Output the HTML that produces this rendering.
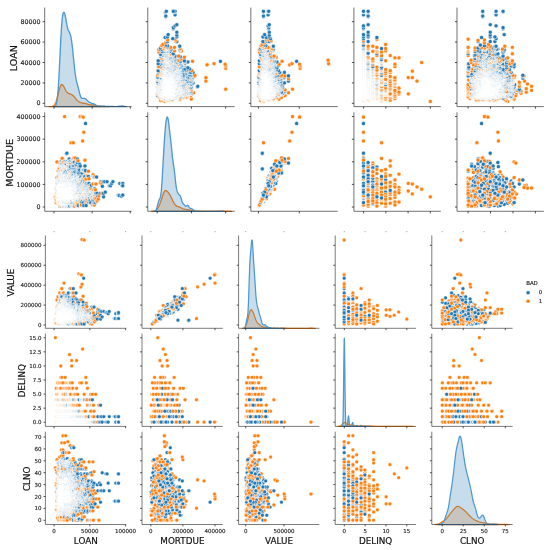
<!DOCTYPE html>
<html><head><meta charset="utf-8"><title>pairplot</title>
<style>
html,body{margin:0;padding:0;background:#fff;width:549px;height:550px;overflow:hidden}
#wrap{position:relative;width:549px;height:550px;filter:blur(0.3px)}
canvas,svg{position:absolute;left:0;top:0}
.sp{fill:none;stroke:#2a2a2a;stroke-width:0.62}
.tk{fill:none;stroke:#111;stroke-width:0.7}
text{font-family:"DejaVu Sans","Liberation Sans",sans-serif;fill:#111;stroke:#111;stroke-width:0.12px}
.yt{font-size:5.5px;text-anchor:end}
.xt{font-size:5.5px;text-anchor:middle}
.lb{font-size:8.8px;text-anchor:middle;stroke-width:0.18px}
.lg{font-size:5.45px}
.T .yt{font-size:5.95px}
.T .lb{font-size:8.95px}
.fw,.f0,.f1{fill:none;stroke-linecap:round}
.fw{stroke:#fff;stroke-width:3.9}
.f0{stroke:#1f77b4;stroke-width:2.6}
.f1{stroke:#ff7f0e;stroke-width:2.6}
</style></head><body><div id="wrap">
<svg width="549" height="550" viewBox="0 0 549 550">
<path d="M56 197h0M56 338h0M56 468h0M158 338h0M165 101h0M250 338h0M263 101h0M407 319h0M407 468h0M430 101h0M430 197h0M479 338h0M508 101h0M161 101h0M261 101h0M381 101h0M506 101h0M167 101h0M264 101h0M390 101h0M495 101h0M56 203h0M56 323h0M56 483h0M154 483h0M160 100h0M248 483h0M260 100h0M468 323h0M496 203h0M56 202h0M56 322h0M56 400h0M56 470h0M154 400h0M154 470h0M161 100h0M248 400h0M248 470h0M261 100h0M361 322h0M381 202h0M478 322h0M506 100h0M506 202h0M56 200h0M56 320h0M56 486h0M163 100h0M494 100h0M56 195h0M56 388h0M56 485h0M369 485h0M390 100h0M495 100h0M56 194h0M56 319h0M56 422h0M56 510h0M57 188h0M57 314h0M57 492h0M171 100h0M268 100h0M490 100h0M165 100h0M264 100h0M381 100h0M57 510h0M167 100h0M263 100h0M364 100h0M476 100h0M180 100h0M273 100h0M368 100h0M496 100h0M57 500h0M268 191h0M483 99h0M57 187h0M57 506h0M479 99h0M57 177h0M57 313h0M180 99h0M268 99h0M57 196h0M57 501h0M482 99h0M57 162h0M57 300h0M57 460h0M183 300h0M183 460h0M191 99h0M265 460h0M279 99h0M279 162h0M485 300h0M514 99h0M514 162h0M57 321h0M57 394h0M57 473h0M160 473h0M365 473h0M386 99h0M476 394h0M504 99h0M504 194h0M57 197h0M57 483h0M165 99h0M264 99h0M496 99h0M57 191h0M57 317h0M169 99h0" class="fw"/>
<path d="M57 191h0M57 317h0M169 99h0" class="f0"/>
<path d="M56 197h0M56 338h0M56 468h0M158 338h0M165 101h0M250 338h0M263 101h0M407 319h0M407 468h0M430 101h0M430 197h0M479 338h0M508 101h0M161 101h0M261 101h0M381 101h0M506 101h0M167 101h0M264 101h0M390 101h0M495 101h0M56 203h0M56 323h0M56 483h0M154 483h0M160 100h0M248 483h0M260 100h0M468 323h0M496 203h0M56 202h0M56 322h0M56 400h0M56 470h0M154 400h0M154 470h0M161 100h0M248 400h0M248 470h0M261 100h0M361 322h0M381 202h0M478 322h0M506 100h0M506 202h0M56 200h0M56 320h0M56 486h0M163 100h0M494 100h0M56 195h0M56 388h0M56 485h0M369 485h0M390 100h0M495 100h0M56 194h0M56 319h0M56 422h0M56 510h0M57 188h0M57 314h0M57 492h0M171 100h0M268 100h0M490 100h0M165 100h0M264 100h0M381 100h0M57 510h0M167 100h0M263 100h0M364 100h0M476 100h0M180 100h0M273 100h0M368 100h0M496 100h0M57 500h0M268 191h0M483 99h0M57 187h0M57 506h0M479 99h0M57 177h0M57 313h0M180 99h0M268 99h0M57 196h0M57 501h0M482 99h0M57 162h0M57 300h0M57 460h0M183 300h0M183 460h0M191 99h0M265 460h0M279 99h0M279 162h0M485 300h0M514 99h0M514 162h0M57 321h0M57 394h0M57 473h0M160 473h0M365 473h0M386 99h0M476 394h0M504 99h0M504 194h0M57 197h0M57 483h0M165 99h0M264 99h0M496 99h0" class="f1"/>
<path d="M57 202h0M57 322h0M57 496h0M161 99h0M261 99h0M486 99h0M57 307h0M57 400h0M57 488h0M273 99h0M381 99h0M492 99h0M57 194h0M57 199h0M57 320h0M57 518h0M156 518h0M163 99h0M249 518h0M262 99h0M444 320h0M470 99h0M470 199h0M57 319h0M57 422h0M57 463h0M250 463h0M263 99h0M364 99h0M483 319h0M511 99h0M57 312h0M57 489h0M172 99h0M269 99h0M491 99h0M57 318h0M57 417h0M57 481h0M167 99h0M265 99h0M368 99h0M498 99h0M58 481h0M498 98h0M58 307h0M58 383h0M58 488h0M260 383h0M260 488h0M274 98h0M373 488h0M395 98h0M465 383h0M492 98h0M490 98h0M162 506h0M267 98h0M479 98h0M479 191h0M58 196h0M166 98h0M58 186h0M173 98h0M373 98h0M58 183h0M175 98h0M58 201h0M58 479h0M162 98h0M500 98h0M172 98h0M491 98h0M177 98h0M271 98h0M58 388h0M58 493h0M369 320h0M369 493h0M390 98h0M462 388h0M489 98h0M58 189h0M58 474h0M171 98h0M503 98h0M58 199h0M58 498h0M157 322h0M261 98h0M485 98h0M58 177h0M172 313h0M172 496h0M180 98h0M268 98h0M268 177h0M486 98h0M486 177h0M58 394h0M386 98h0M475 98h0M158 463h0M264 98h0M511 98h0M511 197h0M58 462h0M162 462h0M169 98h0M357 462h0M377 98h0M483 405h0M512 98h0M512 191h0M487 98h0M58 197h0M58 469h0M165 98h0M361 469h0M381 98h0" class="fw"/>
<path d="M57 312h0M57 489h0M172 99h0M269 99h0M491 99h0M58 183h0M175 98h0M172 98h0M491 98h0M177 98h0M271 98h0M58 189h0M58 474h0M171 98h0M503 98h0M487 98h0" class="f0"/>
<path d="M57 202h0M57 322h0M57 496h0M161 99h0M261 99h0M486 99h0M57 307h0M57 400h0M57 488h0M273 99h0M381 99h0M492 99h0M57 194h0M57 199h0M57 320h0M57 518h0M156 518h0M163 99h0M249 518h0M262 99h0M444 320h0M470 99h0M470 199h0M57 319h0M57 422h0M57 463h0M250 463h0M263 99h0M364 99h0M483 319h0M511 99h0M57 318h0M57 417h0M57 481h0M167 99h0M265 99h0M368 99h0M498 99h0M58 481h0M498 98h0M58 307h0M58 383h0M58 488h0M260 383h0M260 488h0M274 98h0M373 488h0M395 98h0M465 383h0M492 98h0M490 98h0M162 506h0M267 98h0M479 98h0M479 191h0M58 196h0M166 98h0M58 186h0M173 98h0M373 98h0M58 201h0M58 479h0M162 98h0M500 98h0M58 388h0M58 493h0M369 320h0M369 493h0M390 98h0M462 388h0M489 98h0M58 199h0M58 498h0M157 322h0M261 98h0M485 98h0M58 177h0M172 313h0M172 496h0M180 98h0M268 98h0M268 177h0M486 98h0M486 177h0M58 394h0M386 98h0M475 98h0M158 463h0M264 98h0M511 98h0M511 197h0M58 462h0M162 462h0M169 98h0M357 462h0M377 98h0M483 405h0M512 98h0M512 191h0M58 197h0M58 469h0M165 98h0M361 469h0M381 98h0" class="f1"/>
<path d="M507 98h0M58 198h0M164 98h0M263 98h0M269 98h0M482 98h0M265 98h0M480 98h0M163 98h0M262 98h0M368 98h0M478 98h0M167 98h0M266 98h0M364 98h0M484 98h0M58 319h0M154 496h0M248 496h0M459 322h0M58 505h0M480 97h0M58 188h0M58 312h0M58 489h0M256 489h0M464 312h0M58 313h0M58 200h0M58 321h0M58 496h0M155 496h0M486 97h0M486 202h0M58 499h0M58 180h0M58 181h0M58 463h0M58 194h0M58 400h0M58 506h0M479 97h0M58 171h0M58 297h0M176 297h0M176 491h0M184 97h0M267 411h0M267 491h0M282 97h0M282 171h0M353 297h0M373 171h0M463 297h0M491 171h0M58 187h0M58 168h0M58 191h0M58 202h0M154 516h0M248 516h0M472 202h0M58 482h0M59 184h0M58 310h0M58 492h0M58 317h0M58 405h0M58 501h0M58 309h0M58 485h0M166 485h0M258 485h0M272 186h0M495 186h0M58 323h0M59 203h0M160 97h0M247 508h0M260 97h0M451 323h0M58 303h0M58 411h0M58 511h0M178 303h0M186 97h0M263 411h0M263 511h0M277 97h0M277 168h0M353 303h0M449 303h0M58 311h0M58 504h0M58 486h0M494 97h0M58 507h0M248 507h0M478 97h0M58 320h0M58 417h0M58 516h0M472 97h0M58 315h0M58 491h0M58 318h0M58 520h0M58 322h0M58 480h0M59 202h0M161 97h0M499 97h0M58 316h0M58 508h0M58 422h0M58 495h0M174 97h0M175 97h0M59 394h0M59 511h0" class="fw"/>
<path d="M58 198h0M164 98h0M263 98h0M269 98h0M482 98h0M167 98h0M266 98h0M364 98h0M484 98h0M58 319h0M58 188h0M58 312h0M58 489h0M256 489h0M464 312h0M58 313h0M58 499h0M58 180h0M58 181h0M58 463h0M58 187h0M58 191h0M58 311h0M58 320h0M58 315h0M58 491h0M58 322h0M58 480h0M59 202h0M161 97h0M499 97h0M58 316h0M58 508h0M58 422h0M58 495h0M174 97h0M175 97h0" class="f0"/>
<path d="M507 98h0M265 98h0M480 98h0M163 98h0M262 98h0M368 98h0M478 98h0M154 496h0M248 496h0M459 322h0M58 505h0M480 97h0M58 200h0M58 321h0M58 496h0M155 496h0M486 97h0M486 202h0M58 194h0M58 400h0M58 506h0M479 97h0M58 171h0M58 297h0M176 297h0M176 491h0M184 97h0M267 411h0M267 491h0M282 97h0M282 171h0M353 297h0M373 171h0M463 297h0M491 171h0M58 168h0M58 202h0M154 516h0M248 516h0M472 202h0M58 482h0M59 184h0M58 310h0M58 492h0M58 317h0M58 405h0M58 501h0M58 309h0M58 485h0M166 485h0M258 485h0M272 186h0M495 186h0M58 323h0M59 203h0M160 97h0M247 508h0M260 97h0M451 323h0M58 303h0M58 411h0M58 511h0M178 303h0M186 97h0M263 411h0M263 511h0M277 97h0M277 168h0M353 303h0M449 303h0M58 504h0M58 486h0M494 97h0M58 507h0M248 507h0M478 97h0M58 417h0M58 516h0M472 97h0M58 318h0M58 520h0M59 394h0M59 511h0" class="f1"/>
<path d="M157 511h0M365 511h0M386 97h0M449 394h0M475 97h0M475 198h0M507 97h0M484 97h0M59 173h0M59 305h0M175 305h0M183 97h0M275 97h0M275 173h0M169 485h0M259 485h0M495 181h0M59 182h0M169 512h0M176 97h0M257 512h0M368 182h0M448 310h0M474 97h0M474 182h0M159 464h0M510 97h0M510 196h0M268 97h0M269 97h0M172 482h0M497 177h0M169 97h0M377 97h0M495 97h0M490 97h0M165 97h0M163 97h0M481 97h0M481 199h0M172 97h0M166 97h0M265 97h0M483 97h0M259 501h0M273 97h0M456 307h0M249 383h0M262 97h0M373 320h0M373 520h0M395 97h0M442 383h0M497 97h0M59 308h0M59 400h0M59 470h0M381 97h0M506 97h0M59 479h0M171 97h0M267 97h0M368 97h0M500 97h0M59 198h0M164 97h0M263 97h0M173 97h0M270 97h0M487 97h0M167 97h0M266 97h0M477 97h0M59 201h0M59 520h0M155 520h0M162 97h0M248 520h0M261 97h0M442 322h0M468 97h0M468 201h0M177 97h0M271 97h0M511 97h0M168 97h0M264 97h0M373 97h0M482 97h0M178 97h0M274 97h0M59 177h0M180 97h0M272 97h0M364 97h0M491 97h0M59 180h0M59 179h0M178 96h0M260 491h0M274 96h0M59 464h0M166 464h0M482 312h0M510 96h0M59 183h0M59 195h0M493 195h0M164 483h0M496 189h0M59 187h0M59 193h0M59 383h0M251 463h0M373 318h0M373 463h0M395 96h0M395 193h0M483 383h0M511 193h0" class="fw"/>
<path d="M484 97h0M268 97h0M269 97h0M490 97h0M165 97h0M163 97h0M481 97h0M481 199h0M172 97h0M166 97h0M265 97h0M483 97h0M259 501h0M273 97h0M456 307h0M59 198h0M164 97h0M263 97h0M173 97h0M270 97h0M487 97h0M167 97h0M266 97h0M477 97h0M177 97h0M271 97h0M511 97h0M178 97h0M274 97h0M59 177h0M180 97h0M272 97h0M364 97h0M491 97h0M59 180h0M59 183h0M59 187h0" class="f0"/>
<path d="M157 511h0M365 511h0M386 97h0M449 394h0M475 97h0M475 198h0M507 97h0M59 173h0M59 305h0M175 305h0M183 97h0M275 97h0M275 173h0M169 485h0M259 485h0M495 181h0M59 182h0M169 512h0M176 97h0M257 512h0M368 182h0M448 310h0M474 97h0M474 182h0M159 464h0M510 97h0M510 196h0M172 482h0M497 177h0M169 97h0M377 97h0M495 97h0M249 383h0M262 97h0M373 320h0M373 520h0M395 97h0M442 383h0M497 97h0M59 308h0M59 400h0M59 470h0M381 97h0M506 97h0M59 479h0M171 97h0M267 97h0M368 97h0M500 97h0M59 201h0M59 520h0M155 520h0M162 97h0M248 520h0M261 97h0M442 322h0M468 97h0M468 201h0M168 97h0M264 97h0M373 97h0M482 97h0M59 179h0M178 96h0M260 491h0M274 96h0M59 464h0M166 464h0M482 312h0M510 96h0M59 195h0M493 195h0M164 483h0M496 189h0M59 193h0M59 383h0M251 463h0M373 318h0M373 463h0M395 96h0M395 193h0M483 383h0M511 193h0" class="f1"/>
<path d="M59 186h0M162 96h0M59 388h0M59 517h0M167 388h0M167 517h0M257 517h0M369 517h0M390 96h0M390 185h0M445 310h0M445 388h0M471 96h0M471 185h0M59 516h0M472 96h0M59 486h0M494 96h0M494 196h0M59 185h0M59 312h0M59 189h0M59 191h0M59 496h0M486 96h0M59 501h0M59 181h0M59 310h0M59 463h0M169 463h0M257 463h0M483 310h0M511 96h0M511 181h0M59 194h0M59 318h0M167 96h0M59 500h0M59 168h0M59 513h0M178 307h0M178 411h0M178 513h0M186 96h0M273 168h0M353 513h0M447 307h0M447 411h0M473 96h0M473 168h0M59 197h0M59 200h0M471 317h0M59 196h0M59 492h0M59 190h0M59 192h0M59 199h0M59 188h0M59 319h0M59 477h0M500 96h0M59 309h0M59 502h0M174 96h0M59 472h0M505 96h0M59 314h0M59 469h0M159 314h0M268 195h0M507 96h0M59 504h0M481 96h0M59 474h0M503 96h0M59 485h0M495 96h0M59 311h0M59 495h0M173 96h0M59 307h0M59 489h0M168 489h0M175 96h0M259 489h0M273 96h0M464 307h0M59 322h0M59 480h0M161 96h0M499 96h0M59 303h0M59 505h0M182 96h0M277 96h0M480 96h0M59 483h0M496 96h0M59 417h0M59 481h0M261 96h0M498 96h0M59 499h0M170 96h0M484 96h0M59 494h0M59 512h0M268 96h0M474 96h0M59 324h0M59 510h0M60 206h0M158 96h0M259 96h0M476 96h0M59 313h0M269 96h0M59 487h0M493 96h0" class="fw"/>
<path d="M59 186h0M162 96h0M59 189h0M59 501h0M59 181h0M59 310h0M59 463h0M169 463h0M257 463h0M483 310h0M511 96h0M511 181h0M59 194h0M59 318h0M167 96h0M59 500h0M59 200h0M59 196h0M59 492h0M59 190h0M59 192h0M59 199h0M59 188h0M59 319h0M59 477h0M500 96h0M59 309h0M59 314h0M59 469h0M159 314h0M268 195h0M507 96h0M59 504h0M481 96h0M59 474h0M503 96h0M59 485h0M495 96h0M59 311h0M59 495h0M173 96h0M59 322h0M59 480h0M161 96h0M499 96h0M59 303h0M59 505h0M182 96h0M277 96h0M480 96h0M59 483h0M496 96h0M59 499h0M170 96h0M484 96h0M59 494h0M59 324h0M59 510h0M60 206h0M158 96h0M259 96h0M476 96h0M59 487h0M493 96h0" class="f0"/>
<path d="M59 388h0M59 517h0M167 388h0M167 517h0M257 517h0M369 517h0M390 96h0M390 185h0M445 310h0M445 388h0M471 96h0M471 185h0M59 516h0M472 96h0M59 486h0M494 96h0M494 196h0M59 185h0M59 312h0M59 191h0M59 496h0M486 96h0M59 168h0M59 513h0M178 307h0M178 411h0M178 513h0M186 96h0M273 168h0M353 513h0M447 307h0M447 411h0M473 96h0M473 168h0M59 197h0M471 317h0M59 502h0M174 96h0M59 472h0M505 96h0M59 307h0M59 489h0M168 489h0M175 96h0M259 489h0M273 96h0M464 307h0M59 417h0M59 481h0M261 96h0M498 96h0M59 512h0M268 96h0M474 96h0M59 313h0M269 96h0" class="f1"/>
<path d="M59 323h0M59 488h0M160 96h0M260 96h0M492 96h0M59 317h0M59 491h0M168 96h0M265 96h0M59 300h0M59 507h0M60 166h0M180 507h0M188 96h0M265 507h0M279 96h0M451 300h0M478 96h0M478 166h0M59 320h0M59 498h0M165 96h0M485 96h0M59 315h0M59 405h0M59 482h0M169 96h0M267 96h0M377 96h0M377 191h0M497 191h0M59 321h0M59 411h0M59 506h0M479 96h0M59 316h0M59 422h0M59 508h0M477 96h0M487 96h0M156 482h0M163 96h0M263 96h0M497 96h0M497 200h0M275 96h0M483 96h0M166 96h0M264 96h0M482 96h0M164 96h0M262 96h0M368 96h0M491 96h0M177 96h0M271 96h0M373 96h0M172 96h0M270 96h0M490 96h0M171 96h0M266 96h0M364 96h0M488 96h0M492 95h0M171 516h0M259 516h0M348 307h0M446 307h0M472 179h0M480 185h0M60 181h0M60 481h0M498 95h0M60 163h0M60 293h0M60 457h0M182 293h0M182 411h0M182 457h0M191 95h0M270 411h0M270 457h0M285 95h0M285 163h0M353 293h0M353 457h0M373 163h0M487 293h0M487 411h0M516 95h0M516 163h0M255 512h0M448 313h0M485 201h0M60 173h0M60 304h0M175 501h0M262 411h0M262 501h0M276 95h0M353 304h0M373 173h0M456 304h0M164 513h0M361 513h0M447 400h0M473 188h0M60 174h0M277 95h0M60 182h0M168 505h0M453 307h0M480 182h0M60 516h0M472 95h0M472 192h0M60 520h0M468 95h0M471 313h0" class="fw"/>
<path d="M275 96h0M483 96h0M166 96h0M264 96h0M482 96h0M177 96h0M271 96h0M373 96h0M172 96h0M270 96h0M490 96h0M492 95h0M60 181h0M60 481h0M498 95h0M60 174h0M277 95h0M60 516h0M472 95h0M472 192h0" class="f0"/>
<path d="M59 323h0M59 488h0M160 96h0M260 96h0M492 96h0M59 317h0M59 491h0M168 96h0M265 96h0M59 300h0M59 507h0M60 166h0M180 507h0M188 96h0M265 507h0M279 96h0M451 300h0M478 96h0M478 166h0M59 320h0M59 498h0M165 96h0M485 96h0M59 315h0M59 405h0M59 482h0M169 96h0M267 96h0M377 96h0M377 191h0M497 191h0M59 321h0M59 411h0M59 506h0M479 96h0M59 316h0M59 422h0M59 508h0M477 96h0M487 96h0M156 482h0M163 96h0M263 96h0M497 96h0M497 200h0M164 96h0M262 96h0M368 96h0M491 96h0M171 96h0M266 96h0M364 96h0M488 96h0M171 516h0M259 516h0M348 307h0M446 307h0M472 179h0M480 185h0M60 163h0M60 293h0M60 457h0M182 293h0M182 411h0M182 457h0M191 95h0M270 411h0M270 457h0M285 95h0M285 163h0M353 293h0M353 457h0M373 163h0M487 293h0M487 411h0M516 95h0M516 163h0M255 512h0M448 313h0M485 201h0M60 173h0M60 304h0M175 501h0M262 411h0M262 501h0M276 95h0M353 304h0M373 173h0M456 304h0M164 513h0M361 513h0M447 400h0M473 188h0M60 182h0M168 505h0M453 307h0M480 182h0M60 520h0M468 95h0M471 313h0" class="f1"/>
<path d="M497 187h0M60 175h0M182 95h0M153 400h0M153 511h0M247 400h0M361 323h0M361 511h0M381 203h0M449 323h0M449 400h0M475 203h0M60 203h0M160 95h0M260 95h0M156 480h0M353 480h0M471 411h0M499 200h0M60 177h0M60 307h0M60 475h0M172 475h0M502 95h0M502 177h0M60 470h0M259 470h0M361 470h0M478 400h0M506 95h0M60 180h0M170 411h0M373 180h0M490 180h0M271 95h0M60 205h0M60 324h0M152 494h0M159 95h0M259 95h0M488 205h0M60 171h0M60 472h0M255 472h0M477 313h0M505 95h0M164 474h0M475 313h0M503 95h0M503 189h0M179 95h0M489 179h0M60 186h0M60 185h0M60 200h0M386 200h0M60 514h0M163 95h0M251 388h0M369 477h0M390 199h0M472 388h0M497 95h0M60 477h0M159 477h0M500 95h0M60 188h0M499 95h0M60 193h0M390 192h0M60 202h0M60 322h0M155 489h0M161 95h0M368 202h0M491 202h0M60 463h0M511 95h0M60 199h0M479 95h0M60 189h0M60 400h0M381 95h0M60 183h0M60 310h0M60 187h0M60 462h0M512 95h0M60 198h0M60 469h0M507 95h0M476 191h0M489 95h0M60 194h0M60 179h0M171 405h0M171 494h0M178 95h0M377 95h0M377 179h0M488 179h0M60 190h0M487 95h0M477 95h0M60 195h0M60 201h0M155 507h0M162 95h0M262 95h0M478 201h0M60 184h0M175 95h0M60 196h0M483 95h0M60 191h0M495 95h0M60 197h0M60 192h0M60 483h0M168 95h0" class="fw"/>
<path d="M497 187h0M60 175h0M182 95h0M60 180h0M170 411h0M373 180h0M490 180h0M271 95h0M60 171h0M164 474h0M475 313h0M503 95h0M503 189h0M60 186h0M60 185h0M60 514h0M497 95h0M60 477h0M159 477h0M500 95h0M60 188h0M499 95h0M60 193h0M60 463h0M511 95h0M60 199h0M479 95h0M60 189h0M60 400h0M381 95h0M60 183h0M60 310h0M60 187h0M60 462h0M512 95h0M60 198h0M60 469h0M507 95h0M489 95h0M60 194h0M60 190h0M487 95h0M477 95h0M60 184h0M175 95h0M60 196h0M483 95h0M60 191h0M495 95h0M60 197h0M60 192h0M60 483h0M168 95h0" class="f0"/>
<path d="M153 400h0M153 511h0M247 400h0M361 323h0M361 511h0M381 203h0M449 323h0M449 400h0M475 203h0M60 203h0M160 95h0M260 95h0M156 480h0M353 480h0M471 411h0M499 200h0M60 177h0M60 307h0M60 475h0M172 475h0M502 95h0M502 177h0M60 470h0M259 470h0M361 470h0M478 400h0M506 95h0M60 205h0M60 324h0M152 494h0M159 95h0M259 95h0M488 205h0M60 472h0M255 472h0M477 313h0M505 95h0M179 95h0M489 179h0M60 200h0M386 200h0M163 95h0M251 388h0M369 477h0M390 199h0M472 388h0M390 192h0M60 202h0M60 322h0M155 489h0M161 95h0M368 202h0M491 202h0M476 191h0M60 179h0M171 405h0M171 494h0M178 95h0M377 95h0M377 179h0M488 179h0M60 195h0M60 201h0M155 507h0M162 95h0M262 95h0M478 201h0" class="f1"/>
<path d="M496 95h0M473 95h0M60 394h0M264 95h0M365 505h0M386 95h0M453 394h0M480 95h0M173 95h0M170 95h0M491 95h0M481 95h0M172 95h0M476 95h0M268 95h0M60 308h0M60 511h0M177 95h0M273 95h0M475 95h0M60 486h0M494 95h0M169 95h0M265 95h0M504 95h0M167 95h0M183 95h0M486 95h0M166 95h0M266 95h0M488 95h0M172 498h0M180 95h0M261 411h0M274 95h0M373 95h0M458 306h0M485 95h0M485 177h0M176 95h0M165 95h0M493 95h0M184 95h0M279 95h0M490 95h0M269 95h0M171 95h0M267 95h0M164 95h0M263 95h0M364 95h0M478 95h0M60 311h0M270 95h0M368 95h0M484 95h0M60 383h0M60 512h0M167 383h0M167 512h0M174 95h0M258 512h0M272 95h0M395 95h0M395 185h0M448 309h0M474 95h0M474 185h0M60 388h0M249 388h0M261 95h0M369 321h0M369 501h0M390 95h0M456 388h0M482 95h0M60 473h0M60 510h0M60 488h0M60 312h0M60 474h0M60 314h0M165 508h0M60 494h0M161 494h0M60 500h0M60 495h0M60 306h0M60 513h0M172 513h0M260 513h0M447 306h0M473 177h0M60 301h0M180 502h0M264 502h0M278 165h0M364 165h0M455 301h0M482 165h0M60 405h0M60 496h0M60 296h0M60 498h0M60 317h0M60 508h0M60 504h0M60 507h0M60 319h0M60 502h0M60 323h0M60 493h0M60 485h0M60 479h0M250 479h0M60 501h0M60 320h0M60 506h0M479 199h0M60 480h0" class="fw"/>
<path d="M496 95h0M473 95h0M173 95h0M170 95h0M491 95h0M481 95h0M172 95h0M476 95h0M268 95h0M60 308h0M60 511h0M177 95h0M273 95h0M475 95h0M60 486h0M494 95h0M167 95h0M183 95h0M486 95h0M166 95h0M266 95h0M488 95h0M184 95h0M279 95h0M490 95h0M269 95h0M164 95h0M263 95h0M364 95h0M478 95h0M60 311h0M270 95h0M368 95h0M484 95h0M60 510h0M60 488h0M60 312h0M60 474h0M60 314h0M165 508h0M60 494h0M161 494h0M60 500h0M60 498h0M60 317h0M60 508h0M60 504h0M60 319h0M60 485h0M60 501h0M60 320h0M60 506h0M479 199h0M60 480h0" class="f0"/>
<path d="M60 394h0M264 95h0M365 505h0M386 95h0M453 394h0M480 95h0M169 95h0M265 95h0M504 95h0M172 498h0M180 95h0M261 411h0M274 95h0M373 95h0M458 306h0M485 95h0M485 177h0M176 95h0M165 95h0M493 95h0M171 95h0M267 95h0M60 383h0M60 512h0M167 383h0M167 512h0M174 95h0M258 512h0M272 95h0M395 95h0M395 185h0M448 309h0M474 95h0M474 185h0M60 388h0M249 388h0M261 95h0M369 321h0M369 501h0M390 95h0M456 388h0M482 95h0M60 473h0M60 495h0M60 306h0M60 513h0M172 513h0M260 513h0M447 306h0M473 177h0M60 301h0M180 502h0M264 502h0M278 165h0M364 165h0M455 301h0M482 165h0M60 405h0M60 496h0M60 296h0M60 507h0M60 502h0M60 323h0M60 493h0M60 479h0M250 479h0" class="f1"/>
<path d="M60 313h0M60 411h0M60 417h0M60 315h0M60 499h0M60 305h0M60 482h0M61 176h0M181 94h0M60 300h0M60 492h0M184 94h0M279 94h0M60 321h0M60 487h0M60 303h0M60 309h0M60 489h0M60 316h0M60 491h0M60 318h0M60 422h0M60 505h0M497 94h0M469 94h0M169 481h0M498 94h0M498 181h0M174 505h0M263 505h0M277 94h0M277 174h0M453 303h0M480 174h0M163 499h0M484 190h0M503 94h0M348 473h0M476 417h0M504 94h0M61 366h0M162 366h0M253 366h0M386 315h0M386 504h0M408 94h0M408 191h0M454 366h0M61 165h0M180 296h0M180 411h0M180 506h0M189 94h0M268 411h0M268 506h0M282 165h0M353 296h0M373 165h0M452 296h0M479 165h0M151 510h0M246 510h0M450 324h0M476 206h0M61 202h0M161 94h0M164 94h0M474 94h0M183 94h0M159 94h0M489 204h0M61 175h0M61 180h0M170 305h0M170 500h0M177 94h0M275 180h0M483 180h0M493 199h0M483 195h0M493 94h0M361 516h0M381 94h0M272 94h0M61 183h0M168 499h0M270 183h0M484 183h0M61 166h0M61 301h0M180 301h0M180 501h0M188 94h0M264 501h0M278 94h0M456 301h0M482 166h0M180 94h0M61 206h0M158 94h0M246 520h0M259 94h0M468 206h0M472 319h0M479 94h0M160 388h0M369 316h0M480 94h0M175 94h0M262 94h0M166 513h0M473 94h0M495 94h0M508 94h0M173 94h0M61 174h0M182 94h0M274 94h0M164 520h0M254 520h0" class="fw"/>
<path d="M60 305h0M60 482h0M61 176h0M181 94h0M60 300h0M60 492h0M184 94h0M279 94h0M60 321h0M60 487h0M60 303h0M60 309h0M60 489h0M60 316h0M60 491h0M60 318h0M60 422h0M60 505h0M497 94h0M169 481h0M498 94h0M498 181h0M174 505h0M263 505h0M277 94h0M277 174h0M453 303h0M480 174h0M503 94h0M151 510h0M246 510h0M450 324h0M476 206h0M164 94h0M183 94h0M61 175h0M61 180h0M170 305h0M170 500h0M177 94h0M275 180h0M483 180h0M493 199h0M272 94h0M180 94h0M472 319h0M175 94h0M262 94h0M166 513h0M473 94h0M495 94h0M508 94h0M173 94h0" class="f0"/>
<path d="M60 313h0M60 411h0M60 417h0M60 315h0M60 499h0M469 94h0M163 499h0M484 190h0M348 473h0M476 417h0M504 94h0M61 366h0M162 366h0M253 366h0M386 315h0M386 504h0M408 94h0M408 191h0M454 366h0M61 165h0M180 296h0M180 411h0M180 506h0M189 94h0M268 411h0M268 506h0M282 165h0M353 296h0M373 165h0M452 296h0M479 165h0M61 202h0M161 94h0M474 94h0M159 94h0M489 204h0M483 195h0M493 94h0M361 516h0M381 94h0M61 183h0M168 499h0M270 183h0M484 183h0M61 166h0M61 301h0M180 301h0M180 501h0M188 94h0M264 501h0M278 94h0M456 301h0M482 166h0M61 206h0M158 94h0M246 520h0M259 94h0M468 206h0M479 94h0M160 388h0M369 316h0M480 94h0M61 174h0M182 94h0M274 94h0M164 520h0M254 520h0" class="f1"/>
<path d="M442 314h0M468 94h0M468 188h0M61 377h0M165 377h0M257 377h0M378 311h0M378 496h0M399 94h0M399 188h0M459 377h0M471 314h0M270 94h0M492 94h0M512 94h0M489 94h0M490 94h0M163 480h0M499 190h0M61 388h0M61 516h0M253 516h0M267 94h0M369 516h0M390 94h0M446 388h0M472 94h0M162 94h0M373 94h0M476 94h0M170 94h0M481 94h0M61 185h0M174 94h0M271 94h0M499 94h0M386 94h0M61 164h0M190 94h0M281 94h0M478 94h0M263 94h0M483 94h0M273 94h0M61 161h0M192 94h0M282 94h0M187 94h0M275 94h0M377 94h0M171 94h0M269 94h0M511 94h0M61 195h0M167 94h0M477 94h0M169 94h0M368 94h0M496 94h0M172 94h0M268 94h0M484 94h0M500 94h0M163 94h0M261 94h0M488 94h0M61 182h0M176 94h0M485 94h0M165 94h0M264 94h0M491 94h0M494 94h0M168 94h0M266 94h0M487 94h0M61 204h0M153 496h0M160 94h0M247 496h0M260 94h0M459 323h0M486 94h0M486 204h0M166 94h0M265 94h0M364 94h0M482 94h0M466 311h0M61 177h0M251 511h0M357 511h0M449 319h0M449 405h0M61 184h0M167 488h0M492 184h0M61 188h0M61 479h0M166 479h0M61 519h0M164 519h0M255 519h0M443 313h0M469 93h0M469 189h0M61 181h0M61 511h0M475 93h0M61 201h0M61 322h0M155 510h0M450 322h0M476 201h0M61 199h0M61 171h0M61 194h0M61 167h0M61 173h0M61 189h0" class="fw"/>
<path d="M471 314h0M270 94h0M492 94h0M512 94h0M489 94h0M490 94h0M163 480h0M499 190h0M170 94h0M481 94h0M61 185h0M174 94h0M271 94h0M499 94h0M61 164h0M190 94h0M281 94h0M478 94h0M263 94h0M483 94h0M61 161h0M192 94h0M282 94h0M187 94h0M275 94h0M377 94h0M171 94h0M269 94h0M61 195h0M167 94h0M477 94h0M169 94h0M368 94h0M496 94h0M172 94h0M268 94h0M484 94h0M500 94h0M163 94h0M261 94h0M488 94h0M61 182h0M176 94h0M485 94h0M165 94h0M264 94h0M491 94h0M494 94h0M168 94h0M266 94h0M487 94h0M166 94h0M265 94h0M364 94h0M482 94h0M61 177h0M61 184h0M167 488h0M492 184h0M61 188h0M61 479h0M166 479h0M61 181h0M61 511h0M475 93h0M61 199h0M61 167h0M61 173h0M61 189h0" class="f0"/>
<path d="M442 314h0M468 94h0M468 188h0M61 377h0M165 377h0M257 377h0M378 311h0M378 496h0M399 94h0M399 188h0M459 377h0M61 388h0M61 516h0M253 516h0M267 94h0M369 516h0M390 94h0M446 388h0M472 94h0M162 94h0M373 94h0M476 94h0M386 94h0M273 94h0M511 94h0M61 204h0M153 496h0M160 94h0M247 496h0M260 94h0M459 323h0M486 94h0M486 204h0M466 311h0M251 511h0M357 511h0M449 319h0M449 405h0M61 519h0M164 519h0M255 519h0M443 313h0M469 93h0M469 189h0M61 201h0M61 322h0M155 510h0M450 322h0M476 201h0M61 171h0M61 194h0" class="f1"/>
<path d="M61 193h0M61 190h0M61 191h0M463 307h0M61 197h0M61 200h0M61 196h0M61 198h0M61 192h0M61 187h0M61 186h0M166 500h0M61 203h0M61 508h0M61 308h0M181 93h0M61 462h0M512 93h0M159 513h0M447 319h0M62 201h0M61 324h0M61 296h0M61 498h0M62 161h0M184 498h0M192 93h0M268 498h0M282 93h0M282 161h0M458 296h0M485 93h0M485 161h0M494 186h0M61 487h0M61 475h0M502 93h0M160 477h0M61 450h0M521 93h0M61 510h0M450 316h0M476 93h0M61 472h0M61 303h0M61 513h0M62 169h0M177 303h0M177 394h0M177 513h0M186 93h0M263 394h0M263 513h0M277 93h0M277 169h0M365 303h0M365 513h0M386 169h0M447 303h0M447 394h0M473 169h0M61 514h0M473 93h0M61 323h0M61 473h0M61 512h0M61 298h0M61 405h0M175 298h0M175 405h0M266 405h0M357 298h0M357 494h0M377 173h0M461 405h0M61 297h0M190 93h0M281 93h0M61 312h0M497 188h0M61 506h0M61 305h0M61 504h0M61 500h0M483 93h0M61 507h0M61 480h0M61 411h0M61 520h0M62 178h0M179 93h0M468 93h0M61 321h0M61 481h0M498 200h0M61 491h0M61 288h0M61 400h0M61 505h0M61 501h0M61 456h0M251 456h0M488 318h0M517 93h0M61 485h0M495 93h0M61 469h0M61 517h0M161 517h0M252 517h0M445 317h0M471 93h0M471 193h0M61 309h0M62 179h0M178 93h0M61 493h0M61 494h0M61 310h0M61 499h0" class="fw"/>
<path d="M61 193h0M61 190h0M61 191h0M61 197h0M61 200h0M61 196h0M61 192h0M61 187h0M61 203h0M61 508h0M61 462h0M512 93h0M159 513h0M447 319h0M62 201h0M61 296h0M61 498h0M62 161h0M184 498h0M192 93h0M268 498h0M282 93h0M282 161h0M458 296h0M485 93h0M485 161h0M61 510h0M450 316h0M476 93h0M61 514h0M473 93h0M61 323h0M61 473h0M61 297h0M190 93h0M281 93h0M61 312h0M497 188h0M61 507h0M61 480h0M61 491h0M61 485h0M495 93h0M61 469h0M61 493h0M61 310h0M61 499h0" class="f0"/>
<path d="M463 307h0M61 198h0M61 186h0M166 500h0M61 308h0M181 93h0M61 324h0M494 186h0M61 487h0M61 475h0M502 93h0M160 477h0M61 450h0M521 93h0M61 472h0M61 303h0M61 513h0M62 169h0M177 303h0M177 394h0M177 513h0M186 93h0M263 394h0M263 513h0M277 93h0M277 169h0M365 303h0M365 513h0M386 169h0M447 303h0M447 394h0M473 169h0M61 512h0M61 298h0M61 405h0M175 298h0M175 405h0M266 405h0M357 298h0M357 494h0M377 173h0M461 405h0M61 506h0M61 305h0M61 504h0M61 500h0M483 93h0M61 411h0M61 520h0M62 178h0M179 93h0M468 93h0M61 321h0M61 481h0M498 200h0M61 288h0M61 400h0M61 505h0M61 501h0M61 456h0M251 456h0M488 318h0M517 93h0M61 517h0M161 517h0M252 517h0M445 317h0M471 93h0M471 193h0M61 309h0M62 179h0M178 93h0M61 494h0" class="f1"/>
<path d="M271 93h0M61 311h0M61 502h0M175 93h0M61 315h0M61 489h0M61 307h0M61 314h0M61 483h0M61 463h0M511 93h0M61 394h0M61 492h0M386 93h0M61 488h0M61 474h0M503 93h0M61 482h0M61 496h0M61 316h0M61 467h0M508 93h0M61 317h0M61 319h0M61 417h0M61 306h0M187 93h0M61 313h0M61 495h0M269 93h0M487 184h0M61 320h0M61 486h0M494 93h0M61 318h0M61 422h0M61 477h0M500 93h0M488 93h0M168 93h0M504 93h0M176 93h0M158 383h0M250 383h0M373 506h0M395 93h0M395 197h0M452 383h0M479 93h0M182 93h0M153 405h0M153 489h0M247 405h0M357 489h0M377 93h0M464 405h0M261 93h0M255 487h0M466 313h0M493 93h0M486 93h0M156 502h0M163 93h0M174 93h0M478 93h0M252 512h0M353 512h0M448 316h0M448 411h0M474 93h0M489 93h0M161 93h0M263 202h0M480 202h0M272 93h0M496 93h0M496 198h0M499 93h0M507 93h0M167 93h0M497 93h0M164 501h0M166 93h0M264 93h0M172 93h0M62 171h0M177 504h0M185 93h0M275 93h0M275 171h0M481 171h0M490 93h0M160 93h0M260 93h0M165 93h0M492 93h0M62 159h0M62 288h0M185 288h0M185 400h0M185 505h0M194 93h0M274 400h0M274 505h0M288 93h0M288 159h0M361 288h0M381 93h0M381 159h0M453 288h0M480 93h0M480 159h0M159 93h0M259 93h0M484 93h0M155 504h0M162 93h0M454 321h0M164 93h0M262 93h0" class="fw"/>
<path d="M271 93h0M61 311h0M61 502h0M175 93h0M61 315h0M61 489h0M61 307h0M61 314h0M61 483h0M61 463h0M511 93h0M61 488h0M61 482h0M61 496h0M61 316h0M61 467h0M508 93h0M61 317h0M61 306h0M187 93h0M61 313h0M61 495h0M269 93h0M487 184h0M61 320h0M61 486h0M494 93h0M61 318h0M61 422h0M61 477h0M500 93h0M488 93h0M168 93h0M504 93h0M176 93h0M182 93h0M261 93h0M486 93h0M174 93h0M478 93h0M489 93h0M272 93h0M499 93h0M507 93h0M166 93h0M264 93h0M172 93h0M160 93h0M260 93h0M164 93h0M262 93h0" class="f0"/>
<path d="M61 394h0M61 492h0M386 93h0M61 474h0M503 93h0M61 319h0M61 417h0M158 383h0M250 383h0M373 506h0M395 93h0M395 197h0M452 383h0M479 93h0M153 405h0M153 489h0M247 405h0M357 489h0M377 93h0M464 405h0M255 487h0M466 313h0M493 93h0M156 502h0M163 93h0M252 512h0M353 512h0M448 316h0M448 411h0M474 93h0M161 93h0M263 202h0M480 202h0M496 93h0M496 198h0M167 93h0M497 93h0M164 501h0M62 171h0M177 504h0M185 93h0M275 93h0M275 171h0M481 171h0M490 93h0M165 93h0M492 93h0M62 159h0M62 288h0M185 288h0M185 400h0M185 505h0M194 93h0M274 400h0M274 505h0M288 93h0M288 159h0M361 288h0M381 93h0M381 159h0M453 288h0M480 93h0M480 159h0M159 93h0M259 93h0M484 93h0M155 504h0M162 93h0M454 321h0" class="f1"/>
<path d="M171 93h0M268 93h0M481 93h0M62 173h0M183 93h0M274 93h0M263 93h0M487 93h0M162 491h0M169 93h0M180 93h0M273 93h0M498 93h0M170 311h0M177 93h0M270 93h0M270 180h0M482 93h0M165 472h0M173 93h0M254 472h0M267 93h0M348 472h0M368 93h0M477 314h0M477 417h0M505 93h0M505 187h0M265 93h0M364 93h0M491 93h0M163 508h0M170 93h0M266 93h0M353 508h0M373 93h0M477 93h0M477 190h0M62 204h0M477 197h0M495 191h0M373 194h0M353 475h0M474 411h0M502 190h0M251 508h0M253 467h0M480 316h0M508 192h0M502 92h0M365 500h0M457 394h0M62 472h0M156 472h0M248 472h0M477 321h0M505 92h0M505 200h0M508 92h0M62 164h0M62 297h0M182 297h0M182 507h0M190 92h0M267 507h0M281 92h0M281 164h0M451 297h0M478 164h0M163 394h0M253 394h0M253 479h0M365 315h0M365 479h0M386 190h0M472 394h0M62 175h0M62 383h0M252 383h0M373 317h0M373 489h0M395 92h0M464 383h0M62 180h0M157 514h0M473 198h0M62 200h0M62 182h0M168 488h0M492 182h0M62 188h0M62 443h0M164 443h0M256 443h0M344 443h0M497 311h0M497 422h0M526 92h0M526 188h0M62 196h0M62 199h0M62 184h0M62 191h0M62 187h0M62 513h0M62 190h0M62 183h0M168 491h0M176 92h0M491 183h0M62 205h0M259 92h0M62 181h0M62 511h0M170 511h0M177 92h0M259 511h0M449 308h0M475 92h0M475 181h0" class="fw"/>
<path d="M171 93h0M268 93h0M481 93h0M62 173h0M183 93h0M274 93h0M180 93h0M273 93h0M498 93h0M265 93h0M364 93h0M491 93h0M62 204h0M495 191h0M373 194h0M251 508h0M253 467h0M480 316h0M508 192h0M62 472h0M156 472h0M248 472h0M477 321h0M505 92h0M505 200h0M508 92h0M62 164h0M62 297h0M182 297h0M182 507h0M190 92h0M267 507h0M281 92h0M281 164h0M451 297h0M478 164h0M62 175h0M62 180h0M157 514h0M473 198h0M62 200h0M62 182h0M168 488h0M492 182h0M62 196h0M62 199h0M62 184h0M62 191h0M62 187h0M62 513h0M62 181h0M62 511h0M170 511h0M177 92h0M259 511h0M449 308h0M475 92h0M475 181h0" class="f0"/>
<path d="M263 93h0M487 93h0M162 491h0M169 93h0M170 311h0M177 93h0M270 93h0M270 180h0M482 93h0M165 472h0M173 93h0M254 472h0M267 93h0M348 472h0M368 93h0M477 314h0M477 417h0M505 93h0M505 187h0M163 508h0M170 93h0M266 93h0M353 508h0M373 93h0M477 93h0M477 190h0M477 197h0M353 475h0M474 411h0M502 190h0M502 92h0M365 500h0M457 394h0M163 394h0M253 394h0M253 479h0M365 315h0M365 479h0M386 190h0M472 394h0M62 383h0M252 383h0M373 317h0M373 489h0M395 92h0M464 383h0M62 188h0M62 443h0M164 443h0M256 443h0M344 443h0M497 311h0M497 422h0M526 92h0M526 188h0M62 190h0M62 183h0M168 491h0M176 92h0M491 183h0M62 205h0M259 92h0" class="f1"/>
<path d="M154 487h0M248 487h0M357 322h0M357 487h0M377 202h0M466 322h0M466 405h0M493 202h0M62 185h0M62 174h0M174 377h0M174 488h0M182 92h0M261 377h0M261 488h0M378 306h0M378 488h0M399 174h0M465 306h0M465 377h0M492 174h0M62 203h0M247 489h0M464 323h0M62 202h0M154 480h0M161 92h0M248 480h0M471 322h0M499 202h0M62 197h0M62 192h0M62 189h0M62 167h0M179 405h0M179 498h0M261 498h0M377 167h0M458 305h0M485 167h0M62 198h0M62 186h0M62 193h0M62 194h0M62 195h0M481 195h0M62 177h0M62 307h0M172 481h0M259 481h0M273 92h0M470 307h0M498 92h0M498 177h0M62 176h0M275 92h0M62 377h0M399 92h0M476 92h0M62 463h0M511 92h0M179 92h0M248 494h0M277 92h0M62 512h0M474 92h0M62 310h0M490 187h0M172 501h0M180 92h0M258 501h0M456 309h0M482 177h0M153 493h0M489 203h0M155 319h0M263 201h0M271 92h0M178 92h0M458 312h0M485 180h0M62 324h0M62 485h0M159 92h0M495 92h0M62 514h0M159 514h0M473 92h0M187 92h0M62 405h0M377 92h0M62 301h0M185 92h0M278 92h0M492 92h0M250 476h0M365 476h0M473 394h0M501 92h0M501 197h0M165 92h0M477 186h0M175 496h0M183 92h0M274 92h0M486 173h0M272 92h0M479 92h0M162 400h0M381 92h0M381 191h0M468 92h0M62 477h0M154 477h0M162 92h0M503 92h0M62 479h0M500 92h0M261 92h0M165 498h0" class="fw"/>
<path d="M62 185h0M62 203h0M247 489h0M464 323h0M62 197h0M62 192h0M62 189h0M62 167h0M179 405h0M179 498h0M261 498h0M377 167h0M458 305h0M485 167h0M62 198h0M62 186h0M62 193h0M62 195h0M481 195h0M62 177h0M62 307h0M172 481h0M259 481h0M273 92h0M470 307h0M498 92h0M498 177h0M62 176h0M275 92h0M62 463h0M511 92h0M179 92h0M248 494h0M277 92h0M62 512h0M474 92h0M62 310h0M490 187h0M155 319h0M263 201h0M271 92h0M62 324h0M62 485h0M159 92h0M495 92h0M62 514h0M159 514h0M473 92h0M187 92h0M62 301h0M185 92h0M278 92h0M492 92h0M175 496h0M183 92h0M274 92h0M486 173h0M272 92h0M479 92h0M62 479h0M500 92h0M261 92h0M165 498h0" class="f0"/>
<path d="M154 487h0M248 487h0M357 322h0M357 487h0M377 202h0M466 322h0M466 405h0M493 202h0M62 174h0M174 377h0M174 488h0M182 92h0M261 377h0M261 488h0M378 306h0M378 488h0M399 174h0M465 306h0M465 377h0M492 174h0M62 202h0M154 480h0M161 92h0M248 480h0M471 322h0M499 202h0M62 194h0M62 377h0M399 92h0M476 92h0M172 501h0M180 92h0M258 501h0M456 309h0M482 177h0M153 493h0M489 203h0M178 92h0M458 312h0M485 180h0M62 405h0M377 92h0M250 476h0M365 476h0M473 394h0M501 92h0M501 197h0M165 92h0M477 186h0M162 400h0M381 92h0M381 191h0M468 92h0M62 477h0M154 477h0M162 92h0M503 92h0" class="f1"/>
<path d="M485 187h0M160 92h0M260 92h0M169 92h0M62 466h0M167 466h0M509 92h0M509 184h0M485 92h0M489 92h0M507 92h0M368 92h0M497 92h0M167 486h0M494 92h0M494 184h0M480 92h0M163 92h0M264 92h0M63 166h0M188 92h0M484 92h0M256 487h0M466 312h0M262 92h0M164 92h0M487 92h0M62 312h0M164 500h0M256 500h0M269 92h0M483 92h0M62 480h0M499 92h0M62 462h0M165 462h0M172 92h0M512 92h0M512 187h0M62 473h0M170 92h0M504 92h0M171 92h0M481 92h0M181 92h0M276 92h0M493 92h0M493 176h0M62 489h0M166 92h0M373 92h0M491 92h0M176 300h0M184 92h0M279 92h0M279 171h0M490 92h0M490 171h0M174 92h0M496 92h0M267 92h0M263 92h0M478 92h0M266 92h0M482 92h0M168 92h0M173 92h0M488 92h0M62 452h0M268 92h0M519 92h0M175 92h0M270 92h0M364 92h0M486 92h0M62 508h0M167 92h0M265 92h0M365 508h0M386 92h0M451 394h0M477 92h0M62 495h0M154 495h0M460 322h0M487 202h0M62 481h0M498 91h0M62 311h0M62 475h0M168 475h0M257 475h0M474 311h0M502 182h0M62 394h0M159 394h0M365 319h0M365 496h0M459 394h0M62 309h0M62 510h0M168 400h0M168 510h0M258 510h0M361 510h0M450 309h0M450 400h0M476 182h0M63 182h0M62 467h0M348 467h0M480 320h0M480 417h0M62 520h0M171 520h0M468 178h0M62 507h0M62 400h0M62 476h0M160 476h0" class="fw"/>
<path d="M485 187h0M160 92h0M260 92h0M169 92h0M62 466h0M167 466h0M509 92h0M509 184h0M489 92h0M507 92h0M368 92h0M167 486h0M494 92h0M494 184h0M480 92h0M163 92h0M264 92h0M63 166h0M188 92h0M484 92h0M256 487h0M466 312h0M262 92h0M164 92h0M487 92h0M62 312h0M164 500h0M256 500h0M269 92h0M483 92h0M62 462h0M165 462h0M172 92h0M512 92h0M512 187h0M171 92h0M481 92h0M62 489h0M166 92h0M373 92h0M491 92h0M176 300h0M184 92h0M279 92h0M279 171h0M490 92h0M490 171h0M174 92h0M496 92h0M267 92h0M263 92h0M478 92h0M266 92h0M482 92h0M168 92h0M173 92h0M488 92h0M62 452h0M268 92h0M519 92h0M175 92h0M270 92h0M364 92h0M486 92h0M63 182h0M62 400h0M62 476h0M160 476h0" class="f0"/>
<path d="M485 92h0M497 92h0M62 480h0M499 92h0M62 473h0M170 92h0M504 92h0M181 92h0M276 92h0M493 92h0M493 176h0M62 508h0M167 92h0M265 92h0M365 508h0M386 92h0M451 394h0M477 92h0M62 495h0M154 495h0M460 322h0M487 202h0M62 481h0M498 91h0M62 311h0M62 475h0M168 475h0M257 475h0M474 311h0M502 182h0M62 394h0M159 394h0M365 319h0M365 496h0M459 394h0M62 309h0M62 510h0M168 400h0M168 510h0M258 510h0M361 510h0M450 309h0M450 400h0M476 182h0M62 467h0M348 467h0M480 320h0M480 417h0M62 520h0M171 520h0M468 178h0M62 507h0" class="f1"/>
<path d="M501 194h0M62 323h0M62 468h0M153 468h0M247 468h0M479 323h0M508 91h0M508 203h0M62 501h0M62 305h0M62 482h0M62 293h0M63 162h0M62 308h0M62 317h0M62 505h0M62 318h0M62 498h0M62 306h0M62 411h0M62 474h0M63 183h0M168 411h0M168 474h0M260 474h0M274 183h0M353 306h0M373 183h0M475 306h0M503 183h0M62 486h0M62 300h0M62 492h0M62 469h0M157 469h0M478 320h0M507 198h0M62 504h0M62 322h0M62 488h0M62 320h0M62 304h0M62 496h0M62 491h0M62 321h0M156 483h0M249 483h0M468 321h0M496 200h0M62 303h0M62 483h0M277 91h0M62 417h0M62 494h0M62 319h0M62 499h0M62 313h0M62 502h0M455 314h0M62 314h0M62 506h0M62 315h0M62 493h0M62 422h0M62 500h0M62 316h0M62 487h0M63 469h0M158 469h0M250 469h0M348 469h0M478 319h0M478 417h0M507 91h0M507 197h0M158 488h0M361 506h0M452 317h0M452 400h0M63 203h0M160 480h0M386 194h0M499 194h0M163 475h0M256 498h0M458 311h0M165 513h0M473 187h0M63 171h0M184 91h0M276 91h0M478 91h0M157 463h0M249 463h0M348 463h0M511 198h0M63 176h0M181 91h0M63 186h0M63 177h0M180 91h0M259 491h0M463 308h0M63 463h0M252 463h0M511 91h0M63 201h0M155 474h0M248 474h0M475 321h0M503 91h0M503 201h0M63 450h0M254 450h0M353 450h0M492 314h0M492 411h0M521 91h0M361 492h0M381 194h0" class="fw"/>
<path d="M501 194h0M62 323h0M62 468h0M153 468h0M247 468h0M479 323h0M508 91h0M508 203h0M62 501h0M62 305h0M62 482h0M62 293h0M63 162h0M62 308h0M62 505h0M62 486h0M62 300h0M62 492h0M62 469h0M157 469h0M478 320h0M507 198h0M62 504h0M62 322h0M62 488h0M62 320h0M62 304h0M62 496h0M62 491h0M62 303h0M62 483h0M277 91h0M62 417h0M62 494h0M62 319h0M62 499h0M62 502h0M455 314h0M62 314h0M62 506h0M62 315h0M62 493h0M62 422h0M62 500h0M62 316h0M62 487h0M63 203h0M163 475h0M256 498h0M458 311h0M165 513h0M473 187h0M478 91h0M157 463h0M249 463h0M348 463h0M511 198h0M63 176h0M181 91h0M63 186h0M63 177h0M180 91h0M259 491h0M463 308h0M63 463h0M252 463h0M511 91h0" class="f0"/>
<path d="M62 317h0M62 318h0M62 498h0M62 306h0M62 411h0M62 474h0M63 183h0M168 411h0M168 474h0M260 474h0M274 183h0M353 306h0M373 183h0M475 306h0M503 183h0M62 321h0M156 483h0M249 483h0M468 321h0M496 200h0M62 313h0M63 469h0M158 469h0M250 469h0M348 469h0M478 319h0M478 417h0M507 91h0M507 197h0M158 488h0M361 506h0M452 317h0M452 400h0M160 480h0M386 194h0M499 194h0M63 171h0M184 91h0M276 91h0M63 201h0M155 474h0M248 474h0M475 321h0M503 91h0M503 201h0M63 450h0M254 450h0M353 450h0M492 314h0M492 411h0M521 91h0M361 492h0M381 194h0" class="f1"/>
<path d="M175 307h0M260 494h0M273 91h0M273 173h0M63 476h0M501 91h0M63 473h0M153 473h0M247 473h0M476 323h0M504 91h0M504 204h0M270 91h0M489 196h0M63 172h0M160 91h0M386 205h0M164 491h0M63 200h0M482 200h0M499 91h0M63 206h0M152 394h0M152 492h0M158 91h0M246 394h0M259 91h0M386 91h0M386 206h0M63 199h0M495 199h0M63 188h0M63 455h0M253 455h0M357 455h0M488 316h0M488 405h0M517 91h0M474 91h0M63 185h0M174 91h0M502 91h0M161 482h0M497 193h0M63 205h0M63 458h0M515 91h0M63 204h0M159 91h0M260 91h0M476 196h0M63 520h0M468 91h0M63 197h0M272 91h0M63 191h0M63 383h0M373 486h0M395 91h0M395 191h0M467 383h0M63 174h0M182 91h0M476 91h0M63 173h0M183 91h0M63 167h0M188 91h0M279 91h0M63 184h0M63 195h0M63 178h0M179 91h0M483 91h0M63 196h0M473 91h0M165 485h0M495 91h0M495 187h0M63 193h0M512 91h0M477 91h0M477 192h0M63 180h0M63 202h0M161 91h0M492 91h0M497 91h0M63 187h0M63 194h0M488 91h0M63 190h0M63 192h0M169 91h0M63 198h0M63 189h0M171 91h0M63 181h0M177 91h0M275 91h0M178 91h0M274 91h0M493 91h0M486 91h0M484 91h0M63 477h0M158 477h0M250 477h0M500 91h0M169 498h0M176 91h0M485 91h0M485 182h0M166 91h0M63 436h0M165 436h0M172 91h0M255 436h0M353 436h0M373 91h0" class="fw"/>
<path d="M63 476h0M501 91h0M63 473h0M153 473h0M247 473h0M476 323h0M504 91h0M504 204h0M270 91h0M160 91h0M164 491h0M63 200h0M482 200h0M474 91h0M63 185h0M174 91h0M502 91h0M161 482h0M497 193h0M63 205h0M63 458h0M515 91h0M63 204h0M159 91h0M260 91h0M476 196h0M63 197h0M272 91h0M63 174h0M182 91h0M476 91h0M63 173h0M183 91h0M63 167h0M188 91h0M279 91h0M63 195h0M63 178h0M179 91h0M483 91h0M63 196h0M473 91h0M63 193h0M512 91h0M477 91h0M477 192h0M63 180h0M63 202h0M161 91h0M492 91h0M497 91h0M63 187h0M63 194h0M488 91h0M63 190h0M63 192h0M169 91h0M63 198h0M63 189h0M171 91h0M63 181h0M177 91h0M275 91h0M178 91h0M274 91h0M493 91h0M486 91h0M169 498h0M176 91h0M485 91h0M485 182h0M166 91h0" class="f0"/>
<path d="M175 307h0M260 494h0M273 91h0M273 173h0M489 196h0M63 172h0M386 205h0M499 91h0M63 206h0M152 394h0M152 492h0M158 91h0M246 394h0M259 91h0M386 91h0M386 206h0M63 199h0M495 199h0M63 188h0M63 455h0M253 455h0M357 455h0M488 316h0M488 405h0M517 91h0M63 520h0M468 91h0M63 191h0M63 383h0M373 486h0M395 91h0M395 191h0M467 383h0M63 184h0M165 485h0M495 91h0M495 187h0M484 91h0M63 477h0M158 477h0M250 477h0M500 91h0M63 436h0M165 436h0M172 91h0M255 436h0M353 436h0M373 91h0" class="f1"/>
<path d="M502 313h0M502 411h0M532 91h0M496 91h0M490 91h0M170 91h0M63 452h0M268 91h0M519 91h0M168 91h0M266 91h0M487 91h0M263 91h0M494 91h0M164 91h0M156 506h0M162 91h0M249 506h0M261 91h0M452 321h0M479 91h0M479 200h0M63 293h0M191 91h0M285 91h0M491 91h0M269 91h0M63 405h0M167 91h0M265 91h0M377 91h0M482 91h0M175 91h0M271 91h0M368 91h0M481 91h0M173 91h0M267 91h0M165 91h0M264 91h0M381 91h0M489 91h0M163 91h0M262 91h0M364 91h0M480 91h0M174 492h0M260 417h0M274 174h0M368 174h0M490 174h0M156 505h0M63 394h0M365 317h0M365 514h0M446 394h0M473 192h0M63 302h0M161 480h0M499 193h0M63 514h0M63 456h0M160 456h0M252 456h0M348 456h0M488 317h0M488 417h0M517 90h0M517 194h0M480 196h0M159 483h0M496 195h0M482 194h0M63 309h0M271 189h0M456 321h0M63 480h0M499 196h0M166 507h0M478 185h0M63 462h0M63 303h0M174 303h0M174 498h0M262 498h0M276 175h0M458 303h0M485 175h0M63 474h0M164 489h0M165 492h0M490 186h0M63 308h0M154 417h0M368 203h0M488 189h0M63 306h0M63 299h0M63 479h0M494 202h0M63 508h0M477 90h0M63 322h0M64 202h0M63 494h0M63 483h0M63 475h0M63 507h0M63 388h0M159 388h0M369 505h0M390 90h0M390 195h0M453 388h0M63 502h0M63 487h0M63 400h0M63 512h0M381 90h0M474 90h0" class="fw"/>
<path d="M496 91h0M490 91h0M170 91h0M63 452h0M268 91h0M519 91h0M168 91h0M266 91h0M487 91h0M263 91h0M494 91h0M164 91h0M269 91h0M175 91h0M271 91h0M368 91h0M481 91h0M173 91h0M267 91h0M163 91h0M262 91h0M364 91h0M480 91h0M174 492h0M260 417h0M274 174h0M368 174h0M490 174h0M63 394h0M365 317h0M365 514h0M446 394h0M473 192h0M63 302h0M161 480h0M499 193h0M63 514h0M480 196h0M63 309h0M271 189h0M456 321h0M166 507h0M478 185h0M63 462h0M164 489h0M165 492h0M490 186h0M63 308h0M63 299h0M63 479h0M63 508h0M477 90h0M63 322h0M64 202h0M63 494h0M63 483h0M63 475h0M63 507h0M63 502h0M63 487h0M63 400h0M63 512h0M381 90h0M474 90h0" class="f0"/>
<path d="M502 313h0M502 411h0M532 91h0M156 506h0M162 91h0M249 506h0M261 91h0M452 321h0M479 91h0M479 200h0M63 293h0M191 91h0M285 91h0M491 91h0M63 405h0M167 91h0M265 91h0M377 91h0M482 91h0M165 91h0M264 91h0M381 91h0M489 91h0M156 505h0M63 456h0M160 456h0M252 456h0M348 456h0M488 317h0M488 417h0M517 90h0M517 194h0M159 483h0M496 195h0M482 194h0M63 480h0M499 196h0M63 303h0M174 303h0M174 498h0M262 498h0M276 175h0M458 303h0M485 175h0M63 474h0M154 417h0M368 203h0M488 189h0M63 306h0M494 202h0M63 388h0M159 388h0M369 505h0M390 90h0M390 195h0M453 388h0" class="f1"/>
<path d="M63 311h0M63 510h0M353 510h0M450 320h0M450 411h0M63 486h0M63 323h0M64 204h0M260 90h0M463 323h0M63 488h0M63 321h0M63 485h0M63 313h0M63 305h0M172 505h0M180 90h0M261 505h0M453 305h0M480 177h0M63 304h0M63 496h0M64 176h0M181 90h0M170 495h0M487 180h0M63 491h0M63 324h0M63 504h0M63 300h0M63 499h0M158 495h0M487 197h0M63 310h0M63 513h0M175 310h0M175 513h0M271 172h0M447 310h0M473 172h0M63 411h0M63 498h0M63 482h0M63 307h0M63 493h0M64 183h0M273 90h0M63 316h0M63 472h0M505 90h0M63 317h0M63 489h0M63 320h0M63 492h0M63 500h0M63 314h0M63 495h0M63 315h0M63 505h0M63 312h0M63 417h0M63 319h0M63 506h0M63 318h0M63 422h0M63 501h0M169 505h0M480 181h0M167 489h0M272 184h0M491 184h0M498 90h0M252 506h0M479 90h0M496 90h0M152 516h0M472 90h0M472 205h0M161 90h0M159 90h0M64 477h0M484 206h0M64 201h0M512 90h0M169 305h0M261 502h0M275 90h0M275 181h0M455 305h0M482 181h0M169 90h0M64 181h0M169 520h0M177 90h0M468 90h0M468 181h0M270 90h0M64 203h0M160 90h0M179 90h0M64 162h0M64 293h0M183 491h0M191 90h0M270 491h0M285 90h0M285 162h0M463 293h0M491 162h0M502 90h0M373 90h0M64 394h0M365 486h0M386 90h0M64 167h0M187 90h0M487 90h0M161 514h0M168 90h0M251 514h0" class="fw"/>
<path d="M63 486h0M63 323h0M64 204h0M260 90h0M463 323h0M63 488h0M63 321h0M63 485h0M63 305h0M172 505h0M180 90h0M261 505h0M453 305h0M480 177h0M63 304h0M63 496h0M64 176h0M181 90h0M63 491h0M63 324h0M63 504h0M63 300h0M63 499h0M158 495h0M487 197h0M63 482h0M63 307h0M63 493h0M64 183h0M273 90h0M63 316h0M63 472h0M505 90h0M63 317h0M63 489h0M63 320h0M63 492h0M63 500h0M63 314h0M63 495h0M63 315h0M63 505h0M63 312h0M63 417h0M63 319h0M63 506h0M63 318h0M63 422h0M63 501h0M498 90h0M496 90h0M161 90h0M159 90h0M64 477h0M484 206h0M64 201h0M512 90h0M169 305h0M261 502h0M275 90h0M275 181h0M455 305h0M482 181h0M169 90h0M270 90h0M64 203h0M160 90h0M179 90h0M502 90h0M373 90h0M64 167h0M187 90h0M487 90h0M161 514h0M168 90h0M251 514h0" class="f0"/>
<path d="M63 311h0M63 510h0M353 510h0M450 320h0M450 411h0M63 313h0M170 495h0M487 180h0M63 310h0M63 513h0M175 310h0M175 513h0M271 172h0M447 310h0M473 172h0M63 411h0M63 498h0M169 505h0M480 181h0M167 489h0M272 184h0M491 184h0M252 506h0M479 90h0M152 516h0M472 90h0M472 205h0M64 181h0M169 520h0M177 90h0M468 90h0M468 181h0M64 162h0M64 293h0M183 491h0M191 90h0M270 491h0M285 90h0M285 162h0M463 293h0M491 162h0M64 394h0M365 486h0M386 90h0" class="f1"/>
<path d="M446 318h0M473 90h0M64 173h0M183 90h0M272 90h0M485 90h0M489 190h0M64 166h0M188 90h0M279 90h0M166 90h0M495 90h0M172 90h0M254 501h0M456 314h0M482 90h0M492 90h0M156 507h0M162 90h0M377 200h0M478 200h0M64 174h0M182 90h0M276 90h0M486 90h0M64 206h0M158 90h0M259 90h0M499 90h0M64 474h0M503 90h0M174 90h0M497 90h0M269 90h0M491 90h0M480 90h0M175 90h0M271 90h0M368 90h0M481 90h0M500 90h0M264 90h0M484 90h0M184 90h0M280 90h0M265 90h0M488 90h0M178 90h0M274 90h0M493 90h0M171 90h0M377 90h0M64 187h0M173 90h0M489 90h0M163 90h0M262 90h0M490 90h0M165 90h0M263 90h0M478 90h0M164 90h0M261 90h0M476 90h0M167 90h0M266 90h0M494 90h0M170 90h0M267 90h0M176 90h0M268 90h0M483 90h0M64 168h0M178 511h0M186 90h0M264 511h0M278 90h0M364 90h0M364 168h0M449 301h0M475 90h0M475 168h0M64 303h0M263 483h0M277 89h0M468 303h0M64 172h0M64 300h0M175 411h0M265 411h0M265 502h0M279 172h0M353 300h0M455 300h0M482 172h0M64 200h0M264 200h0M483 200h0M64 205h0M64 175h0M64 196h0M64 177h0M180 89h0M161 512h0M474 192h0M64 191h0M64 186h0M64 199h0M64 185h0M64 476h0M501 89h0M64 195h0M64 192h0M162 485h0M348 485h0M495 192h0M64 180h0M64 197h0M64 189h0M64 184h0" class="fw"/>
<path d="M446 318h0M473 90h0M64 173h0M183 90h0M272 90h0M485 90h0M489 190h0M64 166h0M188 90h0M279 90h0M166 90h0M495 90h0M172 90h0M254 501h0M456 314h0M482 90h0M64 174h0M182 90h0M276 90h0M486 90h0M64 206h0M158 90h0M259 90h0M499 90h0M64 474h0M503 90h0M174 90h0M497 90h0M269 90h0M491 90h0M175 90h0M271 90h0M368 90h0M481 90h0M500 90h0M264 90h0M484 90h0M184 90h0M280 90h0M265 90h0M488 90h0M178 90h0M274 90h0M493 90h0M64 187h0M173 90h0M489 90h0M163 90h0M262 90h0M490 90h0M165 90h0M263 90h0M478 90h0M164 90h0M261 90h0M476 90h0M167 90h0M266 90h0M494 90h0M176 90h0M268 90h0M483 90h0M64 303h0M263 483h0M277 89h0M468 303h0M64 200h0M264 200h0M483 200h0M64 205h0M64 175h0M64 177h0M180 89h0M161 512h0M474 192h0M64 191h0M64 186h0M64 199h0M64 195h0M64 180h0M64 197h0M64 189h0M64 184h0" class="f0"/>
<path d="M492 90h0M156 507h0M162 90h0M377 200h0M478 200h0M480 90h0M171 90h0M377 90h0M170 90h0M267 90h0M64 168h0M178 511h0M186 90h0M264 511h0M278 90h0M364 90h0M364 168h0M449 301h0M475 90h0M475 168h0M64 172h0M64 300h0M175 411h0M265 411h0M265 502h0M279 172h0M353 300h0M455 300h0M482 172h0M64 196h0M64 185h0M64 476h0M501 89h0M64 192h0M162 485h0M348 485h0M495 192h0" class="f1"/>
<path d="M167 482h0M258 482h0M469 310h0M497 184h0M64 182h0M64 198h0M494 193h0M64 193h0M64 178h0M64 188h0M249 482h0M64 194h0M64 190h0M163 473h0M254 473h0M476 314h0M504 190h0M453 312h0M153 491h0M491 204h0M64 511h0M475 89h0M64 458h0M515 89h0M163 504h0M481 190h0M64 461h0M250 461h0M484 319h0M513 89h0M513 197h0M500 196h0M64 302h0M188 89h0M455 313h0M64 388h0M64 520h0M168 388h0M168 520h0M176 89h0M257 388h0M257 520h0M369 310h0M390 89h0M390 182h0M442 310h0M468 89h0M468 182h0M65 170h0M279 89h0M255 491h0M463 313h0M252 507h0M159 505h0M353 505h0M453 411h0M64 400h0M64 518h0M361 307h0M361 518h0M381 89h0M444 307h0M444 400h0M470 89h0M65 174h0M168 307h0M259 493h0M273 183h0M489 183h0M64 483h0M496 89h0M64 512h0M156 512h0M249 512h0M448 321h0M474 89h0M474 200h0M271 180h0M64 513h0M64 472h0M505 89h0M64 283h0M65 117h0M215 283h0M215 495h0M225 89h0M278 422h0M278 495h0M293 89h0M293 117h0M344 283h0M460 283h0M487 117h0M64 452h0M519 89h0M64 479h0M500 89h0M65 202h0M257 488h0M465 311h0M64 301h0M185 89h0M278 89h0M161 89h0M64 514h0M353 514h0M446 411h0M473 89h0M64 464h0M510 89h0M64 510h0M476 89h0M65 199h0M157 482h0M469 320h0M497 199h0M65 171h0M176 304h0M486 171h0M357 504h0" class="fw"/>
<path d="M167 482h0M258 482h0M469 310h0M497 184h0M64 182h0M64 198h0M494 193h0M64 193h0M64 178h0M64 188h0M249 482h0M64 194h0M64 190h0M163 473h0M254 473h0M476 314h0M504 190h0M64 511h0M475 89h0M64 458h0M515 89h0M163 504h0M481 190h0M64 302h0M188 89h0M255 491h0M463 313h0M252 507h0M159 505h0M353 505h0M453 411h0M65 174h0M168 307h0M259 493h0M273 183h0M489 183h0M64 483h0M496 89h0M271 180h0M64 513h0M64 472h0M505 89h0M64 452h0M519 89h0M64 479h0M500 89h0M65 202h0M257 488h0M465 311h0M64 301h0M185 89h0M278 89h0M161 89h0M64 464h0M510 89h0M64 510h0M476 89h0M65 199h0M157 482h0M469 320h0M497 199h0" class="f0"/>
<path d="M453 312h0M153 491h0M491 204h0M64 461h0M250 461h0M484 319h0M513 89h0M513 197h0M500 196h0M455 313h0M64 388h0M64 520h0M168 388h0M168 520h0M176 89h0M257 388h0M257 520h0M369 310h0M390 89h0M390 182h0M442 310h0M468 89h0M468 182h0M65 170h0M279 89h0M64 400h0M64 518h0M361 307h0M361 518h0M381 89h0M444 307h0M444 400h0M470 89h0M64 512h0M156 512h0M249 512h0M448 321h0M474 89h0M474 200h0M64 283h0M65 117h0M215 283h0M215 495h0M225 89h0M278 422h0M278 495h0M293 89h0M293 117h0M344 283h0M460 283h0M487 117h0M64 514h0M353 514h0M446 411h0M473 89h0M65 171h0M176 304h0M486 171h0M357 504h0" class="f1"/>
<path d="M454 405h0M64 469h0M169 405h0M169 469h0M259 405h0M259 469h0M357 308h0M377 181h0M478 308h0M507 89h0M507 181h0M65 167h0M179 306h0M179 495h0M187 89h0M274 167h0M487 167h0M64 322h0M261 89h0M64 299h0M65 172h0M176 299h0M184 89h0M266 422h0M280 89h0M280 172h0M64 462h0M512 89h0M172 500h0M260 500h0M483 178h0M163 496h0M486 190h0M64 305h0M261 504h0M274 178h0M454 305h0M481 178h0M64 307h0M273 89h0M64 493h0M489 89h0M64 304h0M64 516h0M65 164h0M189 89h0M276 89h0M472 89h0M64 482h0M497 89h0M64 507h0M478 89h0M170 89h0M64 475h0M502 89h0M64 311h0M64 405h0M64 517h0M270 89h0M377 89h0M471 89h0M64 319h0M158 489h0M64 480h0M164 89h0M499 89h0M64 489h0M179 89h0M65 169h0M186 89h0M64 501h0M64 502h0M482 89h0M171 89h0M64 504h0M481 89h0M64 309h0M175 89h0M168 89h0M182 89h0M64 487h0M493 89h0M64 306h0M64 495h0M175 306h0M175 495h0M260 495h0M274 89h0M274 173h0M460 306h0M487 89h0M487 173h0M64 481h0M498 89h0M64 313h0M459 313h0M64 508h0M477 89h0M64 488h0M492 89h0M64 506h0M263 89h0M479 89h0M167 89h0M169 499h0M177 89h0M484 181h0M64 316h0M64 505h0M480 89h0M64 324h0M64 491h0M152 417h0M159 89h0M247 491h0M259 89h0M368 205h0M491 89h0M64 308h0M175 308h0" class="fw"/>
<path d="M65 167h0M179 306h0M179 495h0M187 89h0M274 167h0M487 167h0M64 322h0M261 89h0M64 299h0M65 172h0M176 299h0M184 89h0M266 422h0M280 89h0M280 172h0M64 462h0M512 89h0M172 500h0M260 500h0M483 178h0M163 496h0M486 190h0M64 305h0M261 504h0M274 178h0M454 305h0M481 178h0M64 307h0M273 89h0M64 493h0M489 89h0M64 304h0M64 516h0M65 164h0M189 89h0M276 89h0M472 89h0M64 482h0M497 89h0M170 89h0M64 475h0M502 89h0M64 311h0M64 405h0M64 517h0M270 89h0M377 89h0M471 89h0M64 480h0M164 89h0M499 89h0M65 169h0M186 89h0M64 501h0M64 502h0M482 89h0M171 89h0M64 504h0M481 89h0M64 309h0M175 89h0M168 89h0M182 89h0M64 487h0M493 89h0M64 306h0M64 495h0M175 306h0M175 495h0M260 495h0M274 89h0M274 173h0M460 306h0M487 89h0M487 173h0M64 481h0M498 89h0M64 488h0M492 89h0M64 506h0M263 89h0M479 89h0M64 316h0M64 505h0M480 89h0M64 308h0M175 308h0" class="f0"/>
<path d="M454 405h0M64 469h0M169 405h0M169 469h0M259 405h0M259 469h0M357 308h0M377 181h0M478 308h0M507 89h0M507 181h0M64 507h0M478 89h0M64 319h0M158 489h0M64 489h0M179 89h0M64 313h0M459 313h0M64 508h0M477 89h0M167 89h0M169 499h0M177 89h0M484 181h0M64 324h0M64 491h0M152 417h0M159 89h0M247 491h0M259 89h0M368 205h0M491 89h0" class="f1"/>
<path d="M175 498h0M183 89h0M272 89h0M272 173h0M458 308h0M485 173h0M64 323h0M64 498h0M160 89h0M260 89h0M485 89h0M64 310h0M64 499h0M178 89h0M271 89h0M484 89h0M64 317h0M64 411h0M166 89h0M265 89h0M373 89h0M64 500h0M266 89h0M483 89h0M64 443h0M166 443h0M254 443h0M348 443h0M497 314h0M497 417h0M526 89h0M526 185h0M64 473h0M174 89h0M504 89h0M64 318h0M165 89h0M264 89h0M64 321h0M64 485h0M162 89h0M495 89h0M64 486h0M169 89h0M494 89h0M64 312h0M64 417h0M269 89h0M368 89h0M64 314h0M64 494h0M173 89h0M268 89h0M488 89h0M64 315h0M64 496h0M172 89h0M267 89h0M486 89h0M64 320h0M64 422h0M64 492h0M163 89h0M262 89h0M364 89h0M490 89h0M65 203h0M154 394h0M160 88h0M365 323h0M365 498h0M386 203h0M458 394h0M474 88h0M65 178h0M365 501h0M386 186h0M456 394h0M482 186h0M478 196h0M503 88h0M65 186h0M65 179h0M65 206h0M158 88h0M65 187h0M65 183h0M65 204h0M65 166h0M278 88h0M65 162h0M65 295h0M192 88h0M283 88h0M497 185h0M65 513h0M160 513h0M473 195h0M65 323h0M65 180h0M65 188h0M65 184h0M65 181h0M65 462h0M512 88h0M65 197h0M65 194h0M65 205h0M252 464h0M482 317h0M510 88h0M65 189h0M65 196h0M65 175h0M174 308h0M174 500h0M182 88h0M259 500h0M483 175h0M65 200h0" class="fw"/>
<path d="M175 498h0M183 89h0M272 89h0M272 173h0M458 308h0M485 173h0M64 310h0M64 499h0M178 89h0M271 89h0M484 89h0M64 500h0M266 89h0M483 89h0M64 473h0M174 89h0M504 89h0M64 321h0M64 485h0M162 89h0M495 89h0M64 486h0M169 89h0M494 89h0M64 312h0M64 417h0M269 89h0M368 89h0M64 314h0M64 494h0M173 89h0M268 89h0M488 89h0M64 320h0M64 422h0M64 492h0M163 89h0M262 89h0M364 89h0M490 89h0M474 88h0M65 178h0M478 196h0M65 186h0M65 179h0M65 187h0M65 183h0M65 204h0M65 166h0M278 88h0M65 162h0M65 295h0M192 88h0M283 88h0M497 185h0M65 513h0M160 513h0M473 195h0M65 323h0M65 180h0M65 188h0M65 184h0M65 181h0M65 197h0M65 194h0M65 205h0M252 464h0M482 317h0M510 88h0M65 196h0M65 175h0M174 308h0M174 500h0M182 88h0M259 500h0M483 175h0M65 200h0" class="f0"/>
<path d="M64 323h0M64 498h0M160 89h0M260 89h0M485 89h0M64 317h0M64 411h0M166 89h0M265 89h0M373 89h0M64 443h0M166 443h0M254 443h0M348 443h0M497 314h0M497 417h0M526 89h0M526 185h0M64 318h0M165 89h0M264 89h0M64 315h0M64 496h0M172 89h0M267 89h0M486 89h0M65 203h0M154 394h0M160 88h0M365 323h0M365 498h0M386 203h0M458 394h0M365 501h0M386 186h0M456 394h0M482 186h0M503 88h0M65 206h0M158 88h0M65 462h0M512 88h0M65 189h0" class="f1"/>
<path d="M163 88h0M65 479h0M65 182h0M173 482h0M261 482h0M469 305h0M497 176h0M65 193h0M65 173h0M183 88h0M281 88h0M65 198h0M65 176h0M262 496h0M275 88h0M459 304h0M65 185h0M65 190h0M65 192h0M65 195h0M65 191h0M65 201h0M179 88h0M259 506h0M452 308h0M499 88h0M177 88h0M500 88h0M152 485h0M180 88h0M454 315h0M260 88h0M66 163h0M191 88h0M154 377h0M154 485h0M248 377h0M378 322h0M378 485h0M399 202h0M467 377h0M495 202h0M514 88h0M65 377h0M163 377h0M254 377h0M378 315h0M378 510h0M399 88h0M399 190h0M450 377h0M485 88h0M159 88h0M259 88h0M65 469h0M159 469h0M357 469h0M478 405h0M507 88h0M507 195h0M155 487h0M493 201h0M276 88h0M172 88h0M66 183h0M168 487h0M175 88h0M258 487h0M466 309h0M493 183h0M273 88h0M497 88h0M169 309h0M169 511h0M176 88h0M258 511h0M449 309h0M475 88h0M475 182h0M486 88h0M65 514h0M155 514h0M248 514h0M348 514h0M446 322h0M473 88h0M65 306h0M65 388h0M390 88h0M501 88h0M65 520h0M468 88h0M178 88h0M496 88h0M258 508h0M271 88h0M451 310h0M489 88h0M262 88h0M66 202h0M161 88h0M168 88h0M65 300h0M180 499h0M188 88h0M265 499h0M279 88h0M457 300h0M484 88h0M484 166h0M277 88h0M277 175h0M493 88h0M178 309h0M178 502h0M186 88h0M258 502h0M272 88h0M272 169h0M455 309h0" class="fw"/>
<path d="M163 88h0M65 479h0M65 182h0M173 482h0M261 482h0M469 305h0M497 176h0M65 193h0M65 173h0M183 88h0M281 88h0M65 198h0M65 176h0M262 496h0M275 88h0M459 304h0M65 185h0M65 190h0M65 192h0M65 201h0M179 88h0M259 506h0M452 308h0M499 88h0M177 88h0M500 88h0M152 485h0M180 88h0M454 315h0M260 88h0M514 88h0M485 88h0M159 88h0M259 88h0M276 88h0M172 88h0M66 183h0M168 487h0M175 88h0M258 487h0M466 309h0M493 183h0M273 88h0M497 88h0M169 309h0M169 511h0M176 88h0M258 511h0M449 309h0M475 88h0M475 182h0M486 88h0M178 88h0M496 88h0M489 88h0M262 88h0M65 300h0M180 499h0M188 88h0M265 499h0M279 88h0M457 300h0M484 88h0M484 166h0M277 88h0M277 175h0M493 88h0M178 309h0M178 502h0M186 88h0M258 502h0M272 88h0M272 169h0M455 309h0" class="f0"/>
<path d="M65 195h0M65 191h0M66 163h0M191 88h0M154 377h0M154 485h0M248 377h0M378 322h0M378 485h0M399 202h0M467 377h0M495 202h0M65 377h0M163 377h0M254 377h0M378 315h0M378 510h0M399 88h0M399 190h0M450 377h0M65 469h0M159 469h0M357 469h0M478 405h0M507 88h0M507 195h0M155 487h0M493 201h0M65 514h0M155 514h0M248 514h0M348 514h0M446 322h0M473 88h0M65 306h0M65 388h0M390 88h0M501 88h0M65 520h0M468 88h0M258 508h0M271 88h0M451 310h0M66 202h0M161 88h0M168 88h0" class="f1"/>
<path d="M482 169h0M65 405h0M171 88h0M377 88h0M450 313h0M476 88h0M487 88h0M482 88h0M498 88h0M267 88h0M65 394h0M155 394h0M155 485h0M162 88h0M248 485h0M261 88h0M365 485h0M386 88h0M386 201h0M467 394h0M495 88h0M495 201h0M173 88h0M488 88h0M481 88h0M490 88h0M181 88h0M274 88h0M158 506h0M164 88h0M353 506h0M373 88h0M452 411h0M479 88h0M479 197h0M268 88h0M492 88h0M170 88h0M266 88h0M491 88h0M165 88h0M169 88h0M265 88h0M502 88h0M270 88h0M477 88h0M269 88h0M368 88h0M478 88h0M174 88h0M504 88h0M166 88h0M263 88h0M483 88h0M494 88h0M167 88h0M264 88h0M364 88h0M480 88h0M480 194h0M462 312h0M167 504h0M257 504h0M454 310h0M481 184h0M152 504h0M246 504h0M454 324h0M481 205h0M65 308h0M154 489h0M161 87h0M248 489h0M464 322h0M491 203h0M65 502h0M65 475h0M65 474h0M163 318h0M264 190h0M503 87h0M65 476h0M161 476h0M253 476h0M473 316h0M501 87h0M501 192h0M65 511h0M475 87h0M65 473h0M65 305h0M65 483h0M162 483h0M496 191h0M249 510h0M261 198h0M450 321h0M476 198h0M66 178h0M484 188h0M65 486h0M166 496h0M486 186h0M153 492h0M247 492h0M490 205h0M361 512h0M448 320h0M448 400h0M65 301h0M66 171h0M177 417h0M177 495h0M264 495h0M278 171h0M460 301h0M487 171h0M66 203h0M65 297h0M65 488h0" class="fw"/>
<path d="M482 169h0M450 313h0M476 88h0M487 88h0M498 88h0M173 88h0M488 88h0M481 88h0M490 88h0M181 88h0M274 88h0M158 506h0M164 88h0M353 506h0M373 88h0M452 411h0M479 88h0M479 197h0M268 88h0M492 88h0M170 88h0M266 88h0M491 88h0M165 88h0M169 88h0M265 88h0M502 88h0M270 88h0M477 88h0M269 88h0M368 88h0M478 88h0M174 88h0M504 88h0M166 88h0M263 88h0M483 88h0M494 88h0M462 312h0M167 504h0M257 504h0M454 310h0M481 184h0M65 308h0M154 489h0M161 87h0M248 489h0M464 322h0M491 203h0M65 502h0M65 475h0M65 474h0M163 318h0M264 190h0M503 87h0M65 511h0M475 87h0M65 473h0M65 305h0M65 483h0M162 483h0M496 191h0M249 510h0M261 198h0M450 321h0M476 198h0M66 178h0M484 188h0M65 486h0M166 496h0M486 186h0M153 492h0M247 492h0M490 205h0M361 512h0M448 320h0M448 400h0M65 301h0M66 171h0M177 417h0M177 495h0M264 495h0M278 171h0M460 301h0M487 171h0M66 203h0M65 297h0M65 488h0" class="f0"/>
<path d="M65 405h0M171 88h0M377 88h0M482 88h0M267 88h0M65 394h0M155 394h0M155 485h0M162 88h0M248 485h0M261 88h0M365 485h0M386 88h0M386 201h0M467 394h0M495 88h0M495 201h0M167 88h0M264 88h0M364 88h0M480 88h0M480 194h0M152 504h0M246 504h0M454 324h0M481 205h0M65 476h0M161 476h0M253 476h0M473 316h0M501 87h0M501 192h0" class="f1"/>
<path d="M66 169h0M178 297h0M178 488h0M186 87h0M267 488h0M281 169h0M465 297h0M492 169h0M65 460h0M66 181h0M169 304h0M169 477h0M177 87h0M262 477h0M276 181h0M472 304h0M500 181h0M65 312h0M65 510h0M161 312h0M256 510h0M269 193h0M450 312h0M65 467h0M508 87h0M65 303h0M65 512h0M180 303h0M180 512h0M262 512h0M276 166h0M448 303h0M474 166h0M65 477h0M66 206h0M65 324h0M65 485h0M153 485h0M247 485h0M495 205h0M65 311h0M65 495h0M65 500h0M266 185h0M483 185h0M65 322h0M463 322h0M491 200h0M65 304h0M65 507h0M66 174h0M65 504h0M65 314h0M65 464h0M510 87h0M65 313h0M65 506h0M65 489h0M65 310h0M65 499h0M65 498h0M65 315h0M65 491h0M65 501h0M65 309h0M65 318h0M65 505h0M160 505h0M480 195h0M65 298h0M66 167h0M281 87h0M65 482h0M65 411h0M65 487h0M65 317h0M65 302h0M66 166h0M188 87h0M278 87h0M65 508h0M65 320h0M65 492h0M65 481h0M498 87h0M65 417h0M65 321h0M65 400h0M65 493h0M361 321h0M65 307h0M65 494h0M65 319h0M65 496h0M65 316h0M65 422h0M65 480h0M66 154h0M189 321h0M197 87h0M262 154h0M364 154h0M491 154h0M158 87h0M259 87h0M66 508h0M477 87h0M496 87h0M66 469h0M162 469h0M507 87h0M507 192h0M66 179h0M179 87h0M373 186h0M66 191h0M373 191h0M66 200h0M478 192h0M381 87h0" class="fw"/>
<path d="M66 169h0M178 297h0M178 488h0M186 87h0M267 488h0M281 169h0M465 297h0M492 169h0M65 460h0M66 181h0M169 304h0M169 477h0M177 87h0M262 477h0M276 181h0M472 304h0M500 181h0M65 312h0M65 510h0M161 312h0M256 510h0M269 193h0M450 312h0M65 467h0M508 87h0M65 303h0M65 512h0M180 303h0M180 512h0M262 512h0M276 166h0M448 303h0M474 166h0M65 477h0M66 206h0M65 324h0M65 485h0M153 485h0M247 485h0M495 205h0M65 311h0M65 495h0M65 500h0M266 185h0M483 185h0M65 304h0M65 507h0M66 174h0M65 504h0M65 314h0M65 464h0M510 87h0M65 313h0M65 506h0M65 489h0M65 310h0M65 499h0M65 498h0M65 315h0M65 491h0M65 501h0M65 309h0M65 318h0M65 505h0M160 505h0M480 195h0M65 298h0M66 167h0M281 87h0M65 482h0M65 411h0M65 487h0M65 317h0M65 302h0M66 166h0M188 87h0M278 87h0M65 508h0M65 320h0M65 492h0M65 481h0M498 87h0M65 307h0M65 494h0M65 319h0M65 496h0M65 316h0M65 422h0M65 480h0M66 154h0M189 321h0M197 87h0M262 154h0M364 154h0M491 154h0M66 508h0M477 87h0M496 87h0M66 179h0M179 87h0M66 200h0" class="f0"/>
<path d="M65 322h0M463 322h0M491 200h0M65 417h0M65 321h0M65 400h0M65 493h0M361 321h0M158 87h0M259 87h0M66 469h0M162 469h0M507 87h0M507 192h0M373 186h0M66 191h0M373 191h0M478 192h0M381 87h0" class="f1"/>
<path d="M182 87h0M66 175h0M174 499h0M484 175h0M152 323h0M247 493h0M462 323h0M512 87h0M66 460h0M165 460h0M485 315h0M514 87h0M514 187h0M484 87h0M66 197h0M169 502h0M272 182h0M495 87h0M483 87h0M66 182h0M168 513h0M176 87h0M258 513h0M271 182h0M447 309h0M473 87h0M473 182h0M66 190h0M170 87h0M464 314h0M476 87h0M271 87h0M480 87h0M173 311h0M173 502h0M257 502h0M270 176h0M455 311h0M482 176h0M66 164h0M66 516h0M181 304h0M181 422h0M181 516h0M189 87h0M262 516h0M276 87h0M276 164h0M364 164h0M446 304h0M472 87h0M472 164h0M66 185h0M269 87h0M66 177h0M172 493h0M180 87h0M260 493h0M462 306h0M489 177h0M478 87h0M66 162h0M66 295h0M192 87h0M283 87h0M66 205h0M159 87h0M172 87h0M504 87h0M170 306h0M170 487h0M260 487h0M274 87h0M274 180h0M466 306h0M493 180h0M268 87h0M481 87h0M66 187h0M165 307h0M273 187h0M254 480h0M471 315h0M499 87h0M499 186h0M66 176h0M181 87h0M275 87h0M66 170h0M177 299h0M177 494h0M185 87h0M279 87h0M488 170h0M273 87h0M66 472h0M505 87h0M66 189h0M163 493h0M165 87h0M485 87h0M66 512h0M474 87h0M66 193h0M168 87h0M66 198h0M489 87h0M156 318h0M163 87h0M251 477h0M500 87h0M500 199h0M175 87h0M66 192h0M169 87h0M66 204h0M160 87h0M260 87h0M373 87h0M493 87h0" class="fw"/>
<path d="M182 87h0M152 323h0M247 493h0M462 323h0M512 87h0M66 460h0M165 460h0M485 315h0M514 87h0M514 187h0M484 87h0M66 197h0M169 502h0M272 182h0M495 87h0M483 87h0M66 190h0M170 87h0M464 314h0M476 87h0M271 87h0M480 87h0M173 311h0M173 502h0M257 502h0M270 176h0M455 311h0M482 176h0M66 164h0M66 516h0M181 304h0M181 422h0M181 516h0M189 87h0M262 516h0M276 87h0M276 164h0M364 164h0M446 304h0M472 87h0M472 164h0M66 185h0M269 87h0M66 177h0M172 493h0M180 87h0M260 493h0M462 306h0M489 177h0M66 162h0M66 295h0M192 87h0M283 87h0M66 205h0M159 87h0M504 87h0M170 306h0M170 487h0M260 487h0M274 87h0M274 180h0M466 306h0M493 180h0M268 87h0M481 87h0M66 187h0M165 307h0M273 187h0M66 176h0M181 87h0M275 87h0M273 87h0M66 472h0M505 87h0M66 189h0M163 493h0M66 512h0M474 87h0M66 193h0M168 87h0M66 198h0M489 87h0M175 87h0M66 192h0M169 87h0M66 204h0M160 87h0M260 87h0M373 87h0M493 87h0" class="f0"/>
<path d="M66 175h0M174 499h0M484 175h0M66 182h0M168 513h0M176 87h0M258 513h0M271 182h0M447 309h0M473 87h0M473 182h0M478 87h0M172 87h0M254 480h0M471 315h0M499 87h0M499 186h0M66 170h0M177 299h0M177 494h0M185 87h0M279 87h0M488 170h0M165 87h0M485 87h0M156 318h0M163 87h0M251 477h0M500 87h0M500 199h0" class="f1"/>
<path d="M265 87h0M490 87h0M66 194h0M167 87h0M266 87h0M66 186h0M173 87h0M270 87h0M497 87h0M66 201h0M162 87h0M261 87h0M494 87h0M66 184h0M174 87h0M502 87h0M263 87h0M486 87h0M66 199h0M164 87h0M262 87h0M491 87h0M66 173h0M183 87h0M277 87h0M482 87h0M66 180h0M178 87h0M272 87h0M368 87h0M492 87h0M66 196h0M487 87h0M66 188h0M171 87h0M267 87h0M357 506h0M377 87h0M377 188h0M452 405h0M479 87h0M66 195h0M166 87h0M264 87h0M364 87h0M488 87h0M180 86h0M66 436h0M164 436h0M258 436h0M348 436h0M502 309h0M502 417h0M532 86h0M532 188h0M67 167h0M179 305h0M275 167h0M186 86h0M156 322h0M156 492h0M248 492h0M462 322h0M490 200h0M167 452h0M255 452h0M344 452h0M490 313h0M490 422h0M519 184h0M467 320h0M255 475h0M474 312h0M502 189h0M66 473h0M504 86h0M157 487h0M493 198h0M495 196h0M151 496h0M246 496h0M459 324h0M486 206h0M66 302h0M277 86h0M490 197h0M66 520h0M163 520h0M442 315h0M468 86h0M468 189h0M66 400h0M361 485h0M381 86h0M467 400h0M459 320h0M486 198h0M66 518h0M171 518h0M179 86h0M259 518h0M273 179h0M344 518h0M444 308h0M444 422h0M470 86h0M470 179h0M67 203h0M66 306h0M66 388h0M167 485h0M257 485h0M495 184h0M353 311h0M67 153h0M189 320h0M189 422h0M189 491h0M198 86h0M262 153h0" class="fw"/>
<path d="M265 87h0M490 87h0M66 194h0M167 87h0M266 87h0M66 186h0M173 87h0M270 87h0M497 87h0M66 184h0M174 87h0M502 87h0M263 87h0M486 87h0M66 199h0M164 87h0M262 87h0M491 87h0M66 173h0M183 87h0M277 87h0M482 87h0M66 196h0M487 87h0M66 195h0M166 87h0M264 87h0M364 87h0M488 87h0M180 86h0M156 322h0M156 492h0M248 492h0M462 322h0M490 200h0M167 452h0M255 452h0M344 452h0M490 313h0M490 422h0M519 184h0M467 320h0M255 475h0M474 312h0M502 189h0M66 473h0M504 86h0M157 487h0M493 198h0M495 196h0M66 302h0M277 86h0M459 320h0M486 198h0M67 203h0M167 485h0M257 485h0M495 184h0M353 311h0M67 153h0M189 320h0M189 422h0M189 491h0M198 86h0M262 153h0" class="f0"/>
<path d="M66 201h0M162 87h0M261 87h0M494 87h0M66 180h0M178 87h0M272 87h0M368 87h0M492 87h0M66 188h0M171 87h0M267 87h0M357 506h0M377 87h0M377 188h0M452 405h0M479 87h0M66 436h0M164 436h0M258 436h0M348 436h0M502 309h0M502 417h0M532 86h0M532 188h0M67 167h0M179 305h0M275 167h0M186 86h0M151 496h0M246 496h0M459 324h0M486 206h0M490 197h0M66 520h0M163 520h0M442 315h0M468 86h0M468 189h0M66 400h0M361 485h0M381 86h0M467 400h0M66 518h0M171 518h0M179 86h0M259 518h0M273 179h0M344 518h0M444 308h0M444 422h0M470 86h0M470 179h0M66 306h0M66 388h0" class="f1"/>
<path d="M364 153h0M491 153h0M66 514h0M158 514h0M473 197h0M66 511h0M171 511h0M262 511h0M276 86h0M276 179h0M449 304h0M475 86h0M475 179h0M66 297h0M175 297h0M175 487h0M183 86h0M267 487h0M281 86h0M281 173h0M466 297h0M493 173h0M66 307h0M66 383h0M66 452h0M395 86h0M519 86h0M273 86h0M66 502h0M66 486h0M494 86h0M66 309h0M66 506h0M479 86h0M66 504h0M481 86h0M66 301h0M67 170h0M185 86h0M278 86h0M157 405h0M357 505h0M453 320h0M453 405h0M480 199h0M66 500h0M66 304h0M275 86h0M66 479h0M66 487h0M493 191h0M66 466h0M509 86h0M171 86h0M373 189h0M458 316h0M66 483h0M160 314h0M254 483h0M468 314h0M66 485h0M495 86h0M66 481h0M66 310h0M258 499h0M66 322h0M67 202h0M161 86h0M66 491h0M66 405h0M377 86h0M485 194h0M66 308h0M170 507h0M177 86h0M478 180h0M487 204h0M66 501h0M165 86h0M66 319h0M66 312h0M66 499h0M484 86h0M66 482h0M173 86h0M497 86h0M66 324h0M66 480h0M152 480h0M158 86h0M246 480h0M471 324h0M499 86h0M499 206h0M66 321h0M66 513h0M261 86h0M473 86h0M66 311h0M66 495h0M480 191h0M66 505h0M480 86h0M66 323h0M66 498h0M67 204h0M153 498h0M160 86h0M247 498h0M260 86h0M485 86h0M485 204h0M66 477h0M500 86h0M66 475h0M66 305h0M66 417h0M66 489h0M491 86h0M66 316h0" class="fw"/>
<path d="M364 153h0M491 153h0M66 514h0M158 514h0M473 197h0M66 511h0M171 511h0M262 511h0M276 86h0M276 179h0M449 304h0M475 86h0M475 179h0M66 297h0M175 297h0M175 487h0M183 86h0M267 487h0M281 86h0M281 173h0M466 297h0M493 173h0M273 86h0M66 502h0M66 486h0M494 86h0M66 309h0M66 506h0M479 86h0M66 504h0M481 86h0M66 301h0M67 170h0M185 86h0M278 86h0M66 500h0M66 304h0M275 86h0M66 479h0M66 487h0M493 191h0M66 466h0M509 86h0M66 483h0M160 314h0M254 483h0M468 314h0M66 485h0M495 86h0M66 310h0M258 499h0M66 322h0M67 202h0M161 86h0M66 491h0M66 405h0M377 86h0M66 308h0M170 507h0M177 86h0M478 180h0M487 204h0M66 501h0M165 86h0M66 319h0M66 312h0M66 499h0M484 86h0M66 482h0M173 86h0M497 86h0M66 324h0M66 480h0M152 480h0M158 86h0M246 480h0M471 324h0M499 86h0M499 206h0M66 321h0M66 513h0M261 86h0M473 86h0M66 311h0M66 495h0M480 191h0M66 505h0M480 86h0M66 477h0M500 86h0M66 475h0M66 305h0M66 417h0M66 489h0M491 86h0M66 316h0" class="f0"/>
<path d="M66 307h0M66 383h0M66 452h0M395 86h0M519 86h0M157 405h0M357 505h0M453 320h0M453 405h0M480 199h0M171 86h0M373 189h0M458 316h0M66 481h0M485 194h0M66 323h0M66 498h0M67 204h0M153 498h0M160 86h0M247 498h0M260 86h0M485 86h0M485 204h0" class="f1"/>
<path d="M66 492h0M66 314h0M66 464h0M66 510h0M476 86h0M66 317h0M66 462h0M161 462h0M483 315h0M512 193h0M66 299h0M66 411h0M66 494h0M67 168h0M187 86h0M280 86h0M66 488h0M66 315h0M66 496h0M267 86h0M486 86h0M66 313h0M66 476h0M174 86h0M269 86h0M66 320h0M66 493h0M489 86h0M66 318h0M66 422h0M66 507h0M487 86h0M478 86h0M373 86h0M172 86h0M270 86h0M498 86h0M498 193h0M159 86h0M246 500h0M259 86h0M166 86h0M490 86h0M483 86h0M265 86h0M512 86h0M162 86h0M502 86h0M67 388h0M173 388h0M173 476h0M181 86h0M260 388h0M260 476h0M274 86h0M369 306h0M369 476h0M390 86h0M390 175h0M473 306h0M473 388h0M501 86h0M501 175h0M161 313h0M168 86h0M456 313h0M482 86h0M169 86h0M268 86h0M510 86h0M175 86h0M271 86h0M513 86h0M167 86h0M264 86h0M493 86h0M164 86h0M263 86h0M503 86h0M67 180h0M170 417h0M170 488h0M178 86h0M272 86h0M368 86h0M368 180h0M492 86h0M492 180h0M163 86h0M262 86h0M488 86h0M488 200h0M170 86h0M266 86h0M364 86h0M496 86h0M67 191h0M67 473h0M504 85h0M67 175h0M67 176h0M67 188h0M165 394h0M165 480h0M257 394h0M257 480h0M270 188h0M365 311h0M386 188h0M471 311h0M67 179h0M67 461h0M513 85h0M67 184h0M256 496h0M67 200h0M67 186h0M474 85h0M67 197h0M67 468h0" class="fw"/>
<path d="M66 492h0M66 314h0M66 464h0M66 510h0M476 86h0M66 317h0M66 462h0M161 462h0M483 315h0M512 193h0M66 488h0M66 315h0M66 496h0M267 86h0M486 86h0M66 313h0M66 476h0M174 86h0M269 86h0M66 320h0M66 493h0M489 86h0M66 318h0M66 422h0M66 507h0M487 86h0M478 86h0M373 86h0M166 86h0M490 86h0M483 86h0M512 86h0M162 86h0M502 86h0M161 313h0M168 86h0M456 313h0M482 86h0M169 86h0M268 86h0M510 86h0M175 86h0M271 86h0M513 86h0M167 86h0M264 86h0M493 86h0M164 86h0M263 86h0M503 86h0M163 86h0M262 86h0M488 86h0M488 200h0M170 86h0M266 86h0M364 86h0M496 86h0M67 191h0M67 473h0M504 85h0M67 179h0M67 461h0M513 85h0M67 184h0M256 496h0M67 186h0M474 85h0M67 197h0M67 468h0" class="f0"/>
<path d="M66 299h0M66 411h0M66 494h0M67 168h0M187 86h0M280 86h0M172 86h0M270 86h0M498 86h0M498 193h0M159 86h0M246 500h0M259 86h0M265 86h0M67 388h0M173 388h0M173 476h0M181 86h0M260 388h0M260 476h0M274 86h0M369 306h0M369 476h0M390 86h0M390 175h0M473 306h0M473 388h0M501 86h0M501 175h0M67 180h0M170 417h0M170 488h0M178 86h0M272 86h0M368 86h0M368 180h0M492 86h0M492 180h0M67 175h0M67 176h0M67 188h0M165 394h0M165 480h0M257 394h0M257 480h0M270 188h0M365 311h0M386 188h0M471 311h0M67 200h0" class="f1"/>
<path d="M508 85h0M67 183h0M175 85h0M67 193h0M67 194h0M67 199h0M67 173h0M183 85h0M277 85h0M67 206h0M67 182h0M67 185h0M67 201h0M67 189h0M67 190h0M67 198h0M67 205h0M67 192h0M67 181h0M67 162h0M67 195h0M67 163h0M67 187h0M461 311h0M67 196h0M68 178h0M179 85h0M160 492h0M490 194h0M512 85h0M171 483h0M496 179h0M67 513h0M161 513h0M251 513h0M447 318h0M473 85h0M473 193h0M68 177h0M180 85h0M162 481h0M498 191h0M67 295h0M192 85h0M283 85h0M481 85h0M166 499h0M160 507h0M478 194h0M67 304h0M68 174h0M174 507h0M182 85h0M276 85h0M276 174h0M364 174h0M451 304h0M478 174h0M67 298h0M281 85h0M477 85h0M68 166h0M188 85h0M278 85h0M499 85h0M67 307h0M273 85h0M488 182h0M503 85h0M67 464h0M510 85h0M191 85h0M279 85h0M163 306h0M261 477h0M274 189h0M361 477h0M381 85h0M163 85h0M67 520h0M468 85h0M468 194h0M253 481h0M470 316h0M271 85h0M176 85h0M274 85h0M67 458h0M515 85h0M496 85h0M178 85h0M67 476h0M173 85h0M501 85h0M68 181h0M177 85h0M258 500h0M272 85h0M457 308h0M483 181h0M254 506h0M452 314h0M479 85h0M67 505h0M480 85h0M164 405h0M377 189h0M158 85h0M259 85h0M67 323h0M497 85h0M67 394h0M386 85h0M485 85h0M67 507h0M171 85h0M478 85h0M67 510h0M160 510h0M476 85h0" class="fw"/>
<path d="M508 85h0M67 183h0M175 85h0M67 193h0M67 194h0M67 199h0M67 173h0M183 85h0M277 85h0M67 206h0M67 182h0M67 185h0M67 201h0M67 189h0M67 190h0M67 198h0M67 205h0M67 192h0M67 181h0M67 162h0M67 195h0M67 163h0M67 187h0M461 311h0M68 178h0M179 85h0M160 492h0M490 194h0M512 85h0M171 483h0M496 179h0M68 177h0M180 85h0M162 481h0M498 191h0M67 295h0M192 85h0M283 85h0M481 85h0M166 499h0M160 507h0M478 194h0M67 304h0M68 174h0M174 507h0M182 85h0M276 85h0M276 174h0M364 174h0M451 304h0M478 174h0M67 298h0M281 85h0M477 85h0M499 85h0M67 307h0M273 85h0M488 182h0M503 85h0M67 464h0M510 85h0M163 85h0M253 481h0M470 316h0M271 85h0M176 85h0M274 85h0M67 458h0M515 85h0M496 85h0M178 85h0M67 476h0M173 85h0M501 85h0M68 181h0M177 85h0M258 500h0M272 85h0M457 308h0M483 181h0M254 506h0M452 314h0M479 85h0M67 505h0M480 85h0M158 85h0M259 85h0M67 323h0M497 85h0M67 394h0M386 85h0M485 85h0M67 507h0M171 85h0M478 85h0M67 510h0M160 510h0M476 85h0" class="f0"/>
<path d="M67 196h0M67 513h0M161 513h0M251 513h0M447 318h0M473 85h0M473 193h0M68 166h0M188 85h0M278 85h0M191 85h0M279 85h0M163 306h0M261 477h0M274 189h0M361 477h0M381 85h0M67 520h0M468 85h0M468 194h0M164 405h0M377 189h0" class="f1"/>
<path d="M476 194h0M164 85h0M262 85h0M500 85h0M67 500h0M483 85h0M67 466h0M509 85h0M68 169h0M177 305h0M177 405h0M186 85h0M261 405h0M275 85h0M275 169h0M357 305h0M377 85h0M377 169h0M490 169h0M368 85h0M498 85h0M268 85h0M170 85h0M490 85h0M489 85h0M165 85h0M263 85h0M155 486h0M162 85h0M494 201h0M162 496h0M486 85h0M486 191h0M168 85h0M493 193h0M159 485h0M264 85h0M495 85h0M495 195h0M159 85h0M260 85h0M493 85h0M167 85h0M373 85h0M494 85h0M270 85h0M487 85h0M169 85h0M266 85h0M492 85h0M172 85h0M491 85h0M491 188h0M161 85h0M261 85h0M484 85h0M67 475h0M167 315h0M174 85h0M267 85h0M267 184h0M474 315h0M502 85h0M181 85h0M269 85h0M488 85h0M166 85h0M265 85h0M364 85h0M482 85h0M67 301h0M178 301h0M186 84h0M278 168h0M348 301h0M466 301h0M493 168h0M67 512h0M474 84h0M67 467h0M67 308h0M165 308h0M165 482h0M259 482h0M273 84h0M273 186h0M469 308h0M484 200h0M67 305h0M68 175h0M173 489h0M261 489h0M464 305h0M466 324h0M493 205h0M181 84h0M68 173h0M183 84h0M67 299h0M67 310h0M67 487h0M67 309h0M67 383h0M67 472h0M505 84h0M67 485h0M495 84h0M158 508h0M477 196h0M67 496h0M250 496h0M67 495h0M67 486h0M67 300h0M67 481h0M67 306h0M67 479h0M68 182h0M176 84h0M274 84h0" class="fw"/>
<path d="M476 194h0M164 85h0M262 85h0M500 85h0M67 500h0M483 85h0M67 466h0M509 85h0M368 85h0M498 85h0M268 85h0M170 85h0M490 85h0M489 85h0M162 496h0M486 85h0M486 191h0M168 85h0M493 193h0M159 485h0M264 85h0M495 85h0M495 195h0M159 85h0M260 85h0M493 85h0M167 85h0M373 85h0M494 85h0M270 85h0M487 85h0M169 85h0M266 85h0M492 85h0M172 85h0M491 85h0M491 188h0M161 85h0M261 85h0M484 85h0M67 475h0M167 315h0M174 85h0M267 85h0M267 184h0M474 315h0M502 85h0M181 85h0M269 85h0M488 85h0M166 85h0M265 85h0M364 85h0M482 85h0M67 467h0M484 200h0M67 305h0M68 175h0M173 489h0M261 489h0M464 305h0M466 324h0M493 205h0M181 84h0M68 173h0M183 84h0M67 299h0M67 310h0M67 487h0M67 496h0M250 496h0M67 495h0M67 486h0M67 300h0M67 481h0M67 306h0M67 479h0M68 182h0M176 84h0M274 84h0" class="f0"/>
<path d="M68 169h0M177 305h0M177 405h0M186 85h0M261 405h0M275 85h0M275 169h0M357 305h0M377 85h0M377 169h0M490 169h0M165 85h0M263 85h0M155 486h0M162 85h0M494 201h0M67 301h0M178 301h0M186 84h0M278 168h0M348 301h0M466 301h0M493 168h0M67 512h0M474 84h0M67 308h0M165 308h0M165 482h0M259 482h0M273 84h0M273 186h0M469 308h0M67 309h0M67 383h0M67 472h0M505 84h0M67 485h0M495 84h0M158 508h0M477 196h0" class="f1"/>
<path d="M67 474h0M503 84h0M67 405h0M67 480h0M357 480h0M471 320h0M471 405h0M67 462h0M67 314h0M67 322h0M67 488h0M68 202h0M67 516h0M68 197h0M67 492h0M67 494h0M67 417h0M67 316h0M67 506h0M452 316h0M479 84h0M485 185h0M67 482h0M67 313h0M67 315h0M67 498h0M67 312h0M67 499h0M68 180h0M170 312h0M170 499h0M269 180h0M484 180h0M67 318h0M67 489h0M67 411h0M67 483h0M353 483h0M468 411h0M67 311h0M67 400h0M67 493h0M361 311h0M361 493h0M462 400h0M67 514h0M252 514h0M67 321h0M67 508h0M156 508h0M477 200h0M67 324h0M67 477h0M67 319h0M67 502h0M67 317h0M67 491h0M67 320h0M67 504h0M67 302h0M67 422h0M67 501h0M68 203h0M458 323h0M68 517h0M158 517h0M251 517h0M445 318h0M471 84h0M485 188h0M156 504h0M361 504h0M381 200h0M454 400h0M481 200h0M157 510h0M476 199h0M68 195h0M498 196h0M68 186h0M68 200h0M68 183h0M68 388h0M369 488h0M390 84h0M465 319h0M465 388h0M492 198h0M68 176h0M68 305h0M180 84h0M68 206h0M151 417h0M151 511h0M246 417h0M246 511h0M348 324h0M368 206h0M475 84h0M475 206h0M68 185h0M68 167h0M179 487h0M264 417h0M264 487h0M278 167h0M348 302h0M348 487h0M368 167h0M466 417h0M493 167h0M68 192h0M68 463h0M511 84h0M68 187h0M395 84h0M68 205h0M152 486h0M158 84h0M247 486h0" class="fw"/>
<path d="M67 474h0M503 84h0M67 314h0M67 322h0M67 488h0M68 202h0M67 516h0M68 197h0M67 492h0M67 494h0M67 417h0M67 316h0M67 506h0M452 316h0M479 84h0M485 185h0M67 482h0M67 313h0M67 315h0M67 498h0M67 312h0M67 499h0M68 180h0M170 312h0M170 499h0M269 180h0M484 180h0M67 318h0M67 489h0M67 411h0M67 483h0M353 483h0M468 411h0M67 321h0M67 508h0M156 508h0M477 200h0M67 324h0M67 477h0M67 319h0M67 502h0M67 317h0M67 491h0M67 320h0M67 504h0M67 302h0M67 422h0M67 501h0M68 195h0M68 186h0M68 200h0M68 183h0M68 176h0M68 305h0M180 84h0M68 185h0M68 192h0M68 463h0M511 84h0M68 205h0M152 486h0M158 84h0M247 486h0" class="f0"/>
<path d="M67 405h0M67 480h0M357 480h0M471 320h0M471 405h0M67 462h0M67 311h0M67 400h0M67 493h0M361 311h0M361 493h0M462 400h0M67 514h0M252 514h0M68 203h0M458 323h0M68 517h0M158 517h0M251 517h0M445 318h0M471 84h0M485 188h0M156 504h0M361 504h0M381 200h0M454 400h0M481 200h0M157 510h0M476 199h0M498 196h0M68 388h0M369 488h0M390 84h0M465 319h0M465 388h0M492 198h0M68 206h0M151 417h0M151 511h0M246 417h0M246 511h0M348 324h0M368 206h0M475 84h0M475 206h0M68 167h0M179 487h0M264 417h0M264 487h0M278 167h0M348 302h0M348 487h0M368 167h0M466 417h0M493 167h0M68 187h0M395 84h0" class="f1"/>
<path d="M259 84h0M467 324h0M494 205h0M68 189h0M68 190h0M472 84h0M68 184h0M68 194h0M68 163h0M182 300h0M182 498h0M191 84h0M265 417h0M279 163h0M348 300h0M485 163h0M68 168h0M280 84h0M68 179h0M178 84h0M68 201h0M68 191h0M162 475h0M474 317h0M502 191h0M68 196h0M68 162h0M68 295h0M183 295h0M183 504h0M192 84h0M269 422h0M269 504h0M283 84h0M283 162h0M344 295h0M364 162h0M454 295h0M481 162h0M68 188h0M68 442h0M164 309h0M164 442h0M258 442h0M272 188h0M344 442h0M498 309h0M498 422h0M527 84h0M527 188h0M68 199h0M68 198h0M68 193h0M68 481h0M498 84h0M68 298h0M281 84h0M275 84h0M272 84h0M68 473h0M175 84h0M504 84h0M185 84h0M278 84h0M486 84h0M158 482h0M497 197h0M68 504h0M481 84h0M68 513h0M152 513h0M159 84h0M247 513h0M447 324h0M473 205h0M153 411h0M153 487h0M160 84h0M247 487h0M260 84h0M373 204h0M466 323h0M493 204h0M373 84h0M187 84h0M277 84h0M167 84h0M157 480h0M251 480h0M368 84h0M471 318h0M499 84h0M499 198h0M268 193h0M487 84h0M512 84h0M270 84h0M68 476h0M501 84h0M496 84h0M161 487h0M493 84h0M509 84h0M502 84h0M497 84h0M158 505h0M165 84h0M250 505h0M453 319h0M480 84h0M480 197h0M68 405h0M159 507h0M357 318h0M357 507h0M377 84h0M478 84h0M478 195h0M69 202h0M154 499h0" class="fw"/>
<path d="M259 84h0M467 324h0M494 205h0M68 189h0M68 184h0M68 194h0M68 168h0M280 84h0M68 179h0M178 84h0M68 201h0M68 191h0M162 475h0M474 317h0M502 191h0M68 196h0M68 162h0M68 295h0M183 295h0M183 504h0M192 84h0M269 422h0M269 504h0M283 84h0M283 162h0M344 295h0M364 162h0M454 295h0M481 162h0M68 199h0M68 193h0M68 481h0M498 84h0M68 298h0M281 84h0M275 84h0M272 84h0M68 473h0M175 84h0M504 84h0M185 84h0M278 84h0M486 84h0M158 482h0M497 197h0M68 504h0M481 84h0M153 411h0M153 487h0M160 84h0M247 487h0M260 84h0M373 204h0M466 323h0M493 204h0M373 84h0M187 84h0M277 84h0M167 84h0M157 480h0M251 480h0M368 84h0M471 318h0M499 84h0M499 198h0M268 193h0M487 84h0M512 84h0M270 84h0M68 476h0M501 84h0M496 84h0M161 487h0M493 84h0M509 84h0M502 84h0M497 84h0M158 505h0M165 84h0M250 505h0M453 319h0M480 84h0M480 197h0M68 405h0M159 507h0M357 318h0M357 507h0M377 84h0M478 84h0M478 195h0M69 202h0M154 499h0" class="f0"/>
<path d="M68 190h0M472 84h0M68 163h0M182 300h0M182 498h0M191 84h0M265 417h0M279 163h0M348 300h0M485 163h0M68 188h0M68 442h0M164 309h0M164 442h0M258 442h0M272 188h0M344 442h0M498 309h0M498 422h0M527 84h0M527 188h0M68 198h0M68 513h0M152 513h0M159 84h0M247 513h0M447 324h0M473 205h0" class="f1"/>
<path d="M161 84h0M248 499h0M261 84h0M457 322h0M484 84h0M484 202h0M492 84h0M68 514h0M473 84h0M163 84h0M166 84h0M173 84h0M461 314h0M155 320h0M162 84h0M262 84h0M489 84h0M485 84h0M381 84h0M477 84h0M169 84h0M267 84h0M68 300h0M69 167h0M179 300h0M179 492h0M188 84h0M279 84h0M279 167h0M490 84h0M490 167h0M174 84h0M269 84h0M170 84h0M271 84h0M500 84h0M164 84h0M263 84h0M482 84h0M172 84h0M483 84h0M265 84h0M491 84h0M264 84h0M508 84h0M488 84h0M168 84h0M266 84h0M476 84h0M171 84h0M268 84h0M364 84h0M494 84h0M494 189h0M168 493h0M256 493h0M489 182h0M157 479h0M69 166h0M180 480h0M188 83h0M264 480h0M278 166h0M471 302h0M499 166h0M68 508h0M166 508h0M451 311h0M477 185h0M68 323h0M69 205h0M260 83h0M68 383h0M68 452h0M395 83h0M519 83h0M68 400h0M489 185h0M68 466h0M68 311h0M68 464h0M68 322h0M69 203h0M160 83h0M261 83h0M68 324h0M69 206h0M152 477h0M158 83h0M246 477h0M259 83h0M472 324h0M500 206h0M68 312h0M173 302h0M173 507h0M263 507h0M277 176h0M451 302h0M478 176h0M254 510h0M476 189h0M69 201h0M162 83h0M68 309h0M68 505h0M68 486h0M68 467h0M161 467h0M508 83h0M508 193h0M68 510h0M476 83h0M68 321h0M174 304h0M174 494h0M68 493h0M68 307h0M69 176h0M69 204h0" class="fw"/>
<path d="M161 84h0M248 499h0M261 84h0M457 322h0M484 84h0M484 202h0M492 84h0M68 514h0M473 84h0M163 84h0M166 84h0M155 320h0M162 84h0M262 84h0M489 84h0M485 84h0M169 84h0M267 84h0M68 300h0M69 167h0M179 300h0M179 492h0M188 84h0M279 84h0M279 167h0M490 84h0M490 167h0M174 84h0M269 84h0M170 84h0M271 84h0M500 84h0M164 84h0M263 84h0M482 84h0M172 84h0M483 84h0M265 84h0M491 84h0M264 84h0M508 84h0M168 84h0M266 84h0M476 84h0M171 84h0M268 84h0M364 84h0M494 84h0M494 189h0M157 479h0M69 166h0M180 480h0M188 83h0M264 480h0M278 166h0M471 302h0M499 166h0M68 508h0M166 508h0M451 311h0M477 185h0M68 323h0M69 205h0M260 83h0M489 185h0M68 466h0M68 311h0M68 464h0M68 324h0M69 206h0M152 477h0M158 83h0M246 477h0M259 83h0M472 324h0M500 206h0M68 312h0M69 201h0M162 83h0M68 309h0M68 505h0M68 486h0M68 467h0M161 467h0M508 83h0M508 193h0M68 321h0M68 493h0M68 307h0M69 176h0M69 204h0" class="f0"/>
<path d="M173 84h0M461 314h0M381 84h0M477 84h0M488 84h0M168 493h0M256 493h0M489 182h0M68 383h0M68 452h0M395 83h0M519 83h0M68 400h0M68 322h0M69 203h0M160 83h0M261 83h0M173 302h0M173 507h0M263 507h0M277 176h0M451 302h0M478 176h0M254 510h0M476 189h0M68 510h0M476 83h0M174 304h0M174 494h0" class="f1"/>
<path d="M159 83h0M68 472h0M159 472h0M252 472h0M505 83h0M505 195h0M68 507h0M68 477h0M68 483h0M496 83h0M68 498h0M158 479h0M500 197h0M68 308h0M68 394h0M69 180h0M178 83h0M68 485h0M495 83h0M68 501h0M68 500h0M68 499h0M68 470h0M69 196h0M506 83h0M68 480h0M69 189h0M68 511h0M172 83h0M475 83h0M68 304h0M276 83h0M68 487h0M69 186h0M270 83h0M68 492h0M68 299h0M68 411h0M69 168h0M179 299h0M179 411h0M187 83h0M266 411h0M266 494h0M280 83h0M280 168h0M353 299h0M353 494h0M373 168h0M461 411h0M488 168h0M68 302h0M69 173h0M175 302h0M175 502h0M263 502h0M277 83h0M277 173h0M455 302h0M482 173h0M68 310h0M68 316h0M68 482h0M497 83h0M68 314h0M68 475h0M502 83h0M68 494h0M68 317h0M68 491h0M68 301h0M68 496h0M69 170h0M185 83h0M278 83h0M68 489h0M68 319h0M68 516h0M69 197h0M165 83h0M472 83h0M68 320h0M68 495h0M68 315h0M68 488h0M465 315h0M492 191h0M68 313h0M68 417h0M68 462h0M68 318h0M68 502h0M68 306h0M68 422h0M68 479h0M69 182h0M176 83h0M69 161h0M192 83h0M279 83h0M69 199h0M490 199h0M490 83h0M253 411h0M482 316h0M510 83h0M69 179h0M451 308h0M478 179h0M69 177h0M180 83h0M69 200h0M163 83h0M69 159h0M69 293h0M193 83h0M285 83h0M69 187h0M173 83h0M486 83h0" class="fw"/>
<path d="M159 83h0M68 472h0M159 472h0M252 472h0M505 83h0M505 195h0M68 507h0M68 477h0M68 483h0M496 83h0M68 498h0M158 479h0M500 197h0M68 308h0M68 394h0M69 180h0M178 83h0M68 485h0M495 83h0M68 501h0M68 500h0M68 499h0M68 470h0M69 196h0M506 83h0M68 480h0M69 189h0M68 304h0M276 83h0M68 487h0M69 186h0M270 83h0M68 492h0M68 299h0M68 411h0M69 168h0M179 299h0M179 411h0M187 83h0M266 411h0M266 494h0M280 83h0M280 168h0M353 299h0M353 494h0M373 168h0M461 411h0M488 168h0M68 302h0M69 173h0M175 302h0M175 502h0M263 502h0M277 83h0M277 173h0M455 302h0M482 173h0M68 310h0M68 316h0M68 482h0M497 83h0M68 314h0M68 475h0M502 83h0M68 494h0M68 317h0M68 491h0M68 301h0M68 496h0M69 170h0M185 83h0M278 83h0M68 489h0M68 320h0M68 495h0M68 315h0M68 488h0M465 315h0M492 191h0M68 313h0M68 417h0M68 462h0M68 318h0M68 502h0M68 306h0M68 422h0M68 479h0M69 182h0M176 83h0M69 161h0M192 83h0M279 83h0M490 83h0M253 411h0M482 316h0M510 83h0M69 179h0M451 308h0M478 179h0M69 177h0M180 83h0M69 200h0M163 83h0M69 159h0M69 293h0M193 83h0M285 83h0M69 187h0M173 83h0M486 83h0" class="f0"/>
<path d="M68 511h0M172 83h0M475 83h0M68 319h0M68 516h0M69 197h0M165 83h0M472 83h0M69 199h0M490 199h0" class="f1"/>
<path d="M373 83h0M262 83h0M478 83h0M512 83h0M493 83h0M485 83h0M69 185h0M174 83h0M488 185h0M181 83h0M273 175h0M499 83h0M499 175h0M489 83h0M69 175h0M174 417h0M174 486h0M182 83h0M261 486h0M274 83h0M348 306h0M69 181h0M177 83h0M273 83h0M479 83h0M161 481h0M252 481h0M470 317h0M498 192h0M69 192h0M69 174h0M175 394h0M183 83h0M262 394h0M275 174h0M365 304h0M386 83h0M386 174h0M69 190h0M170 83h0M268 83h0M500 83h0M483 83h0M69 188h0M164 502h0M171 83h0M381 83h0M482 83h0M482 188h0M69 194h0M167 83h0M492 83h0M69 195h0M166 83h0M494 83h0M269 83h0M69 183h0M272 83h0M488 83h0M266 83h0M473 83h0M69 178h0M179 83h0M275 83h0M487 83h0M69 184h0M175 83h0M271 83h0M484 83h0M69 191h0M162 508h0M169 83h0M267 83h0M477 83h0M477 191h0M69 193h0M168 83h0M252 505h0M265 83h0M453 317h0M480 83h0M491 83h0M264 83h0M368 83h0M498 83h0M69 198h0M164 83h0M263 83h0M364 83h0M509 83h0M263 200h0M368 200h0M157 493h0M489 198h0M69 452h0M170 383h0M170 452h0M259 383h0M259 452h0M273 180h0M373 307h0M373 452h0M395 82h0M395 180h0M490 307h0M490 383h0M519 82h0M519 180h0M155 499h0M484 201h0M155 475h0M249 475h0M474 321h0M502 201h0M69 516h0M250 516h0M446 319h0M472 82h0M159 480h0M252 480h0" class="fw"/>
<path d="M262 83h0M478 83h0M512 83h0M493 83h0M485 83h0M69 185h0M174 83h0M488 185h0M181 83h0M273 175h0M499 83h0M499 175h0M489 83h0M69 181h0M177 83h0M273 83h0M479 83h0M161 481h0M252 481h0M470 317h0M498 192h0M69 192h0M69 190h0M170 83h0M268 83h0M500 83h0M483 83h0M69 194h0M167 83h0M492 83h0M69 195h0M166 83h0M494 83h0M269 83h0M69 183h0M272 83h0M488 83h0M266 83h0M473 83h0M69 178h0M179 83h0M275 83h0M487 83h0M69 184h0M175 83h0M271 83h0M484 83h0M69 191h0M162 508h0M169 83h0M267 83h0M477 83h0M477 191h0M69 193h0M168 83h0M252 505h0M265 83h0M453 317h0M480 83h0M491 83h0M264 83h0M368 83h0M498 83h0M69 198h0M164 83h0M263 83h0M364 83h0M509 83h0M157 493h0M489 198h0M155 475h0M249 475h0M474 321h0M502 201h0M69 516h0M250 516h0M446 319h0M472 82h0M159 480h0M252 480h0" class="f0"/>
<path d="M373 83h0M69 175h0M174 417h0M174 486h0M182 83h0M261 486h0M274 83h0M348 306h0M69 174h0M175 394h0M183 83h0M262 394h0M275 174h0M365 304h0M386 83h0M386 174h0M69 188h0M164 502h0M171 83h0M381 83h0M482 83h0M482 188h0M263 200h0M368 200h0M69 452h0M170 383h0M170 452h0M259 383h0M259 452h0M273 180h0M373 307h0M373 452h0M395 82h0M395 180h0M490 307h0M490 383h0M519 82h0M519 180h0M155 499h0M484 201h0" class="f1"/>
<path d="M499 195h0M482 189h0M70 179h0M179 82h0M153 495h0M247 495h0M460 323h0M487 205h0M479 192h0M69 505h0M480 82h0M483 189h0M70 173h0M175 304h0M175 417h0M175 494h0M183 82h0M276 82h0M276 173h0M368 173h0M488 173h0M157 508h0M477 198h0M69 400h0M156 400h0M156 514h0M250 514h0M381 82h0M381 199h0M446 320h0M473 199h0M69 464h0M162 464h0M254 464h0M482 314h0M510 82h0M510 192h0M160 511h0M475 82h0M475 194h0M474 82h0M69 517h0M471 82h0M162 466h0M254 466h0M481 314h0M509 191h0M69 514h0M163 510h0M476 190h0M481 189h0M163 507h0M478 189h0M69 298h0M188 82h0M281 82h0M69 477h0M69 394h0M70 180h0M178 82h0M386 82h0M166 482h0M497 186h0M154 466h0M248 466h0M353 466h0M373 202h0M481 322h0M481 411h0M509 82h0M509 202h0M169 500h0M176 82h0M457 312h0M483 182h0M69 470h0M160 470h0M344 470h0M478 316h0M506 82h0M506 194h0M70 185h0M69 507h0M478 82h0M69 299h0M70 161h0M192 82h0M279 82h0M69 388h0M163 491h0M369 491h0M390 82h0M390 189h0M463 388h0M491 189h0M484 82h0M69 506h0M479 82h0M180 82h0M69 463h0M511 82h0M70 205h0M152 493h0M159 82h0M246 493h0M489 205h0M163 310h0M257 479h0M271 190h0M472 310h0M69 302h0M70 167h0M179 302h0M179 501h0M187 82h0M263 501h0M277 82h0M277 167h0M456 302h0M482 167h0" class="fw"/>
<path d="M499 195h0M482 189h0M153 495h0M247 495h0M460 323h0M487 205h0M479 192h0M69 505h0M480 82h0M483 189h0M69 464h0M162 464h0M254 464h0M482 314h0M510 82h0M510 192h0M474 82h0M69 517h0M471 82h0M162 466h0M254 466h0M481 314h0M509 191h0M69 514h0M163 510h0M476 190h0M481 189h0M163 507h0M478 189h0M69 298h0M188 82h0M281 82h0M69 477h0M69 394h0M70 180h0M178 82h0M386 82h0M166 482h0M497 186h0M169 500h0M176 82h0M457 312h0M483 182h0M70 185h0M69 299h0M70 161h0M192 82h0M279 82h0M484 82h0M180 82h0M69 463h0M511 82h0M70 205h0M152 493h0M159 82h0M246 493h0M489 205h0M163 310h0M257 479h0M271 190h0M472 310h0M69 302h0M70 167h0M179 302h0M179 501h0M187 82h0M263 501h0M277 82h0M277 167h0M456 302h0M482 167h0" class="f0"/>
<path d="M70 179h0M179 82h0M70 173h0M175 304h0M175 417h0M175 494h0M183 82h0M276 82h0M276 173h0M368 173h0M488 173h0M157 508h0M477 198h0M69 400h0M156 400h0M156 514h0M250 514h0M381 82h0M381 199h0M446 320h0M473 199h0M160 511h0M475 82h0M475 194h0M154 466h0M248 466h0M353 466h0M373 202h0M481 322h0M481 411h0M509 82h0M509 202h0M69 470h0M160 470h0M344 470h0M478 316h0M506 82h0M506 194h0M69 507h0M478 82h0M69 388h0M163 491h0M369 491h0M390 82h0M390 189h0M463 388h0M491 189h0M69 506h0M479 82h0" class="f1"/>
<path d="M163 82h0M512 82h0M166 476h0M173 82h0M254 476h0M473 315h0M501 82h0M501 186h0M69 481h0M498 82h0M268 82h0M487 82h0M69 324h0M70 206h0M158 82h0M259 82h0M181 82h0M476 82h0M69 323h0M70 203h0M160 82h0M260 82h0M69 479h0M500 82h0M69 461h0M168 461h0M258 461h0M484 309h0M513 82h0M513 183h0M481 82h0M69 480h0M161 82h0M499 82h0M70 192h0M377 82h0M491 82h0M167 473h0M257 473h0M271 82h0M476 310h0M504 184h0M263 82h0M368 82h0M503 82h0M493 82h0M69 513h0M155 513h0M162 82h0M248 513h0M261 82h0M447 321h0M473 82h0M473 201h0M167 493h0M373 82h0M373 184h0M489 184h0M492 82h0M69 311h0M69 473h0M270 82h0M504 82h0M175 82h0M70 181h0M177 82h0M272 82h0M488 82h0M489 82h0M171 82h0M267 82h0M494 82h0M164 82h0M262 82h0M185 82h0M275 82h0M69 502h0M482 82h0M69 500h0M168 82h0M483 82h0M167 82h0M497 82h0M69 306h0M174 306h0M174 422h0M174 485h0M182 82h0M260 485h0M274 82h0M274 175h0M467 306h0M495 175h0M265 82h0M165 82h0M496 82h0M69 508h0M172 82h0M269 82h0M477 82h0M69 307h0M69 475h0M174 82h0M273 82h0M502 82h0M166 82h0M264 82h0M490 82h0M163 485h0M170 82h0M495 82h0M495 190h0M169 82h0M485 82h0M266 82h0M364 82h0M486 82h0M70 184h0M69 411h0M69 487h0" class="fw"/>
<path d="M163 82h0M512 82h0M166 476h0M173 82h0M254 476h0M473 315h0M501 82h0M501 186h0M69 481h0M498 82h0M268 82h0M487 82h0M69 324h0M70 206h0M158 82h0M259 82h0M181 82h0M476 82h0M69 323h0M70 203h0M160 82h0M260 82h0M69 479h0M500 82h0M69 461h0M168 461h0M258 461h0M484 309h0M513 82h0M513 183h0M481 82h0M69 480h0M161 82h0M499 82h0M70 192h0M377 82h0M491 82h0M263 82h0M368 82h0M503 82h0M493 82h0M69 513h0M155 513h0M162 82h0M248 513h0M261 82h0M447 321h0M473 82h0M473 201h0M167 493h0M373 82h0M373 184h0M489 184h0M492 82h0M69 311h0M69 473h0M270 82h0M504 82h0M175 82h0M70 181h0M177 82h0M272 82h0M488 82h0M489 82h0M171 82h0M267 82h0M494 82h0M164 82h0M262 82h0M185 82h0M275 82h0M69 502h0M482 82h0M69 500h0M168 82h0M483 82h0M167 82h0M497 82h0M69 306h0M174 306h0M174 422h0M174 485h0M182 82h0M260 485h0M274 82h0M274 175h0M467 306h0M495 175h0M265 82h0M165 82h0M496 82h0M69 307h0M69 475h0M174 82h0M273 82h0M502 82h0M166 82h0M264 82h0M490 82h0M169 82h0M485 82h0M266 82h0M364 82h0M486 82h0M70 184h0M69 411h0" class="f0"/>
<path d="M167 473h0M257 473h0M271 82h0M476 310h0M504 184h0M69 508h0M172 82h0M269 82h0M477 82h0M163 485h0M170 82h0M495 82h0M495 190h0M69 487h0" class="f1"/>
<path d="M69 462h0M159 494h0M461 318h0M488 195h0M69 511h0M70 200h0M69 321h0M69 493h0M70 201h0M69 310h0M69 486h0M70 183h0M168 486h0M494 183h0M69 491h0M69 489h0M70 178h0M69 476h0M501 81h0M69 355h0M165 355h0M165 474h0M253 355h0M394 316h0M394 474h0M417 81h0M417 187h0M475 355h0M503 187h0M69 308h0M69 499h0M69 314h0M69 482h0M69 317h0M69 495h0M69 305h0M69 494h0M70 172h0M69 474h0M69 466h0M70 193h0M69 504h0M69 320h0M69 501h0M69 510h0M69 315h0M69 498h0M69 309h0M69 383h0M69 472h0M258 383h0M373 309h0M373 472h0M477 383h0M69 322h0M69 488h0M70 202h0M69 313h0M69 483h0M69 316h0M69 304h0M69 492h0M70 170h0M177 304h0M177 492h0M185 81h0M262 492h0M275 170h0M490 170h0M69 417h0M69 512h0M160 512h0M251 512h0M348 512h0M448 318h0M448 417h0M474 194h0M69 318h0M69 467h0M160 467h0M251 467h0M344 467h0M480 318h0M480 422h0M508 81h0M508 194h0M69 312h0M69 422h0M69 496h0M70 187h0M69 319h0M69 405h0M69 485h0M70 197h0M70 188h0M70 189h0M70 199h0M70 186h0M70 190h0M70 194h0M70 182h0M70 195h0M70 198h0M70 191h0M70 196h0M70 176h0M70 177h0M172 305h0M172 417h0M172 474h0M180 81h0M261 474h0M275 81h0M275 177h0M348 474h0M368 177h0M475 305h0M475 417h0M503 177h0M70 175h0" class="fw"/>
<path d="M69 462h0M159 494h0M461 318h0M488 195h0M69 511h0M70 200h0M69 321h0M69 493h0M70 201h0M69 310h0M69 486h0M70 183h0M168 486h0M494 183h0M69 491h0M69 489h0M70 178h0M69 476h0M501 81h0M69 308h0M69 499h0M69 314h0M69 482h0M69 317h0M69 495h0M69 305h0M69 494h0M70 172h0M69 474h0M69 466h0M70 193h0M69 510h0M69 315h0M69 498h0M69 322h0M69 488h0M70 202h0M69 313h0M69 483h0M69 316h0M69 304h0M69 492h0M70 170h0M177 304h0M177 492h0M185 81h0M262 492h0M275 170h0M490 170h0M69 318h0M69 467h0M160 467h0M251 467h0M344 467h0M480 318h0M480 422h0M508 81h0M508 194h0M69 312h0M69 422h0M69 496h0M70 187h0M70 197h0M70 188h0M70 189h0M70 186h0M70 190h0M70 194h0M70 182h0M70 195h0M70 198h0M70 191h0M70 196h0M70 175h0" class="f0"/>
<path d="M69 355h0M165 355h0M165 474h0M253 355h0M394 316h0M394 474h0M417 81h0M417 187h0M475 355h0M503 187h0M69 504h0M69 320h0M69 501h0M69 309h0M69 383h0M69 472h0M258 383h0M373 309h0M373 472h0M477 383h0M69 417h0M69 512h0M160 512h0M251 512h0M348 512h0M448 318h0M448 417h0M474 194h0M69 319h0M69 405h0M69 485h0M70 199h0M70 176h0M70 177h0M172 305h0M172 417h0M172 474h0M180 81h0M261 474h0M275 81h0M275 177h0M348 474h0M368 177h0M475 305h0M475 417h0M503 177h0" class="f1"/>
<path d="M165 489h0M173 312h0M269 176h0M506 81h0M505 81h0M361 494h0M461 400h0M251 405h0M357 486h0M377 195h0M192 81h0M279 81h0M171 493h0M258 493h0M489 178h0M158 474h0M157 394h0M250 394h0M365 492h0M386 198h0M70 309h0M71 176h0M173 394h0M173 488h0M181 81h0M258 488h0M272 81h0M386 176h0M465 309h0M492 176h0M496 81h0M154 479h0M160 81h0M248 479h0M472 322h0M500 203h0M70 307h0M273 81h0M70 298h0M71 167h0M179 298h0M179 422h0M179 494h0M188 81h0M267 494h0M281 81h0M281 167h0M344 298h0M364 167h0M461 298h0M488 167h0M158 492h0M386 81h0M70 474h0M503 81h0M177 81h0M163 505h0M480 190h0M70 288h0M71 163h0M191 81h0M288 81h0M70 461h0M513 81h0M353 496h0M459 411h0M502 81h0M70 400h0M71 143h0M206 81h0M381 81h0M477 81h0M70 445h0M166 445h0M256 445h0M344 445h0M495 312h0M495 422h0M525 81h0M525 186h0M257 505h0M453 310h0M480 81h0M484 81h0M71 178h0M179 81h0M276 81h0M475 81h0M472 81h0M173 81h0M504 81h0M70 464h0M256 464h0M348 464h0M482 311h0M482 417h0M510 81h0M510 185h0M486 81h0M175 81h0M271 81h0M493 81h0M174 81h0M269 81h0M168 405h0M256 479h0M357 479h0M377 182h0M472 405h0M495 81h0M158 462h0M250 462h0M483 320h0M512 81h0M512 197h0M162 81h0M172 81h0M479 81h0M70 466h0M509 81h0" class="fw"/>
<path d="M165 489h0M173 312h0M269 176h0M506 81h0M505 81h0M192 81h0M279 81h0M158 474h0M496 81h0M154 479h0M160 81h0M248 479h0M472 322h0M500 203h0M70 307h0M273 81h0M70 298h0M71 167h0M179 298h0M179 422h0M179 494h0M188 81h0M267 494h0M281 81h0M281 167h0M344 298h0M364 167h0M461 298h0M488 167h0M386 81h0M163 505h0M480 190h0M70 288h0M71 163h0M191 81h0M288 81h0M353 496h0M459 411h0M502 81h0M257 505h0M453 310h0M480 81h0M484 81h0M71 178h0M179 81h0M276 81h0M472 81h0M173 81h0M504 81h0M70 464h0M256 464h0M348 464h0M482 311h0M482 417h0M510 81h0M510 185h0M486 81h0M175 81h0M271 81h0M493 81h0M174 81h0M269 81h0M158 462h0M250 462h0M483 320h0M512 81h0M512 197h0M162 81h0M172 81h0M479 81h0M70 466h0M509 81h0" class="f0"/>
<path d="M361 494h0M461 400h0M251 405h0M357 486h0M377 195h0M171 493h0M258 493h0M489 178h0M157 394h0M250 394h0M365 492h0M386 198h0M70 309h0M71 176h0M173 394h0M173 488h0M181 81h0M258 488h0M272 81h0M386 176h0M465 309h0M492 176h0M158 492h0M70 474h0M503 81h0M177 81h0M70 461h0M513 81h0M70 400h0M71 143h0M206 81h0M381 81h0M477 81h0M70 445h0M166 445h0M256 445h0M344 445h0M495 312h0M495 422h0M525 81h0M525 186h0M475 81h0M168 405h0M256 479h0M357 479h0M377 182h0M472 405h0M495 81h0" class="f1"/>
<path d="M478 81h0M176 81h0M498 81h0M373 81h0M491 81h0M70 322h0M70 512h0M71 202h0M154 383h0M154 512h0M161 81h0M248 383h0M248 512h0M261 81h0M373 322h0M373 512h0M395 81h0M395 202h0M448 322h0M448 383h0M474 81h0M474 202h0M70 305h0M71 172h0M184 81h0M274 81h0M488 81h0M166 81h0M497 81h0M483 81h0M170 81h0M499 81h0M256 495h0M460 311h0M163 81h0M262 81h0M377 81h0M268 81h0M492 81h0M167 81h0M487 81h0M164 81h0M490 81h0M481 81h0M485 81h0M494 81h0M165 81h0M263 81h0M265 81h0M482 81h0M168 81h0M270 81h0M368 81h0M489 81h0M171 81h0M267 81h0M500 81h0M264 81h0M476 81h0M169 81h0M266 81h0M364 81h0M473 81h0M70 463h0M160 463h0M253 463h0M511 80h0M511 194h0M156 479h0M70 323h0M71 203h0M153 488h0M247 488h0M465 323h0M492 203h0M70 473h0M504 80h0M163 516h0M254 516h0M472 190h0M70 306h0M71 201h0M155 495h0M248 495h0M487 201h0M70 470h0M252 470h0M506 80h0M506 196h0M161 477h0M252 477h0M70 485h0M163 483h0M496 190h0M70 507h0M71 182h0M70 472h0M70 482h0M70 468h0M508 80h0M70 495h0M70 394h0M70 481h0M159 500h0M70 510h0M165 383h0M373 493h0M395 187h0M462 383h0M489 187h0M71 204h0M70 508h0M477 194h0M71 181h0M70 483h0M496 80h0M71 200h0M70 462h0M71 184h0M70 511h0" class="fw"/>
<path d="M478 81h0M176 81h0M498 81h0M373 81h0M491 81h0M70 305h0M71 172h0M184 81h0M274 81h0M488 81h0M166 81h0M497 81h0M483 81h0M170 81h0M499 81h0M256 495h0M460 311h0M163 81h0M262 81h0M377 81h0M268 81h0M492 81h0M167 81h0M487 81h0M164 81h0M490 81h0M481 81h0M494 81h0M165 81h0M263 81h0M168 81h0M270 81h0M368 81h0M489 81h0M171 81h0M267 81h0M500 81h0M264 81h0M476 81h0M169 81h0M266 81h0M364 81h0M473 81h0M70 463h0M160 463h0M253 463h0M511 80h0M511 194h0M156 479h0M70 323h0M71 203h0M153 488h0M247 488h0M465 323h0M492 203h0M70 473h0M504 80h0M70 306h0M70 470h0M252 470h0M506 80h0M506 196h0M161 477h0M252 477h0M70 485h0M163 483h0M496 190h0M70 507h0M71 182h0M70 472h0M70 482h0M70 468h0M508 80h0M70 495h0M159 500h0M70 510h0M71 204h0M70 508h0M477 194h0M71 181h0M70 483h0M496 80h0M71 200h0M70 462h0M71 184h0M70 511h0" class="f0"/>
<path d="M70 322h0M70 512h0M71 202h0M154 383h0M154 512h0M161 81h0M248 383h0M248 512h0M261 81h0M373 322h0M373 512h0M395 81h0M395 202h0M448 322h0M448 383h0M474 81h0M474 202h0M485 81h0M265 81h0M482 81h0M163 516h0M254 516h0M472 190h0M71 201h0M155 495h0M248 495h0M487 201h0M70 394h0M70 481h0M165 383h0M373 493h0M395 187h0M462 383h0M489 187h0" class="f1"/>
<path d="M475 80h0M161 498h0M458 314h0M485 193h0M173 487h0M262 487h0M275 175h0M466 304h0M493 175h0M71 175h0M70 308h0M168 308h0M272 183h0M70 304h0M162 498h0M485 191h0M70 383h0M253 504h0M373 504h0M395 80h0M454 383h0M70 479h0M70 477h0M70 505h0M161 505h0M453 315h0M480 193h0M71 183h0M70 312h0M164 494h0M488 188h0M70 491h0M70 480h0M158 480h0M250 480h0M471 319h0M499 197h0M70 411h0M70 301h0M70 496h0M71 170h0M177 301h0M177 496h0M185 80h0M264 496h0M278 80h0M278 170h0M459 301h0M486 170h0M70 321h0M70 475h0M71 192h0M70 501h0M71 199h0M163 80h0M70 506h0M479 80h0M70 493h0M71 194h0M70 315h0M70 502h0M254 502h0M455 315h0M71 189h0M70 405h0M70 517h0M166 517h0M256 405h0M256 517h0M357 311h0M357 517h0M445 311h0M445 405h0M471 80h0M471 186h0M70 519h0M159 519h0M469 80h0M469 196h0M70 313h0M70 476h0M71 185h0M167 476h0M255 476h0M473 313h0M501 185h0M70 311h0M70 499h0M71 193h0M70 516h0M70 417h0M160 498h0M167 80h0M348 498h0M458 417h0M70 317h0M70 320h0M70 504h0M71 198h0M71 177h0M172 494h0M180 80h0M257 494h0M488 177h0M71 197h0M70 299h0M70 494h0M71 161h0M192 80h0M279 80h0M70 486h0M71 188h0M70 318h0M70 492h0M71 196h0M70 316h0M70 489h0M70 514h0M71 191h0M70 488h0" class="fw"/>
<path d="M475 80h0M71 175h0M70 308h0M168 308h0M272 183h0M70 304h0M162 498h0M485 191h0M70 479h0M70 477h0M71 183h0M70 491h0M70 480h0M158 480h0M250 480h0M471 319h0M499 197h0M70 411h0M70 301h0M70 496h0M71 170h0M177 301h0M177 496h0M185 80h0M264 496h0M278 80h0M278 170h0M459 301h0M486 170h0M70 321h0M70 475h0M71 192h0M70 493h0M71 194h0M71 189h0M70 405h0M70 517h0M166 517h0M256 405h0M256 517h0M357 311h0M357 517h0M445 311h0M445 405h0M471 80h0M471 186h0M70 313h0M70 476h0M71 185h0M167 476h0M255 476h0M473 313h0M501 185h0M70 311h0M70 499h0M71 193h0M70 516h0M70 320h0M70 504h0M71 198h0M71 177h0M172 494h0M180 80h0M257 494h0M488 177h0M71 197h0M70 299h0M70 494h0M71 161h0M192 80h0M279 80h0M70 486h0M71 188h0M70 318h0M70 492h0M71 196h0M70 316h0M70 489h0M70 514h0M71 191h0M70 488h0" class="f0"/>
<path d="M161 498h0M458 314h0M485 193h0M173 487h0M262 487h0M275 175h0M466 304h0M493 175h0M70 383h0M253 504h0M373 504h0M395 80h0M454 383h0M70 505h0M161 505h0M453 315h0M480 193h0M70 312h0M164 494h0M488 188h0M70 501h0M71 199h0M163 80h0M70 506h0M479 80h0M70 315h0M70 502h0M254 502h0M455 315h0M70 519h0M159 519h0M469 80h0M469 196h0M70 417h0M160 498h0M167 80h0M348 498h0M458 417h0M70 317h0" class="f1"/>
<path d="M71 190h0M70 319h0M70 498h0M71 195h0M70 314h0M70 500h0M71 187h0M70 310h0M70 422h0M70 487h0M71 186h0M512 80h0M253 488h0M254 405h0M254 482h0M357 482h0M377 80h0M469 314h0M469 405h0M494 80h0M255 495h0M460 313h0M487 80h0M170 394h0M170 475h0M178 80h0M258 475h0M365 475h0M386 180h0M474 308h0M474 394h0M502 180h0M164 514h0M255 514h0M361 514h0M446 400h0M173 80h0M497 80h0M162 479h0M172 80h0M254 500h0M161 80h0M499 80h0M473 80h0M181 80h0M481 80h0M480 80h0M177 80h0M272 80h0M493 80h0M171 80h0M174 80h0M271 80h0M156 485h0M249 485h0M495 80h0M495 200h0M263 80h0M509 80h0M498 80h0M162 80h0M485 80h0M485 200h0M165 80h0M472 80h0M502 80h0M490 195h0M71 304h0M275 80h0M176 494h0M261 494h0M274 80h0M274 172h0M461 305h0M488 80h0M488 172h0M175 80h0M505 80h0M266 80h0M256 508h0M269 80h0M381 80h0M477 80h0M158 80h0M259 80h0M164 80h0M262 80h0M478 80h0M184 80h0M273 80h0M486 80h0M71 323h0M72 204h0M159 80h0M260 80h0M483 80h0M492 80h0M492 190h0M267 80h0M484 80h0M270 80h0M489 80h0M161 394h0M252 394h0M365 316h0M365 491h0M386 80h0M386 192h0M463 316h0M463 394h0M491 192h0M166 80h0M491 80h0M160 80h0M261 80h0M501 80h0M162 510h0M169 80h0M264 80h0M476 80h0" class="fw"/>
<path d="M71 190h0M70 319h0M70 498h0M71 195h0M70 314h0M70 500h0M71 187h0M70 310h0M70 422h0M70 487h0M71 186h0M512 80h0M253 488h0M254 405h0M254 482h0M357 482h0M377 80h0M469 314h0M469 405h0M494 80h0M255 495h0M460 313h0M487 80h0M170 394h0M170 475h0M178 80h0M258 475h0M365 475h0M386 180h0M474 308h0M474 394h0M502 180h0M173 80h0M497 80h0M162 479h0M172 80h0M254 500h0M161 80h0M499 80h0M473 80h0M181 80h0M481 80h0M480 80h0M493 80h0M171 80h0M174 80h0M271 80h0M156 485h0M249 485h0M495 80h0M495 200h0M263 80h0M509 80h0M498 80h0M162 80h0M485 80h0M485 200h0M165 80h0M472 80h0M502 80h0M490 195h0M71 304h0M275 80h0M176 494h0M261 494h0M274 80h0M274 172h0M461 305h0M488 80h0M488 172h0M175 80h0M505 80h0M266 80h0M158 80h0M259 80h0M164 80h0M262 80h0M478 80h0M184 80h0M273 80h0M486 80h0M71 323h0M72 204h0M159 80h0M260 80h0M483 80h0M492 80h0M492 190h0M270 80h0M489 80h0M161 394h0M252 394h0M365 316h0M365 491h0M386 80h0M386 192h0M463 316h0M463 394h0M491 192h0M166 80h0M491 80h0M160 80h0M261 80h0M501 80h0M162 510h0M169 80h0M264 80h0M476 80h0" class="f0"/>
<path d="M164 514h0M255 514h0M361 514h0M446 400h0M177 80h0M272 80h0M256 508h0M269 80h0M381 80h0M477 80h0M267 80h0M484 80h0" class="f1"/>
<path d="M476 192h0M72 182h0M169 313h0M169 411h0M176 80h0M268 182h0M373 80h0M373 182h0M490 80h0M490 182h0M168 80h0M265 80h0M364 80h0M482 80h0M163 479h0M170 80h0M255 479h0M268 80h0M348 479h0M368 80h0M472 313h0M500 80h0M500 190h0M156 511h0M249 511h0M449 321h0M475 200h0M71 472h0M505 79h0M71 388h0M153 388h0M153 486h0M248 388h0M248 486h0M369 322h0M369 486h0M390 79h0M390 203h0M467 322h0M467 388h0M494 203h0M71 394h0M160 394h0M251 394h0M365 318h0M365 481h0M386 79h0M386 195h0M470 394h0M250 493h0M72 205h0M152 500h0M159 79h0M483 205h0M161 501h0M162 405h0M377 192h0M71 301h0M72 172h0M176 301h0M176 499h0M264 422h0M264 499h0M278 79h0M278 172h0M344 301h0M457 301h0M484 172h0M487 199h0M467 313h0M155 493h0M489 201h0M162 499h0M252 499h0M484 191h0M71 479h0M72 180h0M178 79h0M164 492h0M490 188h0M72 202h0M154 488h0M161 79h0M492 202h0M71 507h0M478 79h0M72 176h0M173 307h0M273 176h0M461 307h0M488 176h0M71 309h0M72 175h0M181 79h0M72 184h0M71 299h0M72 161h0M183 299h0M183 494h0M192 79h0M265 494h0M279 161h0M344 299h0M461 299h0M488 161h0M71 300h0M71 487h0M72 169h0M178 300h0M178 422h0M178 487h0M186 79h0M265 487h0M279 79h0M279 169h0M364 169h0M466 300h0M493 79h0M493 169h0M72 203h0" class="fw"/>
<path d="M476 192h0M72 182h0M169 313h0M169 411h0M176 80h0M268 182h0M373 80h0M373 182h0M490 80h0M490 182h0M168 80h0M265 80h0M364 80h0M482 80h0M163 479h0M170 80h0M255 479h0M268 80h0M348 479h0M368 80h0M472 313h0M500 80h0M500 190h0M156 511h0M249 511h0M449 321h0M475 200h0M71 472h0M505 79h0M161 501h0M162 405h0M377 192h0M487 199h0M467 313h0M155 493h0M489 201h0M71 479h0M72 180h0M178 79h0M164 492h0M490 188h0M72 202h0M154 488h0M161 79h0M492 202h0M71 507h0M478 79h0M72 176h0M173 307h0M273 176h0M461 307h0M488 176h0M71 309h0M72 175h0M181 79h0M72 184h0M71 299h0M72 161h0M183 299h0M183 494h0M192 79h0M265 494h0M279 161h0M344 299h0M461 299h0M488 161h0M71 300h0M71 487h0M72 169h0M178 300h0M178 422h0M178 487h0M186 79h0M265 487h0M279 79h0M279 169h0M364 169h0M466 300h0M493 79h0M493 169h0M72 203h0" class="f0"/>
<path d="M71 388h0M153 388h0M153 486h0M248 388h0M248 486h0M369 322h0M369 486h0M390 79h0M390 203h0M467 322h0M467 388h0M494 203h0M71 394h0M160 394h0M251 394h0M365 318h0M365 481h0M386 79h0M386 195h0M470 394h0M250 493h0M72 205h0M152 500h0M159 79h0M483 205h0M71 301h0M72 172h0M176 301h0M176 499h0M264 422h0M264 499h0M278 79h0M278 172h0M344 301h0M457 301h0M484 172h0M162 499h0M252 499h0M484 191h0" class="f1"/>
<path d="M160 79h0M71 305h0M72 178h0M179 79h0M275 79h0M71 298h0M72 166h0M188 79h0M281 79h0M250 483h0M348 483h0M468 320h0M468 417h0M496 197h0M167 495h0M267 185h0M487 185h0M176 79h0M71 322h0M155 501h0M248 501h0M261 79h0M456 322h0M482 201h0M71 324h0M72 206h0M158 79h0M259 79h0M163 481h0M256 481h0M470 312h0M498 190h0M446 315h0M473 189h0M72 201h0M155 405h0M155 508h0M249 508h0M357 321h0M357 508h0M377 201h0M451 321h0M451 405h0M477 201h0M71 504h0M481 79h0M71 496h0M486 79h0M71 400h0M381 79h0M71 500h0M163 405h0M357 500h0M377 190h0M483 79h0M156 499h0M484 199h0M71 288h0M72 163h0M191 79h0M288 79h0M71 405h0M377 79h0M71 510h0M158 510h0M250 510h0M450 319h0M476 79h0M476 197h0M71 469h0M507 79h0M71 468h0M508 79h0M156 488h0M492 200h0M71 466h0M161 466h0M253 466h0M481 316h0M509 79h0M509 193h0M72 200h0M162 79h0M71 483h0M496 79h0M71 513h0M71 516h0M472 79h0M494 194h0M71 308h0M169 494h0M259 494h0M272 79h0M461 308h0M165 506h0M256 506h0M452 312h0M479 187h0M71 310h0M72 177h0M180 79h0M271 79h0M71 512h0M474 79h0M71 461h0M161 461h0M252 461h0M484 317h0M513 79h0M513 193h0M72 185h0M167 314h0M167 411h0M71 473h0M504 79h0M72 197h0M72 186h0M71 474h0M72 190h0M163 474h0" class="fw"/>
<path d="M160 79h0M71 305h0M72 178h0M179 79h0M275 79h0M71 298h0M72 166h0M188 79h0M281 79h0M250 483h0M348 483h0M468 320h0M468 417h0M496 197h0M167 495h0M267 185h0M487 185h0M176 79h0M71 324h0M72 206h0M158 79h0M259 79h0M163 481h0M256 481h0M470 312h0M498 190h0M71 504h0M481 79h0M71 496h0M486 79h0M156 499h0M484 199h0M71 468h0M508 79h0M71 466h0M161 466h0M253 466h0M481 316h0M509 79h0M509 193h0M72 200h0M162 79h0M71 483h0M496 79h0M71 516h0M472 79h0M494 194h0M71 308h0M169 494h0M259 494h0M272 79h0M461 308h0M71 310h0M72 177h0M180 79h0M271 79h0M71 461h0M161 461h0M252 461h0M484 317h0M513 79h0M513 193h0M71 473h0M504 79h0M72 197h0M72 186h0" class="f0"/>
<path d="M71 322h0M155 501h0M248 501h0M261 79h0M456 322h0M482 201h0M446 315h0M473 189h0M72 201h0M155 405h0M155 508h0M249 508h0M357 321h0M357 508h0M377 201h0M451 321h0M451 405h0M477 201h0M71 400h0M381 79h0M71 500h0M163 405h0M357 500h0M377 190h0M483 79h0M71 288h0M72 163h0M191 79h0M288 79h0M71 405h0M377 79h0M71 510h0M158 510h0M250 510h0M450 319h0M476 79h0M476 197h0M71 469h0M507 79h0M156 488h0M492 200h0M71 513h0M165 506h0M256 506h0M452 312h0M479 187h0M71 512h0M474 79h0M72 185h0M167 314h0M167 411h0M71 474h0M72 190h0M163 474h0" class="f1"/>
<path d="M170 79h0M254 474h0M475 315h0M503 79h0M503 190h0M72 183h0M175 79h0M71 506h0M72 181h0M177 79h0M479 79h0M71 313h0M71 493h0M72 188h0M165 493h0M489 79h0M489 188h0M72 192h0M71 475h0M502 79h0M159 486h0M251 486h0M71 482h0M497 79h0M71 476h0M501 79h0M71 499h0M484 79h0M72 196h0M71 315h0M71 498h0M72 198h0M485 79h0M72 187h0M72 189h0M72 193h0M161 485h0M252 485h0M71 501h0M72 195h0M72 191h0M169 79h0M72 194h0M71 502h0M482 79h0M71 321h0M71 481h0M72 199h0M156 481h0M249 481h0M262 79h0M470 321h0M498 79h0M498 199h0M71 311h0M71 505h0M174 79h0M270 79h0M480 79h0M163 79h0M71 508h0M477 79h0M71 318h0M71 462h0M512 79h0M71 312h0M71 477h0M166 477h0M255 477h0M269 79h0M348 477h0M472 417h0M500 79h0M500 186h0M71 494h0M488 79h0M71 320h0M71 488h0M164 79h0M492 79h0M71 486h0M494 79h0M71 511h0M172 79h0M267 79h0M475 79h0M71 417h0M71 489h0M166 79h0M264 79h0M368 79h0M71 307h0M71 411h0M71 492h0M184 79h0M273 79h0M373 79h0M490 79h0M167 79h0M71 317h0M71 495h0M265 79h0M487 79h0M71 480h0M171 79h0M499 79h0M499 189h0M71 314h0M71 514h0M173 79h0M268 79h0M473 79h0M71 319h0M71 491h0M165 79h0M263 79h0M491 79h0M71 316h0M71 422h0M71 485h0" class="fw"/>
<path d="M72 183h0M175 79h0M71 506h0M72 181h0M177 79h0M479 79h0M71 313h0M71 493h0M72 188h0M165 493h0M489 79h0M489 188h0M72 192h0M71 475h0M502 79h0M159 486h0M251 486h0M71 482h0M497 79h0M71 476h0M501 79h0M71 499h0M484 79h0M72 196h0M71 315h0M71 498h0M72 198h0M485 79h0M72 187h0M72 189h0M71 501h0M72 195h0M72 191h0M169 79h0M72 194h0M71 502h0M482 79h0M71 311h0M71 505h0M174 79h0M270 79h0M480 79h0M163 79h0M71 508h0M477 79h0M71 318h0M71 462h0M512 79h0M71 494h0M488 79h0M71 320h0M71 488h0M164 79h0M492 79h0M71 486h0M494 79h0M71 417h0M71 489h0M166 79h0M264 79h0M368 79h0M71 307h0M71 411h0M71 492h0M184 79h0M273 79h0M373 79h0M490 79h0M167 79h0M71 317h0M71 495h0M265 79h0M487 79h0M71 480h0M171 79h0M499 79h0M499 189h0M71 314h0M71 514h0M173 79h0M268 79h0M473 79h0M71 319h0M71 491h0M165 79h0M263 79h0M491 79h0M71 316h0M71 422h0M71 485h0" class="f0"/>
<path d="M170 79h0M254 474h0M475 315h0M503 79h0M503 190h0M72 193h0M161 485h0M252 485h0M71 321h0M71 481h0M72 199h0M156 481h0M249 481h0M262 79h0M470 321h0M498 79h0M498 199h0M71 312h0M71 477h0M166 477h0M255 477h0M269 79h0M348 477h0M472 417h0M500 79h0M500 186h0M71 511h0M172 79h0M267 79h0M475 79h0" class="f1"/>
<path d="M168 79h0M266 79h0M364 79h0M495 79h0M173 304h0M173 493h0M262 493h0M276 78h0M276 176h0M344 304h0M462 304h0M489 176h0M72 514h0M269 190h0M72 485h0M253 485h0M495 78h0M156 417h0M156 494h0M483 193h0M456 317h0M166 480h0M258 480h0M272 185h0M471 309h0M499 185h0M165 313h0M165 504h0M481 187h0M251 479h0M472 318h0M500 193h0M166 501h0M256 411h0M353 312h0M357 496h0M377 78h0M459 405h0M72 448h0M73 180h0M178 78h0M523 78h0M159 487h0M250 487h0M353 487h0M466 319h0M466 411h0M493 196h0M248 493h0M261 78h0M261 199h0M462 321h0M497 78h0M251 462h0M483 318h0M348 488h0M465 417h0M492 78h0M493 78h0M166 486h0M255 486h0M494 185h0M254 491h0M463 314h0M72 321h0M503 78h0M72 360h0M160 360h0M252 360h0M390 317h0M390 504h0M413 78h0M413 194h0M454 360h0M481 194h0M173 510h0M259 510h0M272 176h0M450 308h0M476 176h0M72 366h0M168 366h0M168 496h0M257 366h0M386 310h0M386 496h0M408 78h0M408 183h0M459 366h0M486 183h0M72 463h0M511 78h0M73 194h0M262 78h0M163 511h0M255 511h0M449 313h0M475 78h0M475 189h0M269 78h0M72 293h0M73 159h0M193 78h0M285 78h0M483 78h0M485 78h0M163 506h0M479 190h0M72 305h0M73 172h0M184 78h0M275 78h0M158 78h0M259 78h0M72 462h0M167 462h0M175 78h0M255 462h0M483 313h0M512 78h0" class="fw"/>
<path d="M168 79h0M266 79h0M364 79h0M495 79h0M72 514h0M269 190h0M72 485h0M253 485h0M495 78h0M166 480h0M258 480h0M272 185h0M471 309h0M499 185h0M251 479h0M472 318h0M500 193h0M166 501h0M256 411h0M353 312h0M72 448h0M73 180h0M178 78h0M523 78h0M159 487h0M250 487h0M353 487h0M466 319h0M466 411h0M493 196h0M248 493h0M261 78h0M261 199h0M462 321h0M497 78h0M251 462h0M483 318h0M493 78h0M72 321h0M503 78h0M173 510h0M259 510h0M272 176h0M450 308h0M476 176h0M72 463h0M511 78h0M73 194h0M262 78h0M269 78h0M72 293h0M73 159h0M193 78h0M285 78h0M483 78h0M485 78h0M163 506h0M479 190h0M72 305h0M73 172h0M184 78h0M275 78h0M158 78h0M259 78h0M72 462h0M167 462h0M175 78h0M255 462h0M483 313h0M512 78h0" class="f0"/>
<path d="M173 304h0M173 493h0M262 493h0M276 78h0M276 176h0M344 304h0M462 304h0M489 176h0M156 417h0M156 494h0M483 193h0M456 317h0M165 313h0M165 504h0M481 187h0M357 496h0M377 78h0M459 405h0M348 488h0M465 417h0M492 78h0M166 486h0M255 486h0M494 185h0M254 491h0M463 314h0M72 360h0M160 360h0M252 360h0M390 317h0M390 504h0M413 78h0M413 194h0M454 360h0M481 194h0M72 366h0M168 366h0M168 496h0M257 366h0M386 310h0M386 496h0M408 78h0M408 183h0M459 366h0M486 183h0M163 511h0M255 511h0M449 313h0M475 78h0M475 189h0" class="f1"/>
<path d="M512 184h0M170 78h0M254 513h0M447 314h0M72 512h0M474 78h0M72 468h0M508 78h0M505 78h0M72 383h0M72 460h0M162 460h0M254 383h0M254 460h0M268 192h0M373 314h0M373 460h0M395 78h0M485 314h0M485 383h0M514 78h0M514 192h0M169 310h0M169 496h0M486 181h0M479 78h0M165 481h0M172 78h0M498 78h0M498 187h0M72 486h0M160 411h0M160 486h0M494 78h0M494 195h0M490 78h0M171 78h0M496 78h0M167 78h0M487 78h0M72 306h0M73 170h0M185 78h0M274 78h0M476 78h0M72 479h0M500 78h0M481 78h0M164 78h0M73 186h0M166 466h0M173 78h0M255 466h0M268 78h0M481 313h0M509 78h0M509 186h0M72 505h0M179 78h0M272 78h0M480 78h0M504 78h0M72 507h0M267 78h0M478 78h0M161 502h0M168 78h0M482 192h0M166 78h0M264 78h0M373 78h0M463 318h0M169 78h0M489 78h0M181 78h0M499 78h0M252 502h0M455 317h0M482 78h0M472 78h0M473 78h0M165 78h0M265 78h0M368 78h0M486 78h0M266 78h0M502 78h0M72 310h0M177 78h0M271 78h0M488 78h0M174 78h0M270 78h0M364 78h0M484 78h0M163 78h0M263 78h0M491 78h0M73 182h0M169 400h0M176 78h0M273 78h0M273 182h0M381 78h0M381 182h0M73 196h0M479 196h0M169 513h0M259 513h0M447 308h0M473 181h0M73 188h0M168 304h0M262 494h0M275 77h0M275 183h0M461 304h0M73 191h0M72 405h0M357 495h0" class="fw"/>
<path d="M512 184h0M72 512h0M474 78h0M72 468h0M508 78h0M479 78h0M165 481h0M172 78h0M498 78h0M498 187h0M72 486h0M160 411h0M160 486h0M494 78h0M494 195h0M490 78h0M171 78h0M496 78h0M167 78h0M487 78h0M72 306h0M73 170h0M185 78h0M274 78h0M476 78h0M481 78h0M164 78h0M73 186h0M166 466h0M173 78h0M255 466h0M268 78h0M481 313h0M509 78h0M509 186h0M72 505h0M179 78h0M272 78h0M480 78h0M504 78h0M72 507h0M267 78h0M478 78h0M161 502h0M168 78h0M482 192h0M166 78h0M264 78h0M373 78h0M463 318h0M169 78h0M489 78h0M181 78h0M499 78h0M252 502h0M455 317h0M482 78h0M472 78h0M473 78h0M165 78h0M265 78h0M368 78h0M486 78h0M72 310h0M177 78h0M271 78h0M488 78h0M174 78h0M270 78h0M364 78h0M484 78h0M163 78h0M263 78h0M491 78h0M73 182h0M169 400h0M176 78h0M273 78h0M273 182h0M381 78h0M381 182h0M73 196h0M479 196h0M169 513h0M259 513h0M447 308h0M473 181h0M73 188h0M168 304h0M262 494h0M275 77h0M275 183h0M461 304h0" class="f0"/>
<path d="M170 78h0M254 513h0M447 314h0M505 78h0M72 383h0M72 460h0M162 460h0M254 383h0M254 460h0M268 192h0M373 314h0M373 460h0M395 78h0M485 314h0M485 383h0M514 78h0M514 192h0M169 310h0M169 496h0M486 181h0M72 479h0M500 78h0M266 78h0M502 78h0M73 191h0M72 405h0M357 495h0" class="f1"/>
<path d="M377 77h0M460 317h0M460 405h0M487 193h0M73 184h0M167 307h0M167 475h0M259 475h0M273 184h0M474 307h0M502 184h0M72 488h0M73 199h0M73 163h0M72 466h0M509 77h0M73 175h0M72 474h0M162 318h0M162 411h0M162 474h0M373 192h0M503 192h0M73 187h0M165 496h0M486 187h0M159 493h0M489 195h0M72 508h0M73 143h0M196 319h0M196 400h0M196 508h0M206 77h0M250 508h0M264 143h0M361 508h0M381 143h0M477 143h0M73 189h0M361 495h0M381 189h0M460 400h0M487 189h0M72 483h0M73 177h0M73 205h0M159 77h0M260 77h0M72 300h0M72 388h0M73 166h0M180 300h0M180 388h0M180 498h0M265 388h0M265 498h0M279 77h0M279 166h0M369 300h0M369 498h0M390 166h0M458 300h0M458 388h0M485 166h0M72 475h0M73 192h0M161 475h0M254 475h0M474 314h0M502 77h0M502 192h0M72 322h0M72 476h0M73 203h0M160 77h0M261 77h0M72 324h0M72 492h0M73 206h0M72 510h0M476 77h0M73 176h0M72 304h0M73 178h0M171 304h0M171 489h0M262 489h0M276 77h0M276 178h0M368 178h0M464 304h0M491 178h0M73 193h0M72 313h0M166 411h0M166 489h0M255 489h0M373 185h0M464 313h0M72 461h0M513 77h0M73 198h0M73 181h0M72 312h0M73 183h0M73 185h0M166 308h0M273 185h0M368 185h0M72 400h0M72 499h0M73 190h0M251 482h0M469 318h0M497 195h0M72 315h0M72 482h0M469 315h0M159 506h0" class="fw"/>
<path d="M73 184h0M167 307h0M167 475h0M259 475h0M273 184h0M474 307h0M502 184h0M72 488h0M73 199h0M73 163h0M72 466h0M509 77h0M73 175h0M73 187h0M165 496h0M486 187h0M72 483h0M73 177h0M72 475h0M73 192h0M161 475h0M254 475h0M474 314h0M502 77h0M502 192h0M72 322h0M72 476h0M73 203h0M160 77h0M261 77h0M72 324h0M72 492h0M73 206h0M72 510h0M476 77h0M73 176h0M72 304h0M73 178h0M171 304h0M171 489h0M262 489h0M276 77h0M276 178h0M368 178h0M464 304h0M491 178h0M73 193h0M72 313h0M166 411h0M166 489h0M255 489h0M373 185h0M464 313h0M73 198h0M73 181h0M72 312h0M73 183h0M73 185h0M166 308h0M273 185h0M368 185h0M72 400h0M72 499h0M73 190h0M251 482h0M469 318h0M497 195h0M72 315h0M72 482h0M469 315h0M159 506h0" class="f0"/>
<path d="M377 77h0M460 317h0M460 405h0M487 193h0M72 474h0M162 318h0M162 411h0M162 474h0M373 192h0M503 192h0M159 493h0M489 195h0M72 508h0M73 143h0M196 319h0M196 400h0M196 508h0M206 77h0M250 508h0M264 143h0M361 508h0M381 143h0M477 143h0M73 189h0M361 495h0M381 189h0M460 400h0M487 189h0M73 205h0M159 77h0M260 77h0M72 300h0M72 388h0M73 166h0M180 300h0M180 388h0M180 498h0M265 388h0M265 498h0M279 77h0M279 166h0M369 300h0M369 498h0M390 166h0M458 300h0M458 388h0M485 166h0M72 461h0M513 77h0" class="f1"/>
<path d="M479 195h0M73 195h0M73 197h0M72 473h0M159 473h0M251 473h0M476 318h0M504 195h0M72 506h0M72 500h0M72 513h0M163 513h0M252 513h0M344 513h0M447 317h0M447 422h0M473 77h0M72 469h0M161 469h0M251 469h0M478 318h0M507 77h0M507 193h0M72 317h0M72 494h0M72 491h0M491 197h0M72 298h0M72 516h0M162 501h0M72 311h0M72 493h0M161 311h0M348 493h0M489 77h0M72 308h0M74 175h0M173 308h0M173 504h0M181 77h0M454 308h0M481 175h0M72 504h0M481 77h0M72 495h0M72 502h0M72 318h0M72 487h0M72 309h0M166 309h0M166 472h0M258 472h0M271 185h0M477 309h0M505 185h0M72 320h0M72 498h0M72 299h0M72 417h0M72 481h0M191 77h0M280 77h0M72 307h0M72 496h0M74 172h0M184 77h0M273 77h0M72 480h0M499 77h0M72 501h0M72 316h0M72 472h0M72 319h0M72 422h0M72 489h0M160 489h0M263 194h0M72 314h0M72 411h0M72 511h0M164 511h0M353 511h0M449 411h0M475 188h0M168 511h0M475 183h0M186 77h0M151 494h0M246 494h0M488 77h0M488 206h0M180 77h0M272 77h0M73 324h0M74 206h0M151 422h0M151 492h0M158 77h0M246 492h0M259 77h0M364 206h0M462 324h0M490 206h0M73 298h0M74 166h0M180 298h0M180 417h0M180 516h0M188 77h0M267 417h0M267 516h0M281 166h0M348 298h0M348 516h0M368 166h0M446 298h0M446 417h0M472 77h0M472 166h0M73 481h0" class="fw"/>
<path d="M479 195h0M73 195h0M73 197h0M72 473h0M159 473h0M251 473h0M476 318h0M504 195h0M72 506h0M72 500h0M72 317h0M72 494h0M72 298h0M72 516h0M72 311h0M72 493h0M161 311h0M348 493h0M489 77h0M72 308h0M74 175h0M173 308h0M173 504h0M181 77h0M454 308h0M481 175h0M72 504h0M481 77h0M72 495h0M72 502h0M72 318h0M72 487h0M72 309h0M166 309h0M166 472h0M258 472h0M271 185h0M477 309h0M505 185h0M72 498h0M72 299h0M72 417h0M72 481h0M191 77h0M280 77h0M72 307h0M72 496h0M74 172h0M184 77h0M273 77h0M72 480h0M499 77h0M72 501h0M72 316h0M72 472h0M72 319h0M72 422h0M72 489h0M160 489h0M263 194h0M168 511h0M475 183h0M186 77h0M180 77h0M272 77h0M73 324h0M74 206h0M151 422h0M151 492h0M158 77h0M246 492h0M259 77h0M364 206h0M462 324h0M490 206h0M73 298h0M74 166h0M180 298h0M180 417h0M180 516h0M188 77h0M267 417h0M267 516h0M281 166h0M348 298h0M348 516h0M368 166h0M446 298h0M446 417h0M472 77h0M472 166h0M73 481h0" class="f0"/>
<path d="M72 513h0M163 513h0M252 513h0M344 513h0M447 317h0M447 422h0M473 77h0M72 469h0M161 469h0M251 469h0M478 318h0M507 77h0M507 193h0M72 491h0M491 197h0M162 501h0M72 320h0M72 314h0M72 411h0M72 511h0M164 511h0M353 511h0M449 411h0M475 188h0M151 494h0M246 494h0M488 77h0M488 206h0" class="f1"/>
<path d="M164 481h0M254 481h0M470 314h0M498 77h0M498 189h0M157 317h0M265 198h0M73 472h0M74 183h0M168 472h0M505 77h0M505 183h0M475 77h0M178 77h0M177 77h0M73 468h0M508 77h0M164 411h0M255 411h0M255 507h0M353 313h0M373 188h0M166 77h0M164 477h0M171 77h0M254 477h0M472 314h0M494 77h0M485 77h0M483 187h0M159 488h0M492 77h0M492 196h0M74 159h0M193 77h0M285 77h0M478 77h0M167 474h0M256 474h0M503 77h0M503 185h0M73 482h0M163 482h0M255 482h0M268 77h0M469 313h0M497 77h0M497 190h0M179 77h0M164 77h0M390 77h0M479 77h0M160 312h0M160 400h0M256 400h0M269 195h0M361 312h0M381 77h0M483 77h0M73 487h0M175 77h0M493 77h0M161 496h0M168 77h0M486 77h0M486 193h0M496 77h0M170 77h0M165 77h0M373 77h0M167 491h0M463 312h0M491 185h0M267 77h0M73 473h0M504 77h0M166 417h0M166 491h0M173 77h0M257 417h0M271 77h0M271 186h0M348 310h0M368 77h0M368 186h0M491 186h0M264 77h0M344 476h0M473 319h0M473 422h0M501 77h0M73 297h0M74 158h0M195 77h0M281 77h0M500 77h0M162 77h0M262 77h0M487 77h0M163 77h0M263 77h0M491 77h0M74 185h0M174 77h0M270 77h0M484 77h0M167 77h0M265 77h0M169 77h0M266 77h0M490 77h0M176 77h0M482 77h0M73 508h0M172 77h0M255 508h0M269 77h0M364 77h0M451 313h0M477 77h0" class="fw"/>
<path d="M164 481h0M254 481h0M470 314h0M498 77h0M498 189h0M73 472h0M74 183h0M168 472h0M505 77h0M505 183h0M475 77h0M177 77h0M73 468h0M508 77h0M164 477h0M171 77h0M254 477h0M472 314h0M494 77h0M485 77h0M483 187h0M159 488h0M492 77h0M492 196h0M74 159h0M193 77h0M285 77h0M478 77h0M167 474h0M256 474h0M503 77h0M503 185h0M483 77h0M73 487h0M175 77h0M493 77h0M161 496h0M168 77h0M486 77h0M486 193h0M496 77h0M170 77h0M165 77h0M373 77h0M267 77h0M73 473h0M504 77h0M166 417h0M166 491h0M173 77h0M257 417h0M271 77h0M271 186h0M348 310h0M368 77h0M368 186h0M491 186h0M264 77h0M344 476h0M473 319h0M473 422h0M501 77h0M500 77h0M162 77h0M262 77h0M487 77h0M163 77h0M263 77h0M491 77h0M74 185h0M174 77h0M270 77h0M484 77h0M167 77h0M265 77h0M169 77h0M266 77h0M490 77h0M176 77h0M482 77h0M73 508h0M172 77h0M255 508h0M269 77h0M364 77h0M451 313h0M477 77h0" class="f0"/>
<path d="M157 317h0M265 198h0M178 77h0M164 411h0M255 411h0M255 507h0M353 313h0M373 188h0M166 77h0M73 482h0M163 482h0M255 482h0M268 77h0M469 313h0M497 77h0M497 190h0M179 77h0M164 77h0M390 77h0M479 77h0M160 312h0M160 400h0M256 400h0M269 195h0M361 312h0M381 77h0M167 491h0M463 312h0M491 185h0M73 297h0M74 158h0M195 77h0M281 77h0" class="f1"/>
<path d="M477 188h0M74 178h0M171 305h0M261 495h0M275 178h0M460 305h0M73 466h0M509 76h0M74 177h0M264 199h0M73 475h0M502 76h0M73 388h0M157 388h0M250 388h0M369 319h0M369 506h0M390 76h0M390 198h0M452 388h0M73 519h0M469 76h0M458 321h0M74 169h0M186 76h0M74 199h0M74 182h0M176 76h0M73 448h0M523 76h0M157 504h0M249 504h0M454 320h0M481 198h0M74 192h0M74 194h0M74 189h0M74 184h0M174 76h0M74 180h0M74 171h0M73 477h0M162 477h0M253 477h0M472 316h0M500 191h0M73 469h0M74 179h0M178 76h0M507 76h0M164 506h0M255 506h0M452 313h0M479 188h0M73 479h0M500 76h0M74 195h0M249 499h0M73 486h0M494 76h0M74 198h0M73 293h0M74 161h0M183 293h0M183 422h0M183 492h0M192 76h0M271 422h0M271 492h0M285 76h0M285 161h0M364 161h0M462 293h0M490 161h0M73 307h0M74 181h0M169 307h0M169 506h0M177 76h0M260 506h0M273 76h0M452 307h0M479 181h0M74 193h0M160 502h0M250 502h0M348 502h0M455 319h0M455 417h0M482 193h0M249 520h0M353 520h0M442 321h0M442 411h0M73 323h0M73 405h0M73 510h0M74 203h0M154 405h0M154 510h0M248 405h0M248 510h0M260 76h0M357 323h0M377 203h0M450 323h0M476 76h0M476 203h0M74 163h0M73 507h0M478 76h0M74 187h0M165 491h0M491 187h0M74 190h0M163 400h0M163 498h0M255 400h0M268 190h0M361 313h0" class="fw"/>
<path d="M477 188h0M74 178h0M171 305h0M261 495h0M275 178h0M460 305h0M73 466h0M509 76h0M74 177h0M73 475h0M502 76h0M73 519h0M469 76h0M74 169h0M186 76h0M74 182h0M176 76h0M73 448h0M523 76h0M157 504h0M249 504h0M454 320h0M481 198h0M74 192h0M74 194h0M74 189h0M74 184h0M174 76h0M74 180h0M74 171h0M73 469h0M74 179h0M178 76h0M507 76h0M164 506h0M255 506h0M452 313h0M479 188h0M73 479h0M500 76h0M74 195h0M249 499h0M73 486h0M494 76h0M74 198h0M73 307h0M74 181h0M169 307h0M169 506h0M177 76h0M260 506h0M273 76h0M452 307h0M479 181h0M74 193h0M160 502h0M250 502h0M348 502h0M455 319h0M455 417h0M482 193h0M73 507h0M478 76h0M74 187h0M165 491h0M491 187h0" class="f0"/>
<path d="M264 199h0M73 388h0M157 388h0M250 388h0M369 319h0M369 506h0M390 76h0M390 198h0M452 388h0M458 321h0M74 199h0M73 477h0M162 477h0M253 477h0M472 316h0M500 191h0M73 293h0M74 161h0M183 293h0M183 422h0M183 492h0M192 76h0M271 422h0M271 492h0M285 76h0M285 161h0M364 161h0M462 293h0M490 161h0M249 520h0M353 520h0M442 321h0M442 411h0M73 323h0M73 405h0M73 510h0M74 203h0M154 405h0M154 510h0M248 405h0M248 510h0M260 76h0M357 323h0M377 203h0M450 323h0M476 76h0M476 203h0M74 163h0M74 190h0M163 400h0M163 498h0M255 400h0M268 190h0M361 313h0" class="f1"/>
<path d="M381 190h0M485 190h0M74 188h0M74 201h0M155 480h0M249 480h0M471 321h0M499 201h0M74 191h0M74 186h0M74 196h0M73 320h0M73 511h0M74 197h0M250 511h0M449 320h0M181 76h0M73 417h0M74 176h0M173 305h0M173 500h0M261 417h0M275 176h0M348 305h0M368 176h0M483 176h0M74 200h0M170 76h0M73 501h0M73 505h0M480 76h0M73 504h0M481 76h0M73 394h0M73 480h0M386 76h0M499 76h0M165 316h0M483 186h0M158 476h0M251 476h0M361 476h0M381 196h0M473 318h0M473 400h0M501 196h0M73 461h0M158 461h0M251 461h0M484 318h0M513 76h0M513 198h0M73 502h0M73 506h0M160 506h0M251 506h0M452 318h0M479 76h0M479 194h0M73 313h0M73 494h0M73 498h0M73 476h0M73 318h0M73 474h0M503 76h0M73 514h0M166 514h0M473 76h0M473 186h0M73 516h0M158 516h0M472 197h0M73 312h0M175 76h0M256 485h0M269 76h0M495 183h0M73 500h0M483 76h0M73 458h0M157 458h0M249 458h0M344 458h0M486 321h0M486 422h0M515 76h0M515 198h0M73 400h0M73 483h0M361 483h0M381 76h0M468 400h0M459 311h0M73 321h0M163 76h0M262 76h0M73 314h0M73 447h0M165 447h0M254 447h0M268 76h0M344 447h0M494 314h0M524 76h0M524 187h0M73 311h0M73 499h0M160 311h0M270 76h0M270 193h0M484 76h0M73 310h0M164 310h0M257 496h0M271 188h0M459 310h0M73 315h0M73 512h0M474 76h0" class="fw"/>
<path d="M74 188h0M74 201h0M155 480h0M249 480h0M471 321h0M499 201h0M74 191h0M74 186h0M74 196h0M73 320h0M73 511h0M74 197h0M250 511h0M449 320h0M181 76h0M73 417h0M74 176h0M173 305h0M173 500h0M261 417h0M275 176h0M348 305h0M368 176h0M483 176h0M74 200h0M170 76h0M73 501h0M73 505h0M480 76h0M73 506h0M160 506h0M251 506h0M452 318h0M479 76h0M479 194h0M73 313h0M73 494h0M73 498h0M73 476h0M73 318h0M73 474h0M503 76h0M73 514h0M166 514h0M473 76h0M473 186h0M73 516h0M158 516h0M472 197h0M73 312h0M175 76h0M256 485h0M269 76h0M495 183h0M459 311h0M73 321h0M163 76h0M262 76h0M73 310h0M164 310h0M257 496h0M271 188h0M459 310h0" class="f0"/>
<path d="M381 190h0M485 190h0M73 504h0M481 76h0M73 394h0M73 480h0M386 76h0M499 76h0M165 316h0M483 186h0M158 476h0M251 476h0M361 476h0M381 196h0M473 318h0M473 400h0M501 196h0M73 461h0M158 461h0M251 461h0M484 318h0M513 76h0M513 198h0M73 502h0M73 500h0M483 76h0M73 458h0M157 458h0M249 458h0M344 458h0M486 321h0M486 422h0M515 76h0M515 198h0M73 400h0M73 483h0M361 483h0M381 76h0M468 400h0M73 314h0M73 447h0M165 447h0M254 447h0M268 76h0M344 447h0M494 314h0M524 76h0M524 187h0M73 311h0M73 499h0M160 311h0M270 76h0M270 193h0M484 76h0M73 315h0M73 512h0M474 76h0" class="f1"/>
<path d="M73 485h0M164 76h0M495 76h0M73 302h0M73 520h0M75 171h0M176 302h0M176 520h0M263 520h0M277 76h0M277 171h0M344 520h0M442 302h0M442 422h0M468 76h0M468 171h0M73 317h0M73 493h0M167 76h0M73 316h0M73 496h0M486 76h0M73 319h0M73 322h0M73 488h0M161 76h0M492 76h0M73 309h0M73 411h0M73 495h0M179 76h0M271 76h0M73 305h0M73 492h0M176 305h0M184 76h0M261 422h0M261 492h0M275 76h0M275 172h0M344 305h0M364 172h0M462 305h0M490 76h0M73 288h0M73 422h0M73 491h0M182 288h0M182 422h0M182 491h0M274 422h0M274 491h0M288 76h0M288 163h0M344 288h0M364 163h0M463 288h0M491 76h0M491 163h0M180 76h0M272 76h0M496 76h0M266 76h0M489 76h0M74 324h0M75 206h0M158 76h0M259 76h0M377 76h0M74 299h0M74 481h0M75 163h0M191 76h0M280 76h0M498 76h0M74 464h0M155 464h0M162 76h0M248 464h0M353 322h0M353 464h0M373 76h0M482 322h0M482 411h0M510 76h0M510 201h0M171 76h0M487 76h0M165 511h0M173 76h0M254 511h0M368 76h0M449 314h0M475 76h0M475 187h0M166 76h0M264 76h0M458 318h0M485 76h0M485 195h0M172 76h0M267 76h0M488 76h0M74 516h0M169 76h0M265 76h0M472 76h0M160 76h0M261 76h0M501 76h0M165 76h0M263 76h0M364 76h0M482 76h0M74 297h0M75 158h0M186 297h0M186 422h0M186 501h0M195 75h0" class="fw"/>
<path d="M73 302h0M73 520h0M75 171h0M176 302h0M176 520h0M263 520h0M277 76h0M277 171h0M344 520h0M442 302h0M442 422h0M468 76h0M468 171h0M73 317h0M73 493h0M167 76h0M73 316h0M73 496h0M486 76h0M73 319h0M73 309h0M73 411h0M73 495h0M179 76h0M271 76h0M73 305h0M73 492h0M176 305h0M184 76h0M261 422h0M261 492h0M275 76h0M275 172h0M344 305h0M364 172h0M462 305h0M490 76h0M73 288h0M73 422h0M73 491h0M182 288h0M182 422h0M182 491h0M274 422h0M274 491h0M288 76h0M288 163h0M344 288h0M364 163h0M463 288h0M491 76h0M491 163h0M180 76h0M272 76h0M496 76h0M266 76h0M489 76h0M74 299h0M74 481h0M75 163h0M191 76h0M280 76h0M498 76h0M171 76h0M487 76h0M166 76h0M264 76h0M458 318h0M485 76h0M485 195h0M172 76h0M267 76h0M488 76h0M74 516h0M169 76h0M265 76h0M472 76h0M160 76h0M261 76h0M501 76h0M165 76h0M263 76h0M364 76h0M482 76h0" class="f0"/>
<path d="M73 485h0M164 76h0M495 76h0M73 322h0M73 488h0M161 76h0M492 76h0M74 324h0M75 206h0M158 76h0M259 76h0M377 76h0M74 464h0M155 464h0M162 76h0M248 464h0M353 322h0M353 464h0M373 76h0M482 322h0M482 411h0M510 76h0M510 201h0M165 511h0M173 76h0M254 511h0M368 76h0M449 314h0M475 76h0M475 187h0M74 297h0M75 158h0M186 297h0M186 422h0M186 501h0M195 75h0" class="f1"/>
<path d="M267 422h0M267 501h0M281 75h0M281 158h0M344 297h0M364 158h0M456 297h0M482 158h0M74 472h0M505 75h0M252 475h0M248 488h0M465 322h0M173 494h0M364 175h0M461 309h0M488 175h0M161 400h0M161 479h0M381 192h0M500 192h0M75 176h0M75 201h0M155 479h0M249 479h0M500 201h0M75 175h0M181 75h0M254 498h0M353 315h0M74 476h0M154 476h0M248 476h0M473 322h0M501 75h0M501 203h0M75 179h0M171 486h0M256 486h0M467 311h0M494 179h0M75 193h0M496 193h0M74 400h0M361 499h0M381 75h0M457 400h0M75 187h0M475 75h0M488 197h0M159 479h0M252 479h0M472 317h0M500 195h0M75 186h0M173 75h0M74 493h0M489 75h0M74 466h0M157 466h0M250 466h0M481 319h0M509 75h0M509 198h0M74 504h0M158 504h0M250 504h0M454 319h0M481 75h0M481 197h0M74 485h0M157 485h0M495 75h0M495 198h0M74 489h0M163 489h0M491 190h0M74 448h0M170 448h0M344 448h0M494 422h0M523 75h0M523 180h0M74 308h0M74 487h0M493 75h0M74 475h0M502 75h0M75 178h0M179 75h0M74 461h0M153 422h0M153 461h0M160 75h0M247 461h0M344 461h0M364 204h0M484 323h0M484 422h0M513 75h0M513 204h0M74 474h0M503 75h0M386 75h0M506 75h0M485 75h0M75 202h0M154 321h0M248 500h0M457 321h0M483 202h0M74 492h0M251 492h0M490 75h0M459 315h0M268 75h0M75 169h0M186 75h0M497 75h0M74 307h0" class="fw"/>
<path d="M74 472h0M505 75h0M252 475h0M173 494h0M364 175h0M461 309h0M488 175h0M75 176h0M75 175h0M181 75h0M74 476h0M154 476h0M248 476h0M473 322h0M501 75h0M501 203h0M75 193h0M496 193h0M74 400h0M361 499h0M381 75h0M457 400h0M75 187h0M488 197h0M159 479h0M252 479h0M472 317h0M500 195h0M75 186h0M173 75h0M74 493h0M489 75h0M74 466h0M157 466h0M250 466h0M481 319h0M509 75h0M509 198h0M74 504h0M158 504h0M250 504h0M454 319h0M481 75h0M481 197h0M74 448h0M170 448h0M344 448h0M494 422h0M523 75h0M523 180h0M74 308h0M74 487h0M493 75h0M74 475h0M502 75h0M75 178h0M179 75h0M74 474h0M503 75h0M485 75h0M74 492h0M251 492h0M490 75h0M459 315h0M268 75h0M75 169h0M186 75h0M497 75h0M74 307h0" class="f0"/>
<path d="M267 422h0M267 501h0M281 75h0M281 158h0M344 297h0M364 158h0M456 297h0M482 158h0M248 488h0M465 322h0M161 400h0M161 479h0M381 192h0M500 192h0M75 201h0M155 479h0M249 479h0M500 201h0M254 498h0M353 315h0M75 179h0M171 486h0M256 486h0M467 311h0M494 179h0M475 75h0M74 485h0M157 485h0M495 75h0M495 198h0M74 489h0M163 489h0M491 190h0M74 461h0M153 422h0M153 461h0M160 75h0M247 461h0M344 461h0M364 204h0M484 323h0M484 422h0M513 75h0M513 204h0M386 75h0M506 75h0M75 202h0M154 321h0M248 500h0M457 321h0M483 202h0" class="f1"/>
<path d="M75 172h0M176 496h0M184 75h0M260 496h0M273 75h0M459 307h0M486 75h0M486 172h0M74 322h0M75 203h0M161 75h0M261 75h0M75 196h0M158 491h0M491 196h0M75 194h0M167 75h0M265 75h0M507 75h0M460 320h0M75 197h0M158 473h0M165 75h0M353 473h0M476 411h0M504 197h0M74 491h0M491 75h0M74 510h0M75 195h0M166 75h0M264 75h0M476 75h0M74 323h0M75 204h0M153 323h0M153 417h0M153 500h0M159 75h0M247 417h0M260 75h0M348 323h0M368 204h0M483 75h0M483 204h0M74 502h0M74 479h0M75 180h0M178 75h0M272 75h0M500 75h0M75 184h0M368 75h0M480 75h0M75 200h0M156 486h0M162 75h0M494 75h0M494 200h0M74 311h0M75 185h0M167 499h0M174 75h0M270 75h0M484 185h0M74 499h0M75 177h0M180 75h0M373 75h0M484 75h0M262 75h0M499 75h0M75 188h0M164 312h0M164 488h0M172 75h0M269 188h0M492 75h0M492 188h0M482 75h0M74 508h0M75 189h0M171 75h0M477 75h0M75 199h0M163 75h0M488 75h0M75 192h0M168 75h0M496 75h0M74 312h0M75 181h0M177 75h0M269 75h0M74 507h0M75 191h0M169 75h0M267 75h0M478 75h0M75 183h0M175 75h0M271 75h0M74 316h0M74 495h0M75 190h0M170 75h0M266 75h0M487 75h0M74 473h0M75 198h0M157 473h0M164 75h0M250 473h0M263 75h0M364 75h0M476 319h0M504 75h0M504 198h0M158 483h0M468 319h0" class="fw"/>
<path d="M75 172h0M176 496h0M184 75h0M260 496h0M273 75h0M459 307h0M486 75h0M486 172h0M75 196h0M158 491h0M491 196h0M460 320h0M74 491h0M491 75h0M74 510h0M75 195h0M166 75h0M264 75h0M476 75h0M74 502h0M74 479h0M75 180h0M178 75h0M272 75h0M500 75h0M75 184h0M368 75h0M480 75h0M74 311h0M75 185h0M167 499h0M174 75h0M270 75h0M484 185h0M74 499h0M75 177h0M180 75h0M373 75h0M484 75h0M262 75h0M499 75h0M75 188h0M164 312h0M164 488h0M172 75h0M269 188h0M492 75h0M492 188h0M482 75h0M75 199h0M163 75h0M488 75h0M75 192h0M168 75h0M496 75h0M74 312h0M75 181h0M177 75h0M269 75h0M75 183h0M175 75h0M271 75h0M158 483h0M468 319h0" class="f0"/>
<path d="M74 322h0M75 203h0M161 75h0M261 75h0M75 194h0M167 75h0M265 75h0M507 75h0M75 197h0M158 473h0M165 75h0M353 473h0M476 411h0M504 197h0M74 323h0M75 204h0M153 323h0M153 417h0M153 500h0M159 75h0M247 417h0M260 75h0M348 323h0M368 204h0M483 75h0M483 204h0M75 200h0M156 486h0M162 75h0M494 75h0M494 200h0M74 508h0M75 189h0M171 75h0M477 75h0M74 507h0M75 191h0M169 75h0M267 75h0M478 75h0M74 316h0M74 495h0M75 190h0M170 75h0M266 75h0M487 75h0M74 473h0M75 198h0M157 473h0M164 75h0M250 473h0M263 75h0M364 75h0M476 319h0M504 75h0M504 198h0" class="f1"/>
<path d="M496 196h0M74 405h0M74 501h0M156 405h0M156 501h0M249 405h0M357 320h0M357 501h0M377 74h0M377 199h0M456 405h0M76 201h0M74 305h0M190 74h0M74 500h0M161 319h0M161 500h0M264 192h0M483 74h0M483 192h0M74 319h0M74 498h0M251 498h0M157 488h0M250 488h0M465 320h0M492 199h0M74 321h0M74 394h0M74 470h0M506 74h0M74 318h0M348 496h0M459 318h0M459 417h0M74 315h0M161 506h0M253 506h0M348 506h0M452 315h0M452 417h0M479 193h0M74 310h0M74 469h0M74 494h0M252 494h0M74 496h0M74 417h0M76 175h0M173 417h0M173 486h0M258 417h0M258 486h0M271 175h0M348 309h0M368 175h0M467 309h0M494 175h0M74 488h0M74 320h0M74 506h0M452 320h0M479 74h0M74 314h0M74 411h0M74 486h0M163 314h0M254 411h0M353 314h0M74 511h0M475 74h0M74 317h0M74 482h0M497 74h0M74 309h0M74 505h0M74 480h0M76 176h0M173 422h0M173 480h0M181 74h0M364 176h0M499 176h0M74 313h0M74 422h0M74 483h0M164 510h0M476 74h0M476 188h0M75 514h0M162 514h0M254 514h0M446 314h0M473 74h0M489 74h0M368 188h0M503 74h0M502 74h0M76 181h0M177 74h0M172 309h0M258 483h0M468 309h0M165 312h0M165 488h0M256 488h0M269 187h0M465 312h0M492 187h0M172 504h0M259 504h0M273 74h0M454 307h0M481 177h0M156 477h0M248 411h0M248 477h0M261 200h0M373 74h0M373 200h0" class="fw"/>
<path d="M496 196h0M74 305h0M190 74h0M74 500h0M161 319h0M161 500h0M264 192h0M483 74h0M483 192h0M74 319h0M74 498h0M251 498h0M157 488h0M250 488h0M465 320h0M492 199h0M74 310h0M74 469h0M74 494h0M252 494h0M74 496h0M74 417h0M76 175h0M173 417h0M173 486h0M258 417h0M258 486h0M271 175h0M348 309h0M368 175h0M467 309h0M494 175h0M74 488h0M74 511h0M475 74h0M74 317h0M74 482h0M497 74h0M74 309h0M74 505h0M74 480h0M76 176h0M173 422h0M173 480h0M181 74h0M364 176h0M499 176h0M74 313h0M74 422h0M74 483h0M164 510h0M476 74h0M476 188h0M75 514h0M162 514h0M254 514h0M446 314h0M473 74h0M489 74h0M503 74h0M502 74h0M76 181h0M177 74h0M172 309h0M258 483h0M468 309h0M165 312h0M165 488h0M256 488h0M269 187h0M465 312h0M492 187h0" class="f0"/>
<path d="M74 405h0M74 501h0M156 405h0M156 501h0M249 405h0M357 320h0M357 501h0M377 74h0M377 199h0M456 405h0M76 201h0M74 321h0M74 394h0M74 470h0M506 74h0M74 318h0M348 496h0M459 318h0M459 417h0M74 315h0M161 506h0M253 506h0M348 506h0M452 315h0M452 417h0M479 193h0M74 320h0M74 506h0M452 320h0M479 74h0M74 314h0M74 411h0M74 486h0M163 314h0M254 411h0M353 314h0M368 188h0M172 504h0M259 504h0M273 74h0M454 307h0M481 177h0M156 477h0M248 411h0M248 477h0M261 200h0M373 74h0M373 200h0" class="f1"/>
<path d="M472 321h0M500 200h0M484 74h0M76 203h0M154 508h0M248 508h0M451 322h0M477 203h0M169 74h0M254 494h0M488 191h0M159 489h0M166 74h0M464 319h0M76 182h0M168 306h0M168 479h0M176 74h0M274 182h0M500 182h0M75 394h0M168 394h0M168 480h0M175 74h0M255 394h0M255 480h0M269 74h0M365 312h0M365 480h0M386 74h0M386 183h0M471 312h0M471 394h0M499 183h0M165 501h0M266 187h0M482 187h0M75 464h0M165 464h0M253 464h0M266 186h0M344 464h0M482 315h0M482 422h0M510 74h0M510 186h0M166 504h0M481 74h0M481 186h0M76 180h0M75 309h0M76 178h0M179 74h0M272 74h0M272 178h0M494 74h0M468 74h0M174 74h0M268 74h0M496 74h0M75 508h0M160 508h0M477 74h0M477 193h0M163 74h0M488 74h0M75 304h0M76 168h0M187 74h0M276 74h0M368 74h0M491 74h0M75 473h0M76 187h0M172 74h0M270 74h0M504 74h0M75 321h0M76 200h0M162 74h0M76 198h0M157 507h0M164 74h0M262 74h0M478 198h0M171 74h0M499 74h0M76 202h0M155 498h0M161 74h0M261 74h0M485 74h0M485 202h0M160 469h0M252 469h0M265 74h0M478 317h0M507 194h0M75 472h0M170 74h0M505 74h0M178 74h0M271 74h0M507 74h0M180 74h0M274 74h0M500 74h0M487 194h0M75 468h0M76 197h0M158 468h0M250 468h0M263 74h0M479 319h0M508 74h0M76 193h0M161 507h0M168 74h0M251 507h0M451 318h0" class="fw"/>
<path d="M484 74h0M169 74h0M254 494h0M488 191h0M159 489h0M166 74h0M464 319h0M76 182h0M168 306h0M168 479h0M176 74h0M274 182h0M500 182h0M165 501h0M266 187h0M482 187h0M166 504h0M481 74h0M481 186h0M76 180h0M75 309h0M76 178h0M179 74h0M272 74h0M272 178h0M494 74h0M174 74h0M268 74h0M496 74h0M75 508h0M160 508h0M477 74h0M477 193h0M163 74h0M488 74h0M75 473h0M76 187h0M172 74h0M270 74h0M504 74h0M75 321h0M76 200h0M162 74h0M76 198h0M157 507h0M164 74h0M262 74h0M478 198h0M171 74h0M499 74h0M75 472h0M170 74h0M505 74h0M178 74h0M271 74h0M507 74h0M180 74h0M274 74h0M500 74h0M75 468h0M76 197h0M158 468h0M250 468h0M263 74h0M479 319h0M508 74h0" class="f0"/>
<path d="M472 321h0M500 200h0M76 203h0M154 508h0M248 508h0M451 322h0M477 203h0M75 394h0M168 394h0M168 480h0M175 74h0M255 394h0M255 480h0M269 74h0M365 312h0M365 480h0M386 74h0M386 183h0M471 312h0M471 394h0M499 183h0M75 464h0M165 464h0M253 464h0M266 186h0M344 464h0M482 315h0M482 422h0M510 74h0M510 186h0M468 74h0M75 304h0M76 168h0M187 74h0M276 74h0M368 74h0M491 74h0M76 202h0M155 498h0M161 74h0M261 74h0M485 74h0M485 202h0M160 469h0M252 469h0M265 74h0M478 317h0M507 194h0M487 194h0M76 193h0M161 507h0M168 74h0M251 507h0M451 318h0" class="f1"/>
<path d="M478 74h0M478 193h0M480 74h0M487 74h0M75 400h0M76 186h0M166 400h0M166 488h0M173 74h0M254 400h0M254 488h0M267 74h0M361 314h0M381 74h0M381 186h0M465 314h0M492 186h0M75 496h0M266 74h0M486 74h0M76 196h0M165 74h0M264 74h0M482 74h0M167 74h0M364 74h0M492 74h0M492 195h0M75 489h0M253 489h0M344 489h0M464 316h0M464 422h0M75 520h0M76 205h0M152 520h0M159 73h0M247 520h0M442 324h0M468 73h0M468 205h0M76 177h0M76 190h0M76 188h0M164 479h0M254 479h0M472 315h0M500 188h0M76 183h0M75 469h0M76 179h0M507 73h0M75 486h0M494 73h0M159 510h0M251 510h0M450 318h0M476 195h0M75 516h0M162 516h0M252 516h0M344 516h0M446 317h0M472 73h0M472 191h0M75 482h0M76 169h0M186 73h0M75 312h0M76 184h0M167 502h0M255 502h0M269 73h0M482 184h0M75 488h0M162 488h0M492 73h0M492 192h0M75 483h0M76 185h0M496 73h0M75 315h0M76 191h0M75 305h0M75 500h0M76 164h0M190 73h0M483 73h0M76 195h0M75 319h0M75 491h0M76 194h0M251 491h0M491 73h0M75 463h0M76 199h0M163 73h0M76 192h0M76 189h0M164 487h0M493 189h0M75 411h0M75 492h0M77 172h0M184 73h0M373 73h0M165 73h0M263 73h0M75 299h0M75 481h0M191 73h0M280 73h0M498 73h0M75 405h0M75 510h0M165 405h0M165 510h0M255 510h0M357 314h0M357 510h0" class="fw"/>
<path d="M480 74h0M487 74h0M75 496h0M266 74h0M486 74h0M76 196h0M165 74h0M264 74h0M482 74h0M167 74h0M364 74h0M492 74h0M492 195h0M75 489h0M253 489h0M344 489h0M464 316h0M464 422h0M76 177h0M76 190h0M76 188h0M164 479h0M254 479h0M472 315h0M500 188h0M76 183h0M75 469h0M76 179h0M507 73h0M75 486h0M494 73h0M159 510h0M251 510h0M450 318h0M476 195h0M75 516h0M162 516h0M252 516h0M344 516h0M446 317h0M472 73h0M472 191h0M75 482h0M76 169h0M186 73h0M75 488h0M162 488h0M492 73h0M492 192h0M75 483h0M76 185h0M496 73h0M75 315h0M76 191h0M75 305h0M75 500h0M76 164h0M190 73h0M483 73h0M76 195h0M75 319h0M75 491h0M76 194h0M251 491h0M491 73h0M75 463h0M76 199h0M163 73h0M76 192h0M76 189h0M164 487h0M493 189h0M75 411h0M75 492h0M77 172h0M184 73h0M373 73h0M165 73h0M263 73h0M75 299h0M75 481h0M191 73h0M280 73h0M498 73h0" class="f0"/>
<path d="M478 74h0M478 193h0M75 400h0M76 186h0M166 400h0M166 488h0M173 74h0M254 400h0M254 488h0M267 74h0M361 314h0M381 74h0M381 186h0M465 314h0M492 186h0M75 520h0M76 205h0M152 520h0M159 73h0M247 520h0M442 324h0M468 73h0M468 205h0M75 312h0M76 184h0M167 502h0M255 502h0M269 73h0M482 184h0M75 405h0M75 510h0M165 405h0M165 510h0M255 510h0M357 314h0M357 510h0" class="f1"/>
<path d="M377 187h0M450 314h0M450 405h0M476 73h0M476 187h0M75 494h0M166 494h0M255 494h0M461 313h0M488 73h0M488 186h0M75 311h0M75 505h0M174 73h0M480 73h0M75 474h0M503 73h0M75 495h0M77 183h0M168 310h0M168 495h0M257 495h0M460 310h0M487 73h0M487 183h0M170 73h0M75 314h0M75 308h0M75 480h0M499 73h0M75 475h0M266 73h0M502 73h0M75 417h0M160 499h0M368 73h0M368 194h0M484 194h0M75 324h0M75 499h0M158 73h0M259 73h0M484 73h0M75 318h0M75 501h0M166 73h0M264 73h0M75 502h0M157 502h0M249 502h0M455 320h0M482 198h0M75 477h0M157 477h0M249 477h0M472 320h0M500 198h0M75 310h0M75 487h0M271 73h0M75 322h0M75 504h0M77 202h0M154 504h0M161 73h0M248 504h0M261 73h0M261 202h0M364 202h0M454 322h0M481 73h0M481 202h0M75 316h0M75 511h0M168 73h0M475 73h0M75 313h0M175 73h0M75 320h0M75 498h0M75 317h0M75 493h0M75 306h0M75 479h0M77 177h0M180 73h0M274 73h0M75 307h0M75 422h0M75 507h0M77 178h0M179 73h0M273 73h0M478 73h0M76 309h0M76 479h0M77 180h0M178 73h0M272 73h0M500 73h0M77 200h0M162 73h0M172 73h0M504 73h0M77 182h0M176 73h0M270 73h0M482 73h0M497 73h0M162 487h0M169 73h0M466 316h0M493 73h0M493 192h0M173 73h0M267 73h0M377 73h0M171 73h0M485 73h0M76 463h0" class="fw"/>
<path d="M75 494h0M166 494h0M255 494h0M461 313h0M488 73h0M488 186h0M75 311h0M75 505h0M174 73h0M480 73h0M75 474h0M503 73h0M75 495h0M77 183h0M168 310h0M168 495h0M257 495h0M460 310h0M487 73h0M487 183h0M75 314h0M75 475h0M266 73h0M502 73h0M75 324h0M75 499h0M158 73h0M259 73h0M484 73h0M75 318h0M75 501h0M166 73h0M264 73h0M75 502h0M157 502h0M249 502h0M455 320h0M482 198h0M75 310h0M75 487h0M271 73h0M75 316h0M75 511h0M168 73h0M475 73h0M75 313h0M175 73h0M75 320h0M75 498h0M75 317h0M75 493h0M75 306h0M75 479h0M77 177h0M180 73h0M274 73h0M75 307h0M75 422h0M75 507h0M77 178h0M179 73h0M273 73h0M478 73h0M76 309h0M76 479h0M77 180h0M178 73h0M272 73h0M500 73h0M77 200h0M162 73h0M172 73h0M504 73h0M77 182h0M176 73h0M270 73h0M482 73h0M497 73h0M162 487h0M169 73h0M466 316h0M493 73h0M493 192h0M171 73h0M485 73h0M76 463h0" class="f0"/>
<path d="M377 187h0M450 314h0M450 405h0M476 73h0M476 187h0M170 73h0M75 308h0M75 480h0M499 73h0M75 417h0M160 499h0M368 73h0M368 194h0M484 194h0M75 477h0M157 477h0M249 477h0M472 320h0M500 198h0M75 322h0M75 504h0M77 202h0M154 504h0M161 73h0M248 504h0M261 73h0M261 202h0M364 202h0M454 322h0M481 73h0M481 202h0M173 73h0M267 73h0M377 73h0" class="f1"/>
<path d="M268 73h0M511 73h0M167 73h0M265 73h0M489 73h0M164 73h0M262 73h0M364 73h0M490 73h0M76 491h0M249 491h0M76 308h0M77 181h0M76 469h0M77 179h0M178 72h0M507 72h0M166 511h0M257 511h0M449 311h0M475 186h0M76 323h0M77 203h0M154 411h0M154 500h0M160 72h0M247 411h0M247 500h0M353 323h0M353 500h0M373 203h0M457 323h0M483 203h0M161 520h0M486 72h0M486 189h0M77 186h0M166 495h0M460 315h0M487 186h0M76 475h0M502 72h0M76 293h0M77 159h0M185 293h0M185 422h0M185 507h0M193 72h0M270 422h0M270 507h0M285 72h0M285 159h0M344 293h0M364 159h0M451 293h0M478 159h0M77 184h0M175 72h0M271 72h0M77 187h0M165 494h0M172 72h0M267 187h0M488 187h0M76 388h0M76 510h0M77 193h0M161 388h0M252 388h0M252 510h0M369 317h0M369 510h0M390 72h0M390 193h0M450 317h0M450 388h0M476 72h0M76 477h0M500 72h0M484 195h0M77 169h0M186 72h0M76 489h0M156 489h0M250 489h0M464 320h0M491 72h0M76 400h0M381 72h0M76 299h0M76 481h0M77 163h0M182 299h0M182 417h0M182 481h0M191 72h0M266 417h0M266 481h0M280 72h0M280 163h0M348 299h0M348 481h0M368 163h0M470 299h0M470 417h0M498 72h0M498 163h0M474 72h0M161 483h0M468 316h0M496 192h0M76 500h0M483 72h0M76 311h0M77 185h0M167 492h0M256 492h0M462 311h0M490 185h0M77 198h0" class="fw"/>
<path d="M268 73h0M511 73h0M167 73h0M265 73h0M489 73h0M164 73h0M262 73h0M364 73h0M490 73h0M76 308h0M77 181h0M76 469h0M77 179h0M178 72h0M507 72h0M166 511h0M257 511h0M449 311h0M475 186h0M161 520h0M486 72h0M486 189h0M77 186h0M166 495h0M460 315h0M487 186h0M76 475h0M502 72h0M76 293h0M77 159h0M185 293h0M185 422h0M185 507h0M193 72h0M270 422h0M270 507h0M285 72h0M285 159h0M344 293h0M364 159h0M451 293h0M478 159h0M77 184h0M175 72h0M271 72h0M77 187h0M165 494h0M172 72h0M267 187h0M488 187h0M76 477h0M500 72h0M77 169h0M186 72h0M76 489h0M156 489h0M250 489h0M464 320h0M491 72h0M76 400h0M381 72h0M76 299h0M76 481h0M77 163h0M182 299h0M182 417h0M182 481h0M191 72h0M266 417h0M266 481h0M280 72h0M280 163h0M348 299h0M348 481h0M368 163h0M470 299h0M470 417h0M498 72h0M498 163h0M474 72h0M76 500h0M483 72h0M76 311h0M77 185h0M167 492h0M256 492h0M462 311h0M490 185h0M77 198h0" class="f0"/>
<path d="M76 491h0M249 491h0M76 323h0M77 203h0M154 411h0M154 500h0M160 72h0M247 411h0M247 500h0M353 323h0M353 500h0M373 203h0M457 323h0M483 203h0M76 388h0M76 510h0M77 193h0M161 388h0M252 388h0M252 510h0M369 317h0M369 510h0M390 72h0M390 193h0M450 317h0M450 388h0M476 72h0M484 195h0M161 483h0M468 316h0M496 192h0" class="f1"/>
<path d="M77 192h0M162 494h0M461 316h0M488 192h0M77 189h0M77 205h0M158 72h0M259 72h0M484 72h0M77 199h0M163 72h0M76 519h0M469 72h0M77 188h0M164 486h0M171 72h0M254 486h0M494 188h0M76 488h0M77 194h0M160 488h0M251 488h0M344 488h0M465 318h0M465 422h0M492 72h0M492 194h0M76 473h0M77 191h0M162 473h0M253 473h0M476 315h0M504 72h0M504 191h0M76 520h0M77 197h0M158 520h0M368 72h0M468 72h0M468 197h0M77 190h0M77 195h0M250 495h0M460 319h0M176 72h0M76 501h0M482 72h0M76 411h0M373 72h0M76 511h0M78 193h0M475 72h0M163 495h0M253 495h0M487 72h0M487 190h0M158 498h0M485 72h0M485 197h0M76 316h0M76 472h0M163 472h0M170 72h0M253 472h0M266 72h0M344 472h0M477 316h0M477 422h0M505 72h0M505 190h0M76 482h0M167 72h0M497 72h0M177 72h0M269 72h0M76 492h0M166 72h0M490 72h0M174 72h0M268 72h0M496 72h0M76 505h0M480 72h0M76 314h0M162 507h0M169 72h0M267 72h0M478 191h0M76 324h0M76 394h0M78 204h0M153 324h0M153 494h0M159 72h0M247 394h0M247 494h0M260 72h0M365 324h0M365 494h0M386 72h0M461 324h0M461 394h0M488 204h0M165 72h0M264 72h0M76 494h0M164 72h0M263 72h0M488 72h0M76 307h0M179 72h0M273 72h0M478 72h0M76 487h0M162 72h0M262 72h0M493 72h0M76 493h0M173 72h0M270 72h0" class="fw"/>
<path d="M77 192h0M162 494h0M461 316h0M488 192h0M77 189h0M77 205h0M158 72h0M259 72h0M484 72h0M77 199h0M163 72h0M76 519h0M469 72h0M77 188h0M164 486h0M171 72h0M254 486h0M494 188h0M76 488h0M77 194h0M160 488h0M251 488h0M344 488h0M465 318h0M465 422h0M492 72h0M492 194h0M76 473h0M77 191h0M162 473h0M253 473h0M476 315h0M504 72h0M504 191h0M77 190h0M176 72h0M76 501h0M482 72h0M76 411h0M373 72h0M76 511h0M78 193h0M475 72h0M163 495h0M253 495h0M487 72h0M487 190h0M158 498h0M485 72h0M485 197h0M76 316h0M76 472h0M163 472h0M170 72h0M253 472h0M266 72h0M344 472h0M477 316h0M477 422h0M505 72h0M505 190h0M76 482h0M167 72h0M497 72h0M177 72h0M269 72h0M76 492h0M166 72h0M490 72h0M174 72h0M268 72h0M496 72h0M76 505h0M480 72h0M76 314h0M162 507h0M169 72h0M267 72h0M478 191h0M165 72h0M264 72h0M76 307h0M179 72h0M273 72h0M478 72h0M76 487h0M162 72h0M262 72h0M493 72h0M76 493h0M173 72h0M270 72h0" class="f0"/>
<path d="M76 520h0M77 197h0M158 520h0M368 72h0M468 72h0M468 197h0M77 195h0M250 495h0M460 319h0M76 324h0M76 394h0M78 204h0M153 324h0M153 494h0M159 72h0M247 394h0M247 494h0M260 72h0M365 324h0M365 494h0M386 72h0M461 324h0M461 394h0M488 204h0M76 494h0M164 72h0M263 72h0M488 72h0" class="f1"/>
<path d="M489 72h0M76 317h0M76 486h0M168 72h0M265 72h0M364 72h0M467 317h0M494 72h0M253 512h0M267 189h0M474 189h0M159 495h0M487 196h0M76 483h0M78 185h0M166 313h0M268 185h0M496 71h0M496 185h0M76 310h0M76 360h0M76 464h0M167 360h0M167 464h0M257 360h0M257 464h0M390 310h0M390 464h0M413 71h0M413 184h0M482 310h0M482 360h0M510 71h0M510 184h0M76 318h0M76 499h0M76 320h0M76 417h0M76 507h0M78 169h0M178 320h0M178 417h0M178 507h0M186 71h0M249 507h0M262 169h0M348 507h0M368 169h0M451 320h0M478 169h0M76 313h0M76 495h0M76 321h0M76 496h0M157 496h0M76 315h0M76 512h0M163 512h0M254 512h0M448 315h0M474 71h0M474 190h0M76 319h0M76 405h0M76 498h0M159 405h0M377 196h0M76 312h0M76 422h0M76 502h0M168 502h0M157 491h0M485 71h0M77 307h0M78 172h0M184 71h0M78 182h0M176 71h0M78 191h0M253 493h0M489 191h0M77 480h0M164 480h0M499 71h0M499 188h0M163 500h0M483 190h0M78 177h0M172 310h0M172 411h0M172 499h0M180 71h0M257 499h0M271 177h0M373 177h0M457 310h0M484 177h0M77 508h0M78 195h0M159 317h0M159 508h0M166 71h0M252 508h0M265 195h0M344 508h0M451 317h0M477 71h0M477 195h0M77 479h0M500 71h0M167 417h0M167 505h0M174 71h0M256 505h0M270 184h0M368 184h0M453 311h0M480 184h0M265 196h0M353 499h0" class="fw"/>
<path d="M489 72h0M76 317h0M76 486h0M168 72h0M265 72h0M364 72h0M467 317h0M494 72h0M253 512h0M267 189h0M474 189h0M159 495h0M487 196h0M76 483h0M78 185h0M166 313h0M268 185h0M496 71h0M496 185h0M76 320h0M76 417h0M76 507h0M78 169h0M178 320h0M178 417h0M178 507h0M186 71h0M249 507h0M262 169h0M348 507h0M368 169h0M451 320h0M478 169h0M76 313h0M76 495h0M76 321h0M76 496h0M157 496h0M485 71h0M77 307h0M78 172h0M184 71h0M78 182h0M176 71h0M78 191h0M253 493h0M489 191h0M77 480h0M164 480h0M499 71h0M499 188h0M163 500h0M483 190h0M78 177h0M172 310h0M172 411h0M172 499h0M180 71h0M257 499h0M271 177h0M373 177h0M457 310h0M484 177h0M77 508h0M78 195h0M159 317h0M159 508h0M166 71h0M252 508h0M265 195h0M344 508h0M451 317h0M477 71h0M477 195h0M77 479h0M500 71h0M167 417h0M167 505h0M174 71h0M256 505h0M270 184h0M368 184h0M453 311h0M480 184h0M265 196h0M353 499h0" class="f0"/>
<path d="M76 310h0M76 360h0M76 464h0M167 360h0M167 464h0M257 360h0M257 464h0M390 310h0M390 464h0M413 71h0M413 184h0M482 310h0M482 360h0M510 71h0M510 184h0M76 318h0M76 499h0M76 315h0M76 512h0M163 512h0M254 512h0M448 315h0M474 71h0M474 190h0M76 319h0M76 405h0M76 498h0M159 405h0M377 196h0M76 312h0M76 422h0M76 502h0M168 502h0M157 491h0" class="f1"/>
<path d="M457 317h0M457 411h0M78 192h0M169 71h0M78 187h0M172 71h0M78 178h0M171 411h0M171 495h0M179 71h0M258 495h0M353 495h0M373 71h0M373 178h0M460 309h0M460 411h0M487 178h0M78 189h0M78 184h0M175 71h0M268 71h0M483 71h0M77 474h0M503 71h0M158 487h0M251 487h0M466 318h0M493 197h0M78 200h0M162 71h0M262 71h0M466 320h0M78 179h0M271 71h0M507 71h0M78 190h0M163 388h0M163 494h0M170 71h0M253 388h0M253 494h0M369 315h0M369 494h0M390 190h0M461 315h0M461 388h0M488 190h0M77 388h0M78 161h0M184 304h0M184 388h0M184 499h0M192 71h0M262 388h0M262 499h0M276 161h0M369 304h0M369 499h0M390 71h0M390 161h0M457 304h0M457 388h0M484 161h0M77 507h0M169 312h0M169 507h0M256 507h0M269 181h0M451 312h0M478 71h0M478 181h0M77 304h0M78 168h0M179 304h0M179 417h0M179 491h0M187 71h0M262 417h0M262 491h0M276 71h0M276 168h0M348 304h0M368 168h0M463 304h0M491 168h0M178 71h0M77 495h0M487 71h0M269 71h0M78 198h0M164 71h0M264 71h0M381 71h0M77 494h0M160 494h0M461 317h0M488 71h0M488 194h0M77 516h0M78 206h0M151 324h0M151 405h0M151 516h0M158 71h0M246 405h0M246 516h0M259 71h0M259 206h0M357 324h0M357 516h0M377 71h0M377 206h0M446 324h0M446 405h0M472 71h0M472 206h0M77 491h0M78 199h0M163 71h0M491 71h0" class="fw"/>
<path d="M457 317h0M457 411h0M78 192h0M169 71h0M78 187h0M172 71h0M78 178h0M171 411h0M171 495h0M179 71h0M258 495h0M353 495h0M373 71h0M373 178h0M460 309h0M460 411h0M487 178h0M78 189h0M78 184h0M175 71h0M268 71h0M483 71h0M77 474h0M503 71h0M78 200h0M162 71h0M262 71h0M466 320h0M78 179h0M271 71h0M507 71h0M78 190h0M163 388h0M163 494h0M170 71h0M253 388h0M253 494h0M369 315h0M369 494h0M390 190h0M461 315h0M461 388h0M488 190h0M77 507h0M169 312h0M169 507h0M256 507h0M269 181h0M451 312h0M478 71h0M478 181h0M178 71h0M77 495h0M487 71h0M269 71h0M78 198h0M164 71h0M264 71h0M381 71h0M77 491h0M78 199h0M163 71h0M491 71h0" class="f0"/>
<path d="M158 487h0M251 487h0M466 318h0M493 197h0M77 388h0M78 161h0M184 304h0M184 388h0M184 499h0M192 71h0M262 388h0M262 499h0M276 161h0M369 304h0M369 499h0M390 71h0M390 161h0M457 304h0M457 388h0M484 161h0M77 304h0M78 168h0M179 304h0M179 417h0M179 491h0M187 71h0M262 417h0M262 491h0M276 71h0M276 168h0M348 304h0M368 168h0M463 304h0M491 168h0M77 494h0M160 494h0M461 317h0M488 71h0M488 194h0M77 516h0M78 206h0M151 324h0M151 405h0M151 516h0M158 71h0M246 405h0M246 516h0M259 71h0M259 206h0M357 324h0M357 516h0M377 71h0M377 206h0M446 324h0M446 405h0M472 71h0M472 206h0" class="f1"/>
<path d="M77 482h0M497 71h0M78 196h0M486 71h0M78 197h0M158 499h0M165 71h0M263 71h0M368 71h0M484 71h0M484 197h0M78 186h0M173 71h0M270 71h0M489 71h0M77 510h0M78 170h0M185 71h0M274 71h0M476 71h0M77 314h0M254 505h0M267 71h0M453 314h0M480 71h0M77 502h0M78 180h0M272 71h0M482 71h0M77 300h0M78 173h0M183 71h0M279 71h0M490 71h0M77 475h0M78 188h0M171 71h0M266 71h0M502 71h0M78 194h0M167 71h0M265 71h0M493 71h0M77 308h0M78 181h0M177 71h0M273 71h0M364 71h0M494 71h0M77 500h0M162 500h0M252 500h0M483 70h0M483 191h0M77 315h0M163 317h0M163 411h0M163 492h0M265 190h0M353 317h0M373 190h0M490 190h0M77 324h0M79 205h0M158 70h0M259 70h0M77 488h0M492 70h0M167 498h0M255 498h0M458 313h0M485 184h0M77 511h0M475 70h0M77 473h0M165 311h0M165 473h0M256 473h0M476 311h0M504 70h0M504 187h0M159 498h0M485 196h0M77 318h0M77 505h0M79 182h0M168 311h0M168 501h0M176 70h0M256 501h0M270 182h0M456 311h0M482 182h0M77 487h0M175 70h0M493 70h0M77 477h0M79 185h0M174 70h0M77 501h0M77 499h0M157 499h0M250 499h0M484 198h0M77 519h0M469 70h0M77 317h0M77 498h0M77 311h0M77 504h0M79 191h0M162 311h0M256 504h0M270 191h0M454 311h0M77 321h0M77 489h0M157 489h0M249 489h0M464 321h0" class="fw"/>
<path d="M77 482h0M497 71h0M78 196h0M486 71h0M78 186h0M173 71h0M270 71h0M489 71h0M77 510h0M78 170h0M185 71h0M274 71h0M476 71h0M77 314h0M254 505h0M267 71h0M453 314h0M480 71h0M77 502h0M78 180h0M272 71h0M482 71h0M77 300h0M78 173h0M183 71h0M279 71h0M490 71h0M77 475h0M78 188h0M171 71h0M266 71h0M502 71h0M78 194h0M167 71h0M265 71h0M493 71h0M77 308h0M78 181h0M177 71h0M273 71h0M364 71h0M494 71h0M77 500h0M162 500h0M252 500h0M483 70h0M483 191h0M77 315h0M77 324h0M79 205h0M158 70h0M259 70h0M77 488h0M492 70h0M167 498h0M255 498h0M458 313h0M485 184h0M77 511h0M475 70h0M77 473h0M165 311h0M165 473h0M256 473h0M476 311h0M504 70h0M504 187h0M77 318h0M77 505h0M79 182h0M168 311h0M168 501h0M176 70h0M256 501h0M270 182h0M456 311h0M482 182h0M77 487h0M175 70h0M493 70h0M77 477h0M79 185h0M174 70h0M77 501h0M77 499h0M157 499h0M250 499h0M484 198h0M77 519h0M469 70h0M77 317h0M77 498h0" class="f0"/>
<path d="M78 197h0M158 499h0M165 71h0M263 71h0M368 71h0M484 71h0M484 197h0M163 317h0M163 411h0M163 492h0M265 190h0M353 317h0M373 190h0M490 190h0M159 498h0M485 196h0M77 311h0M77 504h0M79 191h0M162 311h0M256 504h0M270 191h0M454 311h0M77 321h0M77 489h0M157 489h0M249 489h0M464 321h0" class="f1"/>
<path d="M491 70h0M491 198h0M77 310h0M77 469h0M507 70h0M77 320h0M77 309h0M77 405h0M258 405h0M258 492h0M272 70h0M357 309h0M357 492h0M377 70h0M462 309h0M462 405h0M77 306h0M77 496h0M79 176h0M486 70h0M77 400h0M77 467h0M158 400h0M158 467h0M250 400h0M250 467h0M361 319h0M361 467h0M381 70h0M381 197h0M480 319h0M480 400h0M508 70h0M508 197h0M77 313h0M77 492h0M170 313h0M170 492h0M255 492h0M268 181h0M77 316h0M77 417h0M77 486h0M79 190h0M170 70h0M494 70h0M77 319h0M77 411h0M77 493h0M77 312h0M77 422h0M173 70h0M78 312h0M255 501h0M269 70h0M456 312h0M164 70h0M78 508h0M171 70h0M451 316h0M477 70h0M78 504h0M79 193h0M167 70h0M265 70h0M481 70h0M79 181h0M170 310h0M170 494h0M177 70h0M258 494h0M271 70h0M271 181h0M461 310h0M488 70h0M488 181h0M79 177h0M180 70h0M274 70h0M500 70h0M79 199h0M163 70h0M263 70h0M485 70h0M78 314h0M79 187h0M165 417h0M165 499h0M172 70h0M268 70h0M348 314h0M348 499h0M368 70h0M368 187h0M484 187h0M78 499h0M79 179h0M171 311h0M178 70h0M256 499h0M270 70h0M270 179h0M484 70h0M79 172h0M176 492h0M184 70h0M260 492h0M353 492h0M462 307h0M490 70h0M490 172h0M78 394h0M78 470h0M158 321h0M158 394h0M158 470h0M249 470h0M365 321h0M365 470h0M386 70h0" class="fw"/>
<path d="M77 310h0M77 469h0M507 70h0M77 320h0M77 306h0M77 496h0M79 176h0M486 70h0M77 313h0M77 492h0M170 313h0M170 492h0M255 492h0M268 181h0M77 316h0M77 417h0M77 486h0M79 190h0M170 70h0M494 70h0M77 319h0M77 411h0M77 493h0M77 312h0M77 422h0M173 70h0M78 504h0M79 193h0M167 70h0M265 70h0M481 70h0M79 181h0M170 310h0M170 494h0M177 70h0M258 494h0M271 70h0M271 181h0M461 310h0M488 70h0M488 181h0M79 177h0M180 70h0M274 70h0M500 70h0M79 199h0M163 70h0M263 70h0M485 70h0M78 314h0M79 187h0M165 417h0M165 499h0M172 70h0M268 70h0M348 314h0M348 499h0M368 70h0M368 187h0M484 187h0M78 499h0M79 179h0M171 311h0M178 70h0M256 499h0M270 70h0M270 179h0M484 70h0M79 172h0M176 492h0M184 70h0M260 492h0M353 492h0M462 307h0M490 70h0M490 172h0" class="f0"/>
<path d="M491 70h0M491 198h0M77 309h0M77 405h0M258 405h0M258 492h0M272 70h0M357 309h0M357 492h0M377 70h0M462 309h0M462 405h0M77 400h0M77 467h0M158 400h0M158 467h0M250 400h0M250 467h0M361 319h0M361 467h0M381 70h0M381 197h0M480 319h0M480 400h0M508 70h0M508 197h0M78 312h0M255 501h0M269 70h0M456 312h0M164 70h0M78 508h0M171 70h0M451 316h0M477 70h0M78 394h0M78 470h0M158 321h0M158 394h0M158 470h0M249 470h0M365 321h0M365 470h0M386 70h0" class="f1"/>
<path d="M386 197h0M478 321h0M478 394h0M506 70h0M506 197h0M159 502h0M165 70h0M251 502h0M264 70h0M353 502h0M373 70h0M373 196h0M455 318h0M455 411h0M482 70h0M79 192h0M169 70h0M266 70h0M489 70h0M79 201h0M162 70h0M249 505h0M262 70h0M453 321h0M480 70h0M79 178h0M179 70h0M273 70h0M364 70h0M478 70h0M78 302h0M79 166h0M188 69h0M277 69h0M79 189h0M78 474h0M157 474h0M250 474h0M503 69h0M503 198h0M79 198h0M79 197h0M78 487h0M79 184h0M167 310h0M167 487h0M175 69h0M257 487h0M271 69h0M466 310h0M493 69h0M493 184h0M78 466h0M79 196h0M509 69h0M78 310h0M79 186h0M166 493h0M173 69h0M257 493h0M489 186h0M79 195h0M252 411h0M252 501h0M266 195h0M353 316h0M353 501h0M456 316h0M456 411h0M78 479h0M180 69h0M78 317h0M164 317h0M164 498h0M252 498h0M265 189h0M458 317h0M485 189h0M78 322h0M261 69h0M78 305h0M80 164h0M181 305h0M181 500h0M190 69h0M261 500h0M274 164h0M457 305h0M483 164h0M78 514h0M163 514h0M253 514h0M344 514h0M446 316h0M446 422h0M473 69h0M473 190h0M157 505h0M251 505h0M361 505h0M453 318h0M453 400h0M480 198h0M166 69h0M161 486h0M168 69h0M267 69h0M78 505h0M480 69h0M78 306h0M78 510h0M80 170h0M185 69h0M274 69h0M476 69h0M78 315h0M78 483h0M157 315h0M157 483h0M253 483h0" class="fw"/>
<path d="M79 192h0M169 70h0M266 70h0M489 70h0M79 178h0M179 70h0M273 70h0M364 70h0M478 70h0M78 302h0M79 166h0M188 69h0M277 69h0M79 189h0M78 474h0M157 474h0M250 474h0M503 69h0M503 198h0M79 198h0M79 197h0M78 466h0M79 196h0M509 69h0M78 310h0M79 186h0M166 493h0M173 69h0M257 493h0M489 186h0M78 479h0M180 69h0M78 317h0M164 317h0M164 498h0M252 498h0M265 189h0M458 317h0M485 189h0M78 305h0M80 164h0M181 305h0M181 500h0M190 69h0M261 500h0M274 164h0M457 305h0M483 164h0M157 505h0M251 505h0M361 505h0M453 318h0M453 400h0M480 198h0M166 69h0M78 505h0M480 69h0M78 306h0M78 510h0M80 170h0M185 69h0M274 69h0M476 69h0" class="f0"/>
<path d="M386 197h0M478 321h0M478 394h0M506 70h0M506 197h0M159 502h0M165 70h0M251 502h0M264 70h0M353 502h0M373 70h0M373 196h0M455 318h0M455 411h0M482 70h0M79 201h0M162 70h0M249 505h0M262 70h0M453 321h0M480 70h0M78 487h0M79 184h0M167 310h0M167 487h0M175 69h0M257 487h0M271 69h0M466 310h0M493 69h0M493 184h0M79 195h0M252 411h0M252 501h0M266 195h0M353 316h0M353 501h0M456 316h0M456 411h0M78 322h0M261 69h0M78 514h0M163 514h0M253 514h0M344 514h0M446 316h0M446 422h0M473 69h0M473 190h0M161 486h0M168 69h0M267 69h0M78 315h0M78 483h0M157 315h0M157 483h0M253 483h0" class="f1"/>
<path d="M266 199h0M468 315h0M496 69h0M496 199h0M78 500h0M483 69h0M78 495h0M160 495h0M487 69h0M487 195h0M78 492h0M80 181h0M169 308h0M169 422h0M169 492h0M177 69h0M259 492h0M272 181h0M462 308h0M490 69h0M490 181h0M78 313h0M78 488h0M80 189h0M163 313h0M163 488h0M171 69h0M255 488h0M268 69h0M465 313h0M492 69h0M492 189h0M78 501h0M78 520h0M157 520h0M250 520h0M442 320h0M468 69h0M468 198h0M78 493h0M80 192h0M169 69h0M489 69h0M78 494h0M488 69h0M78 311h0M78 477h0M80 185h0M174 69h0M270 69h0M500 69h0M158 486h0M165 69h0M494 197h0M78 320h0M80 198h0M164 69h0M78 307h0M78 507h0M179 69h0M273 69h0M478 69h0M78 318h0M78 481h0M160 481h0M167 69h0M251 481h0M264 69h0M470 318h0M498 69h0M498 194h0M78 308h0M78 400h0M78 502h0M178 69h0M272 69h0M381 69h0M482 69h0M78 482h0M265 69h0M497 69h0M78 319h0M78 411h0M78 498h0M156 319h0M156 411h0M156 498h0M163 69h0M250 498h0M263 69h0M353 498h0M373 69h0M373 199h0M458 319h0M458 411h0M485 69h0M485 199h0M78 321h0M78 422h0M78 519h0M80 201h0M155 422h0M155 519h0M162 69h0M249 519h0M262 69h0M344 519h0M364 69h0M364 201h0M443 321h0M443 422h0M469 69h0M469 201h0M78 316h0M78 417h0M78 486h0M170 69h0M266 69h0M368 69h0M494 69h0" class="fw"/>
<path d="M78 500h0M483 69h0M78 495h0M160 495h0M487 69h0M487 195h0M78 313h0M78 488h0M80 189h0M163 313h0M163 488h0M171 69h0M255 488h0M268 69h0M465 313h0M492 69h0M492 189h0M78 520h0M157 520h0M250 520h0M442 320h0M468 69h0M468 198h0M78 493h0M80 192h0M169 69h0M489 69h0M78 494h0M488 69h0M78 311h0M78 477h0M80 185h0M174 69h0M270 69h0M500 69h0M78 307h0M78 507h0M179 69h0M273 69h0M478 69h0M78 482h0M265 69h0M497 69h0M78 319h0M78 411h0M78 498h0M156 319h0M156 411h0M156 498h0M163 69h0M250 498h0M263 69h0M353 498h0M373 69h0M373 199h0M458 319h0M458 411h0M485 69h0M485 199h0M78 316h0M78 417h0M78 486h0M170 69h0M266 69h0M368 69h0M494 69h0" class="f0"/>
<path d="M266 199h0M468 315h0M496 69h0M496 199h0M78 492h0M80 181h0M169 308h0M169 422h0M169 492h0M177 69h0M259 492h0M272 181h0M462 308h0M490 69h0M490 181h0M78 501h0M158 486h0M165 69h0M494 197h0M78 320h0M80 198h0M164 69h0M78 318h0M78 481h0M160 481h0M167 69h0M251 481h0M264 69h0M470 318h0M498 69h0M498 194h0M78 308h0M78 400h0M78 502h0M178 69h0M272 69h0M381 69h0M482 69h0M78 321h0M78 422h0M78 519h0M80 201h0M155 422h0M155 519h0M162 69h0M249 519h0M262 69h0M344 519h0M364 69h0M364 201h0M443 321h0M443 422h0M469 69h0M469 201h0" class="f1"/>
<path d="M80 190h0M170 68h0M494 68h0M79 492h0M268 68h0M490 68h0M79 307h0M79 507h0M478 68h0M263 68h0M368 68h0M469 68h0M80 196h0M266 68h0M79 502h0M80 180h0M272 68h0M79 505h0M80 178h0M179 68h0M480 68h0M80 193h0M168 68h0M475 68h0M80 177h0M172 306h0M172 479h0M260 479h0M274 68h0M274 177h0M472 306h0M500 177h0M80 188h0M171 68h0M80 195h0M79 274h0M80 117h0M215 496h0M226 68h0M285 496h0M300 68h0M459 274h0M486 68h0M486 117h0M79 309h0M79 479h0M80 184h0M175 68h0M381 68h0M79 468h0M80 199h0M163 68h0M262 68h0M508 68h0M79 302h0M79 487h0M80 166h0M188 68h0M277 68h0M493 68h0M79 317h0M79 482h0M80 194h0M160 482h0M167 68h0M265 68h0M469 317h0M497 68h0M497 194h0M79 485h0M251 485h0M467 318h0M495 68h0M79 411h0M80 197h0M158 493h0M165 68h0M353 493h0M373 68h0M462 411h0M489 68h0M489 197h0M79 311h0M79 477h0M81 185h0M174 68h0M270 68h0M500 68h0M79 310h0M79 469h0M81 179h0M178 68h0M271 68h0M507 68h0M79 501h0M81 195h0M166 68h0M264 68h0M482 68h0M79 460h0M81 177h0M172 460h0M180 68h0M259 460h0M273 68h0M485 308h0M514 68h0M514 177h0M79 314h0M169 68h0M267 68h0M364 68h0M484 68h0M79 313h0M79 499h0M79 493h0M489 67h0M79 405h0M79 498h0M81 186h0" class="fw"/>
<path d="M80 190h0M170 68h0M494 68h0M79 492h0M268 68h0M490 68h0M79 307h0M79 507h0M478 68h0M263 68h0M368 68h0M469 68h0M80 196h0M266 68h0M80 193h0M168 68h0M475 68h0M80 177h0M172 306h0M172 479h0M260 479h0M274 68h0M274 177h0M472 306h0M500 177h0M80 188h0M171 68h0M79 309h0M79 479h0M80 184h0M175 68h0M381 68h0M79 302h0M79 487h0M80 166h0M188 68h0M277 68h0M493 68h0M79 411h0M80 197h0M158 493h0M165 68h0M353 493h0M373 68h0M462 411h0M489 68h0M489 197h0M79 311h0M79 477h0M81 185h0M174 68h0M270 68h0M500 68h0M79 310h0M79 469h0M81 179h0M178 68h0M271 68h0M507 68h0M79 501h0M81 195h0M166 68h0M264 68h0M482 68h0M79 314h0M169 68h0M267 68h0M364 68h0M484 68h0M79 313h0M79 493h0M489 67h0" class="f0"/>
<path d="M79 502h0M80 180h0M272 68h0M79 505h0M80 178h0M179 68h0M480 68h0M80 195h0M79 274h0M80 117h0M215 496h0M226 68h0M285 496h0M300 68h0M459 274h0M486 68h0M486 117h0M79 468h0M80 199h0M163 68h0M262 68h0M508 68h0M79 317h0M79 482h0M80 194h0M160 482h0M167 68h0M265 68h0M469 317h0M497 68h0M497 194h0M79 485h0M251 485h0M467 318h0M495 68h0M79 460h0M81 177h0M172 460h0M180 68h0M259 460h0M273 68h0M485 308h0M514 68h0M514 177h0M79 499h0M79 405h0M79 498h0M81 186h0" class="f1"/>
<path d="M166 315h0M166 405h0M166 498h0M173 67h0M253 498h0M267 67h0M267 186h0M357 315h0M357 498h0M377 67h0M377 186h0M458 315h0M458 405h0M485 67h0M485 186h0M79 306h0M79 400h0M81 176h0M180 67h0M274 67h0M381 67h0M79 318h0M79 495h0M81 198h0M164 67h0M487 67h0M79 315h0M79 321h0M156 496h0M249 496h0M262 67h0M459 321h0M486 199h0M79 324h0M79 511h0M152 511h0M159 67h0M247 511h0M260 205h0M449 324h0M475 205h0M79 319h0M79 417h0M79 519h0M81 197h0M165 67h0M469 67h0M79 316h0M79 496h0M81 194h0M167 67h0M266 67h0M79 308h0M79 422h0M79 486h0M81 181h0M177 67h0M81 199h0M156 491h0M163 67h0M263 67h0M463 320h0M491 199h0M80 307h0M80 507h0M81 178h0M171 307h0M171 507h0M179 67h0M259 507h0M273 67h0M273 178h0M364 178h0M451 307h0M478 67h0M478 178h0M81 188h0M486 67h0M80 318h0M80 489h0M81 193h0M168 67h0M264 67h0M491 67h0M81 180h0M170 505h0M178 67h0M272 67h0M480 180h0M80 322h0M81 201h0M162 67h0M261 67h0M348 322h0M368 67h0M480 67h0M81 192h0M169 67h0M490 67h0M81 184h0M175 67h0M268 67h0M483 67h0M80 511h0M265 67h0M475 67h0M80 411h0M81 187h0M172 67h0M270 67h0M373 67h0M494 67h0M81 189h0M171 67h0M269 67h0M484 67h0M80 502h0M81 205h0M158 67h0M259 67h0" class="fw"/>
<path d="M79 306h0M79 400h0M81 176h0M180 67h0M274 67h0M381 67h0M79 318h0M79 495h0M81 198h0M164 67h0M487 67h0M79 319h0M79 417h0M79 519h0M81 197h0M165 67h0M469 67h0M79 316h0M79 496h0M81 194h0M167 67h0M266 67h0M79 308h0M79 422h0M79 486h0M81 181h0M177 67h0M81 199h0M156 491h0M163 67h0M263 67h0M463 320h0M491 199h0M80 307h0M80 507h0M81 178h0M171 307h0M171 507h0M179 67h0M259 507h0M273 67h0M273 178h0M364 178h0M451 307h0M478 67h0M478 178h0M81 180h0M170 505h0M178 67h0M272 67h0M480 180h0M81 192h0M169 67h0M490 67h0M81 184h0M175 67h0M268 67h0M483 67h0M80 511h0M265 67h0M475 67h0M80 411h0M81 187h0M172 67h0M270 67h0M373 67h0M494 67h0M81 189h0M171 67h0M269 67h0M484 67h0M80 502h0M81 205h0M158 67h0M259 67h0" class="f0"/>
<path d="M166 315h0M166 405h0M166 498h0M173 67h0M253 498h0M267 67h0M267 186h0M357 315h0M357 498h0M377 67h0M377 186h0M458 315h0M458 405h0M485 67h0M485 186h0M79 315h0M79 321h0M156 496h0M249 496h0M262 67h0M459 321h0M486 199h0M79 324h0M79 511h0M152 511h0M159 67h0M247 511h0M260 205h0M449 324h0M475 205h0M81 188h0M486 67h0M80 318h0M80 489h0M81 193h0M168 67h0M264 67h0M491 67h0M80 322h0M81 201h0M162 67h0M261 67h0M348 322h0M368 67h0M480 67h0" class="f1"/>
<path d="M482 67h0M80 323h0M80 460h0M81 203h0M160 67h0M260 67h0M364 67h0M514 67h0M166 66h0M486 195h0M80 483h0M82 194h0M496 66h0M80 309h0M80 479h0M82 180h0M170 309h0M170 479h0M272 66h0M344 479h0M500 66h0M500 180h0M262 66h0M262 197h0M80 504h0M82 193h0M160 417h0M160 504h0M167 66h0M348 504h0M454 316h0M454 417h0M481 66h0M481 193h0M80 324h0M80 383h0M80 491h0M82 205h0M152 383h0M152 491h0M159 66h0M246 383h0M246 491h0M259 66h0M373 324h0M373 491h0M395 66h0M395 205h0M463 324h0M463 383h0M491 66h0M491 205h0M80 501h0M82 190h0M163 501h0M170 66h0M253 501h0M456 315h0M482 66h0M482 190h0M264 66h0M80 485h0M495 66h0M80 310h0M80 469h0M171 469h0M178 66h0M257 469h0M271 66h0M478 310h0M507 66h0M507 179h0M254 492h0M462 314h0M80 320h0M80 494h0M82 199h0M164 66h0M250 494h0M263 199h0M461 320h0M488 66h0M488 199h0M80 486h0M82 181h0M170 486h0M177 66h0M259 486h0M467 308h0M494 66h0M494 181h0M80 312h0M167 312h0M167 496h0M174 66h0M255 496h0M269 184h0M459 312h0M486 184h0M80 463h0M254 463h0M344 463h0M483 314h0M511 66h0M80 314h0M80 495h0M164 495h0M254 495h0M267 66h0M460 314h0M487 66h0M487 188h0M171 66h0M269 66h0M80 274h0M80 499h0M82 117h0M215 274h0M215 499h0M226 66h0" class="fw"/>
<path d="M482 67h0M80 323h0M80 460h0M81 203h0M160 67h0M260 67h0M364 67h0M514 67h0M80 483h0M82 194h0M496 66h0M80 309h0M80 479h0M82 180h0M170 309h0M170 479h0M272 66h0M344 479h0M500 66h0M500 180h0M80 504h0M82 193h0M160 417h0M160 504h0M167 66h0M348 504h0M454 316h0M454 417h0M481 66h0M481 193h0M80 501h0M82 190h0M163 501h0M170 66h0M253 501h0M456 315h0M482 66h0M482 190h0M264 66h0M80 485h0M495 66h0M80 310h0M80 469h0M171 469h0M178 66h0M257 469h0M271 66h0M478 310h0M507 66h0M507 179h0M254 492h0M462 314h0M80 486h0M82 181h0M170 486h0M177 66h0M259 486h0M467 308h0M494 66h0M494 181h0M80 312h0M167 312h0M167 496h0M174 66h0M255 496h0M269 184h0M459 312h0M486 184h0M80 463h0M254 463h0M344 463h0M483 314h0M511 66h0M80 314h0M80 495h0M164 495h0M254 495h0M267 66h0M460 314h0M487 66h0M487 188h0M171 66h0M269 66h0" class="f0"/>
<path d="M166 66h0M486 195h0M262 66h0M262 197h0M80 324h0M80 383h0M80 491h0M82 205h0M152 383h0M152 491h0M159 66h0M246 383h0M246 491h0M259 66h0M373 324h0M373 491h0M395 66h0M395 205h0M463 324h0M463 383h0M491 66h0M491 205h0M80 320h0M80 494h0M82 199h0M164 66h0M250 494h0M263 199h0M461 320h0M488 66h0M488 199h0M80 274h0M80 499h0M82 117h0M215 274h0M215 499h0M226 66h0" class="f1"/>
<path d="M285 422h0M285 499h0M300 66h0M344 274h0M457 274h0M484 66h0M484 117h0M80 315h0M82 188h0M165 315h0M165 500h0M172 66h0M253 500h0M457 315h0M483 188h0M80 316h0M80 496h0M82 196h0M159 316h0M159 496h0M266 66h0M266 196h0M486 66h0M486 196h0M80 319h0M80 422h0M80 512h0M82 197h0M165 66h0M263 66h0M474 66h0M80 308h0M80 417h0M80 505h0M82 171h0M185 66h0M273 66h0M368 66h0M480 66h0M80 313h0M80 500h0M82 184h0M175 66h0M268 66h0M483 66h0M80 317h0M80 492h0M82 192h0M169 66h0M265 66h0M82 173h0M175 300h0M175 422h0M175 492h0M183 66h0M265 422h0M265 492h0M279 66h0M279 173h0M344 300h0M364 66h0M364 173h0M462 300h0M490 66h0M490 173h0M82 191h0M490 191h0M82 189h0M164 311h0M257 482h0M270 189h0M469 311h0M81 306h0M81 510h0M82 170h0M185 65h0M274 65h0M476 65h0M81 481h0M82 195h0M498 65h0M82 179h0M171 308h0M171 417h0M171 480h0M179 65h0M259 480h0M272 179h0M348 480h0M368 179h0M471 308h0M471 417h0M499 179h0M81 511h0M161 511h0M265 65h0M449 316h0M475 65h0M475 193h0M81 315h0M168 65h0M489 65h0M81 482h0M162 482h0M252 482h0M348 482h0M469 417h0M497 65h0M497 192h0M158 494h0M251 494h0M461 319h0M488 65h0M488 196h0M81 487h0M83 186h0M173 65h0M268 65h0M493 65h0M81 321h0" class="fw"/>
<path d="M80 316h0M80 496h0M82 196h0M159 316h0M159 496h0M266 66h0M266 196h0M486 66h0M486 196h0M80 319h0M80 422h0M80 512h0M82 197h0M165 66h0M263 66h0M474 66h0M80 308h0M80 417h0M80 505h0M82 171h0M185 66h0M273 66h0M368 66h0M480 66h0M80 313h0M80 500h0M82 184h0M175 66h0M268 66h0M483 66h0M80 317h0M80 492h0M82 192h0M169 66h0M265 66h0M82 173h0M175 300h0M175 422h0M175 492h0M183 66h0M265 422h0M265 492h0M279 66h0M279 173h0M344 300h0M364 66h0M364 173h0M462 300h0M490 66h0M490 173h0M82 191h0M490 191h0M81 306h0M81 510h0M82 170h0M185 65h0M274 65h0M476 65h0M81 481h0M82 195h0M498 65h0M82 179h0M171 308h0M171 417h0M171 480h0M179 65h0M259 480h0M272 179h0M348 480h0M368 179h0M471 308h0M471 417h0M499 179h0M81 511h0M161 511h0M265 65h0M449 316h0M475 65h0M475 193h0M81 315h0M168 65h0M489 65h0M158 494h0M251 494h0M461 319h0M488 65h0M488 196h0M81 487h0M83 186h0M173 65h0M268 65h0M493 65h0M81 321h0" class="f0"/>
<path d="M285 422h0M285 499h0M300 66h0M344 274h0M457 274h0M484 66h0M484 117h0M80 315h0M82 188h0M165 315h0M165 500h0M172 66h0M253 500h0M457 315h0M483 188h0M82 189h0M164 311h0M257 482h0M270 189h0M469 311h0M81 482h0M162 482h0M252 482h0M348 482h0M469 417h0M497 65h0M497 192h0" class="f1"/>
<path d="M81 495h0M83 200h0M156 495h0M162 65h0M249 495h0M364 200h0M460 321h0M487 65h0M487 200h0M81 411h0M83 195h0M166 65h0M264 65h0M373 65h0M81 308h0M81 400h0M83 180h0M272 65h0M381 65h0M81 474h0M253 474h0M475 316h0M503 65h0M81 307h0M81 498h0M83 181h0M170 307h0M170 498h0M177 65h0M259 498h0M273 65h0M273 181h0M364 181h0M458 307h0M485 65h0M485 181h0M81 499h0M484 65h0M81 501h0M158 320h0M158 501h0M165 65h0M81 287h0M81 480h0M83 141h0M198 287h0M198 422h0M198 480h0M207 65h0M275 422h0M275 480h0M289 65h0M289 141h0M344 287h0M344 480h0M364 141h0M471 287h0M471 422h0M499 65h0M499 141h0M81 311h0M81 477h0M83 185h0M167 311h0M167 477h0M174 65h0M270 65h0M270 185h0M344 477h0M472 311h0M472 422h0M500 65h0M500 185h0M81 314h0M81 485h0M83 188h0M171 65h0M267 65h0M495 65h0M81 486h0M250 486h0M263 65h0M494 65h0M494 198h0M81 316h0M81 502h0M162 502h0M266 65h0M266 191h0M482 65h0M482 191h0M81 313h0M81 513h0M162 313h0M162 513h0M169 65h0M255 417h0M255 513h0M269 65h0M269 191h0M348 313h0M348 513h0M368 65h0M447 313h0M447 417h0M473 65h0M473 191h0M81 310h0M83 179h0M171 492h0M178 65h0M257 492h0M271 65h0M462 310h0M490 179h0M81 320h0M81 492h0M83 198h0M164 65h0M262 65h0" class="fw"/>
<path d="M81 495h0M83 200h0M156 495h0M162 65h0M249 495h0M364 200h0M460 321h0M487 65h0M487 200h0M81 474h0M253 474h0M475 316h0M503 65h0M81 307h0M81 498h0M83 181h0M170 307h0M170 498h0M177 65h0M259 498h0M273 65h0M273 181h0M364 181h0M458 307h0M485 65h0M485 181h0M81 499h0M484 65h0M81 501h0M158 320h0M158 501h0M165 65h0M81 311h0M81 477h0M83 185h0M167 311h0M167 477h0M174 65h0M270 65h0M270 185h0M344 477h0M472 311h0M472 422h0M500 65h0M500 185h0M81 314h0M81 485h0M83 188h0M171 65h0M267 65h0M495 65h0M81 486h0M250 486h0M263 65h0M494 65h0M494 198h0M81 320h0M81 492h0M83 198h0M164 65h0M262 65h0" class="f0"/>
<path d="M81 411h0M83 195h0M166 65h0M264 65h0M373 65h0M81 308h0M81 400h0M83 180h0M272 65h0M381 65h0M81 287h0M81 480h0M83 141h0M198 287h0M198 422h0M198 480h0M207 65h0M275 422h0M275 480h0M289 65h0M289 141h0M344 287h0M344 480h0M364 141h0M471 287h0M471 422h0M499 65h0M499 141h0M81 316h0M81 502h0M162 502h0M266 65h0M266 191h0M482 65h0M482 191h0M81 313h0M81 513h0M162 313h0M162 513h0M169 65h0M255 417h0M255 513h0M269 65h0M269 191h0M348 313h0M348 513h0M368 65h0M447 313h0M447 417h0M473 65h0M473 191h0M81 310h0M83 179h0M171 492h0M178 65h0M257 492h0M271 65h0M462 310h0M490 179h0" class="f1"/>
<path d="M364 65h0M490 65h0M81 462h0M512 64h0M81 318h0M81 493h0M160 493h0M251 493h0M462 318h0M489 194h0M81 317h0M81 417h0M81 476h0M83 191h0M501 64h0M81 275h0M81 494h0M83 117h0M215 275h0M215 422h0M215 494h0M225 64h0M284 422h0M284 494h0M300 64h0M300 117h0M344 275h0M364 117h0M461 275h0M488 117h0M81 319h0M81 422h0M81 500h0M83 197h0M81 300h0M81 520h0M83 170h0M177 300h0M177 520h0M265 520h0M279 64h0M279 170h0M442 300h0M468 64h0M468 170h0M82 383h0M83 194h0M160 383h0M160 500h0M167 64h0M251 383h0M264 194h0M373 319h0M373 500h0M395 64h0M395 194h0M457 383h0M483 194h0M83 184h0M175 64h0M500 64h0M82 323h0M82 460h0M83 203h0M154 323h0M154 460h0M160 64h0M248 460h0M260 64h0M260 203h0M344 323h0M344 460h0M485 323h0M485 422h0M514 64h0M514 203h0M83 178h0M171 309h0M171 505h0M179 64h0M258 505h0M271 64h0M271 178h0M453 309h0M480 178h0M82 469h0M83 187h0M172 64h0M507 64h0M83 193h0M267 64h0M82 466h0M83 196h0M158 466h0M251 466h0M344 466h0M481 318h0M481 422h0M509 64h0M509 196h0M83 192h0M487 64h0M82 505h0M83 171h0M273 64h0M480 64h0M83 189h0M269 64h0M484 64h0M82 417h0M82 519h0M158 519h0M250 519h0M348 519h0M368 64h0M443 319h0M443 417h0M469 64h0M469 197h0M82 501h0" class="fw"/>
<path d="M364 65h0M490 65h0M81 319h0M81 422h0M81 500h0M83 197h0M83 184h0M175 64h0M500 64h0M82 323h0M82 460h0M83 203h0M154 323h0M154 460h0M160 64h0M248 460h0M260 64h0M260 203h0M344 323h0M344 460h0M485 323h0M485 422h0M514 64h0M514 203h0M82 469h0M83 187h0M172 64h0M507 64h0M83 193h0M267 64h0M83 192h0M487 64h0M82 505h0M83 171h0M273 64h0M480 64h0M83 189h0M269 64h0M484 64h0M82 417h0M82 519h0M158 519h0M250 519h0M348 519h0M368 64h0M443 319h0M443 417h0M469 64h0M469 197h0M82 501h0" class="f0"/>
<path d="M81 462h0M512 64h0M81 318h0M81 493h0M160 493h0M251 493h0M462 318h0M489 194h0M81 317h0M81 417h0M81 476h0M83 191h0M501 64h0M81 275h0M81 494h0M83 117h0M215 275h0M215 422h0M215 494h0M225 64h0M284 422h0M284 494h0M300 64h0M300 117h0M344 275h0M364 117h0M461 275h0M488 117h0M81 300h0M81 520h0M83 170h0M177 300h0M177 520h0M265 520h0M279 64h0M279 170h0M442 300h0M468 64h0M468 170h0M82 383h0M83 194h0M160 383h0M160 500h0M167 64h0M251 383h0M264 194h0M373 319h0M373 500h0M395 64h0M395 194h0M457 383h0M483 194h0M83 178h0M171 309h0M171 505h0M179 64h0M258 505h0M271 64h0M271 178h0M453 309h0M480 178h0M82 466h0M83 196h0M158 466h0M251 466h0M344 466h0M481 318h0M481 422h0M509 64h0M509 196h0" class="f1"/>
<path d="M160 318h0M160 501h0M166 64h0M456 318h0M163 64h0M263 64h0M483 64h0M169 64h0M82 240h0M82 494h0M328 64h0M488 64h0M82 475h0M84 188h0M164 475h0M253 475h0M474 316h0M502 64h0M502 188h0M268 64h0M489 64h0M168 64h0M265 64h0M491 64h0M82 507h0M177 400h0M177 507h0M185 64h0M381 170h0M478 64h0M478 170h0M164 64h0M262 64h0M490 64h0M158 64h0M259 64h0M482 64h0M84 197h0M158 496h0M165 64h0M251 496h0M264 64h0M264 197h0M459 319h0M486 197h0M82 316h0M82 482h0M171 64h0M266 64h0M497 64h0M82 284h0M84 132h0M204 284h0M204 422h0M204 481h0M214 64h0M277 422h0M277 481h0M292 64h0M292 132h0M344 284h0M364 64h0M364 132h0M470 284h0M498 64h0M498 132h0M82 496h0M84 176h0M180 64h0M274 64h0M381 64h0M486 64h0M82 324h0M84 205h0M158 63h0M246 499h0M259 63h0M82 312h0M82 485h0M84 182h0M176 63h0M269 63h0M495 63h0M82 318h0M82 495h0M84 198h0M264 63h0M487 63h0M82 491h0M82 483h0M496 63h0M82 309h0M82 400h0M82 479h0M271 63h0M500 63h0M82 306h0M84 170h0M185 63h0M82 307h0M82 488h0M259 411h0M273 63h0M465 307h0M492 63h0M82 314h0M84 186h0M173 63h0M82 311h0M82 317h0M82 492h0M162 492h0M169 63h0M252 492h0M265 63h0M462 317h0M490 192h0M82 319h0M82 481h0M84 195h0" class="fw"/>
<path d="M160 318h0M160 501h0M166 64h0M456 318h0M263 64h0M483 64h0M169 64h0M82 475h0M84 188h0M164 475h0M253 475h0M474 316h0M502 64h0M502 188h0M268 64h0M489 64h0M168 64h0M265 64h0M491 64h0M164 64h0M262 64h0M490 64h0M158 64h0M259 64h0M482 64h0M82 316h0M82 482h0M171 64h0M266 64h0M497 64h0M82 496h0M84 176h0M180 64h0M274 64h0M381 64h0M486 64h0M82 324h0M84 205h0M158 63h0M246 499h0M259 63h0M82 312h0M82 485h0M84 182h0M176 63h0M269 63h0M495 63h0M82 318h0M82 495h0M84 198h0M264 63h0M487 63h0M82 491h0M82 483h0M496 63h0M82 309h0M82 400h0M82 479h0M271 63h0M500 63h0M82 306h0M84 170h0M185 63h0M82 317h0M82 492h0M162 492h0M169 63h0M252 492h0M265 63h0M462 317h0M490 192h0M82 319h0M82 481h0M84 195h0" class="f0"/>
<path d="M163 64h0M82 240h0M82 494h0M328 64h0M488 64h0M82 507h0M177 400h0M177 507h0M185 64h0M381 170h0M478 64h0M478 170h0M84 197h0M158 496h0M165 64h0M251 496h0M264 64h0M264 197h0M459 319h0M486 197h0M82 284h0M84 132h0M204 284h0M204 422h0M204 481h0M214 64h0M277 422h0M277 481h0M292 64h0M292 132h0M344 284h0M364 64h0M364 132h0M470 284h0M498 64h0M498 132h0M82 307h0M82 488h0M259 411h0M273 63h0M465 307h0M492 63h0M82 314h0M84 186h0M173 63h0M82 311h0" class="f1"/>
<path d="M498 63h0M84 192h0M82 313h0M82 499h0M84 189h0M171 63h0M484 63h0M82 308h0M82 502h0M82 493h0M82 320h0M82 500h0M84 199h0M163 63h0M82 315h0M82 422h0M82 510h0M84 193h0M161 510h0M253 510h0M266 63h0M450 315h0M476 63h0M476 193h0M82 321h0M82 487h0M84 200h0M162 63h0M493 63h0M82 310h0M82 411h0M82 486h0M84 187h0M172 63h0M270 63h0M373 63h0M494 63h0M83 313h0M84 184h0M175 63h0M268 63h0M483 63h0M84 180h0M170 422h0M177 63h0M272 63h0M344 308h0M364 180h0M482 63h0M83 491h0M84 194h0M167 63h0M491 63h0M83 517h0M85 196h0M166 63h0M263 63h0M471 63h0M83 492h0M85 198h0M164 63h0M249 492h0M262 63h0M490 63h0M83 315h0M83 493h0M161 493h0M168 63h0M254 493h0M267 63h0M267 193h0M364 63h0M462 315h0M489 63h0M489 193h0M180 63h0M274 63h0M381 63h0M486 63h0M83 469h0M85 187h0M172 62h0M507 62h0M83 349h0M85 189h0M163 312h0M163 349h0M163 477h0M256 349h0M256 477h0M269 189h0M398 312h0M398 477h0M421 62h0M421 189h0M472 312h0M472 349h0M500 189h0M83 494h0M85 183h0M168 417h0M168 494h0M175 62h0M256 494h0M269 183h0M348 312h0M348 494h0M368 183h0M461 312h0M461 417h0M488 62h0M488 183h0M83 462h0M512 62h0M85 182h0M168 312h0M168 485h0M176 62h0M255 485h0M269 182h0" class="fw"/>
<path d="M498 63h0M84 192h0M82 313h0M82 499h0M84 189h0M171 63h0M484 63h0M82 308h0M82 502h0M82 493h0M82 320h0M82 500h0M84 199h0M163 63h0M82 321h0M82 487h0M84 200h0M162 63h0M493 63h0M82 310h0M82 411h0M82 486h0M84 187h0M172 63h0M270 63h0M373 63h0M494 63h0M83 313h0M84 184h0M175 63h0M268 63h0M483 63h0M84 180h0M170 422h0M177 63h0M272 63h0M344 308h0M364 180h0M482 63h0M83 491h0M84 194h0M167 63h0M491 63h0M83 492h0M85 198h0M164 63h0M249 492h0M262 63h0M490 63h0M83 315h0M83 493h0M161 493h0M168 63h0M254 493h0M267 63h0M267 193h0M364 63h0M462 315h0M489 63h0M489 193h0M180 63h0M274 63h0M381 63h0M486 63h0M83 469h0M85 187h0M172 62h0M507 62h0M85 182h0M168 312h0M168 485h0M176 62h0M255 485h0M269 182h0" class="f0"/>
<path d="M82 315h0M82 422h0M82 510h0M84 193h0M161 510h0M253 510h0M266 63h0M450 315h0M476 63h0M476 193h0M83 517h0M85 196h0M166 63h0M263 63h0M471 63h0M83 349h0M85 189h0M163 312h0M163 349h0M163 477h0M256 349h0M256 477h0M269 189h0M398 312h0M398 477h0M421 62h0M421 189h0M472 312h0M472 349h0M500 189h0M83 494h0M85 183h0M168 417h0M168 494h0M175 62h0M256 494h0M269 183h0M348 312h0M348 494h0M368 183h0M461 312h0M461 417h0M488 62h0M488 183h0M83 462h0M512 62h0" class="f1"/>
<path d="M364 182h0M467 312h0M495 182h0M83 307h0M83 477h0M85 172h0M176 307h0M176 411h0M176 477h0M184 62h0M260 411h0M260 477h0M273 172h0M353 307h0M353 477h0M373 172h0M472 307h0M472 411h0M500 62h0M500 172h0M83 308h0M85 171h0M273 62h0M480 62h0M83 310h0M270 62h0M83 417h0M83 495h0M368 62h0M487 62h0M483 62h0M83 485h0M85 188h0M164 485h0M171 62h0M254 485h0M267 62h0M267 188h0M467 314h0M495 62h0M495 188h0M266 62h0M83 302h0M85 166h0M180 302h0M180 422h0M180 487h0M188 62h0M263 422h0M263 487h0M277 62h0M277 166h0M344 302h0M364 166h0M466 302h0M493 166h0M83 318h0M83 489h0M161 318h0M161 411h0M168 62h0M251 489h0M264 62h0M264 193h0M353 489h0M373 62h0M373 193h0M464 318h0M464 411h0M491 62h0M83 296h0M85 160h0M184 296h0M184 422h0M184 507h0M193 62h0M268 422h0M268 507h0M282 62h0M282 160h0M344 296h0M364 160h0M451 296h0M478 62h0M478 160h0M83 320h0M83 501h0M85 199h0M163 62h0M262 62h0M83 496h0M85 176h0M180 62h0M381 62h0M486 62h0M83 312h0M85 185h0M269 62h0M482 62h0M83 483h0M167 62h0M265 62h0M496 62h0M83 314h0M85 186h0M173 62h0M268 62h0M493 62h0M83 306h0M83 510h0M85 170h0M177 306h0M177 422h0M177 510h0M185 62h0M260 510h0M274 62h0M274 170h0M344 510h0M364 62h0" class="fw"/>
<path d="M364 182h0M467 312h0M495 182h0M83 308h0M85 171h0M273 62h0M480 62h0M83 310h0M270 62h0M83 417h0M83 495h0M368 62h0M487 62h0M483 62h0M83 485h0M85 188h0M164 485h0M171 62h0M254 485h0M267 62h0M267 188h0M467 314h0M495 62h0M495 188h0M266 62h0M83 302h0M85 166h0M180 302h0M180 422h0M180 487h0M188 62h0M263 422h0M263 487h0M277 62h0M277 166h0M344 302h0M364 166h0M466 302h0M493 166h0M83 496h0M85 176h0M180 62h0M381 62h0M486 62h0M83 312h0M85 185h0M269 62h0M482 62h0M83 483h0M167 62h0M265 62h0M496 62h0M83 314h0M85 186h0M173 62h0M268 62h0M493 62h0M83 306h0M83 510h0M85 170h0M177 306h0M177 422h0M177 510h0M185 62h0M260 510h0M274 62h0M274 170h0M344 510h0M364 62h0" class="f0"/>
<path d="M83 307h0M83 477h0M85 172h0M176 307h0M176 411h0M176 477h0M184 62h0M260 411h0M260 477h0M273 172h0M353 307h0M353 477h0M373 172h0M472 307h0M472 411h0M500 62h0M500 172h0M83 318h0M83 489h0M161 318h0M161 411h0M168 62h0M251 489h0M264 62h0M264 193h0M353 489h0M373 62h0M373 193h0M464 318h0M464 411h0M491 62h0M83 296h0M85 160h0M184 296h0M184 422h0M184 507h0M193 62h0M268 422h0M268 507h0M282 62h0M282 160h0M344 296h0M364 160h0M451 296h0M478 62h0M478 160h0M83 320h0M83 501h0M85 199h0M163 62h0M262 62h0" class="f1"/>
<path d="M364 170h0M450 306h0M450 422h0M476 62h0M476 170h0M83 486h0M85 191h0M83 411h0M83 507h0M158 411h0M158 507h0M250 507h0M353 319h0M353 507h0M373 197h0M451 319h0M451 411h0M478 61h0M478 197h0M83 278h0M83 502h0M85 123h0M221 61h0M297 123h0M364 123h0M482 123h0M83 317h0M83 487h0M85 194h0M83 319h0M85 197h0M165 61h0M263 61h0M83 316h0M83 505h0M85 192h0M83 311h0M83 422h0M83 500h0M270 61h0M483 61h0M83 309h0M83 400h0M83 479h0M85 184h0M175 61h0M271 61h0M500 61h0M85 193h0M492 61h0M84 278h0M85 124h0M210 278h0M210 422h0M210 502h0M220 61h0M282 422h0M282 502h0M297 61h0M297 124h0M344 278h0M364 124h0M455 278h0M482 124h0M86 186h0M166 314h0M166 487h0M254 487h0M268 186h0M466 314h0M493 186h0M84 462h0M160 462h0M252 462h0M344 462h0M483 317h0M483 422h0M512 61h0M512 194h0M86 171h0M176 308h0M176 417h0M176 505h0M185 61h0M259 417h0M259 505h0M273 61h0M273 171h0M348 308h0M348 505h0M368 171h0M453 308h0M453 417h0M480 171h0M84 499h0M484 61h0M84 505h0M480 61h0M84 508h0M164 417h0M164 508h0M253 508h0M348 508h0M368 61h0M368 189h0M451 417h0M477 61h0M477 189h0M167 61h0M493 61h0M84 308h0M86 180h0M170 308h0M170 400h0M170 502h0M178 61h0M259 400h0M259 502h0M272 61h0M272 180h0" class="fw"/>
<path d="M364 170h0M450 306h0M450 422h0M476 62h0M476 170h0M83 486h0M85 191h0M83 278h0M83 502h0M85 123h0M221 61h0M297 123h0M364 123h0M482 123h0M83 317h0M83 487h0M85 194h0M83 319h0M85 197h0M165 61h0M263 61h0M83 316h0M83 505h0M85 192h0M83 311h0M83 422h0M83 500h0M270 61h0M483 61h0M83 309h0M83 400h0M83 479h0M85 184h0M175 61h0M271 61h0M500 61h0M85 193h0M492 61h0M84 278h0M85 124h0M210 278h0M210 422h0M210 502h0M220 61h0M282 422h0M282 502h0M297 61h0M297 124h0M344 278h0M364 124h0M455 278h0M482 124h0M86 186h0M166 314h0M166 487h0M254 487h0M268 186h0M466 314h0M493 186h0M86 171h0M176 308h0M176 417h0M176 505h0M185 61h0M259 417h0M259 505h0M273 61h0M273 171h0M348 308h0M348 505h0M368 171h0M453 308h0M453 417h0M480 171h0M84 499h0M484 61h0M84 505h0M480 61h0M167 61h0M493 61h0" class="f0"/>
<path d="M83 411h0M83 507h0M158 411h0M158 507h0M250 507h0M353 319h0M353 507h0M373 197h0M451 319h0M451 411h0M478 61h0M478 197h0M84 462h0M160 462h0M252 462h0M344 462h0M483 317h0M483 422h0M512 61h0M512 194h0M84 508h0M164 417h0M164 508h0M253 508h0M348 508h0M368 61h0M368 189h0M451 417h0M477 61h0M477 189h0M84 308h0M86 180h0M170 308h0M170 400h0M170 502h0M178 61h0M259 400h0M259 502h0M272 61h0M272 180h0" class="f1"/>
<path d="M361 308h0M361 502h0M381 61h0M381 180h0M455 308h0M455 400h0M482 180h0M84 468h0M86 199h0M163 61h0M262 61h0M508 61h0M168 61h0M267 61h0M86 195h0M159 411h0M166 61h0M251 411h0M353 318h0M353 474h0M373 61h0M373 195h0M475 318h0M475 411h0M503 61h0M503 195h0M84 493h0M86 189h0M171 61h0M268 61h0M489 61h0M84 322h0M84 394h0M84 482h0M86 204h0M153 322h0M153 394h0M153 482h0M160 61h0M248 394h0M248 482h0M260 61h0M260 204h0M365 322h0M365 482h0M386 61h0M386 204h0M469 322h0M469 394h0M497 61h0M497 204h0M265 61h0M164 61h0M264 61h0M487 61h0M84 312h0M86 185h0M173 61h0M269 61h0M482 61h0M169 61h0M266 61h0M364 61h0M494 61h0M86 191h0M169 60h0M84 321h0M84 487h0M86 200h0M162 60h0M165 310h0M165 411h0M165 486h0M257 411h0M257 486h0M270 187h0M353 310h0M353 486h0M373 187h0M467 310h0M467 411h0M494 187h0M84 488h0M84 324h0M84 502h0M86 205h0M152 502h0M158 60h0M246 422h0M246 502h0M259 60h0M455 324h0M482 205h0M84 411h0M84 476h0M157 411h0M157 476h0M249 476h0M353 476h0M373 60h0M373 198h0M473 320h0M473 411h0M501 60h0M501 198h0M84 314h0M84 469h0M86 187h0M172 60h0M507 60h0M84 486h0M86 190h0M494 60h0M84 240h0M84 494h0M311 422h0M311 494h0M328 60h0M344 240h0M344 494h0" class="fw"/>
<path d="M168 61h0M267 61h0M84 493h0M86 189h0M171 61h0M268 61h0M489 61h0M265 61h0M164 61h0M264 61h0M487 61h0M84 312h0M86 185h0M173 61h0M269 61h0M482 61h0M169 61h0M266 61h0M364 61h0M494 61h0M86 191h0M169 60h0M84 321h0M84 487h0M86 200h0M162 60h0M165 310h0M165 411h0M165 486h0M257 411h0M257 486h0M270 187h0M353 310h0M353 486h0M373 187h0M467 310h0M467 411h0M494 187h0M84 324h0M84 502h0M86 205h0M152 502h0M158 60h0M246 422h0M246 502h0M259 60h0M455 324h0M482 205h0M84 314h0M84 469h0M86 187h0M172 60h0M507 60h0M84 486h0M86 190h0M494 60h0" class="f0"/>
<path d="M361 308h0M361 502h0M381 61h0M381 180h0M455 308h0M455 400h0M482 180h0M84 468h0M86 199h0M163 61h0M262 61h0M508 61h0M86 195h0M159 411h0M166 61h0M251 411h0M353 318h0M353 474h0M373 61h0M373 195h0M475 318h0M475 411h0M503 61h0M503 195h0M84 322h0M84 394h0M84 482h0M86 204h0M153 322h0M153 394h0M153 482h0M160 61h0M248 394h0M248 482h0M260 61h0M260 204h0M365 322h0M365 482h0M386 61h0M386 204h0M469 322h0M469 394h0M497 61h0M497 204h0M84 488h0M84 411h0M84 476h0M157 411h0M157 476h0M249 476h0M353 476h0M373 60h0M373 198h0M473 320h0M473 411h0M501 60h0M501 198h0M84 240h0M84 494h0M311 422h0M311 494h0M328 60h0M344 240h0M344 494h0" class="f1"/>
<path d="M461 240h0M461 422h0M488 60h0M84 310h0M84 400h0M84 491h0M86 179h0M171 310h0M171 400h0M171 491h0M179 60h0M257 400h0M257 491h0M271 60h0M271 179h0M361 310h0M361 491h0M381 179h0M463 310h0M463 400h0M491 60h0M491 179h0M84 318h0M84 512h0M474 60h0M84 316h0M84 417h0M84 495h0M84 320h0M84 517h0M159 320h0M159 517h0M166 60h0M250 517h0M344 517h0M445 320h0M445 422h0M471 60h0M471 196h0M84 313h0M84 474h0M84 317h0M84 483h0M86 194h0M167 60h0M496 60h0M84 319h0M84 500h0M86 197h0M84 311h0M84 481h0M257 481h0M270 60h0M470 311h0M498 60h0M84 315h0M84 422h0M86 192h0M85 474h0M86 196h0M503 60h0M86 198h0M263 60h0M490 60h0M86 184h0M175 60h0M268 60h0M252 400h0M265 60h0M361 317h0M361 488h0M465 317h0M465 400h0M492 60h0M85 501h0M165 60h0M251 501h0M264 60h0M482 60h0M85 400h0M85 498h0M164 60h0M381 60h0M485 60h0M85 320h0M85 500h0M87 199h0M156 500h0M163 60h0M249 500h0M262 60h0M457 320h0M483 60h0M483 199h0M161 495h0M168 60h0M266 60h0M348 495h0M368 60h0M368 192h0M460 417h0M487 60h0M87 190h0M170 60h0M267 60h0M364 60h0M493 60h0M85 482h0M497 59h0M162 314h0M162 504h0M254 504h0M454 314h0M481 191h0M85 505h0M480 59h0M85 492h0M87 196h0M490 59h0M85 469h0" class="fw"/>
<path d="M84 512h0M474 60h0M84 316h0M84 417h0M84 495h0M84 313h0M84 474h0M84 317h0M84 483h0M86 194h0M167 60h0M496 60h0M84 319h0M84 500h0M86 197h0M84 315h0M84 422h0M86 192h0M85 474h0M86 196h0M503 60h0M86 198h0M263 60h0M490 60h0M86 184h0M175 60h0M268 60h0M85 501h0M165 60h0M251 501h0M264 60h0M482 60h0M85 400h0M85 498h0M164 60h0M381 60h0M485 60h0M85 320h0M85 500h0M87 199h0M156 500h0M163 60h0M249 500h0M262 60h0M457 320h0M483 60h0M483 199h0M161 495h0M168 60h0M266 60h0M348 495h0M368 60h0M368 192h0M460 417h0M487 60h0M85 505h0M480 59h0M85 469h0" class="f0"/>
<path d="M461 240h0M461 422h0M488 60h0M84 310h0M84 400h0M84 491h0M86 179h0M171 310h0M171 400h0M171 491h0M179 60h0M257 400h0M257 491h0M271 60h0M271 179h0M361 310h0M361 491h0M381 179h0M463 310h0M463 400h0M491 60h0M491 179h0M84 318h0M84 320h0M84 517h0M159 320h0M159 517h0M166 60h0M250 517h0M344 517h0M445 320h0M445 422h0M471 60h0M471 196h0M84 311h0M84 481h0M257 481h0M270 60h0M470 311h0M498 60h0M252 400h0M265 60h0M361 317h0M361 488h0M465 317h0M465 400h0M492 60h0M87 190h0M170 60h0M267 60h0M364 60h0M493 60h0M85 482h0M497 59h0M162 314h0M162 504h0M254 504h0M454 314h0M481 191h0M85 492h0M87 196h0M490 59h0" class="f1"/>
<path d="M87 187h0M507 59h0M85 486h0M252 486h0M364 191h0M494 59h0M494 191h0M85 493h0M87 192h0M162 493h0M252 493h0M489 59h0M489 192h0M85 319h0M85 481h0M263 59h0M498 59h0M85 417h0M85 476h0M87 191h0M162 476h0M169 59h0M252 476h0M348 476h0M368 59h0M473 317h0M473 417h0M501 59h0M501 191h0M160 315h0M160 491h0M253 491h0M267 194h0M463 315h0M491 194h0M85 317h0M85 487h0M87 194h0M160 487h0M167 59h0M252 487h0M265 59h0M466 317h0M493 59h0M493 194h0M85 309h0M85 411h0M85 491h0M87 176h0M173 309h0M173 411h0M173 491h0M181 59h0M258 411h0M258 491h0M271 59h0M271 176h0M353 309h0M353 491h0M373 59h0M373 176h0M463 309h0M463 411h0M491 59h0M491 176h0M85 314h0M85 496h0M164 314h0M164 496h0M172 59h0M254 496h0M459 314h0M486 59h0M486 188h0M85 504h0M87 188h0M164 504h0M255 504h0M268 188h0M364 188h0M454 313h0M481 59h0M481 188h0M85 313h0M85 499h0M87 189h0M164 499h0M171 59h0M255 499h0M268 59h0M484 59h0M484 189h0M85 315h0M85 511h0M87 195h0M166 59h0M267 59h0M475 59h0M85 316h0M85 488h0M87 193h0M161 488h0M168 59h0M252 488h0M266 59h0M465 316h0M492 59h0M492 193h0M85 318h0M85 422h0M85 495h0M87 198h0M164 59h0M264 59h0M364 59h0M487 59h0M159 482h0M166 58h0M250 482h0M469 319h0" class="fw"/>
<path d="M87 187h0M507 59h0M85 486h0M252 486h0M364 191h0M494 59h0M494 191h0M85 493h0M87 192h0M162 493h0M252 493h0M489 59h0M489 192h0M85 319h0M85 481h0M263 59h0M498 59h0M160 315h0M160 491h0M253 491h0M267 194h0M463 315h0M491 194h0M85 317h0M85 487h0M87 194h0M160 487h0M167 59h0M252 487h0M265 59h0M466 317h0M493 59h0M493 194h0M85 504h0M87 188h0M164 504h0M255 504h0M268 188h0M364 188h0M454 313h0M481 59h0M481 188h0M85 313h0M85 499h0M87 189h0M164 499h0M171 59h0M255 499h0M268 59h0M484 59h0M484 189h0M85 315h0M85 511h0M87 195h0M166 59h0M267 59h0M475 59h0M85 316h0M85 488h0M87 193h0M161 488h0M168 59h0M252 488h0M266 59h0M465 316h0M492 59h0M492 193h0M85 318h0M85 422h0M85 495h0M87 198h0M164 59h0M264 59h0M364 59h0M487 59h0" class="f0"/>
<path d="M85 417h0M85 476h0M87 191h0M162 476h0M169 59h0M252 476h0M348 476h0M368 59h0M473 317h0M473 417h0M501 59h0M501 191h0M85 309h0M85 411h0M85 491h0M87 176h0M173 309h0M173 411h0M173 491h0M181 59h0M258 411h0M258 491h0M271 59h0M271 176h0M353 309h0M353 491h0M373 59h0M373 176h0M463 309h0M463 411h0M491 59h0M491 176h0M85 314h0M85 496h0M164 314h0M164 496h0M172 59h0M254 496h0M459 314h0M486 59h0M486 188h0M159 482h0M166 58h0M250 482h0M469 319h0" class="f1"/>
<path d="M497 196h0M86 313h0M86 469h0M88 187h0M165 314h0M165 422h0M165 469h0M172 58h0M254 469h0M268 187h0M344 469h0M364 187h0M478 314h0M478 422h0M507 58h0M507 187h0M163 486h0M467 316h0M494 190h0M88 201h0M161 58h0M261 58h0M86 487h0M88 190h0M170 58h0M493 58h0M86 499h0M161 314h0M254 499h0M267 58h0M344 314h0M457 314h0M484 58h0M484 192h0M86 309h0M86 400h0M86 479h0M88 184h0M167 309h0M167 400h0M167 479h0M175 58h0M258 400h0M258 479h0M271 58h0M271 184h0M361 309h0M361 479h0M381 58h0M381 184h0M472 309h0M472 400h0M500 58h0M500 184h0M161 504h0M252 504h0M454 317h0M481 58h0M481 192h0M86 321h0M86 468h0M88 199h0M156 422h0M156 468h0M163 58h0M249 468h0M262 58h0M344 321h0M344 468h0M479 321h0M479 422h0M508 58h0M508 199h0M86 377h0M86 489h0M88 193h0M161 377h0M161 489h0M168 58h0M252 377h0M252 489h0M265 58h0M378 317h0M378 489h0M399 58h0M399 193h0M464 317h0M464 377h0M491 58h0M86 312h0M86 502h0M88 185h0M173 58h0M269 58h0M482 58h0M86 482h0M88 189h0M171 58h0M497 58h0M88 197h0M250 500h0M263 58h0M457 319h0M483 197h0M158 318h0M158 500h0M165 58h0M251 417h0M251 500h0M264 58h0M348 318h0M348 500h0M368 58h0M457 417h0M483 58h0M483 196h0M86 383h0M86 480h0M162 383h0M162 480h0" class="fw"/>
<path d="M86 313h0M86 469h0M88 187h0M165 314h0M165 422h0M165 469h0M172 58h0M254 469h0M268 187h0M344 469h0M364 187h0M478 314h0M478 422h0M507 58h0M507 187h0M163 486h0M467 316h0M494 190h0M86 487h0M88 190h0M170 58h0M493 58h0M86 499h0M161 314h0M254 499h0M267 58h0M344 314h0M457 314h0M484 58h0M484 192h0M86 309h0M86 400h0M86 479h0M88 184h0M167 309h0M167 400h0M167 479h0M175 58h0M258 400h0M258 479h0M271 58h0M271 184h0M361 309h0M361 479h0M381 58h0M381 184h0M472 309h0M472 400h0M500 58h0M500 184h0M86 312h0M86 502h0M88 185h0M173 58h0M269 58h0M482 58h0M86 482h0M88 189h0M171 58h0M497 58h0M88 197h0M250 500h0M263 58h0M457 319h0M483 197h0" class="f0"/>
<path d="M497 196h0M88 201h0M161 58h0M261 58h0M161 504h0M252 504h0M454 317h0M481 58h0M481 192h0M86 321h0M86 468h0M88 199h0M156 422h0M156 468h0M163 58h0M249 468h0M262 58h0M344 321h0M344 468h0M479 321h0M479 422h0M508 58h0M508 199h0M86 377h0M86 489h0M88 193h0M161 377h0M161 489h0M168 58h0M252 377h0M252 489h0M265 58h0M378 317h0M378 489h0M399 58h0M399 193h0M464 317h0M464 377h0M491 58h0M158 318h0M158 500h0M165 58h0M251 417h0M251 500h0M264 58h0M348 318h0M348 500h0M368 58h0M457 417h0M483 58h0M483 196h0M86 383h0M86 480h0M162 383h0M162 480h0" class="f1"/>
<path d="M253 383h0M253 480h0M373 316h0M373 480h0M395 58h0M395 192h0M471 316h0M471 383h0M499 58h0M499 192h0M86 314h0M268 58h0M478 58h0M86 315h0M86 486h0M88 192h0M169 58h0M494 58h0M86 316h0M86 496h0M167 58h0M266 58h0M486 58h0M86 307h0M88 177h0M180 58h0M273 58h0M364 58h0M496 58h0M86 311h0M86 500h0M483 57h0M88 194h0M86 318h0M86 504h0M88 196h0M165 57h0M264 57h0M481 57h0M86 317h0M86 483h0M89 194h0M167 57h0M86 303h0M86 422h0M86 507h0M89 171h0M176 303h0M176 422h0M176 507h0M184 57h0M262 422h0M262 507h0M276 57h0M276 171h0M344 303h0M364 171h0M451 303h0M478 57h0M478 171h0M86 319h0M86 417h0M86 491h0M166 57h0M263 57h0M368 57h0M87 317h0M87 491h0M265 57h0M491 57h0M173 57h0M270 57h0M496 57h0M87 400h0M87 496h0M89 176h0M173 306h0M173 400h0M173 496h0M180 57h0M261 400h0M261 496h0M274 57h0M274 176h0M361 306h0M361 496h0M381 57h0M381 176h0M459 306h0M459 400h0M486 57h0M486 176h0M87 493h0M164 313h0M164 493h0M171 57h0M255 493h0M268 57h0M268 189h0M344 493h0M462 313h0M489 57h0M489 189h0M87 486h0M89 192h0M162 486h0M169 57h0M253 486h0M344 486h0M467 315h0M494 57h0M494 192h0M168 57h0M266 57h0M364 57h0M484 57h0M87 310h0M87 483h0M89 186h0M173 56h0" class="fw"/>
<path d="M86 314h0M268 58h0M478 58h0M86 315h0M86 486h0M88 192h0M169 58h0M494 58h0M86 316h0M86 496h0M167 58h0M266 58h0M486 58h0M86 307h0M88 177h0M180 58h0M273 58h0M364 58h0M496 58h0M88 194h0M86 318h0M86 504h0M88 196h0M165 57h0M264 57h0M481 57h0M86 317h0M86 483h0M89 194h0M167 57h0M87 317h0M87 491h0M265 57h0M491 57h0M173 57h0M270 57h0M496 57h0M87 400h0M87 496h0M89 176h0M173 306h0M173 400h0M173 496h0M180 57h0M261 400h0M261 496h0M274 57h0M274 176h0M361 306h0M361 496h0M381 57h0M381 176h0M459 306h0M459 400h0M486 57h0M486 176h0M87 493h0M164 313h0M164 493h0M171 57h0M255 493h0M268 57h0M268 189h0M344 493h0M462 313h0M489 57h0M489 189h0M87 486h0M89 192h0M162 486h0M169 57h0M253 486h0M344 486h0M467 315h0M494 57h0M494 192h0M168 57h0M266 57h0M364 57h0M484 57h0M87 310h0M87 483h0M89 186h0M173 56h0" class="f0"/>
<path d="M253 383h0M253 480h0M373 316h0M373 480h0M395 58h0M395 192h0M471 316h0M471 383h0M499 58h0M499 192h0M86 311h0M86 500h0M483 57h0M86 303h0M86 422h0M86 507h0M89 171h0M176 303h0M176 422h0M176 507h0M184 57h0M262 422h0M262 507h0M276 57h0M276 171h0M344 303h0M364 171h0M451 303h0M478 57h0M478 171h0M86 319h0M86 417h0M86 491h0M166 57h0M263 57h0M368 57h0" class="f1"/>
<path d="M270 56h0M496 56h0M87 482h0M89 189h0M171 56h0M497 56h0M87 506h0M89 198h0M479 56h0M87 313h0M87 500h0M89 184h0M167 500h0M175 56h0M255 500h0M457 313h0M483 56h0M483 184h0M87 322h0M87 498h0M89 203h0M161 56h0M261 56h0M87 306h0M87 499h0M89 179h0M171 306h0M171 422h0M171 499h0M179 56h0M260 422h0M260 499h0M274 56h0M274 179h0M344 306h0M364 179h0M457 306h0M484 56h0M484 179h0M87 314h0M87 507h0M268 56h0M478 56h0M87 319h0M87 474h0M503 56h0M87 318h0M87 504h0M89 196h0M165 56h0M264 56h0M481 56h0M87 316h0M87 417h0M87 492h0M89 193h0M161 417h0M161 492h0M168 56h0M253 492h0M266 56h0M368 56h0M368 193h0M462 316h0M490 56h0M490 193h0M89 195h0M87 315h0M87 422h0M87 511h0M166 56h0M267 56h0M364 56h0M475 56h0M262 56h0M381 56h0M485 56h0M88 405h0M158 485h0M164 56h0M250 405h0M263 56h0M357 319h0M357 485h0M377 56h0M467 405h0M495 56h0M495 197h0M88 311h0M88 388h0M88 520h0M90 186h0M166 311h0M166 388h0M166 520h0M173 55h0M256 388h0M256 520h0M270 55h0M369 311h0M369 520h0M390 55h0M390 186h0M442 311h0M442 388h0M468 55h0M468 186h0M88 320h0M90 198h0M164 55h0M88 400h0M88 507h0M90 188h0M164 315h0M164 400h0M164 507h0M172 55h0M253 400h0M253 507h0M266 188h0" class="fw"/>
<path d="M270 56h0M496 56h0M87 482h0M89 189h0M171 56h0M497 56h0M87 313h0M87 500h0M89 184h0M167 500h0M175 56h0M255 500h0M457 313h0M483 56h0M483 184h0M87 322h0M87 498h0M89 203h0M161 56h0M261 56h0M87 314h0M87 507h0M268 56h0M478 56h0M87 319h0M87 474h0M503 56h0M87 318h0M87 504h0M89 196h0M165 56h0M264 56h0M481 56h0M89 195h0M87 315h0M87 422h0M87 511h0M166 56h0M267 56h0M364 56h0M475 56h0M262 56h0M381 56h0M485 56h0M88 320h0M90 198h0M164 55h0" class="f0"/>
<path d="M87 506h0M89 198h0M479 56h0M87 306h0M87 499h0M89 179h0M171 306h0M171 422h0M171 499h0M179 56h0M260 422h0M260 499h0M274 56h0M274 179h0M344 306h0M364 179h0M457 306h0M484 56h0M484 179h0M87 316h0M87 417h0M87 492h0M89 193h0M161 417h0M161 492h0M168 56h0M253 492h0M266 56h0M368 56h0M368 193h0M462 316h0M490 56h0M490 193h0M88 405h0M158 485h0M164 56h0M250 405h0M263 56h0M357 319h0M357 485h0M377 56h0M467 405h0M495 56h0M495 197h0M88 311h0M88 388h0M88 520h0M90 186h0M166 311h0M166 388h0M166 520h0M173 55h0M256 388h0M256 520h0M270 55h0M369 311h0M369 520h0M390 55h0M390 186h0M442 311h0M442 388h0M468 55h0M468 186h0M88 400h0M88 507h0M90 188h0M164 315h0M164 400h0M164 507h0M172 55h0M253 400h0M253 507h0M266 188h0" class="f1"/>
<path d="M361 315h0M361 507h0M381 55h0M381 188h0M451 315h0M451 400h0M478 55h0M478 188h0M88 499h0M168 55h0M484 55h0M88 512h0M90 197h0M158 512h0M165 55h0M250 512h0M344 512h0M448 319h0M448 422h0M474 55h0M474 197h0M88 318h0M88 483h0M251 483h0M264 55h0M468 318h0M496 55h0M88 492h0M90 196h0M159 492h0M344 492h0M462 319h0M462 422h0M490 55h0M490 196h0M90 203h0M161 55h0M261 55h0M485 55h0M88 482h0M90 189h0M171 55h0M266 55h0M497 55h0M88 485h0M90 193h0M167 55h0M495 55h0M88 321h0M90 200h0M162 55h0M262 55h0M88 319h0M88 481h0M263 55h0M498 55h0M88 487h0M90 190h0M170 55h0M493 55h0M88 315h0M88 511h0M90 195h0M166 55h0M267 55h0M364 55h0M475 55h0M88 316h0M88 505h0M169 54h0M480 54h0M88 322h0M88 422h0M88 498h0M89 322h0M89 498h0M91 203h0M161 54h0M261 54h0M485 54h0M89 482h0M91 189h0M171 54h0M497 54h0M89 489h0M91 191h0M162 315h0M162 489h0M254 417h0M254 489h0M267 191h0M348 315h0M348 489h0M464 315h0M464 417h0M491 54h0M491 191h0M89 481h0M91 195h0M166 54h0M498 54h0M89 311h0M89 500h0M257 500h0M270 54h0M344 311h0M344 500h0M457 311h0M483 54h0M89 462h0M91 190h0M170 54h0M512 54h0M89 312h0M89 502h0M91 185h0M166 502h0M173 54h0M256 502h0M269 54h0" class="fw"/>
<path d="M88 499h0M168 55h0M484 55h0M88 512h0M90 197h0M158 512h0M165 55h0M250 512h0M344 512h0M448 319h0M448 422h0M474 55h0M474 197h0M88 492h0M90 196h0M159 492h0M344 492h0M462 319h0M462 422h0M490 55h0M490 196h0M90 203h0M161 55h0M261 55h0M485 55h0M88 482h0M90 189h0M171 55h0M266 55h0M497 55h0M88 485h0M90 193h0M167 55h0M495 55h0M88 321h0M90 200h0M162 55h0M262 55h0M88 319h0M88 481h0M263 55h0M498 55h0M88 487h0M90 190h0M170 55h0M493 55h0M88 315h0M88 511h0M90 195h0M166 55h0M267 55h0M364 55h0M475 55h0M88 316h0M88 505h0M169 54h0M480 54h0M88 322h0M88 422h0M88 498h0M89 322h0M89 498h0M91 203h0M161 54h0M261 54h0M485 54h0M89 482h0M91 189h0M171 54h0M497 54h0M89 481h0M91 195h0M166 54h0M498 54h0M89 311h0M89 500h0M257 500h0M270 54h0M344 311h0M344 500h0M457 311h0M483 54h0M89 312h0M89 502h0M91 185h0M166 502h0M173 54h0M256 502h0M269 54h0" class="f0"/>
<path d="M361 315h0M361 507h0M381 55h0M381 188h0M451 315h0M451 400h0M478 55h0M478 188h0M88 318h0M88 483h0M251 483h0M264 55h0M468 318h0M496 55h0M89 489h0M91 191h0M162 315h0M162 489h0M254 417h0M254 489h0M267 191h0M348 315h0M348 489h0M464 315h0M464 417h0M491 54h0M491 191h0M89 462h0M91 190h0M170 54h0M512 54h0" class="f1"/>
<path d="M269 185h0M344 502h0M364 185h0M455 312h0M455 422h0M482 54h0M482 185h0M89 315h0M91 192h0M161 315h0M168 54h0M254 422h0M267 54h0M267 192h0M364 54h0M89 405h0M89 520h0M167 54h0M266 54h0M377 54h0M468 54h0M164 54h0M263 54h0M368 54h0M490 54h0M89 506h0M91 198h0M157 319h0M157 506h0M250 506h0M344 506h0M452 319h0M452 422h0M479 53h0M479 198h0M89 499h0M91 193h0M168 53h0M484 53h0M92 194h0M160 496h0M167 53h0M253 496h0M266 194h0M459 316h0M486 194h0M89 317h0M89 496h0M252 496h0M265 53h0M344 496h0M459 317h0M459 422h0M486 53h0M89 320h0M89 417h0M89 492h0M164 53h0M263 53h0M368 53h0M490 53h0M89 319h0M89 474h0M92 196h0M165 53h0M264 53h0M503 53h0M89 316h0M89 422h0M89 505h0M480 53h0M92 192h0M162 495h0M169 53h0M252 495h0M266 53h0M364 53h0M460 316h0M487 53h0M487 192h0M90 498h0M92 198h0M164 52h0M485 52h0M90 400h0M90 520h0M92 195h0M159 400h0M159 520h0M166 52h0M251 400h0M251 520h0M264 52h0M264 195h0M361 318h0M361 520h0M381 52h0M381 195h0M442 318h0M442 400h0M468 52h0M468 195h0M90 324h0M92 205h0M159 52h0M259 52h0M90 320h0M90 501h0M92 199h0M157 501h0M163 52h0M249 422h0M249 501h0M262 52h0M344 320h0M344 501h0M364 199h0M456 320h0M456 422h0M482 52h0" class="fw"/>
<path d="M269 185h0M344 502h0M364 185h0M455 312h0M455 422h0M482 54h0M482 185h0M89 315h0M91 192h0M161 315h0M168 54h0M254 422h0M267 54h0M267 192h0M364 54h0M89 405h0M89 520h0M167 54h0M266 54h0M377 54h0M468 54h0M164 54h0M263 54h0M368 54h0M490 54h0M89 499h0M91 193h0M168 53h0M484 53h0M92 194h0M160 496h0M167 53h0M253 496h0M266 194h0M459 316h0M486 194h0M89 320h0M89 417h0M89 492h0M164 53h0M263 53h0M368 53h0M490 53h0M89 319h0M89 474h0M92 196h0M165 53h0M264 53h0M503 53h0M89 316h0M89 422h0M89 505h0M480 53h0M90 498h0M92 198h0M164 52h0M485 52h0" class="f0"/>
<path d="M89 506h0M91 198h0M157 319h0M157 506h0M250 506h0M344 506h0M452 319h0M452 422h0M479 53h0M479 198h0M89 317h0M89 496h0M252 496h0M265 53h0M344 496h0M459 317h0M459 422h0M486 53h0M92 192h0M162 495h0M169 53h0M252 495h0M266 53h0M364 53h0M460 316h0M487 53h0M487 192h0M90 400h0M90 520h0M92 195h0M159 400h0M159 520h0M166 52h0M251 400h0M251 520h0M264 52h0M264 195h0M361 318h0M361 520h0M381 52h0M381 195h0M442 318h0M442 400h0M468 52h0M468 195h0M90 324h0M92 205h0M159 52h0M259 52h0M90 320h0M90 501h0M92 199h0M157 501h0M163 52h0M249 422h0M249 501h0M262 52h0M344 320h0M344 501h0M364 199h0M456 320h0M456 422h0M482 52h0" class="f1"/>
<path d="M482 199h0M90 405h0M90 499h0M92 193h0M168 52h0M377 52h0M484 52h0M90 312h0M90 511h0M269 52h0M475 52h0M90 316h0M90 505h0M169 52h0M266 52h0M364 52h0M480 52h0M90 495h0M93 198h0M157 318h0M157 422h0M157 495h0M164 51h0M251 495h0M264 198h0M344 495h0M364 198h0M460 318h0M460 422h0M487 51h0M487 198h0M90 318h0M90 422h0M90 504h0M481 51h0M90 314h0M90 507h0M478 51h0M91 511h0M93 195h0M159 315h0M159 511h0M166 51h0M253 511h0M267 195h0M449 315h0M475 51h0M475 195h0M91 474h0M93 196h0M159 474h0M165 51h0M251 474h0M264 51h0M475 319h0M503 51h0M503 196h0M91 411h0M93 201h0M155 411h0M155 488h0M249 411h0M249 488h0M262 201h0M353 321h0M353 488h0M373 51h0M373 201h0M465 321h0M465 411h0M492 201h0M91 505h0M162 316h0M162 422h0M162 505h0M169 51h0M253 505h0M266 192h0M344 505h0M453 316h0M453 422h0M480 51h0M480 192h0M172 491h0M491 177h0M91 321h0M93 200h0M162 51h0M262 51h0M91 316h0M91 499h0M266 51h0M484 51h0M91 308h0M91 488h0M93 177h0M180 51h0M492 51h0M91 315h0M91 487h0M93 190h0M170 51h0M267 51h0M493 51h0M91 473h0M93 192h0M504 51h0M91 313h0M91 405h0M93 184h0M175 51h0M268 51h0M377 51h0M468 51h0M91 309h0M91 394h0M91 489h0M93 175h0M174 309h0M174 394h0" class="fw"/>
<path d="M90 316h0M90 505h0M169 52h0M266 52h0M364 52h0M480 52h0M90 495h0M93 198h0M157 318h0M157 422h0M157 495h0M164 51h0M251 495h0M264 198h0M344 495h0M364 198h0M460 318h0M460 422h0M487 51h0M487 198h0M90 318h0M90 422h0M90 504h0M481 51h0M90 314h0M90 507h0M478 51h0M91 511h0M93 195h0M159 315h0M159 511h0M166 51h0M253 511h0M267 195h0M449 315h0M475 51h0M475 195h0M91 474h0M93 196h0M159 474h0M165 51h0M251 474h0M264 51h0M475 319h0M503 51h0M503 196h0M91 505h0M162 316h0M162 422h0M162 505h0M169 51h0M253 505h0M266 192h0M344 505h0M453 316h0M453 422h0M480 51h0M480 192h0M91 321h0M93 200h0M162 51h0M262 51h0M91 316h0M91 499h0M266 51h0M484 51h0M91 315h0M91 487h0M93 190h0M170 51h0M267 51h0M493 51h0M91 473h0M93 192h0M504 51h0" class="f0"/>
<path d="M482 199h0M90 405h0M90 499h0M92 193h0M168 52h0M377 52h0M484 52h0M90 312h0M90 511h0M269 52h0M475 52h0M91 411h0M93 201h0M155 411h0M155 488h0M249 411h0M249 488h0M262 201h0M353 321h0M353 488h0M373 51h0M373 201h0M465 321h0M465 411h0M492 201h0M172 491h0M491 177h0M91 308h0M91 488h0M93 177h0M180 51h0M492 51h0M91 313h0M91 405h0M93 184h0M175 51h0M268 51h0M377 51h0M468 51h0M91 309h0M91 394h0M91 489h0M93 175h0M174 309h0M174 394h0" class="f1"/>
<path d="M174 489h0M182 51h0M258 394h0M258 489h0M272 51h0M272 175h0M365 309h0M365 489h0M386 51h0M386 175h0M464 309h0M464 394h0M491 175h0M91 319h0M91 485h0M263 51h0M495 51h0M93 194h0M160 483h0M167 51h0M252 483h0M364 194h0M468 317h0M496 51h0M496 194h0M91 491h0M93 193h0M161 491h0M168 51h0M252 491h0M265 51h0M265 193h0M344 491h0M364 51h0M463 317h0M463 422h0M491 51h0M491 193h0M91 307h0M91 422h0M91 483h0M91 314h0M91 507h0M268 50h0M478 50h0M91 317h0M91 417h0M91 520h0M94 191h0M162 317h0M162 417h0M162 520h0M169 50h0M252 520h0M265 191h0M348 520h0M368 191h0M442 317h0M442 417h0M468 50h0M468 191h0M94 194h0M167 50h0M377 50h0M92 324h0M94 205h0M152 324h0M152 422h0M152 499h0M159 50h0M247 422h0M247 499h0M259 50h0M259 205h0M344 324h0M364 205h0M457 324h0M484 50h0M484 205h0M92 473h0M94 192h0M168 50h0M504 50h0M92 322h0M94 203h0M161 50h0M261 50h0M485 50h0M180 50h0M273 50h0M364 50h0M496 50h0M92 317h0M92 511h0M158 317h0M158 417h0M158 511h0M165 50h0M252 417h0M252 511h0M265 50h0M265 197h0M348 317h0M348 511h0M368 50h0M368 197h0M449 317h0M449 417h0M475 50h0M475 197h0M94 196h0M92 492h0M94 198h0M157 492h0M250 492h0M263 198h0M348 320h0M348 492h0M368 198h0M462 417h0" class="fw"/>
<path d="M91 319h0M91 485h0M263 51h0M495 51h0M93 194h0M160 483h0M167 51h0M252 483h0M364 194h0M468 317h0M496 51h0M496 194h0M91 491h0M93 193h0M161 491h0M168 51h0M252 491h0M265 51h0M265 193h0M344 491h0M364 51h0M463 317h0M463 422h0M491 51h0M491 193h0M91 307h0M91 422h0M91 483h0M91 314h0M91 507h0M268 50h0M478 50h0M92 473h0M94 192h0M168 50h0M504 50h0M92 322h0M94 203h0M161 50h0M261 50h0M485 50h0M180 50h0M273 50h0M364 50h0M496 50h0M92 492h0M94 198h0M157 492h0M250 492h0M263 198h0M348 320h0M348 492h0M368 198h0M462 417h0" class="f0"/>
<path d="M174 489h0M182 51h0M258 394h0M258 489h0M272 51h0M272 175h0M365 309h0M365 489h0M386 51h0M386 175h0M464 309h0M464 394h0M491 175h0M91 317h0M91 417h0M91 520h0M94 191h0M162 317h0M162 417h0M162 520h0M169 50h0M252 520h0M265 191h0M348 520h0M368 191h0M442 317h0M442 417h0M468 50h0M468 191h0M94 194h0M167 50h0M377 50h0M92 324h0M94 205h0M152 324h0M152 422h0M152 499h0M159 50h0M247 422h0M247 499h0M259 50h0M259 205h0M344 324h0M364 205h0M457 324h0M484 50h0M484 205h0M92 317h0M92 511h0M158 317h0M158 417h0M158 511h0M165 50h0M252 417h0M252 511h0M265 50h0M265 197h0M348 317h0M348 511h0M368 50h0M368 197h0M449 317h0M449 417h0M475 50h0M475 197h0M94 196h0" class="f1"/>
<path d="M490 49h0M490 198h0M92 321h0M92 487h0M94 200h0M156 321h0M156 487h0M162 49h0M249 487h0M262 200h0M466 321h0M493 49h0M493 200h0M92 307h0M92 483h0M94 177h0M273 49h0M496 49h0M92 499h0M94 193h0M168 49h0M484 49h0M92 481h0M159 481h0M250 481h0M344 481h0M364 195h0M470 319h0M470 422h0M498 49h0M498 195h0M92 417h0M92 491h0M94 195h0M159 491h0M166 49h0M250 491h0M368 49h0M463 319h0M491 49h0M491 195h0M92 319h0M92 475h0M94 197h0M158 319h0M158 422h0M158 475h0M250 475h0M263 49h0M263 197h0M344 475h0M364 197h0M474 319h0M474 422h0M502 49h0M502 197h0M92 482h0M95 189h0M164 316h0M164 422h0M164 482h0M171 49h0M253 482h0M266 189h0M344 482h0M364 189h0M469 316h0M469 422h0M497 49h0M497 189h0M92 318h0M92 422h0M92 504h0M95 196h0M165 49h0M264 49h0M364 49h0M481 49h0M92 308h0M92 394h0M92 488h0M95 177h0M172 308h0M172 394h0M172 488h0M180 49h0M259 394h0M259 488h0M272 49h0M272 177h0M365 308h0M365 488h0M386 49h0M386 177h0M465 308h0M465 394h0M492 49h0M492 177h0M92 316h0M92 405h0M92 520h0M160 316h0M160 520h0M167 49h0M253 520h0M266 49h0M377 49h0M442 316h0M468 49h0M468 193h0M92 320h0M92 400h0M92 498h0M95 198h0M157 320h0M157 400h0M157 498h0M164 49h0M249 400h0M249 498h0" class="fw"/>
<path d="M490 49h0M490 198h0M92 321h0M92 487h0M94 200h0M156 321h0M156 487h0M162 49h0M249 487h0M262 200h0M466 321h0M493 49h0M493 200h0M92 307h0M92 483h0M94 177h0M273 49h0M496 49h0M92 499h0M94 193h0M168 49h0M484 49h0M92 481h0M159 481h0M250 481h0M344 481h0M364 195h0M470 319h0M470 422h0M498 49h0M498 195h0M92 482h0M95 189h0M164 316h0M164 422h0M164 482h0M171 49h0M253 482h0M266 189h0M344 482h0M364 189h0M469 316h0M469 422h0M497 49h0M497 189h0M92 318h0M92 422h0M92 504h0M95 196h0M165 49h0M264 49h0M364 49h0M481 49h0M92 320h0M92 400h0M92 498h0M95 198h0M157 320h0M157 400h0M157 498h0M164 49h0M249 400h0M249 498h0" class="f0"/>
<path d="M92 417h0M92 491h0M94 195h0M159 491h0M166 49h0M250 491h0M368 49h0M463 319h0M491 49h0M491 195h0M92 319h0M92 475h0M94 197h0M158 319h0M158 422h0M158 475h0M250 475h0M263 49h0M263 197h0M344 475h0M364 197h0M474 319h0M474 422h0M502 49h0M502 197h0M92 308h0M92 394h0M92 488h0M95 177h0M172 308h0M172 394h0M172 488h0M180 49h0M259 394h0M259 488h0M272 49h0M272 177h0M365 308h0M365 488h0M386 49h0M386 177h0M465 308h0M465 394h0M492 49h0M492 177h0M92 316h0M92 405h0M92 520h0M160 316h0M160 520h0M167 49h0M253 520h0M266 49h0M377 49h0M442 316h0M468 49h0M468 193h0" class="f1"/>
<path d="M262 49h0M361 320h0M361 498h0M381 49h0M381 198h0M458 320h0M458 400h0M485 49h0M485 198h0M93 321h0M93 486h0M95 199h0M157 417h0M157 486h0M163 48h0M249 417h0M249 486h0M262 48h0M348 486h0M368 199h0M467 321h0M467 417h0M494 48h0M494 199h0M93 312h0M93 511h0M256 422h0M256 511h0M269 48h0M344 511h0M449 312h0M449 422h0M475 48h0M93 315h0M93 487h0M95 190h0M163 315h0M163 422h0M163 487h0M253 487h0M267 48h0M267 190h0M344 315h0M344 487h0M364 190h0M466 315h0M466 422h0M493 48h0M493 190h0M93 314h0M93 507h0M478 48h0M93 319h0M93 485h0M95 193h0M167 48h0M263 48h0M495 48h0M95 184h0M175 48h0M268 48h0M468 48h0M93 322h0M93 422h0M93 498h0M96 203h0M154 322h0M154 422h0M154 498h0M161 48h0M248 422h0M248 498h0M261 48h0M261 203h0M344 322h0M344 498h0M364 48h0M364 203h0M458 322h0M458 422h0M485 48h0M485 203h0M93 499h0M168 48h0M377 48h0M484 48h0M93 417h0M93 462h0M96 190h0M163 316h0M163 417h0M163 462h0M170 48h0M253 417h0M253 462h0M266 48h0M266 190h0M348 316h0M348 462h0M368 48h0M368 190h0M483 316h0M483 417h0M512 48h0M512 190h0M93 316h0M93 502h0M96 197h0M165 47h0M266 47h0M482 47h0M93 313h0M93 520h0M96 184h0M175 47h0M268 47h0M468 47h0M93 317h0M93 405h0M96 194h0" class="fw"/>
<path d="M262 49h0M361 320h0M361 498h0M381 49h0M381 198h0M458 320h0M458 400h0M485 49h0M485 198h0M93 315h0M93 487h0M95 190h0M163 315h0M163 422h0M163 487h0M253 487h0M267 48h0M267 190h0M344 315h0M344 487h0M364 190h0M466 315h0M466 422h0M493 48h0M493 190h0M93 314h0M93 507h0M478 48h0M93 319h0M93 485h0M95 193h0M167 48h0M263 48h0M495 48h0M93 322h0M93 422h0M93 498h0M96 203h0M154 322h0M154 422h0M154 498h0M161 48h0M248 422h0M248 498h0M261 48h0M261 203h0M344 322h0M344 498h0M364 48h0M364 203h0M458 322h0M458 422h0M485 48h0M485 203h0" class="f0"/>
<path d="M93 321h0M93 486h0M95 199h0M157 417h0M157 486h0M163 48h0M249 417h0M249 486h0M262 48h0M348 486h0M368 199h0M467 321h0M467 417h0M494 48h0M494 199h0M93 312h0M93 511h0M256 422h0M256 511h0M269 48h0M344 511h0M449 312h0M449 422h0M475 48h0M95 184h0M175 48h0M268 48h0M468 48h0M93 499h0M168 48h0M377 48h0M484 48h0M93 417h0M93 462h0M96 190h0M163 316h0M163 417h0M163 462h0M170 48h0M253 417h0M253 462h0M266 48h0M266 190h0M348 316h0M348 462h0M368 48h0M368 190h0M483 316h0M483 417h0M512 48h0M512 190h0M93 316h0M93 502h0M96 197h0M165 47h0M266 47h0M482 47h0M93 313h0M93 520h0M96 184h0M175 47h0M268 47h0M468 47h0M93 317h0M93 405h0M96 194h0" class="f1"/>
<path d="M160 317h0M160 405h0M252 405h0M265 47h0M265 194h0M357 317h0M377 47h0M377 194h0M94 319h0M94 485h0M96 193h0M167 47h0M263 47h0M495 47h0M94 494h0M96 198h0M157 321h0M157 494h0M164 47h0M249 494h0M262 47h0M262 198h0M461 321h0M488 47h0M488 198h0M96 177h0M180 47h0M273 47h0M364 47h0M496 47h0M94 321h0M94 417h0M94 491h0M155 321h0M155 417h0M155 491h0M161 46h0M248 417h0M248 491h0M348 321h0M368 46h0M368 201h0M463 321h0M491 46h0M491 201h0M94 307h0M94 422h0M94 483h0M97 177h0M172 307h0M172 422h0M172 483h0M180 46h0M259 422h0M259 483h0M273 46h0M273 177h0M344 307h0M364 177h0M468 307h0M496 46h0M496 177h0M94 320h0M94 411h0M94 472h0M250 411h0M250 472h0M263 46h0M353 320h0M353 472h0M373 46h0M477 320h0M477 411h0M505 46h0M94 322h0M94 505h0M97 201h0M155 322h0M155 505h0M162 46h0M248 505h0M261 46h0M261 201h0M453 322h0M480 46h0M480 201h0M95 316h0M95 499h0M97 193h0M168 46h0M253 422h0M266 46h0M344 316h0M364 46h0M484 46h0M95 318h0M95 422h0M95 504h0M98 196h0M159 504h0M165 45h0M251 504h0M264 45h0M344 504h0M364 45h0M454 318h0M454 422h0M481 45h0M481 196h0M95 320h0M95 394h0M95 493h0M98 199h0M156 320h0M156 394h0M156 493h0M163 44h0M249 394h0M249 493h0M262 44h0" class="fw"/>
<path d="M94 319h0M94 485h0M96 193h0M167 47h0M263 47h0M495 47h0M96 177h0M180 47h0M273 47h0M364 47h0M496 47h0M94 307h0M94 422h0M94 483h0M97 177h0M172 307h0M172 422h0M172 483h0M180 46h0M259 422h0M259 483h0M273 46h0M273 177h0M344 307h0M364 177h0M468 307h0M496 46h0M496 177h0M95 316h0M95 499h0M97 193h0M168 46h0M253 422h0M266 46h0M344 316h0M364 46h0M484 46h0M95 318h0M95 422h0M95 504h0M98 196h0M159 504h0M165 45h0M251 504h0M264 45h0M344 504h0M364 45h0M454 318h0M454 422h0M481 45h0M481 196h0" class="f0"/>
<path d="M160 317h0M160 405h0M252 405h0M265 47h0M265 194h0M357 317h0M377 47h0M377 194h0M94 494h0M96 198h0M157 321h0M157 494h0M164 47h0M249 494h0M262 47h0M262 198h0M461 321h0M488 47h0M488 198h0M94 321h0M94 417h0M94 491h0M155 321h0M155 417h0M155 491h0M161 46h0M248 417h0M248 491h0M348 321h0M368 46h0M368 201h0M463 321h0M491 46h0M491 201h0M94 320h0M94 411h0M94 472h0M250 411h0M250 472h0M263 46h0M353 320h0M353 472h0M373 46h0M477 320h0M477 411h0M505 46h0M94 322h0M94 505h0M97 201h0M155 322h0M155 505h0M162 46h0M248 505h0M261 46h0M261 201h0M453 322h0M480 46h0M480 201h0M95 320h0M95 394h0M95 493h0M98 199h0M156 320h0M156 394h0M156 493h0M163 44h0M249 394h0M249 493h0M262 44h0" class="f1"/>
<path d="M262 199h0M365 320h0M365 493h0M386 44h0M386 199h0M462 320h0M462 394h0M489 44h0M489 199h0M96 318h0M96 422h0M96 499h0M99 196h0M159 318h0M159 422h0M159 499h0M166 43h0M251 422h0M251 499h0M264 43h0M264 196h0M344 318h0M344 499h0M364 43h0M364 196h0M457 318h0M457 422h0M484 43h0M484 196h0M97 309h0M100 183h0M176 42h0M271 42h0M364 42h0M97 314h0M97 507h0M254 507h0M268 42h0M451 314h0M478 42h0M97 319h0M97 422h0M97 485h0M100 193h0M167 41h0M263 41h0M495 41h0M98 311h0M98 417h0M98 491h0M100 181h0M177 41h0M270 41h0M368 41h0M491 41h0M98 309h0M98 422h0M98 507h0M101 183h0M168 309h0M168 422h0M168 507h0M176 41h0M258 422h0M258 507h0M271 41h0M271 183h0M344 309h0M344 507h0M364 41h0M364 183h0M451 309h0M451 422h0M478 41h0M478 183h0M99 316h0M99 499h0M102 193h0M161 316h0M161 405h0M161 499h0M168 40h0M253 499h0M266 40h0M266 193h0M357 499h0M377 40h0M377 193h0M457 316h0M457 405h0M484 40h0M484 193h0M99 313h0M99 405h0M99 520h0M102 184h0M167 405h0M167 520h0M175 39h0M255 405h0M255 520h0M268 39h0M357 313h0M357 520h0M377 39h0M377 184h0M442 313h0M442 405h0M468 39h0M468 184h0M99 310h0M99 422h0M99 483h0M102 186h0M166 310h0M166 483h0M173 39h0M257 422h0M257 483h0M270 39h0" class="fw"/>
<path d="M97 314h0M97 507h0M254 507h0M268 42h0M451 314h0M478 42h0M97 319h0M97 422h0M97 485h0M100 193h0M167 41h0M263 41h0M495 41h0M98 311h0M98 417h0M98 491h0M100 181h0M177 41h0M270 41h0M368 41h0M491 41h0M99 310h0M99 422h0M99 483h0M102 186h0M166 310h0M166 483h0M173 39h0M257 422h0M257 483h0M270 39h0" class="f0"/>
<path d="M262 199h0M365 320h0M365 493h0M386 44h0M386 199h0M462 320h0M462 394h0M489 44h0M489 199h0M96 318h0M96 422h0M96 499h0M99 196h0M159 318h0M159 422h0M159 499h0M166 43h0M251 422h0M251 499h0M264 43h0M264 196h0M344 318h0M344 499h0M364 43h0M364 196h0M457 318h0M457 422h0M484 43h0M484 196h0M97 309h0M100 183h0M176 42h0M271 42h0M364 42h0M98 309h0M98 422h0M98 507h0M101 183h0M168 309h0M168 422h0M168 507h0M176 41h0M258 422h0M258 507h0M271 41h0M271 183h0M344 309h0M344 507h0M364 41h0M364 183h0M451 309h0M451 422h0M478 41h0M478 183h0M99 316h0M99 499h0M102 193h0M161 316h0M161 405h0M161 499h0M168 40h0M253 499h0M266 40h0M266 193h0M357 499h0M377 40h0M377 193h0M457 316h0M457 405h0M484 40h0M484 193h0M99 313h0M99 405h0M99 520h0M102 184h0M167 405h0M167 520h0M175 39h0M255 405h0M255 520h0M268 39h0M357 313h0M357 520h0M377 39h0M377 184h0M442 313h0M442 405h0M468 39h0M468 184h0" class="f1"/>
<path d="M270 186h0M344 310h0M364 39h0M468 310h0M496 39h0M496 186h0M100 316h0M100 405h0M100 502h0M103 197h0M158 316h0M158 405h0M158 502h0M165 37h0M253 405h0M253 502h0M266 37h0M266 197h0M357 316h0M357 502h0M377 37h0M377 197h0M455 316h0M455 405h0M482 37h0M482 197h0M100 311h0M100 417h0M100 491h0M103 181h0M177 37h0M270 37h0M368 37h0M491 37h0M101 319h0M101 422h0M101 485h0M104 193h0M160 319h0M160 422h0M160 485h0M167 37h0M250 422h0M250 485h0M263 37h0M263 193h0M344 319h0M344 485h0M364 37h0M364 193h0M467 319h0M467 422h0M495 37h0M495 193h0M102 311h0M102 417h0M102 491h0M105 181h0M177 35h0M270 35h0M368 35h0M491 35h0M102 317h0M102 422h0M102 473h0M105 192h0M161 317h0M161 422h0M161 473h0M168 35h0M252 422h0M252 473h0M265 35h0M265 192h0M344 317h0M344 473h0M364 35h0M364 192h0M476 317h0M476 422h0M504 35h0M504 192h0M104 311h0M104 417h0M104 491h0M107 181h0M177 32h0M270 32h0M368 32h0M491 32h0M106 312h0M106 422h0M106 474h0M110 186h0M173 29h0M269 29h0M364 29h0M503 29h0M107 312h0M107 422h0M107 474h0M111 186h0M173 27h0M269 27h0M364 27h0M503 27h0M108 313h0M108 422h0M108 483h0M112 184h0M175 26h0M268 26h0M364 26h0M496 26h0M109 311h0M109 417h0M109 491h0M113 181h0M169 311h0M169 417h0" class="fw"/>
<path d="M270 186h0M344 310h0M364 39h0M468 310h0M496 39h0M496 186h0M100 316h0M100 405h0M100 502h0M103 197h0M158 316h0M158 405h0M158 502h0M165 37h0M253 405h0M253 502h0M266 37h0M266 197h0M357 316h0M357 502h0M377 37h0M377 197h0M455 316h0M455 405h0M482 37h0M482 197h0M100 311h0M100 417h0M100 491h0M103 181h0M177 37h0M270 37h0M368 37h0M491 37h0M101 319h0M101 422h0M101 485h0M104 193h0M160 319h0M160 422h0M160 485h0M167 37h0M250 422h0M250 485h0M263 37h0M263 193h0M344 319h0M344 485h0M364 37h0M364 193h0M467 319h0M467 422h0M495 37h0M495 193h0M102 311h0M102 417h0M102 491h0M105 181h0M177 35h0M270 35h0M368 35h0M491 35h0M102 317h0M102 422h0M102 473h0M105 192h0M161 317h0M161 422h0M161 473h0M168 35h0M252 422h0M252 473h0M265 35h0M265 192h0M344 317h0M344 473h0M364 35h0M364 192h0M476 317h0M476 422h0M504 35h0M504 192h0M104 311h0M104 417h0M104 491h0M107 181h0M177 32h0M270 32h0M368 32h0M491 32h0M106 312h0M106 422h0M106 474h0M110 186h0M173 29h0M269 29h0M364 29h0M503 29h0M107 312h0M107 422h0M107 474h0M111 186h0M173 27h0M269 27h0M364 27h0M503 27h0M108 313h0M108 422h0M108 483h0M112 184h0M175 26h0M268 26h0M364 26h0M496 26h0M109 311h0M109 417h0M109 491h0M113 181h0M169 311h0M169 417h0" class="f0"/>
<path d="M169 491h0M177 25h0M256 417h0M256 491h0M270 25h0M270 181h0M348 311h0M348 491h0M368 25h0M368 181h0M463 311h0M463 417h0M491 25h0M491 181h0M114 319h0M114 417h0M114 501h0M118 195h0M119 195h0M166 17h0M263 17h0M368 17h0M482 17h0M115 319h0M115 417h0M115 501h0M119 196h0M166 16h0M263 16h0M368 16h0M482 16h0M116 313h0M116 422h0M116 483h0M120 184h0M175 15h0M268 15h0M364 15h0M496 15h0M122 196h0M165 13h0M263 13h0M263 196h0M368 13h0M368 196h0M482 13h0M482 196h0M122 186h0M122 184h0M122 195h0M118 313h0M118 483h0M123 184h0M167 313h0M167 422h0M167 483h0M175 12h0M255 483h0M268 12h0M268 184h0M344 313h0M344 483h0M364 184h0M468 313h0M468 422h0M496 12h0M496 184h0M118 319h0M118 417h0M118 501h0M123 195h0M159 319h0M159 417h0M159 501h0M166 12h0M250 417h0M250 501h0M263 12h0M263 195h0M348 319h0M348 501h0M368 12h0M368 195h0M456 319h0M456 417h0M482 12h0M482 195h0M118 312h0M118 422h0M118 474h0M123 186h0M166 312h0M166 422h0M166 474h0M173 12h0M255 422h0M255 474h0M269 12h0M269 186h0M344 312h0M344 474h0M364 12h0M364 186h0M475 312h0M475 422h0M503 12h0M503 186h0" class="fw"/>
<path d="M169 491h0M177 25h0M256 417h0M256 491h0M270 25h0M270 181h0M348 311h0M348 491h0M368 25h0M368 181h0M463 311h0M463 417h0M491 25h0M491 181h0M114 319h0M114 417h0M114 501h0M118 195h0M119 195h0M166 17h0M263 17h0M368 17h0M482 17h0M115 319h0M115 417h0M115 501h0M119 196h0M166 16h0M263 16h0M368 16h0M482 16h0M116 313h0M116 422h0M116 483h0M120 184h0M175 15h0M268 15h0M364 15h0M496 15h0M122 196h0M165 13h0M263 13h0M263 196h0M368 13h0M368 196h0M482 13h0M482 196h0M122 186h0M122 184h0M122 195h0M118 313h0M118 483h0M123 184h0M167 313h0M167 422h0M167 483h0M175 12h0M255 483h0M268 12h0M268 184h0M344 313h0M344 483h0M364 184h0M468 313h0M468 422h0M496 12h0M496 184h0M118 319h0M118 417h0M118 501h0M123 195h0M159 319h0M159 417h0M159 501h0M166 12h0M250 417h0M250 501h0M263 12h0M263 195h0M348 319h0M348 501h0M368 12h0M368 195h0M456 319h0M456 417h0M482 12h0M482 195h0M118 312h0M118 422h0M118 474h0M123 186h0M166 312h0M166 422h0M166 474h0M173 12h0M255 422h0M255 474h0M269 12h0M269 186h0M344 312h0M344 474h0M364 12h0M364 186h0M475 312h0M475 422h0M503 12h0M503 186h0" class="f0"/>
</svg>
<canvas id="cv" width="549" height="550"></canvas>
<svg width="549" height="550" viewBox="0 0 549 550">
<defs><clipPath id="ct"><rect x="0" y="0" width="549" height="216"/></clipPath>
<clipPath id="cb"><rect x="0" y="231.6" width="549" height="320"/></clipPath></defs>
<g clip-path="url(#ct)"><g class="T" transform="matrix(1.067 0 0 1.067 -3.74 -34.33)">
<polygon points="49.36,132.1 49.64,132.09 49.92,132.09 50.2,132.09 50.48,132.08 50.76,132.07 51.04,132.05 51.33,132.03 51.61,132 51.89,131.96 52.17,131.9 52.45,131.83 52.73,131.74 53.01,131.62 53.29,131.47 53.57,131.29 53.85,131.06 54.13,130.78 54.41,130.45 54.7,130.06 54.98,129.61 55.26,129.08 55.54,128.48 55.82,127.81 56.1,127.05 56.38,126.22 56.66,125.32 56.94,124.36 57.22,123.33 57.5,122.26 57.78,121.15 58.07,120.03 58.35,118.9 58.63,117.8 58.91,116.73 59.19,115.71 59.47,114.77 59.75,113.92 60.03,113.18 60.31,112.56 60.59,112.07 60.87,111.7 61.15,111.48 61.44,111.38 61.72,111.41 62,111.56 62.28,111.81 62.56,112.15 62.84,112.56 63.12,113.04 63.4,113.55 63.68,114.1 63.96,114.65 64.24,115.2 64.52,115.75 64.8,116.27 65.09,116.76 65.37,117.23 65.65,117.65 65.93,118.04 66.21,118.39 66.49,118.71 66.77,118.98 67.05,119.23 67.33,119.44 67.61,119.62 67.89,119.78 68.17,119.92 68.46,120.03 68.74,120.14 69.02,120.24 69.3,120.33 69.58,120.42 69.86,120.52 70.14,120.63 70.42,120.74 70.7,120.88 70.98,121.03 71.26,121.2 71.54,121.4 71.83,121.62 72.11,121.86 72.39,122.13 72.67,122.42 72.95,122.73 73.23,123.05 73.51,123.39 73.79,123.74 74.07,124.1 74.35,124.45 74.63,124.81 74.91,125.15 75.2,125.49 75.48,125.81 75.76,126.11 76.04,126.4 76.32,126.66 76.6,126.9 76.88,127.12 77.16,127.33 77.44,127.51 77.72,127.68 78,127.83 78.28,127.97 78.57,128.1 78.85,128.22 79.13,128.33 79.41,128.43 79.69,128.51 79.97,128.59 80.25,128.67 80.53,128.73 80.81,128.78 81.09,128.83 81.37,128.88 81.65,128.92 81.94,128.95 82.22,128.99 82.5,129.03 82.78,129.07 83.06,129.11 83.34,129.16 83.62,129.22 83.9,129.28 84.18,129.35 84.46,129.43 84.74,129.52 85.02,129.61 85.31,129.71 85.59,129.81 85.87,129.91 86.15,130.01 86.43,130.11 86.71,130.21 86.99,130.29 87.27,130.37 87.55,130.44 87.83,130.5 88.11,130.54 88.39,130.57 88.68,130.59 88.96,130.61 89.24,130.61 89.52,130.6 89.8,130.59 90.08,130.58 90.36,130.57 90.64,130.56 90.92,130.55 91.2,130.55 91.48,130.56 91.76,130.57 92.05,130.59 92.33,130.63 92.61,130.67 92.89,130.73 93.17,130.79 93.45,130.86 93.73,130.93 94.01,131.01 94.29,131.09 94.57,131.17 94.85,131.25 95.13,131.32 95.42,131.39 95.7,131.46 95.98,131.52 96.26,131.57 96.54,131.61 96.82,131.65 97.1,131.69 97.38,131.72 97.66,131.75 97.94,131.78 98.22,131.8 98.5,131.82 98.79,131.84 99.07,131.87 99.35,131.89 99.63,131.91 99.91,131.93 100.19,131.95 100.47,131.97 100.75,131.99 101.03,132.01 101.31,132.02 101.59,132.04 101.87,132.05 102.15,132.06 102.44,132.07 102.72,132.08 103,132.08 103.28,132.09 103.56,132.09 103.84,132.09 104.12,132.1 104.4,132.1 104.68,132.1 104.96,132.1 105.24,132.1 105.24,132.1 49.36,132.1" fill="#ff7f0e" fill-opacity="0.25" stroke="#ff7f0e" stroke-width="1.25" stroke-linejoin="round"/>
<polygon points="53.39,132.09 53.74,132.08 54.08,132.05 54.43,132 54.78,131.9 55.12,131.71 55.47,131.37 55.81,130.82 56.16,129.97 56.51,128.69 56.85,126.9 57.2,124.47 57.55,121.33 57.89,117.4 58.24,112.68 58.59,107.16 58.93,100.94 59.28,94.13 59.62,86.95 59.97,79.64 60.32,72.5 60.66,65.84 61.01,59.91 61.36,54.9 61.7,50.89 62.05,47.88 62.39,45.79 62.74,44.47 63.09,43.82 63.43,43.72 63.78,44.09 64.13,44.9 64.47,46.1 64.82,47.65 65.17,49.47 65.51,51.47 65.86,53.52 66.2,55.48 66.55,57.24 66.9,58.71 67.24,59.87 67.59,60.74 67.94,61.4 68.28,61.96 68.63,62.54 68.97,63.26 69.32,64.21 69.67,65.46 70.01,67.05 70.36,69 70.71,71.32 71.05,73.98 71.4,76.96 71.74,80.18 72.09,83.59 72.44,87.07 72.78,90.55 73.13,93.91 73.48,97.08 73.82,99.97 74.17,102.53 74.52,104.73 74.86,106.6 75.21,108.19 75.55,109.57 75.9,110.84 76.25,112.08 76.59,113.36 76.94,114.71 77.29,116.14 77.63,117.6 77.98,119.02 78.32,120.35 78.67,121.52 79.02,122.5 79.36,123.26 79.71,123.81 80.06,124.16 80.4,124.36 80.75,124.44 81.1,124.44 81.44,124.4 81.79,124.35 82.13,124.32 82.48,124.32 82.83,124.38 83.17,124.5 83.52,124.67 83.87,124.91 84.21,125.2 84.56,125.54 84.9,125.9 85.25,126.26 85.6,126.61 85.94,126.92 86.29,127.19 86.64,127.42 86.98,127.63 87.33,127.83 87.67,128.03 88.02,128.22 88.37,128.42 88.71,128.62 89.06,128.79 89.41,128.94 89.75,129.06 90.1,129.16 90.45,129.25 90.79,129.34 91.14,129.46 91.48,129.61 91.83,129.79 92.18,130 92.52,130.23 92.87,130.46 93.22,130.69 93.56,130.9 93.91,131.1 94.25,131.27 94.6,131.42 94.95,131.55 95.29,131.64 95.64,131.71 95.99,131.76 96.33,131.78 96.68,131.79 97.03,131.79 97.37,131.79 97.72,131.78 98.06,131.78 98.41,131.78 98.76,131.77 99.1,131.76 99.45,131.74 99.8,131.73 100.14,131.71 100.49,131.7 100.83,131.7 101.18,131.71 101.53,131.74 101.87,131.77 102.22,131.8 102.57,131.84 102.91,131.87 103.26,131.9 103.6,131.92 103.95,131.94 104.3,131.95 104.64,131.95 104.99,131.95 105.34,131.94 105.68,131.93 106.03,131.92 106.38,131.9 106.72,131.89 107.07,131.87 107.41,131.86 107.76,131.86 108.11,131.86 108.45,131.88 108.8,131.89 109.15,131.92 109.49,131.95 109.84,131.98 110.18,132.01 110.53,132.03 110.88,132.05 111.22,132.07 111.57,132.07 111.92,132.07 112.26,132.05 112.61,132.03 112.96,132 113.3,131.96 113.65,131.92 113.99,131.88 114.34,131.84 114.69,131.8 115.03,131.78 115.38,131.76 115.73,131.74 116.07,131.72 116.42,131.68 116.76,131.64 117.11,131.59 117.46,131.55 117.8,131.52 118.15,131.51 118.5,131.54 118.84,131.6 119.19,131.67 119.53,131.76 119.88,131.85 120.23,131.93 120.57,131.99 120.92,132.03 121.27,132.06 121.61,132.08 121.96,132.09 122.31,132.1 122.31,132.1 53.39,132.1" fill="#1f77b4" fill-opacity="0.25" stroke="#4f98d0" stroke-width="1.25" stroke-linejoin="round"/>
<path d="M45.4 39.3V132.1H126.8" class="sp"/>
<path d="M54.1 132.1v1.9M89.85 132.1v1.9M125.6 132.1v1.9M45.4 129h-1.9M45.4 109.88h-1.9M45.4 90.75h-1.9M45.4 71.62h-1.9M45.4 52.5h-1.9" class="tk"/>
<text x="41.6" y="131" class="yt">0</text>
<text x="41.6" y="111.88" class="yt">20000</text>
<text x="41.6" y="92.75" class="yt">40000</text>
<text x="41.6" y="73.62" class="yt">60000</text>
<text x="41.6" y="54.5" class="yt">80000</text>
<path d="M142 39.3V132.1H223.4" class="sp"/>
<path d="M150.8 132.1v1.9M182.9 132.1v1.9M215 132.1v1.9M142 129h-1.9M142 109.88h-1.9M142 90.75h-1.9M142 71.62h-1.9M142 52.5h-1.9" class="tk"/>
<path d="M238.6 39.3V132.1H320" class="sp"/>
<path d="M245.7 132.1v1.9M284 132.1v1.9M238.6 129h-1.9M238.6 109.88h-1.9M238.6 90.75h-1.9M238.6 71.62h-1.9M238.6 52.5h-1.9" class="tk"/>
<path d="M335.2 39.3V132.1H416.6" class="sp"/>
<path d="M344.3 132.1v1.9M365.13 132.1v1.9M385.97 132.1v1.9M406.8 132.1v1.9M335.2 129h-1.9M335.2 109.88h-1.9M335.2 90.75h-1.9M335.2 71.62h-1.9M335.2 52.5h-1.9" class="tk"/>
<path d="M431.8 39.3V132.1H513.2" class="sp"/>
<path d="M442.2 132.1v1.9M463.23 132.1v1.9M484.27 132.1v1.9M505.3 132.1v1.9M431.8 129h-1.9M431.8 109.88h-1.9M431.8 90.75h-1.9M431.8 71.62h-1.9M431.8 52.5h-1.9" class="tk"/>
<text transform="translate(19 86.7) rotate(-90)" class="lb">LOAN</text>
<path d="M45.4 137.4V230.2H126.8" class="sp"/>
<path d="M54.1 230.2v1.9M89.85 230.2v1.9M125.6 230.2v1.9M45.4 226.2h-1.9M45.4 205h-1.9M45.4 183.8h-1.9M45.4 162.6h-1.9M45.4 141.4h-1.9" class="tk"/>
<text x="41.6" y="228.2" class="yt">0</text>
<text x="41.6" y="207" class="yt">100000</text>
<text x="41.6" y="185.8" class="yt">200000</text>
<text x="41.6" y="164.6" class="yt">300000</text>
<text x="41.6" y="143.4" class="yt">400000</text>
<polygon points="145.66,230.19 146.04,230.19 146.41,230.18 146.79,230.16 147.16,230.13 147.54,230.08 147.92,230 148.29,229.9 148.67,229.76 149.04,229.56 149.42,229.32 149.8,229.01 150.17,228.64 150.55,228.2 150.93,227.71 151.3,227.16 151.68,226.56 152.05,225.9 152.43,225.18 152.81,224.41 153.18,223.58 153.56,222.67 153.93,221.69 154.31,220.64 154.69,219.53 155.06,218.38 155.44,217.2 155.81,216.03 156.19,214.91 156.57,213.87 156.94,212.94 157.32,212.16 157.7,211.55 158.07,211.11 158.45,210.85 158.82,210.76 159.2,210.82 159.58,211.01 159.95,211.29 160.33,211.64 160.7,212.04 161.08,212.48 161.46,212.95 161.83,213.46 162.21,214 162.58,214.58 162.96,215.22 163.34,215.9 163.71,216.64 164.09,217.41 164.47,218.22 164.84,219.04 165.22,219.86 165.59,220.66 165.97,221.42 166.35,222.13 166.72,222.78 167.1,223.36 167.47,223.87 167.85,224.3 168.23,224.65 168.6,224.95 168.98,225.18 169.36,225.38 169.73,225.53 170.11,225.67 170.48,225.8 170.86,225.93 171.24,226.06 171.61,226.2 171.99,226.36 172.36,226.53 172.74,226.71 173.12,226.9 173.49,227.1 173.87,227.3 174.24,227.49 174.62,227.68 175,227.84 175.37,227.98 175.75,228.11 176.13,228.21 176.5,228.29 176.88,228.35 177.25,228.41 177.63,228.46 178.01,228.51 178.38,228.56 178.76,228.62 179.13,228.69 179.51,228.77 179.89,228.84 180.26,228.92 180.64,229 181.01,229.07 181.39,229.13 181.77,229.19 182.14,229.25 182.52,229.3 182.9,229.36 183.27,229.42 183.65,229.47 184.02,229.53 184.4,229.6 184.78,229.66 185.15,229.72 185.53,229.78 185.9,229.84 186.28,229.9 186.66,229.95 187.03,230 187.41,230.04 187.79,230.08 188.16,230.11 188.54,230.14 188.91,230.15 189.29,230.17 189.67,230.18 190.04,230.19 190.42,230.19 190.79,230.19 191.17,230.19 191.55,230.19 191.92,230.19 192.3,230.19 192.67,230.18 193.05,230.17 193.43,230.16 193.8,230.15 194.18,230.13 194.56,230.12 194.93,230.1 195.31,230.09 195.68,230.07 196.06,230.06 196.44,230.06 196.81,230.06 197.19,230.06 197.56,230.07 197.94,230.08 198.32,230.1 198.69,230.11 199.07,230.13 199.44,230.14 199.82,230.15 200.2,230.16 200.57,230.17 200.95,230.17 201.33,230.17 201.7,230.17 202.08,230.16 202.45,230.16 202.83,230.16 203.21,230.15 203.58,230.15 203.96,230.15 204.33,230.15 204.71,230.15 205.09,230.16 205.46,230.16 205.84,230.17 206.22,230.18 206.59,230.18 206.97,230.19 207.34,230.19 207.72,230.19 208.1,230.2 208.47,230.2 208.85,230.2 209.22,230.2 209.6,230.2 209.98,230.19 210.35,230.19 210.73,230.18 211.1,230.17 211.48,230.16 211.86,230.14 212.23,230.12 212.61,230.1 212.99,230.07 213.36,230.05 213.74,230.03 214.11,230.01 214.49,230 214.87,229.99 215.24,230 215.62,230.01 215.99,230.03 216.37,230.05 216.75,230.08 217.12,230.1 217.5,230.13 217.87,230.15 218.25,230.16 218.63,230.17 219,230.18 219.38,230.19 219.76,230.19 220.13,230.2 220.51,230.2 220.51,230.2 145.66,230.2" fill="#ff7f0e" fill-opacity="0.25" stroke="#ff7f0e" stroke-width="1.25" stroke-linejoin="round"/>
<polygon points="147.97,230.18 148.3,230.15 148.63,230.09 148.96,229.96 149.29,229.73 149.62,229.34 149.95,228.75 150.28,227.92 150.61,226.85 150.94,225.59 151.27,224.23 151.6,222.87 151.93,221.63 152.26,220.57 152.59,219.71 152.92,219 153.25,218.32 153.58,217.49 153.91,216.32 154.24,214.56 154.57,212.02 154.9,208.57 155.23,204.21 155.56,199.05 155.89,193.31 156.22,187.25 156.55,181.15 156.88,175.25 157.21,169.66 157.54,164.47 157.87,159.68 158.2,155.33 158.53,151.47 158.86,148.19 159.19,145.55 159.52,143.61 159.85,142.37 160.18,141.82 160.51,141.98 160.84,142.87 161.17,144.47 161.5,146.69 161.83,149.35 162.16,152.2 162.49,155.04 162.83,157.79 163.16,160.49 163.49,163.3 163.82,166.36 164.15,169.71 164.48,173.22 164.81,176.66 165.14,179.78 165.47,182.44 165.8,184.67 166.13,186.67 166.46,188.72 166.79,191.06 167.12,193.81 167.45,196.91 167.78,200.14 168.11,203.21 168.44,205.88 168.77,208.02 169.1,209.66 169.43,210.89 169.76,211.86 170.09,212.67 170.42,213.37 170.75,213.94 171.08,214.38 171.41,214.7 171.74,214.97 172.07,215.29 172.4,215.77 172.73,216.47 173.06,217.4 173.39,218.49 173.72,219.64 174.05,220.72 174.38,221.64 174.71,222.36 175.04,222.9 175.37,223.3 175.7,223.63 176.03,223.96 176.36,224.31 176.69,224.66 177.02,224.99 177.35,225.24 177.68,225.36 178.01,225.33 178.34,225.17 178.67,224.93 179,224.74 179.33,224.67 179.66,224.82 179.99,225.17 180.32,225.67 180.65,226.22 180.98,226.72 181.31,227.11 181.64,227.35 181.97,227.49 182.3,227.56 182.63,227.62 182.96,227.71 183.29,227.85 183.62,228.05 183.95,228.29 184.28,228.56 184.61,228.84 184.94,229.12 185.27,229.37 185.6,229.6 185.93,229.78 186.26,229.92 186.59,230.02 186.92,230.07 187.25,230.09 187.58,230.08 187.91,230.06 188.24,230.04 188.57,230.03 188.9,230.03 189.23,230.04 189.56,230.07 189.89,230.1 190.22,230.13 190.55,230.15 190.88,230.17 191.21,230.18 191.54,230.19 191.87,230.2 192.2,230.2 192.53,230.2 192.86,230.2 193.19,230.2 193.52,230.2 193.85,230.2 194.18,230.2 194.51,230.2 194.84,230.2 195.17,230.2 195.5,230.2 195.83,230.2 196.16,230.2 196.49,230.2 196.82,230.2 197.15,230.2 197.48,230.2 197.81,230.2 198.14,230.2 198.47,230.2 198.8,230.2 199.13,230.2 199.46,230.2 199.79,230.2 200.12,230.2 200.45,230.2 200.78,230.2 201.11,230.2 201.44,230.2 201.77,230.2 202.1,230.2 202.43,230.2 202.76,230.2 203.09,230.2 203.42,230.2 203.75,230.2 204.08,230.2 204.41,230.2 204.74,230.2 205.07,230.2 205.4,230.2 205.73,230.2 206.06,230.2 206.39,230.2 206.72,230.2 207.05,230.2 207.38,230.19 207.71,230.19 208.04,230.17 208.37,230.15 208.7,230.13 209.03,230.1 209.36,230.07 209.69,230.04 210.02,230.03 210.35,230.03 210.68,230.04 211.01,230.07 211.34,230.1 211.67,230.13 212,230.15 212.33,230.17 212.66,230.19 212.99,230.19 213.32,230.2 213.65,230.2 213.65,230.2 147.97,230.2" fill="#1f77b4" fill-opacity="0.25" stroke="#4f98d0" stroke-width="1.25" stroke-linejoin="round"/>
<path d="M142 137.4V230.2H223.4" class="sp"/>
<path d="M150.8 230.2v1.9M182.9 230.2v1.9M215 230.2v1.9M142 226.2h-1.9M142 205h-1.9M142 183.8h-1.9M142 162.6h-1.9M142 141.4h-1.9" class="tk"/>
<path d="M238.6 137.4V230.2H320" class="sp"/>
<path d="M245.7 230.2v1.9M284 230.2v1.9M238.6 226.2h-1.9M238.6 205h-1.9M238.6 183.8h-1.9M238.6 162.6h-1.9M238.6 141.4h-1.9" class="tk"/>
<path d="M335.2 137.4V230.2H416.6" class="sp"/>
<path d="M344.3 230.2v1.9M365.13 230.2v1.9M385.97 230.2v1.9M406.8 230.2v1.9M335.2 226.2h-1.9M335.2 205h-1.9M335.2 183.8h-1.9M335.2 162.6h-1.9M335.2 141.4h-1.9" class="tk"/>
<path d="M431.8 137.4V230.2H513.2" class="sp"/>
<path d="M442.2 230.2v1.9M463.23 230.2v1.9M484.27 230.2v1.9M505.3 230.2v1.9M431.8 226.2h-1.9M431.8 205h-1.9M431.8 183.8h-1.9M431.8 162.6h-1.9M431.8 141.4h-1.9" class="tk"/>
<text transform="translate(15.5 184.8) rotate(-90)" class="lb">MORTDUE</text>
</g></g>
<g clip-path="url(#cb)">
<path d="M45.4 137.4V230.2H126.2" class="sp"/>
<path d="M54.1 230.2v1.9M89.85 230.2v1.9M125.6 230.2v1.9M45.4 226.2h-1.9M45.4 205h-1.9M45.4 183.8h-1.9M45.4 162.6h-1.9M45.4 141.4h-1.9" class="tk"/>
<text x="41.6" y="228.2" class="yt">0</text>
<text x="41.6" y="207" class="yt">100000</text>
<text x="41.6" y="185.8" class="yt">200000</text>
<text x="41.6" y="164.6" class="yt">300000</text>
<text x="41.6" y="143.4" class="yt">400000</text>
<polygon points="145.66,230.19 146.04,230.19 146.41,230.18 146.79,230.16 147.16,230.13 147.54,230.08 147.92,230 148.29,229.9 148.67,229.76 149.04,229.56 149.42,229.32 149.8,229.01 150.17,228.64 150.55,228.2 150.93,227.71 151.3,227.16 151.68,226.56 152.05,225.9 152.43,225.18 152.81,224.41 153.18,223.58 153.56,222.67 153.93,221.69 154.31,220.64 154.69,219.53 155.06,218.38 155.44,217.2 155.81,216.03 156.19,214.91 156.57,213.87 156.94,212.94 157.32,212.16 157.7,211.55 158.07,211.11 158.45,210.85 158.82,210.76 159.2,210.82 159.58,211.01 159.95,211.29 160.33,211.64 160.7,212.04 161.08,212.48 161.46,212.95 161.83,213.46 162.21,214 162.58,214.58 162.96,215.22 163.34,215.9 163.71,216.64 164.09,217.41 164.47,218.22 164.84,219.04 165.22,219.86 165.59,220.66 165.97,221.42 166.35,222.13 166.72,222.78 167.1,223.36 167.47,223.87 167.85,224.3 168.23,224.65 168.6,224.95 168.98,225.18 169.36,225.38 169.73,225.53 170.11,225.67 170.48,225.8 170.86,225.93 171.24,226.06 171.61,226.2 171.99,226.36 172.36,226.53 172.74,226.71 173.12,226.9 173.49,227.1 173.87,227.3 174.24,227.49 174.62,227.68 175,227.84 175.37,227.98 175.75,228.11 176.13,228.21 176.5,228.29 176.88,228.35 177.25,228.41 177.63,228.46 178.01,228.51 178.38,228.56 178.76,228.62 179.13,228.69 179.51,228.77 179.89,228.84 180.26,228.92 180.64,229 181.01,229.07 181.39,229.13 181.77,229.19 182.14,229.25 182.52,229.3 182.9,229.36 183.27,229.42 183.65,229.47 184.02,229.53 184.4,229.6 184.78,229.66 185.15,229.72 185.53,229.78 185.9,229.84 186.28,229.9 186.66,229.95 187.03,230 187.41,230.04 187.79,230.08 188.16,230.11 188.54,230.14 188.91,230.15 189.29,230.17 189.67,230.18 190.04,230.19 190.42,230.19 190.79,230.19 191.17,230.19 191.55,230.19 191.92,230.19 192.3,230.19 192.67,230.18 193.05,230.17 193.43,230.16 193.8,230.15 194.18,230.13 194.56,230.12 194.93,230.1 195.31,230.09 195.68,230.07 196.06,230.06 196.44,230.06 196.81,230.06 197.19,230.06 197.56,230.07 197.94,230.08 198.32,230.1 198.69,230.11 199.07,230.13 199.44,230.14 199.82,230.15 200.2,230.16 200.57,230.17 200.95,230.17 201.33,230.17 201.7,230.17 202.08,230.16 202.45,230.16 202.83,230.16 203.21,230.15 203.58,230.15 203.96,230.15 204.33,230.15 204.71,230.15 205.09,230.16 205.46,230.16 205.84,230.17 206.22,230.18 206.59,230.18 206.97,230.19 207.34,230.19 207.72,230.19 208.1,230.2 208.47,230.2 208.85,230.2 209.22,230.2 209.6,230.2 209.98,230.19 210.35,230.19 210.73,230.18 211.1,230.17 211.48,230.16 211.86,230.14 212.23,230.12 212.61,230.1 212.99,230.07 213.36,230.05 213.74,230.03 214.11,230.01 214.49,230 214.87,229.99 215.24,230 215.62,230.01 215.99,230.03 216.37,230.05 216.75,230.08 217.12,230.1 217.5,230.13 217.87,230.15 218.25,230.16 218.63,230.17 219,230.18 219.38,230.19 219.76,230.19 220.13,230.2 220.51,230.2 220.51,230.2 145.66,230.2" fill="#ff7f0e" fill-opacity="0.25" stroke="#ff7f0e" stroke-width="1.25" stroke-linejoin="round"/>
<polygon points="147.97,230.18 148.3,230.15 148.63,230.09 148.96,229.96 149.29,229.73 149.62,229.34 149.95,228.75 150.28,227.92 150.61,226.85 150.94,225.59 151.27,224.23 151.6,222.87 151.93,221.63 152.26,220.57 152.59,219.71 152.92,219 153.25,218.32 153.58,217.49 153.91,216.32 154.24,214.56 154.57,212.02 154.9,208.57 155.23,204.21 155.56,199.05 155.89,193.31 156.22,187.25 156.55,181.15 156.88,175.25 157.21,169.66 157.54,164.47 157.87,159.68 158.2,155.33 158.53,151.47 158.86,148.19 159.19,145.55 159.52,143.61 159.85,142.37 160.18,141.82 160.51,141.98 160.84,142.87 161.17,144.47 161.5,146.69 161.83,149.35 162.16,152.2 162.49,155.04 162.83,157.79 163.16,160.49 163.49,163.3 163.82,166.36 164.15,169.71 164.48,173.22 164.81,176.66 165.14,179.78 165.47,182.44 165.8,184.67 166.13,186.67 166.46,188.72 166.79,191.06 167.12,193.81 167.45,196.91 167.78,200.14 168.11,203.21 168.44,205.88 168.77,208.02 169.1,209.66 169.43,210.89 169.76,211.86 170.09,212.67 170.42,213.37 170.75,213.94 171.08,214.38 171.41,214.7 171.74,214.97 172.07,215.29 172.4,215.77 172.73,216.47 173.06,217.4 173.39,218.49 173.72,219.64 174.05,220.72 174.38,221.64 174.71,222.36 175.04,222.9 175.37,223.3 175.7,223.63 176.03,223.96 176.36,224.31 176.69,224.66 177.02,224.99 177.35,225.24 177.68,225.36 178.01,225.33 178.34,225.17 178.67,224.93 179,224.74 179.33,224.67 179.66,224.82 179.99,225.17 180.32,225.67 180.65,226.22 180.98,226.72 181.31,227.11 181.64,227.35 181.97,227.49 182.3,227.56 182.63,227.62 182.96,227.71 183.29,227.85 183.62,228.05 183.95,228.29 184.28,228.56 184.61,228.84 184.94,229.12 185.27,229.37 185.6,229.6 185.93,229.78 186.26,229.92 186.59,230.02 186.92,230.07 187.25,230.09 187.58,230.08 187.91,230.06 188.24,230.04 188.57,230.03 188.9,230.03 189.23,230.04 189.56,230.07 189.89,230.1 190.22,230.13 190.55,230.15 190.88,230.17 191.21,230.18 191.54,230.19 191.87,230.2 192.2,230.2 192.53,230.2 192.86,230.2 193.19,230.2 193.52,230.2 193.85,230.2 194.18,230.2 194.51,230.2 194.84,230.2 195.17,230.2 195.5,230.2 195.83,230.2 196.16,230.2 196.49,230.2 196.82,230.2 197.15,230.2 197.48,230.2 197.81,230.2 198.14,230.2 198.47,230.2 198.8,230.2 199.13,230.2 199.46,230.2 199.79,230.2 200.12,230.2 200.45,230.2 200.78,230.2 201.11,230.2 201.44,230.2 201.77,230.2 202.1,230.2 202.43,230.2 202.76,230.2 203.09,230.2 203.42,230.2 203.75,230.2 204.08,230.2 204.41,230.2 204.74,230.2 205.07,230.2 205.4,230.2 205.73,230.2 206.06,230.2 206.39,230.2 206.72,230.2 207.05,230.2 207.38,230.19 207.71,230.19 208.04,230.17 208.37,230.15 208.7,230.13 209.03,230.1 209.36,230.07 209.69,230.04 210.02,230.03 210.35,230.03 210.68,230.04 211.01,230.07 211.34,230.1 211.67,230.13 212,230.15 212.33,230.17 212.66,230.19 212.99,230.19 213.32,230.2 213.65,230.2 213.65,230.2 147.97,230.2" fill="#1f77b4" fill-opacity="0.25" stroke="#4f98d0" stroke-width="1.25" stroke-linejoin="round"/>
<path d="M142 137.4V230.2H222.8" class="sp"/>
<path d="M150.8 230.2v1.9M182.9 230.2v1.9M215 230.2v1.9M142 226.2h-1.9M142 205h-1.9M142 183.8h-1.9M142 162.6h-1.9M142 141.4h-1.9" class="tk"/>
<path d="M238.6 137.4V230.2H319.4" class="sp"/>
<path d="M245.7 230.2v1.9M284 230.2v1.9M238.6 226.2h-1.9M238.6 205h-1.9M238.6 183.8h-1.9M238.6 162.6h-1.9M238.6 141.4h-1.9" class="tk"/>
<path d="M335.2 137.4V230.2H416" class="sp"/>
<path d="M344.3 230.2v1.9M365.13 230.2v1.9M385.97 230.2v1.9M406.8 230.2v1.9M335.2 226.2h-1.9M335.2 205h-1.9M335.2 183.8h-1.9M335.2 162.6h-1.9M335.2 141.4h-1.9" class="tk"/>
<path d="M431.8 137.4V230.2H512.6" class="sp"/>
<path d="M442.2 230.2v1.9M463.23 230.2v1.9M484.27 230.2v1.9M505.3 230.2v1.9M431.8 226.2h-1.9M431.8 205h-1.9M431.8 183.8h-1.9M431.8 162.6h-1.9M431.8 141.4h-1.9" class="tk"/>
<text transform="translate(15.5 184.8) rotate(-90)" class="lb">MORTDUE</text>
<path d="M45.4 235.5V328.3H126.2" class="sp"/>
<path d="M54.1 328.3v1.9M89.85 328.3v1.9M125.6 328.3v1.9M45.4 325h-1.9M45.4 305.07h-1.9M45.4 285.15h-1.9M45.4 265.23h-1.9M45.4 245.3h-1.9" class="tk"/>
<text x="41.6" y="327" class="yt">0</text>
<text x="41.6" y="307.07" class="yt">200000</text>
<text x="41.6" y="287.15" class="yt">400000</text>
<text x="41.6" y="267.23" class="yt">600000</text>
<text x="41.6" y="247.3" class="yt">800000</text>
<path d="M142 235.5V328.3H222.8" class="sp"/>
<path d="M150.8 328.3v1.9M182.9 328.3v1.9M215 328.3v1.9M142 325h-1.9M142 305.07h-1.9M142 285.15h-1.9M142 265.23h-1.9M142 245.3h-1.9" class="tk"/>
<polygon points="242.31,328.29 242.67,328.27 243.04,328.24 243.41,328.18 243.77,328.08 244.14,327.91 244.51,327.66 244.87,327.29 245.24,326.8 245.61,326.18 245.97,325.42 246.34,324.52 246.71,323.48 247.07,322.31 247.44,321 247.81,319.56 248.17,318.01 248.54,316.41 248.91,314.81 249.27,313.3 249.64,311.99 250.01,310.95 250.37,310.23 250.74,309.84 251.11,309.75 251.47,309.91 251.84,310.26 252.21,310.74 252.57,311.33 252.94,312.03 253.31,312.83 253.67,313.74 254.04,314.75 254.41,315.83 254.77,316.93 255.14,318.02 255.51,319.04 255.87,319.97 256.24,320.8 256.61,321.5 256.97,322.1 257.34,322.59 257.71,323 258.07,323.36 258.44,323.69 258.81,324.02 259.17,324.35 259.54,324.7 259.91,325.05 260.27,325.38 260.64,325.7 261.01,325.99 261.37,326.23 261.74,326.45 262.11,326.63 262.47,326.78 262.84,326.9 263.21,326.99 263.57,327.07 263.94,327.13 264.31,327.19 264.67,327.26 265.04,327.34 265.41,327.43 265.77,327.53 266.14,327.63 266.51,327.72 266.87,327.79 267.24,327.86 267.61,327.91 267.97,327.95 268.34,327.99 268.71,328.02 269.07,328.05 269.44,328.06 269.81,328.08 270.17,328.09 270.54,328.1 270.9,328.11 271.27,328.12 271.64,328.14 272,328.14 272.37,328.14 272.74,328.13 273.1,328.11 273.47,328.1 273.84,328.09 274.2,328.1 274.57,328.11 274.94,328.13 275.3,328.15 275.67,328.17 276.04,328.19 276.4,328.2 276.77,328.2 277.14,328.21 277.5,328.21 277.87,328.22 278.24,328.23 278.6,328.24 278.97,328.25 279.34,328.27 279.7,328.28 280.07,328.29 280.44,328.29 280.8,328.29 281.17,328.29 281.54,328.29 281.9,328.28 282.27,328.27 282.64,328.26 283,328.24 283.37,328.22 283.74,328.2 284.1,328.19 284.47,328.18 284.84,328.18 285.2,328.19 285.57,328.2 285.94,328.22 286.3,328.24 286.67,328.26 287.04,328.27 287.4,328.28 287.77,328.29 288.14,328.3 288.5,328.3 288.87,328.3 289.24,328.3 289.6,328.3 289.97,328.3 290.34,328.3 290.7,328.3 291.07,328.3 291.44,328.3 291.8,328.3 292.17,328.3 292.54,328.3 292.9,328.3 293.27,328.3 293.64,328.3 294,328.3 294.37,328.3 294.74,328.3 295.1,328.3 295.47,328.3 295.84,328.3 296.2,328.3 296.57,328.3 296.94,328.3 297.3,328.3 297.67,328.3 298.04,328.3 298.4,328.3 298.77,328.3 299.14,328.3 299.5,328.3 299.87,328.3 300.24,328.3 300.6,328.3 300.97,328.3 301.34,328.3 301.7,328.3 302.07,328.3 302.44,328.3 302.8,328.3 303.17,328.3 303.54,328.3 303.9,328.3 304.27,328.3 304.64,328.3 305,328.3 305.37,328.3 305.74,328.3 306.1,328.3 306.47,328.3 306.84,328.3 307.2,328.3 307.57,328.3 307.94,328.29 308.3,328.29 308.67,328.28 309.04,328.26 309.4,328.24 309.77,328.23 310.14,328.21 310.5,328.19 310.87,328.18 311.24,328.18 311.6,328.18 311.97,328.2 312.34,328.22 312.7,328.24 313.07,328.26 313.44,328.27 313.8,328.28 314.17,328.29 314.54,328.3 314.9,328.3 315.27,328.3 315.27,328.3 242.31,328.3" fill="#ff7f0e" fill-opacity="0.25" stroke="#ff7f0e" stroke-width="1.25" stroke-linejoin="round"/>
<polygon points="244.2,328.27 244.4,328.22 244.6,328.13 244.8,327.96 245,327.67 245.2,327.22 245.4,326.57 245.59,325.71 245.79,324.68 245.99,323.54 246.19,322.38 246.39,321.31 246.59,320.39 246.79,319.63 246.99,318.97 247.19,318.3 247.39,317.45 247.59,316.23 247.78,314.46 247.98,311.98 248.18,308.66 248.38,304.45 248.58,299.41 248.78,293.7 248.98,287.58 249.18,281.35 249.38,275.37 249.58,269.92 249.77,265.22 249.97,261.33 250.17,258.15 250.37,255.5 250.57,253.1 250.77,250.75 250.97,248.31 251.17,245.83 251.37,243.49 251.57,241.56 251.77,240.31 251.96,239.92 252.16,240.48 252.36,241.94 252.56,244.17 252.76,246.99 252.96,250.2 253.16,253.59 253.36,256.99 253.56,260.28 253.76,263.38 253.96,266.32 254.15,269.14 254.35,271.96 254.55,274.86 254.75,277.89 254.95,281.03 255.15,284.24 255.35,287.43 255.55,290.5 255.75,293.36 255.95,295.94 256.14,298.21 256.34,300.14 256.54,301.76 256.74,303.1 256.94,304.21 257.14,305.17 257.34,306.04 257.54,306.85 257.74,307.64 257.94,308.41 258.14,309.15 258.33,309.86 258.53,310.56 258.73,311.27 258.93,312.01 259.13,312.79 259.33,313.57 259.53,314.34 259.73,315.05 259.93,315.7 260.13,316.3 260.32,316.88 260.52,317.49 260.72,318.15 260.92,318.88 261.12,319.65 261.32,320.45 261.52,321.25 261.72,322.02 261.92,322.73 262.12,323.36 262.32,323.88 262.51,324.27 262.71,324.54 262.91,324.7 263.11,324.79 263.31,324.85 263.51,324.88 263.71,324.9 263.91,324.9 264.11,324.87 264.31,324.82 264.51,324.75 264.7,324.71 264.9,324.73 265.1,324.83 265.3,325.01 265.5,325.25 265.7,325.52 265.9,325.78 266.1,326 266.3,326.17 266.5,326.3 266.69,326.41 266.89,326.51 267.09,326.62 267.29,326.74 267.49,326.86 267.69,326.97 267.89,327.07 268.09,327.16 268.29,327.24 268.49,327.32 268.69,327.41 268.88,327.5 269.08,327.59 269.28,327.66 269.48,327.7 269.68,327.71 269.88,327.71 270.08,327.7 270.28,327.71 270.48,327.75 270.68,327.82 270.87,327.91 271.07,328 271.27,328.09 271.47,328.16 271.67,328.22 271.87,328.25 272.07,328.27 272.27,328.27 272.47,328.27 272.67,328.25 272.87,328.23 273.06,328.2 273.26,328.18 273.46,328.16 273.66,328.14 273.86,328.14 274.06,328.16 274.26,328.18 274.46,328.2 274.66,328.23 274.86,328.25 275.06,328.27 275.25,328.28 275.45,328.29 275.65,328.3 275.85,328.3 276.05,328.3 276.25,328.3 276.45,328.3 276.65,328.3 276.85,328.3 277.05,328.3 277.24,328.3 277.44,328.3 277.64,328.3 277.84,328.3 278.04,328.3 278.24,328.3 278.44,328.3 278.64,328.3 278.84,328.3 279.04,328.3 279.24,328.3 279.43,328.3 279.63,328.3 279.83,328.29 280.03,328.29 280.23,328.28 280.43,328.26 280.63,328.24 280.83,328.22 281.03,328.19 281.23,328.17 281.42,328.15 281.62,328.14 281.82,328.15 282.02,328.17 282.22,328.19 282.42,328.22 282.62,328.24 282.82,328.26 283.02,328.28 283.22,328.29 283.42,328.29 283.61,328.3 283.81,328.3 283.81,328.3 244.2,328.3" fill="#1f77b4" fill-opacity="0.25" stroke="#4f98d0" stroke-width="1.25" stroke-linejoin="round"/>
<path d="M238.6 235.5V328.3H319.4" class="sp"/>
<path d="M245.7 328.3v1.9M284 328.3v1.9M238.6 325h-1.9M238.6 305.07h-1.9M238.6 285.15h-1.9M238.6 265.23h-1.9M238.6 245.3h-1.9" class="tk"/>
<path d="M335.2 235.5V328.3H416" class="sp"/>
<path d="M344.3 328.3v1.9M365.13 328.3v1.9M385.97 328.3v1.9M406.8 328.3v1.9M335.2 325h-1.9M335.2 305.07h-1.9M335.2 285.15h-1.9M335.2 265.23h-1.9M335.2 245.3h-1.9" class="tk"/>
<path d="M431.8 235.5V328.3H512.6" class="sp"/>
<path d="M442.2 328.3v1.9M463.23 328.3v1.9M484.27 328.3v1.9M505.3 328.3v1.9M431.8 325h-1.9M431.8 305.07h-1.9M431.8 285.15h-1.9M431.8 265.23h-1.9M431.8 245.3h-1.9" class="tk"/>
<text transform="translate(14.3 282.6) rotate(-90)" class="lb">VALUE</text>
<path d="M45.4 333.6V426.4H126.2" class="sp"/>
<path d="M54.1 426.4v1.9M89.85 426.4v1.9M125.6 426.4v1.9M45.4 422.2h-1.9M45.4 408.13h-1.9M45.4 394.07h-1.9M45.4 380h-1.9M45.4 365.93h-1.9M45.4 351.87h-1.9M45.4 337.8h-1.9" class="tk"/>
<text x="41.6" y="424.2" class="yt">0.0</text>
<text x="41.6" y="410.13" class="yt">2.5</text>
<text x="41.6" y="396.07" class="yt">5.0</text>
<text x="41.6" y="382" class="yt">7.5</text>
<text x="41.6" y="367.93" class="yt">10.0</text>
<text x="41.6" y="353.87" class="yt">12.5</text>
<text x="41.6" y="339.8" class="yt">15.0</text>
<path d="M142 333.6V426.4H222.8" class="sp"/>
<path d="M150.8 426.4v1.9M182.9 426.4v1.9M215 426.4v1.9M142 422.2h-1.9M142 408.13h-1.9M142 394.07h-1.9M142 380h-1.9M142 365.93h-1.9M142 351.87h-1.9M142 337.8h-1.9" class="tk"/>
<path d="M238.6 333.6V426.4H319.4" class="sp"/>
<path d="M245.7 426.4v1.9M284 426.4v1.9M238.6 422.2h-1.9M238.6 408.13h-1.9M238.6 394.07h-1.9M238.6 380h-1.9M238.6 365.93h-1.9M238.6 351.87h-1.9M238.6 337.8h-1.9" class="tk"/>
<polygon points="338.03,426.36 338.41,426.33 338.79,426.29 339.16,426.22 339.54,426.12 339.92,425.99 340.29,425.81 340.67,425.58 341.05,425.3 341.42,424.96 341.8,424.59 342.18,424.18 342.56,423.77 342.93,423.38 343.31,423.03 343.69,422.75 344.06,422.57 344.44,422.48 344.82,422.49 345.2,422.58 345.57,422.74 345.95,422.95 346.33,423.18 346.7,423.4 347.08,423.62 347.46,423.82 347.83,424 348.21,424.16 348.59,424.3 348.97,424.45 349.34,424.58 349.72,424.72 350.1,424.84 350.47,424.96 350.85,425.07 351.23,425.16 351.61,425.24 351.98,425.31 352.36,425.37 352.74,425.42 353.11,425.47 353.49,425.51 353.87,425.55 354.25,425.59 354.62,425.62 355,425.64 355.38,425.66 355.75,425.68 356.13,425.69 356.51,425.7 356.88,425.71 357.26,425.72 357.64,425.74 358.02,425.75 358.39,425.77 358.77,425.78 359.15,425.79 359.52,425.8 359.9,425.8 360.28,425.81 360.66,425.81 361.03,425.82 361.41,425.84 361.79,425.86 362.16,425.88 362.54,425.9 362.92,425.92 363.3,425.94 363.67,425.95 364.05,425.97 364.43,425.98 364.8,426 365.18,426.01 365.56,426.03 365.93,426.04 366.31,426.06 366.69,426.08 367.07,426.1 367.44,426.12 367.82,426.13 368.2,426.15 368.57,426.16 368.95,426.17 369.33,426.17 369.71,426.18 370.08,426.19 370.46,426.2 370.84,426.2 371.21,426.21 371.59,426.21 371.97,426.22 372.34,426.22 372.72,426.22 373.1,426.23 373.48,426.23 373.85,426.24 374.23,426.25 374.61,426.25 374.98,426.27 375.36,426.28 375.74,426.29 376.12,426.29 376.49,426.3 376.87,426.31 377.25,426.32 377.62,426.33 378,426.33 378.38,426.34 378.76,426.35 379.13,426.35 379.51,426.36 379.89,426.37 380.26,426.37 380.64,426.38 381.02,426.38 381.39,426.39 381.77,426.39 382.15,426.39 382.53,426.39 382.9,426.39 383.28,426.39 383.66,426.39 384.03,426.39 384.41,426.39 384.79,426.39 385.17,426.39 385.54,426.39 385.92,426.38 386.3,426.38 386.67,426.38 387.05,426.38 387.43,426.38 387.8,426.38 388.18,426.38 388.56,426.38 388.94,426.38 389.31,426.38 389.69,426.38 390.07,426.38 390.44,426.38 390.82,426.38 391.2,426.38 391.58,426.39 391.95,426.39 392.33,426.39 392.71,426.39 393.08,426.39 393.46,426.39 393.84,426.39 394.22,426.39 394.59,426.39 394.97,426.39 395.35,426.39 395.72,426.39 396.1,426.39 396.48,426.39 396.85,426.39 397.23,426.39 397.61,426.39 397.99,426.39 398.36,426.39 398.74,426.39 399.12,426.39 399.49,426.39 399.87,426.39 400.25,426.4 400.63,426.4 401,426.4 401.38,426.4 401.76,426.4 402.13,426.4 402.51,426.4 402.89,426.4 403.27,426.4 403.64,426.4 404.02,426.4 404.4,426.4 404.77,426.4 405.15,426.39 405.53,426.39 405.9,426.39 406.28,426.39 406.66,426.39 407.04,426.39 407.41,426.39 407.79,426.39 408.17,426.39 408.54,426.4 408.92,426.4 409.3,426.4 409.68,426.4 410.05,426.4 410.43,426.4 410.81,426.4 411.18,426.4 411.56,426.4 411.94,426.4 412.31,426.4 412.69,426.4 413.07,426.4 413.07,426.4 338.03,426.4" fill="#ff7f0e" fill-opacity="0.25" stroke="#ff7f0e" stroke-width="1.25" stroke-linejoin="round"/>
<polygon points="342.6,425.42 342.75,424.37 342.89,422.47 343.03,419.25 343.18,414.2 343.32,406.86 343.46,397.05 343.6,385.04 343.75,371.72 343.89,358.56 344.03,347.43 344.17,340.15 344.32,338.02 344.46,341.43 344.6,349.75 344.74,361.52 344.89,374.88 345.03,388.01 345.17,399.57 345.32,408.8 345.46,415.57 345.6,420.15 345.74,423.01 345.89,424.68 346.03,425.58 346.17,426.03 346.31,426.24 346.46,426.32 346.6,426.33 346.74,426.29 346.88,426.19 347.03,425.99 347.17,425.64 347.31,425.09 347.46,424.27 347.6,423.16 347.74,421.78 347.88,420.21 348.03,418.61 348.17,417.22 348.31,416.24 348.45,415.85 348.6,416.12 348.74,417.01 348.88,418.35 349.02,419.92 349.17,421.51 349.31,422.94 349.45,424.1 349.6,424.96 349.74,425.56 349.88,425.94 350.02,426.16 350.17,426.28 350.31,426.35 350.45,426.38 350.59,426.39 350.74,426.38 350.88,426.37 351.02,426.33 351.16,426.27 351.31,426.15 351.45,425.96 351.59,425.68 351.74,425.29 351.88,424.79 352.02,424.21 352.16,423.62 352.31,423.07 352.45,422.67 352.59,422.48 352.73,422.53 352.88,422.81 353.02,423.28 353.16,423.86 353.3,424.46 353.45,425.01 353.59,425.46 353.73,425.81 353.88,426.05 354.02,426.2 354.16,426.3 354.3,426.35 354.45,426.38 354.59,426.39 354.73,426.4 354.87,426.4 355.02,426.39 355.16,426.39 355.3,426.38 355.44,426.36 355.59,426.33 355.73,426.28 355.87,426.21 356.02,426.12 356.16,426.01 356.3,425.9 356.44,425.79 356.59,425.71 356.73,425.67 356.87,425.67 357.01,425.71 357.16,425.79 357.3,425.9 357.44,426.01 357.58,426.12 357.73,426.21 357.87,426.28 358.01,426.33 358.16,426.36 358.3,426.38 358.44,426.39 358.58,426.39 358.73,426.4 358.87,426.4 359.01,426.4 359.15,426.39 359.3,426.39 359.44,426.37 359.58,426.35 359.72,426.3 359.87,426.24 360.01,426.14 360.15,426.02 360.3,425.87 360.44,425.71 360.58,425.55 360.72,425.42 360.87,425.34 361.01,425.33 361.15,425.38 361.29,425.49 361.44,425.64 361.58,425.8 361.72,425.96 361.86,426.1 362.01,426.2 362.15,426.28 362.29,426.33 362.44,426.36 362.58,426.38 362.72,426.39 362.86,426.4 363.01,426.4 363.15,426.4 363.29,426.4 363.43,426.4 363.58,426.39 363.72,426.38 363.86,426.37 364,426.35 364.15,426.32 364.29,426.28 364.43,426.23 364.58,426.18 364.72,426.13 364.86,426.08 365,426.05 365.15,426.04 365.29,426.06 365.43,426.09 365.57,426.14 365.72,426.19 365.86,426.24 366,426.29 366.14,426.33 366.29,426.36 366.43,426.37 366.57,426.39 366.72,426.39 366.86,426.4 367,426.4 367.14,426.4 367.29,426.4 367.43,426.4 367.57,426.4 367.71,426.4 367.86,426.4 368,426.4 368.14,426.39 368.28,426.39 368.43,426.38 368.57,426.38 368.71,426.37 368.86,426.36 369,426.36 369.14,426.35 369.28,426.35 369.43,426.35 369.57,426.35 369.71,426.36 369.85,426.37 370,426.38 370.14,426.38 370.28,426.39 370.42,426.39 370.57,426.4 370.71,426.4 370.85,426.4 371,426.4 371,426.4 342.6,426.4" fill="#1f77b4" fill-opacity="0.25" stroke="#4f98d0" stroke-width="1.25" stroke-linejoin="round"/>
<path d="M335.2 333.6V426.4H416" class="sp"/>
<path d="M344.3 426.4v1.9M365.13 426.4v1.9M385.97 426.4v1.9M406.8 426.4v1.9M335.2 422.2h-1.9M335.2 408.13h-1.9M335.2 394.07h-1.9M335.2 380h-1.9M335.2 365.93h-1.9M335.2 351.87h-1.9M335.2 337.8h-1.9" class="tk"/>
<path d="M431.8 333.6V426.4H512.6" class="sp"/>
<path d="M442.2 426.4v1.9M463.23 426.4v1.9M484.27 426.4v1.9M505.3 426.4v1.9M431.8 422.2h-1.9M431.8 408.13h-1.9M431.8 394.07h-1.9M431.8 380h-1.9M431.8 365.93h-1.9M431.8 351.87h-1.9M431.8 337.8h-1.9" class="tk"/>
<text transform="translate(24.5 380.7) rotate(-90)" class="lb">DELINQ</text>
<path d="M45.4 431.7V524.5H126.2" class="sp"/>
<path d="M54.1 524.5v1.9M89.85 524.5v1.9M125.6 524.5v1.9M45.4 520.3h-1.9M45.4 508.4h-1.9M45.4 496.5h-1.9M45.4 484.6h-1.9M45.4 472.7h-1.9M45.4 460.8h-1.9M45.4 448.9h-1.9M45.4 437h-1.9" class="tk"/>
<text x="41.6" y="522.3" class="yt">0</text>
<text x="41.6" y="510.4" class="yt">10</text>
<text x="41.6" y="498.5" class="yt">20</text>
<text x="41.6" y="486.6" class="yt">30</text>
<text x="41.6" y="474.7" class="yt">40</text>
<text x="41.6" y="462.8" class="yt">50</text>
<text x="41.6" y="450.9" class="yt">60</text>
<text x="41.6" y="439" class="yt">70</text>
<text x="54.1" y="533.2" class="xt">0</text>
<text x="89.85" y="533.2" class="xt">50000</text>
<text x="125.6" y="533.2" class="xt">100000</text>
<text x="85.8" y="543.7" class="lb">LOAN</text>
<path d="M142 431.7V524.5H222.8" class="sp"/>
<path d="M150.8 524.5v1.9M182.9 524.5v1.9M215 524.5v1.9M142 520.3h-1.9M142 508.4h-1.9M142 496.5h-1.9M142 484.6h-1.9M142 472.7h-1.9M142 460.8h-1.9M142 448.9h-1.9M142 437h-1.9" class="tk"/>
<text x="150.8" y="533.2" class="xt">0</text>
<text x="182.9" y="533.2" class="xt">200000</text>
<text x="215" y="533.2" class="xt">400000</text>
<text x="182.4" y="543.7" class="lb">MORTDUE</text>
<path d="M238.6 431.7V524.5H319.4" class="sp"/>
<path d="M245.7 524.5v1.9M284 524.5v1.9M238.6 520.3h-1.9M238.6 508.4h-1.9M238.6 496.5h-1.9M238.6 484.6h-1.9M238.6 472.7h-1.9M238.6 460.8h-1.9M238.6 448.9h-1.9M238.6 437h-1.9" class="tk"/>
<text x="245.7" y="533.2" class="xt">0</text>
<text x="284" y="533.2" class="xt">500000</text>
<text x="279" y="543.7" class="lb">VALUE</text>
<path d="M335.2 431.7V524.5H416" class="sp"/>
<path d="M344.3 524.5v1.9M365.13 524.5v1.9M385.97 524.5v1.9M406.8 524.5v1.9M335.2 520.3h-1.9M335.2 508.4h-1.9M335.2 496.5h-1.9M335.2 484.6h-1.9M335.2 472.7h-1.9M335.2 460.8h-1.9M335.2 448.9h-1.9M335.2 437h-1.9" class="tk"/>
<text x="344.3" y="533.2" class="xt">0</text>
<text x="365.13" y="533.2" class="xt">5</text>
<text x="385.97" y="533.2" class="xt">10</text>
<text x="406.8" y="533.2" class="xt">15</text>
<text x="375.6" y="543.7" class="lb">DELINQ</text>
<polygon points="435.05,524.48 435.42,524.47 435.79,524.45 436.17,524.43 436.54,524.39 436.91,524.34 437.28,524.28 437.65,524.19 438.03,524.09 438.4,523.96 438.77,523.8 439.14,523.62 439.51,523.42 439.89,523.2 440.26,522.96 440.63,522.71 441,522.46 441.37,522.21 441.75,521.96 442.12,521.73 442.49,521.51 442.86,521.3 443.23,521.09 443.61,520.88 443.98,520.67 444.35,520.44 444.72,520.19 445.09,519.91 445.47,519.61 445.84,519.26 446.21,518.88 446.58,518.47 446.95,518.03 447.33,517.56 447.7,517.07 448.07,516.56 448.44,516.05 448.82,515.53 449.19,515.02 449.56,514.51 449.93,514.02 450.3,513.54 450.68,513.07 451.05,512.62 451.42,512.17 451.79,511.74 452.16,511.31 452.54,510.88 452.91,510.44 453.28,510.01 453.65,509.57 454.02,509.12 454.4,508.69 454.77,508.26 455.14,507.86 455.51,507.49 455.88,507.15 456.26,506.88 456.63,506.65 457,506.5 457.37,506.4 457.74,506.37 458.12,506.4 458.49,506.49 458.86,506.62 459.23,506.79 459.6,506.99 459.98,507.21 460.35,507.45 460.72,507.7 461.09,507.95 461.46,508.21 461.84,508.48 462.21,508.75 462.58,509.02 462.95,509.3 463.32,509.59 463.7,509.89 464.07,510.2 464.44,510.51 464.81,510.84 465.18,511.18 465.56,511.53 465.93,511.89 466.3,512.27 466.67,512.65 467.04,513.04 467.42,513.43 467.79,513.83 468.16,514.23 468.53,514.63 468.91,515.02 469.28,515.41 469.65,515.79 470.02,516.16 470.39,516.53 470.77,516.89 471.14,517.24 471.51,517.58 471.88,517.9 472.25,518.22 472.63,518.52 473,518.8 473.37,519.06 473.74,519.31 474.11,519.55 474.49,519.76 474.86,519.96 475.23,520.16 475.6,520.34 475.97,520.51 476.35,520.68 476.72,520.84 477.09,521.01 477.46,521.17 477.83,521.33 478.21,521.48 478.58,521.63 478.95,521.78 479.32,521.91 479.69,522.03 480.07,522.13 480.44,522.22 480.81,522.29 481.18,522.36 481.55,522.41 481.93,522.46 482.3,522.5 482.67,522.55 483.04,522.6 483.41,522.66 483.79,522.74 484.16,522.82 484.53,522.91 484.9,523.02 485.27,523.12 485.65,523.23 486.02,523.34 486.39,523.45 486.76,523.54 487.13,523.63 487.51,523.71 487.88,523.78 488.25,523.84 488.62,523.89 489,523.93 489.37,523.96 489.74,523.99 490.11,524.02 490.48,524.04 490.86,524.07 491.23,524.09 491.6,524.11 491.97,524.12 492.34,524.14 492.72,524.15 493.09,524.16 493.46,524.17 493.83,524.18 494.2,524.19 494.58,524.19 494.95,524.2 495.32,524.2 495.69,524.2 496.06,524.21 496.44,524.21 496.81,524.22 497.18,524.23 497.55,524.24 497.92,524.25 498.3,524.27 498.67,524.28 499.04,524.29 499.41,524.3 499.78,524.31 500.16,524.32 500.53,524.33 500.9,524.34 501.27,524.34 501.64,524.35 502.02,524.36 502.39,524.37 502.76,524.38 503.13,524.39 503.5,524.4 503.88,524.41 504.25,524.42 504.62,524.44 504.99,524.45 505.36,524.46 505.74,524.47 506.11,524.47 506.48,524.48 506.85,524.49 507.22,524.49 507.6,524.49 507.97,524.5 508.34,524.5 508.71,524.5 509.08,524.5 509.08,524.5 435.05,524.5" fill="#ff7f0e" fill-opacity="0.25" stroke="#ff7f0e" stroke-width="1.25" stroke-linejoin="round"/>
<polygon points="437.78,524.49 438.08,524.49 438.39,524.48 438.69,524.46 438.99,524.44 439.29,524.4 439.6,524.35 439.9,524.28 440.2,524.19 440.5,524.07 440.8,523.94 441.11,523.78 441.41,523.6 441.71,523.41 442.01,523.21 442.32,523 442.62,522.76 442.92,522.48 443.22,522.16 443.53,521.76 443.83,521.26 444.13,520.66 444.43,519.96 444.73,519.16 445.04,518.29 445.34,517.37 445.64,516.45 445.94,515.54 446.25,514.67 446.55,513.84 446.85,513.01 447.15,512.17 447.46,511.25 447.76,510.22 448.06,509.02 448.36,507.63 448.66,506.05 448.97,504.29 449.27,502.38 449.57,500.37 449.87,498.31 450.18,496.24 450.48,494.2 450.78,492.21 451.08,490.27 451.39,488.35 451.69,486.43 451.99,484.47 452.29,482.43 452.59,480.28 452.9,478 453.2,475.57 453.5,473.02 453.8,470.35 454.11,467.6 454.41,464.8 454.71,462.02 455.01,459.31 455.32,456.73 455.62,454.34 455.92,452.18 456.22,450.27 456.52,448.61 456.83,447.17 457.13,445.88 457.43,444.69 457.73,443.51 458.04,442.31 458.34,441.07 458.64,439.81 458.94,438.6 459.25,437.53 459.55,436.7 459.85,436.21 460.15,436.12 460.45,436.45 460.76,437.2 461.06,438.33 461.36,439.76 461.66,441.44 461.97,443.32 462.27,445.33 462.57,447.45 462.87,449.64 463.18,451.87 463.48,454.1 463.78,456.29 464.08,458.4 464.38,460.4 464.69,462.28 464.99,464.03 465.29,465.67 465.59,467.2 465.9,468.65 466.2,470.05 466.5,471.39 466.8,472.68 467.1,473.93 467.41,475.14 467.71,476.32 468.01,477.49 468.31,478.66 468.62,479.86 468.92,481.08 469.22,482.33 469.52,483.6 469.83,484.88 470.13,486.17 470.43,487.48 470.73,488.83 471.03,490.24 471.34,491.74 471.64,493.33 471.94,494.98 472.24,496.64 472.55,498.25 472.85,499.76 473.15,501.11 473.45,502.27 473.76,503.27 474.06,504.14 474.36,504.94 474.66,505.74 474.96,506.61 475.27,507.58 475.57,508.66 475.87,509.84 476.17,511.08 476.48,512.33 476.78,513.52 477.08,514.62 477.38,515.58 477.69,516.38 477.99,517.01 478.29,517.48 478.59,517.8 478.89,517.99 479.2,518.06 479.5,518.03 479.8,517.89 480.1,517.67 480.41,517.37 480.71,517.01 481.01,516.62 481.31,516.21 481.62,515.83 481.92,515.51 482.22,515.3 482.52,515.21 482.82,515.29 483.13,515.54 483.43,515.96 483.73,516.54 484.03,517.23 484.34,518.01 484.64,518.82 484.94,519.63 485.24,520.4 485.55,521.1 485.85,521.73 486.15,522.28 486.45,522.74 486.75,523.13 487.06,523.44 487.36,523.68 487.66,523.86 487.96,523.99 488.27,524.07 488.57,524.11 488.87,524.13 489.17,524.12 489.48,524.11 489.78,524.1 490.08,524.09 490.38,524.09 490.68,524.1 490.99,524.11 491.29,524.13 491.59,524.15 491.89,524.16 492.2,524.17 492.5,524.17 492.8,524.17 493.1,524.18 493.4,524.19 493.71,524.2 494.01,524.22 494.31,524.25 494.61,524.28 494.92,524.32 495.22,524.35 495.52,524.39 495.82,524.42 496.13,524.44 496.43,524.46 496.73,524.47 497.03,524.48 497.33,524.49 497.64,524.49 497.94,524.5 497.94,524.5 437.78,524.5" fill="#1f77b4" fill-opacity="0.25" stroke="#4f98d0" stroke-width="1.25" stroke-linejoin="round"/>
<path d="M431.8 431.7V524.5H512.6" class="sp"/>
<path d="M442.2 524.5v1.9M463.23 524.5v1.9M484.27 524.5v1.9M505.3 524.5v1.9M431.8 520.3h-1.9M431.8 508.4h-1.9M431.8 496.5h-1.9M431.8 484.6h-1.9M431.8 472.7h-1.9M431.8 460.8h-1.9M431.8 448.9h-1.9M431.8 437h-1.9" class="tk"/>
<text x="442.2" y="533.2" class="xt">0</text>
<text x="463.23" y="533.2" class="xt">25</text>
<text x="484.27" y="533.2" class="xt">50</text>
<text x="505.3" y="533.2" class="xt">75</text>
<text x="472.2" y="543.7" class="lb">CLNO</text>
<text transform="translate(30 478.8) rotate(-90)" class="lb">CLNO</text>
<text x="532" y="285" class="lg" text-anchor="middle">BAD</text>
<circle cx="528.1" cy="292.7" r="1.9" fill="#1f77b4" stroke="#fff" stroke-width="0.26"/>
<circle cx="528.1" cy="301.2" r="1.9" fill="#ff7f0e" stroke="#fff" stroke-width="0.26"/>
<text x="538.8" y="294" class="lg">0</text>
<text x="538.8" y="302.5" class="lg">1</text>
</g>
</svg></div>
<script>
(function(){
var ENC=["AAAXAhAlAlAqAqAvA4BBBGBLBLBUBUBYBYBYBdBiBiBmBrB0B0B5B5B5B+B+B+CCCCCCCHCHCHCMCQCQCQCQCQCVCVCVCVCVCaCaCaCaCeCeCeCeCeCeCjCjCjCoCoCoCsCsCsCsCsCsCsCsCsCsCsCsCxCxCxCxC2C2C2C6C6C6C6C6C6C6C6C/C/C/C/C/C/C/C/C/C/DEDEDEDEDEDEDEDIDIDIDIDIDIDIDIDIDIDIDIDIDIDNDNDNDNDNDNDNDNDNDNDNDNDNDNDNDNDSDSDSDSDSDSDSDSDSDSDSDSDWDWDWDWDWDWDWDWDWDWDbDbDbDbDbDbDbDbDbDbDbDgDgDgDgDgDgDgDgDgDgDgDgDgDkDkDkDkDkDkDkDkDkDkDkDkDpDpDpDpDpDpDpDpDpDpDpDpDpDuDuDuDuDuDuDuDuDuDuDuDuDuDuDyDyDyDyDyDyDyDyDyDyDyDyD3D3D3D3D3D3D3D3D3D3D3D3D3D3D3D3D8D8D8D8D8D8D8D8D8D8D8D8D8D8D8D8EAEAEAEAEAEAEAEAEAEAEAEAEAEFEFEFEFEFEFEFEFEJEJEJEJEJEJEJEJEJEJEJEJEJEJEJEOEOEOEOEOEOEOEOEOEOEOEOEOEOEOEOETETETETETETETETETETETETETETEXEXEXEXEXEXEXEXEXEXEXEXEXEXEXEXEXEXEXEXEXEXEXEXEXEXEXEcEcEcEcEcEcEcEcEcEcEcEcEcEcEcEcEcEcEcEcEcEcEhEhEhEhEhEhEhEhEhEhEhEhEhEhEhEhEhEhEhEhEhEhElElElElElElElElElElElElElElElElElEqEqEqEqEqEqEqEqEqEqEqEqEqEqEqEqEqEqEqEqEqEvEvEvEvEvEvEvEvEvEvEvEvEvEvEvEvEvEvEvEvEvEvEvEvEvEvEzEzEzEzEzEzEzEzEzEzEzEzEzEzEzEzEzEzEzEzEzEzEzEzEzEzEzE4E4E4E4E4E4E4E4E4E4E4E4E4E4E4E4E4E4E4E4E4E4E4E4E4E4E9E9E9E9E9E9E9E9E9E9E9E9E9E9E9E9E9E9FBFBFBFBFBFBFBFBFBFBFBFBFBFBFBFBFBFBFBFBFGFGFGFGFGFGFGFGFGFGFGFGFGFGFGFGFGFGFGFGFGFGFGFGFGFGFGFLFLFLFLFLFLFLFLFLFLFLFLFLFLFLFLFLFLFLFLFLFLFLFLFLFLFLFLFLFLFLFLFLFPFPFPFPFPFPFPFPFPFPFPFPFPFPFPFPFPFPFPFPFPFPFPFPFUFUFUFUFUFUFUFUFUFUFUFUFUFUFUFUFUFUFUFUFUFUFUFUFUFUFUFUFZFZFZFZFZFZFZFZFZFZFZFZFZFZFZFZFZFZFZFZFZFZFZFZFZFZFZFZFZFZFZFZFZFZFdFdFdFdFdFdFdFdFdFdFdFdFdFdFdFdFdFdFdFdFdFdFdFdFdFdFdFdFdFdFdFdFdFiFiFiFiFiFiFiFiFiFiFiFiFiFiFiFiFiFiFiFiFiFiFiFiFiFiFiFnFnFnFnFnFnFnFnFnFnFnFnFnFnFnFnFnFnFnFnFnFnFnFnFnFnFnFnFnFnFnFnFnFnFrFrFrFrFrFrFrFrFrFrFrFrFrFrFrFrFrFrFrFrFrFrFrFrFrFrFrFrFrFrFrFrFwFwFwFwFwFwFwFwFwFwFwFwFwFwFwFwFwFwFwFwFwFwF1F1F1F1F1F1F1F1F1F1F1F1F1F1F1F1F1F1F1F1F1F1F1F1F1F1F1F1F1F1F1F1F1F1F1F1F1F1F1F5F5F5F5F5F5F5F5F5F5F5F5F5F5F5F5F5F5F5F5F5F5F5F5F5F5F5F5F+F+F+F+F+F+F+F+F+F+F+F+F+F+F+F+F+F+F+F+F+F+F+F+GDGDGDGDGDGDGDGDGDGDGDGDGDGDGDGDGDGDGDGDGDGDGDGDGDGDGDGDGDGDGDGDGDGDGHGHGHGHGHGHGHGHGHGHGHGHGHGHGHGHGHGHGHGHGHGHGHGHGHGHGHGHGHGHGHGHGHGHGHGHGMGMGMGMGMGMGMGMGMGMGMGMGMGMGMGMGMGMGMGMGMGMGMGMGMGMGMGMGMGMGRGRGRGRGRGRGRGRGRGRGRGRGRGRGRGRGRGRGRGRGRGRGRGVGVGVGVGVGVGVGVGVGVGVGVGVGVGVGVGVGVGVGVGVGVGVGVGVGVGVGVGVGVGVGVGVGVGaGaGaGaGaGaGaGaGaGaGaGaGaGaGaGaGaGaGaGaGaGaGaGaGaGaGaGaGaGaGaGaGaGaGaGaGaGaGaGaGaGfGfGfGfGfGfGfGfGfGfGfGfGfGfGfGfGfGfGfGfGfGfGfGfGfGfGfGfGfGjGjGjGjGjGjGjGjGjGjGjGjGjGjGjGjGjGjGjGjGjGjGjGjGjGjGjGjGjGjGjGjGjGoGoGoGoGoGoGoGoGoGoGoGoGoGoGoGoGoGoGoGoGoGoGoGoGoGoGoGoGoGoGoGsGsGsGsGsGsGsGsGsGsGsGsGsGsGsGsGsGsGsGsGsGsGsGsGsGsGxGxGxGxGxGxGxGxGxGxGxGxGxGxGxGxGxGxGxGxGxGxGxGxGxGxGxGxGxGxGxGxGxGxGxGxG2G2G2G2G2G2G2G2G2G2G2G2G2G2G2G2G2G2G2G2G2G2G2G2G2G2G2G2G2G2G2G2G2G2G2G2G6G6G6G6G6G6G6G6G6G6G6G6G6G6G6G6G6G6G6G6G6G6G6G6G6G6G6G6G6G6G6G6G6G6G6G6G6G6G6G/G/G/G/G/G/G/G/G/G/G/G/G/G/G/G/G/G/G/G/G/G/G/G/G/G/G/G/G/G/HEHEHEHEHEHEHEHEHEHEHEHEHEHEHEHEHEHEHEHEHEHEHEHEHEHEHEHEHEHEHIHIHIHIHIHIHIHIHIHIHIHIHIHIHIHIHIHIHIHIHIHIHIHIHIHIHNHNHNHNHNHNHNHNHNHNHNHNHNHNHNHNHNHNHNHNHNHNHNHNHNHNHNHNHSHSHSHSHSHSHSHSHSHSHSHSHSHSHSHSHSHSHSHSHSHSHSHSHSHSHSHSHSHSHSHSHSHSHWHWHWHWHWHWHWHWHWHWHWHWHWHWHWHWHWHWHWHWHWHWHWHbHbHbHbHbHbHbHbHbHbHbHbHbHbHbHbHbHbHbHbHbHbHbHbHbHbHbHbHbHbHbHgHgHgHgHgHgHgHgHgHgHgHgHgHgHgHgHgHgHgHgHgHgHgHgHgHgHgHgHgHkHkHkHkHkHkHkHkHkHkHkHkHkHkHkHkHkHkHkHkHkHkHkHkHkHkHkHkHkHkHkHkHkHkHkHkHpHpHpHpHpHpHpHpHpHpHpHpHpHpHpHpHpHpHpHpHpHpHpHpHpHpHpHpHuHuHuHuHuHuHuHuHuHuHuHuHuHuHuHuHuHuHuHuHuHuHuHuHuHuHuHuHyHyHyHyHyHyHyHyHyHyHyHyHyHyHyHyHyHyHyHyHyHyHyHyHyH3H3H3H3H3H3H3H3H3H3H3H3H3H3H3H3H3H3H3H3H3H3H3H3H3H8H8H8H8H8H8H8H8H8H8H8H8H8H8H8H8H8H8H8H8H8IAIAIAIAIAIAIAIAIAIAIAIAIAIAIAIAIAIAIAIAIAIAIAIAIAIAIAIAIAIAIAIAIAIAIAIAIAIAIAIFIFIFIFIFIFIFIFIFIFIFIFIFIFIFIFIFIFIFIFIFIFIFIKIKIKIKIKIKIKIKIKIKIKIKIKIKIKIKIKIKIKIKIKIKIKIKIKIKIKIKIKIOIOIOIOIOIOIOIOIOIOIOIOIOIOIOIOIOIOIOITITITITITITITITITITITITITITITITITITITITITITITITITITITITITITIYIYIYIYIYIYIYIYIYIYIYIYIYIYIYIYIYIYIYIYIYIYIYIYIYIYIYIYIYIYIYIYIYIYIYIYIYIYIcIcIcIcIcIcIcIcIcIcIcIcIcIcIcIcIcIcIcIcIcIcIcIcIcIcIcIcIhIhIhIhIhIhIhIhIhIhIhIhIhIhIhIhIhIhIhIhIhIhIhIhIhIhIhIhIhIhIhImImImImImImImImImImImImImImImImImImImImImImImImImImImImImImImImIqIqIqIqIqIqIqIqIqIqIqIqIqIqIqIqIqIqIqIqIqIqIqIqIqIqIqIqIqIqIqIqIqIvIvIvIvIvIvIvIvIvIvIvIvIvIvIvIvIvIvIvIvIvIvIvIvIvIvIvIvIvIvIvIvIvIvIvIvIvIvIvI0I0I0I0I0I0I0I0I0I0I0I0I0I0I0I0I0I0I0I0I0I0I0I0I0I0I0I0I0I0I4I4I4I4I4I4I4I4I4I4I4I4I4I4I4I4I4I4I9I9I9I9I9I9I9I9I9I9I9I9I9I9I9I9I9I9I9I9I9I9I9I9I9I9I9I9I9I9I9I9I9I9I9I9I9JCJCJCJCJCJCJCJCJCJCJCJCJCJCJCJCJCJCJCJCJCJCJCJGJGJGJGJGJGJGJGJGJGJGJGJGJGJGJGJGJGJGJGJGJGJGJGJGJGJGJGJGJGJGJGJGJGJGJGJGJLJLJLJLJLJLJLJLJLJLJLJLJLJLJLJLJLJLJLJLJLJLJLJLJLJLJLJQJQJQJQJQJQJQJQJQJQJQJQJQJQJQJQJUJUJUJUJUJUJUJUJUJUJUJUJUJUJUJUJUJUJUJUJUJUJUJUJZJZJZJZJZJZJZJZJZJZJZJZJZJZJZJZJZJZJZJZJZJZJZJZJZJdJdJdJdJdJdJdJdJdJdJdJdJdJdJdJdJdJdJdJdJdJdJdJdJdJdJdJdJdJdJdJdJiJiJiJiJiJiJiJiJiJiJiJiJiJiJiJiJiJiJiJiJiJiJiJiJiJiJiJiJiJiJiJiJiJiJiJiJiJnJnJnJnJnJnJnJnJnJnJnJnJnJnJnJnJnJnJnJnJnJnJnJnJnJnJnJrJrJrJrJrJrJrJrJrJrJrJrJrJrJrJrJrJrJrJrJrJwJwJwJwJwJwJwJwJwJwJwJwJwJwJwJwJwJwJwJwJwJwJ1J1J1J1J1J1J1J1J1J1J1J1J1J1J1J1J1J1J1J1J1J1J1J1J1J1J1J1J1J1J5J5J5J5J5J5J5J5J5J5J5J5J5J5J5J5J5J5J5J5J5J5J5J5J5J5J5J5J5J5J5J5J5J5J5J5J+J+J+J+J+J+J+J+J+J+J+J+J+J+J+J+J+J+J+J+J+J+J+J+J+J+J+J+J+J+KDKDKDKDKDKDKDKDKDKDKDKDKDKDKDKDKDKDKDKDKDKDKDKHKHKHKHKHKHKHKHKHKHKHKHKHKHKHKHKHKHKHKHKHKHKHKHKHKMKMKMKMKMKMKMKMKMKMKMKMKMKMKMKMKMKMKMKMKMKMKMKMKMKMKMKMKRKRKRKRKRKRKRKRKRKRKRKRKRKRKRKRKRKRKRKRKRKRKRKVKVKVKVKVKVKVKVKVKVKVKVKVKVKVKVKVKVKVKVKVKVKVKVKVKaKaKaKaKaKaKaKaKaKaKaKaKaKaKaKaKaKaKfKfKfKfKfKfKfKfKfKfKfKfKfKfKfKfKfKfKfKfKfKfKfKfKfKfKfKfKjKjKjKjKjKjKjKjKjKjKjKjKjKjKjKjKjKjKjKjKjKjKjKjKjKjKoKoKoKoKoKoKoKoKoKoKoKoKoKoKoKoKoKoKoKoKoKoKoKoKoKtKtKtKtKtKtKtKtKtKtKtKtKtKtKtKtKtKtKtKtKtKtKtKtKxKxKxKxKxKxKxKxKxKxKxKxKxKxKxKxKxKxKxKxKxK2K2K2K2K2K2K2K2K2K2K2K2K2K2K2K2K2K2K2K7K7K7K7K7K7K7K7K7K7K7K7K7K7K7K7K7K7K7K/K/K/K/K/K/K/K/K/K/K/K/K/K/K/K/K/K/K/K/K/K/K/K/K/K/K/K/K/LELELELELELELELELELELELELELELELELELELELELELELELELELJLJLJLJLJLJLJLJLJLJLJLJLJLJLJLJLJLJLJLJLJLJLJLJLJLJLJLJLNLNLNLNLNLNLNLNLNLNLNLNLNLNLNLNLNLNLNLNLNLSLSLSLSLSLSLSLSLSLSLSLSLSLSLSLSLSLSLSLSLSLXLXLXLXLXLXLXLXLXLXLXLXLXLXLXLXLXLXLXLXLXLXLXLXLXLbLbLbLbLbLbLbLbLbLbLbLbLbLbLbLbLbLbLbLbLbLbLbLbLbLbLbLbLgLgLgLgLgLgLgLgLgLgLgLgLgLlLlLlLlLlLlLlLlLlLlLlLlLlLlLlLlLlLlLpLpLpLpLpLpLpLpLpLpLpLpLpLpLpLpLpLpLpLuLuLuLuLuLuLuLuLuLuLuLuLuLuLuLuLuLuLzLzLzLzLzLzLzLzLzLzLzLzLzLzLzLzLzLzLzLzLzL3L3L3L3L3L3L3L3L3L3L3L3L3L3L3L3L3L3L8L8L8L8L8L8L8L8L8L8L8L8L8L8L8L8L8L8L8L8L8L8L8L8L8L8MAMAMAMAMAMAMAMAMAMAMAMAMAMAMAMAMAMAMAMAMAMAMAMAMAMAMAMAMFMFMFMFMFMFMFMFMFMFMFMFMFMFMFMFMFMFMFMFMFMFMFMKMKMKMKMKMKMKMKMKMKMKMKMKMKMKMKMKMKMKMKMKMKMOMOMOMOMOMOMOMOMOMOMOMOMOMOMOMOMOMOMOMOMOMOMOMOMOMOMTMTMTMTMTMTMTMTMTMTMTMTMTMTMTMTMTMTMTMTMTMTMTMTMTMTMTMYMYMYMYMYMYMYMYMYMYMYMYMYMYMYMYMYMYMYMcMcMcMcMcMcMcMcMcMcMcMcMcMcMcMcMcMcMcMcMcMcMcMcMcMcMhMhMhMhMhMhMhMhMhMhMhMhMhMhMhMhMhMmMmMmMmMmMmMmMmMmMmMmMmMmMmMmMmMmMmMmMmMmMmMqMqMqMqMqMqMqMqMqMqMqMqMqMqMqMvMvMvMvMvMvMvMvMvMvMvMvMvMvMvMvMvMvMvMvMvM0M0M0M0M0M0M0M0M0M0M0M0M0M0M0M0M0M0M0M0M0M0M0M0M0M0M0M0M0M4M4M4M4M4M4M4M4M4M4M4M4M4M9M9M9M9M9M9M9M9M9M9M9M9M9M9M9M9M9M9M9M9M9M9M9M9NCNCNCNCNCNCNCNCNCNCNCNCNCNCNCNCNCNCNCNGNGNGNGNGNGNGNGNGNGNGNGNGNGNGNGNGNGNGNGNLNLNLNLNLNLNLNLNLNLNLNLNLNLNLNLNLNLNLNLNLNLNLNLNLNLNLNQNQNQNQNQNQNQNQNQNQNQNQNQNQNQNQNQNQNQNQNQNQNQNUNUNUNUNUNUNUNUNUNUNUNUNUNUNUNUNUNUNUNUNUNUNUNUNUNUNUNUNUNUNUNZNZNZNZNZNZNZNZNZNZNZNZNZNZNZNZNZNZNeNeNeNeNeNeNeNeNeNeNeNeNeNeNeNeNeNeNeNeNeNeNeNeNeNeNeNeNeNeNiNiNiNiNiNiNiNiNiNiNiNiNiNiNiNiNiNiNiNiNiNiNiNiNnNnNnNnNnNnNnNnNnNnNnNnNnNnNnNnNnNnNnNsNsNsNsNsNsNsNsNsNsNsNsNsNsNsNsNsNsNsNsNsNsNsNsNsNwNwNwNwNwNwNwNwNwNwNwNwNwNwNwNwNwNwNwNwNwN1N1N1N1N1N1N1N1N1N1N1N1N1N1N1N1N1N1N1N1N1N1N1N1N1N6N6N6N6N6N6N6N6N6N6N6N6N6N6N6N6N6N6N6N6N+N+N+N+N+N+N+N+N+N+N+N+N+N+N+N+N+N+N+N+N+N+N+ODODODODODODODODODODODODODODODODODODODODODOIOIOIOIOIOIOIOIOIOIOIOIOIOIOIOIOMOMOMOMOMOMOMOMOMOMOMOMOMOMOMOMOMOMOMOMOMOMOMOMOROROROROROROROROROROROROROROROROROROROROROROWOWOWOWOWOWOWOWOWOWOWOWOWOWOWOWOWOWOWOWOWOWOWOWOWOaOaOaOaOaOaOaOaOaOaOaOaOaOaOaOaOaOaOaOaOaOaOaOaOfOfOfOfOfOfOfOfOfOfOfOfOfOfOfOfOfOfOfOfOkOkOkOkOkOkOkOkOkOkOkOkOkOkOkOkOkOkOoOoOoOoOoOoOoOoOoOoOoOoOoOoOoOoOoOtOtOtOtOtOtOtOtOtOtOtOtOtOtOtOtOtOtOtOtOtOtOtOtOxOxOxOxOxOxOxOxOxOxOxOxOxOxOxOxOxOxOxOxOxOxO2O2O2O2O2O2O2O2O2O2O2O2O2O2O2O2O2O2O2O7O7O7O7O7O7O7O7O7O7O7O7O7O7O7O7O7O7O7O/O/O/O/O/O/O/O/O/O/O/O/O/O/O/O/O/O/O/O/O/O/O/PEPEPEPEPEPEPEPEPEPEPEPEPEPEPEPEPEPEPEPEPEPEPEPEPEPEPEPEPEPEPJPJPJPJPJPJPJPJPJPJPJPJPJPJPJPJPJPJPJPJPJPJPJPJPJPNPNPNPNPNPNPNPNPNPNPNPNPNPNPNPNPNPNPNPNPNPSPSPSPSPSPSPSPSPSPSPSPSPSPSPSPSPSPXPXPXPXPXPXPXPXPXPXPXPXPXPXPXPXPXPXPXPXPXPbPbPbPbPbPbPbPbPbPbPbPbPbPbPbPbPbPgPgPgPgPgPgPgPgPgPgPgPgPgPgPgPgPgPgPlPlPlPlPlPlPlPlPlPlPlPlPlPlPlPlPlPlPlPpPpPpPpPpPpPpPpPpPpPpPpPpPpPpPpPpPpPpPpPpPuPuPuPuPuPuPuPuPuPuPuPuPuPuPuPuPuPuPuPuPuPuPzPzPzPzPzPzPzPzPzPzPzPzPzPzPzPzPzPzPzPzPzPzPzPzPzP3P3P3P3P3P3P3P3P3P3P3P3P3P3P3P3P3P3P3P3P3P3P8P8P8P8P8P8P8P8P8P8P8P8P8P8P8P8P8P8P8P8P8P8P8P8P8P8P8QBQBQBQBQBQBQBQBQBQBQBQBQBQBQBQBQBQBQBQBQFQFQFQFQFQFQFQFQFQFQFQFQFQFQFQFQFQFQKQKQKQKQKQKQKQKQKQKQKQKQPQPQPQPQPQPQPQPQPQPQPQPQPQPQPQPQPQPQTQTQTQTQTQTQTQTQTQTQTQTQTQTQTQTQTQTQTQTQYQYQYQYQYQYQYQYQYQYQYQYQdQdQdQdQdQdQdQdQdQdQdQdQdQdQdQdQhQhQhQhQhQhQhQhQhQhQhQhQhQhQhQhQmQmQmQmQmQmQmQmQmQmQmQrQrQrQrQrQrQrQrQrQrQrQrQrQrQrQrQrQrQrQvQvQvQvQvQvQvQvQvQvQvQvQvQvQvQvQvQvQvQvQvQ0Q0Q0Q0Q0Q0Q0Q0Q0Q0Q0Q0Q0Q0Q0Q0Q0Q5Q5Q5Q5Q5Q5Q5Q5Q5Q5Q5Q5Q5Q5Q5Q5Q9Q9Q9Q9Q9Q9Q9Q9Q9Q9Q9Q9Q9Q9Q9Q9RCRCRCRCRCRCRCRCRCRCRCRCRCRCRCRCRCRCRCRHRHRHRHRHRHRHRHRHRHRHRHRHRHRHRHRHRHRHRLRLRLRLRLRLRLRLRLRLRLRLRLRLRLRLRLRLRQRQRQRQRQRQRQRQRQRQRQRQRQRVRVRVRVRVRVRVRVRVRVRVRVRVRVRZRZRZRZRZRZRZRZRZRZRZRZRZRZRZRZRZRZRZRZReReReReReReReReReReRiRiRiRiRiRiRiRiRiRiRiRiRiRnRnRnRnRnRnRnRsRsRsRsRsRsRsRsRsRsRwRwRwRwRwRwRwRwRwRwRwRwRwRwRwRwR1R1R1R1R1R1R1R1R1R1R1R1R1R1R1R1R1R6R6R6R6R6R6R6R+R+R+R+R+R+R+R+R+R+R+R+SDSDSDSDSDSDSDSDSDSDSDSISISISISISISISISISISISISISISISMSMSMSMSMSMSMSMSMSMSMSMSMSMSMSMSMSMSMSMSRSRSRSRSRSRSWSWSWSWSWSWSWSWSWSWSWSWSaSaSaSaSaSaSaSaSaSfSfSfSfSfSfSfSfSfSfSkSkSkSkSkSkSkSkSkSkSkSkSoSoSoSoSoSoSoSoSoStStStStStStStStStStStStStStStStStStSySySySySySySySySySySyS2S2S2S2S2S2S2S2S7S7S7S7TATATATATATATATETETETETETETETETJTJTJTJTJTJTJTOTOTOTOTOTOTOTOTOTOTSTSTSTSTSTSTSTSTSTXTXTXTXTXTXTXTXTcTcTcTcTcTcTcTcTcTcTcTgTgTgTgTgTgTlTlTlTlTlTlTlTlTlTlTqTqTqTqTqTqTqTqTqTqTqTqTqTqTqTuTuTuTzTzTzT4T4T4T4T4T4T4T4T4T4T4T8T8T8T8T8T8UBUBUBUBUBUBUBUBUFUFUFUFUFUFUFUKUKUKUKUKUKUKUPUPUPUPUPUPUPUPUTUTUTUTUTUTUTUTUYUYUYUYUYUYUYUdUdUdUdUdUdUdUhUhUhUhUhUmUmUmUmUmUmUrUrUrUrUrUrUrUrUrUrUrUrUvUvUvUvUvUvU0U0U0U0U0U0U5U5U5U5U5U5U5U9U9U9U9VCVCVCVHVHVHVHVHVHVLVLVLVLVLVLVLVLVLVLVLVLVQVQVQVQVQVQVQVQVQVQVQVQVQVZVZVZVZVZVeVeVeVeVeVeVeVjVjVjVjVjVjVjVjVnVnVnVnVnVnVnVnVnVsVsVsVsVsVsVsVsVsVsVxVxVxVxV1V1V1V1V1V1V6V6V6V6V6V6V6V6V6V6V6V/V/V/V/V/V/WDWDWDWDWDWDWDWDWIWIWIWIWNWNWNWNWNWNWNWNWRWRWRWRWRWWWWWWWbWfWfWfWfWfWfWfWfWkWkWkWkWpWpWpWpWtWtWyWyWyW2W2W2W2W2W7W7W7W7XAXAXAXAXAXAXAXEXEXEXEXEXJXJXOXOXOXOXOXSXSXXXXXXXXXXXXXXXcXcXcXcXcXgXgXgXgXgXgXlXlXlXqXuXuXuXzXzXzXzX4X4X8X8YBYGYGYKYKYKYUYUYUYUYUYYYYYYYdYdYdYdYdYdYdYiYmYmYmYrYrYrY0Y0Y0Y0Y5Y5Y5Y5Y5ZCZCZCZHZHZHZHZMZMZMZQZQZQZVZZZZZeZjZnZnZsZsZxZxZxZ1Z1Z1Z1Z6Z6Z6Z/Z/Z/Z/Z/aDaIaIaNaNaNaNaRaRaRaWaWabafafafafafafakakakapapapapatatatatatayayayayaya3a3a3a3a7a7a7bAbAbAbAbFbFbJbJbJbJbJbObTbTbTbXbXbXbXbXbcbcbcbcbhblblbqbqbqbqbvbvbvbzb4b4b4b4cGcGcGcKcKcKcKcUcUcUcUcUcUcUcYcYcYcYcYcdcdcdcicmcmcrcrcwc0c0c5c5c5c5c5c+c+dCdCdCdCdCdCdCdCdHdHdHdHdHdHdMdMdMdMdMdMdMdVdVdVdVdadededjdjdjdjdodododododxd2d2d6d6d/d/d/d/d/eEeEeEeIeNeNeSeSeWebebebekepeteteteteyeyeye3e3fFfFfFfJfJfJfJfJfOfTfXfcfhfhfhflflfqfqfqfvfzf9f9gBgBgGgGgGgLgUgZgZgZgigngngrgrgrgwgwg1g1g5g5g+g+hDhDhMhRhRhahehohohohohsh2h6h/h/h/iEiSiSiWiWibikikiui8jFjFjKjKjOjcjhjmjmjmjqjqjqjqjqjqjvjvjvjvj4j4j4j9j9kGkUkUknkrkrkwkwk1k5k5k+k+k+lDlDlHlHlMlalflfljljlxl2mEmJmJmJmNmNmSmbmlmlmumynAnKnYncnhnvoQospoqbqlqpqzrPr9sUsstkttuEvKvYxazi0s1t2c718V8x9k/P/r/w/5/+/+/+", "G0C0IZE5CqC0E5IZIpM7GtIpVIK/NgVIUtHS//fq//JNGtLKDG//IpE///NZIpLKIp//FmKyHuOUQcLKDwNZR6I1GqFrI1MgLKFZLKI1GyUtF6GyK3ErGqGI////EsI1IpDG//NZ//EsDeI1SpLKR6IqNmZJC+NmbLLKC+P0Sp//O1CUbLOd//HGDtErKkNmDf//DfJCQcQcNVOdPcHiJvQcFANmIpHiSJGIFAF6HiIITmFDX0SJGIErR6RYHhErEsN6//M1//N6N6UrR6G4Kf//HiSpHYFANmHi////GcM8//MZGIOdJCD7R6KCTmU0SpEsO0TmNqHKR6IIKNKtO0QcIcFDPcOdLIKwILMqHcLBK8LhG0N6MgOdKlM1bKMgNWFjSUKlJOOdEPIpPdJC//IhErEtHqKkLhIpHGNVPcMgMxKw//JCR6EtJFHiM1HK//bKGpErHqHjL3LhKlFDNLKlOdN6HYNVMkMzPMLwDfNrK/CHN6IIIAMgLnJkN6LROdQoDfXXL3J3KlFSNaLhE/NVKO//AD//HcCHKMdCG0LIEx//E/EtSeHjF9SpNqMRM1//TlQ5EPKfNVPmSUHYE/KgGi//IJfAK4Hc//DhXtJFNSXXNaNVHcDbL+XXRGSpKkNPO0U0MUEbHYKNEP//EuNdG3Nf////FCIJHjThWlM0MTMgCPEPLCCULQIJEmEuDRIqJ3NLLcImEoKYOiMeMgOiY9//MOVALk//MTNqSpKlG2MkM1BGNEHKEmOrGUHcKlJpHKJQGMHDLcErF9N/ErKtIJLcY9IJ////EmNEKZK4NrMgTwM5OiPMKOHY//EbIJE/NP//GM//FgNLNWH8LUHdQ9HYNEHoItQ9JQKBDb////FjMTKO//L8Q9//NqNkLbIjGGLRHvJFKtThHAL8K5IKHdDvHdQAHdLQG7KEH+IKOoL+NaMzNWNaQ9PMY9SZ//KXIqYJIIVIQ5G1Y9//MOFyO+Pl//KXLkNLFDI4Q9Y9Mk//LcL8FjItGgLkE/N/NEY9clNVKCP3Or//KNIAG3KOLhFHUrdTJd//JRLQJPdX//KfHKGP////K4BrLQF7HjFjL1OJJpKYY9E/VnY9E/XXWlMQJn//KNNLMeMsSUE/K1MzQA//guMR////N/ADLlHjK4M5OrLQXXK8Mk//YJguNX//CJPPJ6LnQAOoN/L8//MuLUKXK5K4K4PZHRLXLLJdIqcB//K///MkdXMzNWItGd//ADDEMOGRMk//MOL8IqM5//JdPrKCKNK4G2HdMOG3O0IDH7GiYJE6BrKZMxLNHjIgWlSeOoB7E/Ic//HrLgOWCI//J6NaHuU0FDMzJdQgII//LhclUtAZLN//Eb//JQIcOrG7QGE/E/L4E/OrNPJQLQLNKCL+OiW6HyFDLlNHNaguNEO+NWLU////IsPrG1KlPZNkGsFDIqH9//cBL1LUMAIAMxNWKNKgDsLdGgCZIAPPIpH8NWeiNPGmHd//gucBMeMO//IZKlNWHREmRdKNGg//KJB2HrCZQOHo////GRK4//Ut//G3HrKfPrOwLmJEOJCJNLOi//O0ETMsSZDsK1cG//GR//NqE/Fy//JtHKMRN1ZhLlItLkGa//cGYJMkJ4L+LkLQ//CJKZ//G7E6HvCIF/KCN/OmCJ//H9I9OCG3JyJh//KZCIV///NkKZcBQAH+DsGjA1HRguOaMHWlHKJQHhKVGZH9NXHUM5//YAO5H9HAE6//Mu//RNGaPONvIfHj//FyNaPPG+NPMeET//aUGRBb//N/NWXjGQeiN/JNItH8GwNPHrNLNLGgWlJh//GMEbKVJnZhL+GQVEPPNWO+//J3P3PPMnEqFyJ3KEIhK4O+HREvUDEfHvLUKgLdG1GrK4QGH9iI//JCHFIdGGJbTTHuKfOoPZQNQGMeRSKBLU//HCLXF/FkLdKCJdF9cGP3HAHRKfJnIgIZBbRSGcWlGiCKKVPOC1MeOWYJ//JHIgFDKgNLGGPOGG//K4Ln//DeU1H0////MgGOHyKgI9KVKZG1GGIzMkHoNLZh//CZHFGQiIA1EPGdMxYA//K7VEShOILN//LeH9HKOpBb//UtEk//JVM0//NqN+IyLUH0LdMxVE////RSGgHyNvHSHfXOeiQAL8H8LQL8IvKfF9HCG+JnS0I6MzLaKP//KDIZHhEkK4JQK1JcFwKCH0MkK/F6//G1//F4MuV2LkQNE/J6M0QGHSMuK1RN//HuIpNP//JQCZV2L8Fn//ETJnI2GaLNL8CHR4VEFt//HKEkFC//PVIhHu//HFLdeiL+LlIyEkNPVEGdWjIhMuI8//KfLXK/S/GRC1POE6RSGSNQL8I9Fk//HUU1//LhMQH0JN//GI//H9IGFDQNK9OC//IgNvLbQ/A1GFJySZIGIGFwOvDRGrPWMkW6JQKJIdCZI4C+GaKgGSMkIjcBJVF+OpJt//I9IAVEVnLWGSUgPPE6GrEmKlB7//EvQAB7U1OELjMu//NqMgU2JVCGDsPPIzS0FHA0G4IJcGMnD+EvJhFkHDKNFCZaMnNLKPLXFKE6G4JYGIF9GdCkK4G5OvYJ//Kf////IqDqK8//KXCj//J3ECLd//JtCkNqCIK4MkJNPvGZFCJ3IyMeGYH8NHKBLnL8GGQNJ3//JNHeEv//MaL0IzEvQGJ3FhH7EvOp//I4Mgc8//GdGZNPHqNkLiMTH0V2//PUHeY9OpPWIq//IyJhOoP8P8Is//DDEkLmLhIUILEbGgHDRNIEH2RKMuJYRd//UDV/JDCH////Vnf2Gi////MnJnMuJoLbKgIUG1QiF1cSGG//OpMTC1FtV2MgEc//KfGr//JOLlMn////LfJO//AWG5VnKBGEPVM5He//HMKWL4KfKEEcKPIjYASIKZQN//C1OoUYILFhSI//IyJtS/H0EvSsLUCJKfK/I+MJLnGE//O0G9MQFrNvGDR4Y7//GSV2MeK4H1UYC1IRIyORNLJhGqU1F6////Jo//FCFKHqKDECLfEvInKNMVLf////FCMaFCGYInYDKWHK//C1PEJ7H7NLN+I1Bb//KNHEYLC1B7MT//PZKDHuJVJnFtAwI4XrMqPVI9FHMgIWEvJ6//Hq//AZOCXO//FFGiKEF1HIKJFrNL////MbJuH2MuMk//PWKN//JtBHLtFrJnIhH9JyBdHuGPIyR6LiIhGZF4XrH1K+XOJjYAHI//cSC1QNJAIUUgHIJoMT//NnJeKfS///C1//N+LYJEKPL3KPF4GMMu//R4EvTKJh//GYRdH1Nd//JnEnL4//P8G+GFJyGEHAGDEbf2O2I9P8OCG3FCXOAWKCGsVnFDKCKNcgK1J3MkIG//JoGsIN//c8FCMuHeKgI3KfEvKf//HoJjIKKiKSF4EWFk//EWMyImMkELF1HhGFGMJ3JyKiKvUgcSNLPO//Op//JeIUUtBMWcF///RyMeORGdFtSsF+CvPUQNV5FwKBQtUY//LqPVNHGd//MDEvMUb6WtQHMLH2GiYr//HsGiDfBTINJhMkGWDFKz//Kz////KNGDIUGMMu//HIH4HrJO//JyQHGKFWHe//B7H2GgLfIdF+JuOJUtFwV2SyHqINBTMtc8IeGdKgYLF8GEFkQtILG9FCHfNHI7O2GdJ4JoJOJNHqJjKvcSHlNLPZFtFC//PECvXrOCSIQJHrMZIyIgAvIWFtMqCvWjPZA2SAJ6GyAWTEMVH7IWEHJnWjJRJoJeR4KfR6cSQNCkO2JnLj//FkLfJmRrJrL0UIHIf2L7Mbc8HeI6F1GIcGJoOhRrLNIdXrMQFtMQH7Lnc8I7HlN+//EbXHL3LXATLjEnPEMqMAF0P8//JBYrJEIqRrTKMdOCFCHIFsJMMDRrbCJ7//JeKNYP//E6FKA4IhINFrNHPCHlKSRrWjHNP8MVVKP8KDKtOrQOFKPkKNKiIa//LzLXKbSsMqJeGqIg//JYMb//QORX//GDGMJoJjUgNH////I9InL0L8QNOJI7TTBbTEEvI7TYFrL0G1BNO2JM//FZHTIWOJcgGFNKHFKpGsInOhGiLx//J7RML1aHFtJuPVKu//KfJeJMH7//PaJxC1//MVJhH7MQMQMbJQOhHlJYMbJyKxBH//PETdL1JjXH////KT//F1QtC1Jj//IWOhN3K0A0IgFtEhHrJ3YrSsHq//FKGqKvE3IqTEEIIL/4PUP8GRJ7PZC1BWPUH/I3J6NKJjBHNHF2LT//bAZaOrMbGiCvA2EOGqPEMaHdKxJS//EWGX//MbIaKEPnP8JrInFkFkY7//NoR1cGEnJYM/K0JiPUFtNKMOJeMaL3YrInLzMqJeGMP8UgL3LNEcLzUYBWWjOJ//A2IaKBIjPLJyKPMqK9d5PE//JwMDMbJBJAObHNF5UNIabAKiMqJEHDMa//JuOhTjQXIqO2EWJuWjI7I1KSIRYATjK9//////H1GqI3Ry//BMXrB/TjHsPZPRPnHGEhKfO2OrN6EuTKN3KePEL6PnCUFtckLCPgHQHJUIFsOSHIMVHbOoKvKcOBDtA0JQJ3KfGM//HsPgBWFzTjK9GWHlMy////c8AAOJP8JBHGGMK9KuKmQXH/Hr////KtIJIRBdBWcg//JSF4f+KtPEIWI3JgBH//KtEuIgJSTKM/GdQDJhSLSLMGJeJ7GqJMJ6//A0////JQ//MqHQKvKfJRWj//En//RrJ8VnJRKMH7XwF2V2PHLq//KNH0KTIbIeLPEHI3J7P4HXPLUI////KT//MZWUMkSAA0VKKPIJKgIGOKBWN3LofJJrFtDBOBLWH2JEGMA4IQL0MaOPH8ELH8LqTKGqGPTYQDQXcSNsQXOPRXOKJSFtJr//DwWVWR//KqIhDFKZTY//////MLG+//JiGM//C8WDKBc8L4WVVobAMdOKLcJMHqK9L5EJOr//IhWDGaKSMAHAKoPL//PnHfIjI3JsJrKuLNMZInMVMAHPBVKkPnH7NoP8A4OPCvMSMqGWD8I3MA//N3KNIwLjKKGyFsIRH2bB//N3cgLqIiTY//QEWD//IUH2H0KzFsUIIcJIPT//IhH/NKK9//JyOhK9K+LNJFJnBTTEF1L1Fr//IRH2PZZaVoFpIhFcKyCkGFbBOBInI2KcOrGiIR//SAGaJjK3IwckAcNs//F5F5BWFmJr//H0JmHFQF////PZNeEgXHMtKcNsOJcgJ6TjFZMAIhIaPQIUcWI2JrJMcgGW//MZKj//Rj//H7VTL0MYlcFSJcKRQFAwMYMt//PLJBJjISWDKl//F5FpTvO5INBdLoLzQEKvEcH2JyKB//L3F1WtRjWXMOJ2JRP1BHQLOBPKJAHS//JrIjGyRoH2KeIRF5RSP8LqJrNHQFV5GPd5//PTVK//JQJFFZI3f+////JgBRNoI+Pn//TKMtOJOhV5//aHOPFZILMLDtHREBI0JiJ4FrFHH2P8KmIjI2B9IRI2//OoEFP1//FpXdTEHbM+IGF5H0//IaVbHRM8JpN3H/Kf//F1b6//MSMyJpN3IhBdLTbCQEFcEnP8F1LCK3HQHsEHH1BdL7JwMbHWQEP4BVKuPQEILCGMHlKTALXdGaMN//JFGd//GPJuQFNoG+//KkGqBR//FrTsEW////NBQF//P8EhMyCsLNWRQDEHMyMGG6Kfl7EhJ3GsJvTYNeJeLCXwEF//INSsMPA2KZ//IbKmHy//K0E+//FpMQIbKyLoH7D8ISHQ//KeOPFpJMPKMyL1TYHR//Ou//LoTXI2JfNsMtI1Z/HbHWFcJYH2MvKeJk//MPJpV5LC//P4P1ATLsKyKtKtP4MrIgH2L0J6FZPkFSTjbhC8bhJkJQH0JfIzJpSsBdHREIKoHbS1H/OoATEIPnJmN6KuJpB///JkKoI6WDJpKcJCLo//JebhLI//PkEHI6LcI6HfKTNoJ6A3H7Ke//QLD8WRJ3KcQqI1F3TEE1L7LTH9HWLCQENcDtHPQEEWWUKJSLIO//Mvf+JcMYH+VXNcHrTvQqNoDtMARiJcP8HWH7JkEhOuI0E+JpKPGkQsH0//Jr//EHL0I1HFFcXdAcROIbPQEIHRF1//MOL7F1H0NoBRSLKkSLf+H/fJNoHO//UIIhGdS1ROGqEhH2TYHyGqL7fJK+GqJr//////JdKmF3VTFzK9IzH/Nef+F5//PKOoVoRjI6FYF3KMXHJbGKF2//FZcWLCJ/cgPPRjF3JmKkfJMKI1FZIlMZH7PQKeROFrKPHFL7S1KZOuIi//AcJCSLH8GqBRGcN3KoP1G8MdEWJ/H0DtAHN/KdHWKR//BRKeIHKSIJMPG2I6H8GRJw//KtaY//H8JcLvHRKTJpGqG+EFJRLCJrH2BVIe//LINeC8P1VoISbCJHS1JxOPJkEOWDMiJpMiJIBVVoXdbhHIQuJTNF//ElGcLvFcF3JM//A0JwHI//KDIiH7Dt////AcfJNTMoRDHIG0QLPQGrDFG2P4KTLZ//K5//PH//I2//H/S1I4KT//K8FpEWAcHFI+GAcEJrH7CjHfL0MROb//K5HQKPNTIwEl//Fn//H/I2HqOuEWQsKKKTMiGMVbAKPQNB//LvcVJMKM//QI//GVI6//////N1ODLvA0KsMPLZDtJvL2J6P4P4ItfJbhTXFpGFDnKoHKf+FhNKFZGCJpH///FLLs//HWcWQhPPQEPQJvG4//Z/HKGqJvBNMRHW//B9IBMqLIKpKjN/DtMdEhLocEIiGKFSJ6KRJcL0KeGFF1//OuL7HRNBKRFuD8H0G8NdPT//H0C8LIK7FSH8EBO0EHJv//KzcSPTLsJ/FpN1JmJx//JrMYEW//RDUIH2JqIiEBMP//I+F1cgRQGRcgJjHrJmPLKMBRRO//MqSU//BpJvJvWUNBJ/Ss////JxIPPQ//KtAHLN//LDIiHF//PnJw//P4HuJfLMLZI+TXCsFpAcH/IcJ6L5Wm//QI//GcVXMuG2OfEBQFJAH/GFJxKC//H2FpZ/HyHrKDFSH/WmIEI4VlJ/QLBpILVTH/TvKsKMISKvL2HW//N/HqL7HFGcSUI+IS//S+JTHRGF//N1N/J/H/LOHJMqMqJ/NHaMUILIOdLM//bhXdVTHyKFKzJmZ/OCG2FhLIQL//RDgHFYMxKkL0VDI1Tv//JvVTIeEphqSUOCQIPXGCL5K7L0I1//PTFpJlWUWU//WnLNSMKKKkXbL5//IBM4I5IO//QsK7K7UNQFF1LCJpGF//Fu//I2I6EnKcK7//IeD2QqFrSsDxD8K+FpKSQLG2GVI4I0//H2H7//IPViJvViFjI6FLMOTwBRKOHfIeKDH7Jl//LNPuIOMRXd//GDIbS+ISA2GdLj//MiL6JkQqNDHfQhHS//DtFcHSFGH8L6HIJCIbSFKVCsKcEpGVIlPP//I0//ObFZROI+GcKt//Jv//KhHPK7LoMtIGH/Ri////LNRfEBK+MPL5cWJkEpVbH+QuAHEhAHI1S+I1OoOCFSJcM8C+OfHSRicEI2CQI8H/JvPjND//gHMD//FPMiJbN6HgVbJmI6A2G2CQLs//JmHScE//JwKvFhIOAMQLGVOuN/Ja//Mo//MWIcAHGVSUViLNJa//HKCQH/QqGADnN1EhJmHPKVG6QE//GcILLvEIP4I5ItIENsQXSUIENDGDaM//H8JwJCHyWtIRHKNFP4HgMCK+//QII+//EhIzISL0//H2//E5DtQu//JlUI//OEWQJCF1LcIcJpYk//JuGAGVIJH///DB////aMJHIwN2//G+//INIE//NUMi//FPOpLcI2RDIEIAGVLMHJ//VrVAWCMoJgLcOCNdNsVocW//NTL7HJPP//IWH5KzMdL6gHHQGVT9IwItFuHIItGRMlN2J/VtL6Gc//KhSFFhJICsYuD2JacWJmEpFeHGKSQXYk//PjLnSXDnLhe+Jg//HWRD//JSFz//G2KzJRGWHrKFIANB//LOtLH/NDO1//FyKy//MiJvUI////N3////PjIEG6Fh//QXOdNsPnLNMqFcL0QBPjNTRIJTGdEaIANUFu//RfLj//KVMoIGFhDPKsYkHqMd////Ja//LiMq//FPMvIcFzJvJq//NDHF//JmNAKhK7I6LDRfEpFjOdKVSFCQItNsH2L2RDHIQZI+HSI2JcHy//OfDzHJKCN2IE//KML4NbJb//JTL7Jm//RfMqIEQsFLHqG6LcKDKDIcFL//GkH+IAIYHW//FeJcOdMyJaFyODBpH4O9It//SFHKEVQBE5LBQLG+//OJJqWKFjFeWQQsQhK+LvKXI+I+JaIBMdGVJx//QXKFJcM3G6GWHWZ/FPM2KFFPL6Hr////LDI8KvMsObHlPkJRG6IeH4GAVTG4N1gHNDHg//LIL7H2NfOdM8FyL0//LcGCGCMyND//KSFpRfMsKSS+AHGnMiMrRfOI//KdH/NfJ6HqJu//KDDnLtK7WQKSPuSUMsMoPP//EhKFFuL6KSJmEVG6//H7QhYkKbQsJm////ADGCYuBpL7//JmKSIGCnKhRfJcL5E5LOLD//JlPPH8PZCLPZKT//LO//IYJAPZViHgIGKDH2MlG2IeA6LMJcM3HrNUKVc6KzSUViPY//G5VmHqIGG+YYNDFh//F7//IJHD//HRNb//EBQINULNHDLOVlVlc6NqHqJCS2MxJbOpSUMsFDH2DBGFalIHMyPYVlWCQLgHa9LNISIE//CnMaL6LhUNc6NsGc//GAPjRBD+I8KsAHL6MLIANsEaD2GAFcHDLjOfFP//e+LiFPJTG+JTGxJeLhH5GkF7EiJaJuEh//Li//LEJISUJAN6G4VDLhJgPXOpK+Li//OWHXG6O3M8M8LnHqQZSMNdHR//KF//IOHy//LDIdHRJA//HqKzGDOIMdJwH+K5I1//FPPuFLJSI2OjIwFjMlKDNHHfY4I+//MqOpHFJTLtJaRBVrGLGxMALILZJTFcFOJUHq//HSPPKFNrRM//hqHI//JahqNUKFM2//JRNqPSQINAHRLDFeFy//HqNpMDO/JRUNHq//S7IGPGJaIBHyH5O9HF//IBHWIGFL////HyADQsI2H5GxRDO7HQOIIGUNMDMDLiFq//FDPZIwOfViQfH2//I1JRK+GDMDQIhqLcOvP4KPG4//L6YnADQLLiMNGkM3HRM+PPKWSFHrNqH5IeSXMaKCSZIeWQZ7KMWQFuOtT+IR//KDIGKYVm//SAG6SAHD////SZPYFDRwNULiHrLDT6SAPZNsM3Qh//LPJi//P4//FyFjIXfFFuWC//KnN2IGtLPYMmUoBDcyKFCnADIJVmUIJNPGGTGASYRBO9HDLhIHG5//H2G5IBG6IRIRSMMAH5L3F7JtIwGd//c6K3JmMWWQGAGVIeFyGxPPF+//fFYuM+//L3I8NHRB//FXal//M8AMUoADc6KDMoINGRJNH+HDF6JbHWMWQsG+TaKVSXIJNsGkM6HnMdKDGDN1HXhqI+PZLtT3FsHQIXMAQBJf//LjHQPZKbNsOf//iyKtEbFDPYJSKzRMNFG6UNFuFjIGSYUoFgIwM3//FsG6HqIeFJHDLKGOMlalFPRHSMNAFzOWS7OJLD//P3H5GAKPIqMaPxS2ZKKtTfOJHFHFNUINIJ//MAGOGLgGLBSMJNO3//CxK0e+//N/L8M3DnKsOfHbG+VmVbEaMAHW//OvQtOTHRGTTwHJInGFOfIJCnILOpG6QZFOGD//MaKYFcGFNiHFJRNQMNFyZKI+IdHWHbDnT6Yne+UoLBAIfFEJM3OFIJNrLECnGiiyL3//OWEaWEQIDnOfKXEaHR//GiQBWCKMVmHPD9QBVDWE//PZCnTaJbHDNkOfG5INHFO3LBI+FuG6//FyMBS7SyKDMsM2T6M+B6//G7FeK0SYDJHg//Lj//al//GMKDYuIePYS2CwHFIm//G2FDIJNDBpGOFyS2PuEhPYVDGLM+NT//MhFXKCR7LKQmL6GJHKT+FPD2//eCKPG4NrFjG7HnJXTfMPLDMWWEMPF7Lf//JJT+VmP3KhMyLIOyVDNOLj//M2O3SYNkMPMWH7LKUoLwOJVME3TgCwKzIBROQtNsOOOvS2T+GOGhP3JSFXbbNsEaGLM+DbImL3TfUsJAGkJw//OWOhHWHWId//A5VDL6NAQmTfI+FcKDIJLEJJalP4KhPLKzeCIeI6//FXKXMsKXY4GifFOKPuOfPuMfLj//QmLtOXTxM2I5AyIUOyFyF5QBDHJUP5F+I+UsUUS2EXNsRH////KVOs//Mf////I+GPFKKzSbHDP5TfOfKHCfJcMWOWM2hqQBNrPLJoG6PdH7alFLPLGRfFL3MNKCK0PZF+KXMfMfAyK+FSG6NDIqK+//GhL3IBRMEbLwHDJUL6GnL3JJR7HpP3//LKBfHJGMUUEXOyKDMNHqGjPLP2HFalP5EbFcLhHURMKYFpFSY4IURHTg//PxLjOyLDM+MAVDPxIEQHPuHQKdMiNkJJT6MiTgQOF6LsGrFDLwEXTfLwLmgeR7bbSyM2GOM3O3GRJCAIFD//HWG6OyZ7//ShX8M2I2SbK0LwLVHWAyNsMPTfP5//MiNsHUGRT+RHQBPxPdGiGFG6MfK+F0TfGP//VZGjSXLsHDO3//JRFoMh//JRSZUsFSNkTgY4G7HTKYD2UUcqMXF6GRG6QBHM//OyH5UsMfGcD3eCLaGRIUKHSyZ7Fo//IeSEMXMPHDG/GEKYHJPdGtF+UUIsSu//FSD2LsLs//UUG6HWUsJ5SuT+JUUsUsM7IU/+QHI2FBcqJJG3HDPdTfIUUoKSJ5MiAyKYOsVZF4KkFKBDG6IuSbFDUUNIJqSyD3CkKiQO//N4MiAwCkITI1S2GcJRA3LwHJM7Tf//FoSbPx//HWM3Mi/9NbHWGiZWQOKiX8KzMZZ7H7TxJUJ5MbKdHJOXEbH4Su//SYKSGiuoM7PdM7GOK1LATlGPI8I8LG/uGqZ0IiQHZWCkKiT+Ns//J5HMJ9ZWMbMiG6IUFGGqKY//M2MXJbZpGPAwGjMc07VZAyRVF4I6OYMbQH//Z7////OX//ShKiH7J8MbShJ5FGJ1EfN4QOShI6HsGPJ5VZNsMJQgI8RVYiZWOYJ9FGVZM7IucqJqg+FdVZO8I1OXZ7K+Gu7XI2GqKl//QH//Jb7DOXJ8I8ZWJ9KSKlMuI2SuFBJ8H4MXB8K+F4O8O8KmK+EfN4//AwFqNsLs//TzHMGiJ9HsQOHYI1Gq//J8HYGQQO//FGHWF7FGJ9LZHhKqKlHpNsK+KYJbH7LGIGV8I6I2V8NIM+MbIGJbF4HhQONsLsDnLZKSQHKFFBJkO8McGqHOKU//KmIuVA//I1HZI1Y7H/JbOYVZMXMXKmJgOYMcGEQOCtCtTr//HYHZJ5IGIGF7GZOYF7NNJgGi//HpCtMcLZEfJNEfH7LZIGKlCtCtO8McLTH7//L7O8J8JRGQGEJgIu//GQHYKlKfF7IHA/FdJY//Kl//F4HZ//IGHYEFKlKlVUEfJgVMLZJ+P5WpJNI1JbVA//KyA/ImA/J+CtVAGuHwGQEfVAJgH7H/G+McHZVMJRF7Fa//LZ//JNP5CtJYL7G+P5ImJNFqVADnVA//EBJgHZFJHwQ2//JNRzQ2JYP5OYG+RzJNRzJ+RzO1O1QRRzH4H4HmQRHTO1QRH4QRILO1", "D7BgEQDUBLBgDUEQDlH0EUDlMvIbI4MvITFSM3SYCUFaEUFyBqM3FCC/EEJIFCFyFCNYC4HEF5Iv//FyCVJIK1GZDiC/GZIKFyCAFyGZEcITDVEcGZDLDiD5IzFVDJGZEFBqKuJIIzDJCOGZLCFyK1FOG3U3BdG3QaFyBdHKLCFILuBFQaJxGLDRB4DLGOG3B5EcB5F8////IeJxJDFpGS//DHG3EFFpMhD5DHDVFpH5NaDSO3MhD5DLK1KbFjDLB/I1M1IrEcI1I1MBK1ELGZEhFpLCD4DHG3FpM1C2C///MLHiD5JxF8BoK1E7NaLgLCB/JhNaKhDVK1H5GAGDJh//F+DSJDJxHQFcE3GMDgHuHlGXDiI1IKJxGFIrMuIKIVDGM7GFE7JxCeEFK9F8EuEaDLDXFIGOGXEFDRIeJDIKIjFcIzF8K1DXEsFpIrDVIyMuDkDLFIEOHAGXGFDSH7GFJxI1D4IeLYGxHXHfB5IwGlBGI1H5FPIKGvF6I1FZJxM5B5QLHAFIGFCOGiGXCbIeGrIlAAIyDgBGFcSVDiHQCgGCDODXOmE1C5LCKhGDIrFlMrJuCeFKIeJDM7D4CbFJDoGpFIXsHIEXIlCNPTEsH3QLGiIeDgB3FbQLM+LCGOJLJ3LgIDB/D4GACeIzC9IKDyKGIzETCgFIEOMULkIXFLIKBDCeG9BEHPFICJC9ByGAFIH7GzEuCfHKHfGzIKHfSKETHNMyHAMLFLKhLCGFDPLYIrALHkDVCJIKECDgGFEmDVFBDBEwGzDLCxI6DLGDFIGzSKFIFIDvCJHkFhFkIwIKMiHIHfIOGrD4CLB/FICbJLExDBIzESH7IUFOHtD///D4HkEaD///FBGOB3HwFhDGFLGrHwHb//FIKhIRG+F0DXFZDyEsGDMUDhHbF9EQEECnEEJREEHPDZFiEIEQIVFbGiGxIUGi//IOSKMdFFFgGAODGAN+JuDeSKIzHND7J3LkCLFgHAH7//EZ//SKLYHwGzHbDGEfEKHAC2I6HkSKRvIeFSIxIKIYGAFPDyGrF5EtNuRjFIIZHKHPGWVZG9FODVD6ETIYHIBEHPDeE1DGHGIMEmHKSKCbOkSKCbQLLkGKEhIYGAH7GzIHM7CbGrGxJRFFVgGDFhFhI6AAG9E1FkHzIKHPQLHRLYKPODVgKcEp//LMFxGvJRIVI6H/FhH5HtFgF9HIHIKrEoFAG8FIGAOqG9FMETLYVZGxIUD/DCFWAABaJLDLLYF+JLHbGAHzKPFIIBGUGAHIDPD/JLDyJ3EZDaDoODEIBEFhIjFeE1EeLkOmIVBGCbGKFlF2HsIdBEHEFxKWD9Lg//HKFIJ3GAIzF5RvOfAAFeETCKIYFBF+IKDZIwC2C2FlC2IKJLFBHPFeGUFbHfOAEF//IUHsKWVgHkJ3IVHtIYIZFuIBDlGFKrIRD6//GAFMDvOqHGHtG6FPIjIVGAFJCAGZEKBEFPLMFIFOIVUpJL//EEM9VgOqGzJLFhE0GFIUEoCJ//GAEKFFGCBGF2BEJuEaFhM9DLFkFlOfESDyF2FOIBICHiECIM//H7HfFFJ3CJIHMdCAGrNzIYDLCbGxC2D7ExFtEKGDIFORIUEfHADgDkNzODLYE/FbHAHPM9//FhDvDZEIDyBEDuGUI6I3//EuEKElHuDyGSFJFFFhBEMCGeIRFhOqJREID5D0ANEoVgKFGjLkDVFBEfF3DtEKKcFGHzJlNtJyEKDhEIFvH5DvKNDgJpHrGnE1H5D7GiLMEAJLGzCJGoQXDLAoF+I6IUT3DdUpI6FID/FOEAJLF2H7H7EKLkFJFWDaCKF3EhORFbDdM6LMIUJ3CbGSIxLMHfCSD7GSFiFGFkJ3EoCM//CZDyHtFEGZDlD5FkIwE2bFI3E2EFEqDXFILhD9F9IVKrJxIwGzM4GlHtFhEDFADqDbGZGUFIEJNzIxDhEoF9FCEeE0AoM4EALkDdBJF3JpBkGzIdODIYF8EeDIFEHaDXJpDXF+FkHMDvDVMCD6FlFlHQEQEFFJElF3FhDlDXGVGmEaHaORG1BEEFDdbFANCeDCIjNtDNFwM6KPHeFeFWGnEKEKH5AoG9OfCOKPFKIXJlGxHXGQHtD6GZIjM6G5ExM4DPEFHrDuDxN9UpJRHbFOHPHbEiF9EJEDEAEhJMGEHKG1F6GeEwE0ESCOHIFBGr//C4GUD6H3FMD0MGDlMGDsHHPJHAJGC2FxIXIwDuHHGrKNJlEMFIJLDvFBBEPnH/D0GeCJFCFUDgFeH/A7O3M6DSG9EKCOC5GeIZFGEMG9EFGZUpFbG9GQCOJLM6DCMHFGHHFuCbF9FAFMN2DLBkJpEIM4C1J5H/ElDbI3FGMCIYF5GKD6FIG9EZDvD6Er//JG//HuMGEeHrFWJMAND6GSMdErErC4JyByD5IcH3OAFBGCEqBEEZBiDgGrC1H3F0OqFKCqH5FtEdFKFPM6OkHHC1NiLMEID5CJHYBGQNChJRBGMCJDE8H5DMKhHQLvFKBKD5LMGVJMEtAgDYFINzHfCbCMFJDbEwF2CzRNHfHaF6FADnEIDYHkDSEJD6BVFkDyJyODCiF9EuMGHVB5FVEdF4BTDVGSCEGZCiFtBVGxBEFkH3FIIRDtC5GSGQGzDIFOInGlHMH/DXJGGSC3FIEEChEuHOF5GVChIwGSD0DaChH5E6EZHQSFJlDCDtJLD2IRG7HtD6PnFWIEEESKH5IcHVDVGQFJIVIdJ7FuHlB/COHiF5E6FmCKEKEwKNEBFZLWHHHk//DN//MCFIA7EJCbOkX0DdNmMGHfEhH5FSFWGrE6EZN7DhSUDXHlH5HtBkDgPJHQCaQNF9D5HkGYIUHfHlGoF9GYC/AADyOkGlFAIZHzEEMGD3GgFlF9G3CVF6F0NtKoFhJxHkBkIVOLFmD0KoDvF1FtN2D6CMMDHt//F9FMEVG2HMFAKPJ3FoGKCwHrEYO3PjJmC1PJGzFkE/OLBkFBGQI3HaFJEBMCD0G5C/E8FhCzDnD0EwCEF9CMEOFpI8F9C3H5CzHOCzDcEONMGgEKG5BkHYFHDaHaHXGLAoKPF2D6LJBkBGHtEMKrEwEMFKEhDgAAEZMQG+IZEbEtHQFACMFDGeD2I3AAHuN9DMCXDdG3DhEZGCCwHaGRHkI9FFFZHHH3DMIcFpEuFtAjGKCwE7FGEKGSAoEMDkF1I2GZFGDtDsMQDyGNN9JENtEZC/SUBkJGE7E6NiEZE8HtElHOG2FON2FlBkC3HXGpFKF6IOF6DsDaH5FWO3ChNzFJI3Dc//DyIaDjFCB/FlC/IdEAD6GSFADhEYCKX0JUFOK0HuESCzN9AAFaFsOkDIFaF2RCGrGSH3ErDMFSFsFVFUSFC5HHEEGrFVHNChF9G9EaJEFlGZIZDsClDbC3ClJ1G2LYCfDhD+D6DaIHGSGZG0NiSUHaJpDMH5CiG2E6OfASP3DqKPJjGzI3DCDSMDCqBWIEJGKUC4GlM9OLEJIDIZICD6GeHGChIPORNpJzGkFZDdTVCiFRDdBrAOFVFJH3DcBXF+F5F+C/GHFpEYE6DaH5E6DbD3FSGYDMGSJzECDBFWExBGFZEKF9EqCqFFIMOfC4PJK7D0FVAOH/SFFKDCFJLJDaFADbM9F7FoC5DxICG6JUD6E/E8GYFID0FOG0SUEkHaKrDgC5EdHYBkMQHuKoLgFSGMF1HZAJFADgG+BkMHGtAKPoFXEcAAKsI8DaFAC/FCMHEwE8G2O3F9I2SUJxBVJUEhE8DyDbF9IZIgGoF5LXDbX0HhI9SFEEGEDhEZNzE8JLIgGLEqMQGKDSGPF8HMSFG6E6HXFUCTPVIOGXAAE8B/HYI+G2DLK0CiEiTVFKHVIgNzHsHuC5DbCOF8HGIgRoFHQNG2FpSYEMEIDnACFkFVCwICJYEkIZIgMHD4K0I8NzK0EwGEHzLIDnIuFpGZ//FWHbGXFPMDI+G2DLHZDcHkI9FWLILwDcEYDaFSFONiICC3GVEbGEF5H/JGNOG6LhAcKsChG6PbCwF5EFAeJUFNFUEGEVFANORCD6JsEOI0FsGEHMDdH8EMFHKZGSSyDgFFIZG7HkHNG2F8F8EvKAFxBkEdI8FJDaGPGPI9FBJLEkHkI9GSHXAjJmHYM+GSJEPVGPEMFpHkDhM9BkJEE6FAJLH7FSAgHZDgCqFSIHTVMDD0E6DnDLG0CuHVKsCJF7fFIEIdDCFHGtBkAaIEEiHiFdJsJEAjICDPFJKPLgRNHzI9DdBkAKCcDLHYHODvHXGFHkClDgFWI9//G3JrK0GoGEDbDbPjEWJ8MRNzB/HkIlFSGvIEDgJsGfG2HOIOTVGEHbI+G2DaJ7NiIOGLCVHbOLAaMHNOEJAK//Gl//J6GSFWG+//PrHYEUGMHGI9EiE7JpD4DNLV//LgGZG+FKEwHOEvFFJLLFLXHVJUClFFMHG6EdIZFBNtLF//IMLFF5E/DLEkJjGPASMQAxLFFRGtID//EVCqHNJUHzHNDANzH7FqHYHKIMBJDSP2HFITE4D1LXCOI6DbI8FEKOG5HyHPCIAgGXIHHNDaFUFRITAaD+LF//DcEkJ1GPC/SFAANOK0EiEVDK//G7GBLXEiFSEzFWGEFlFBAoAaRCCiGFDHWCGEHYFAHiHQAjCiGEDAHZGFNzIlD6KTFJL9L9H4G2FHEBFNFDDyAgHzFUGXFWI+E4G0HNGAMHEdB/CiIgGBOkEwFaF8UoDPPJINIDGHFpD3FpEHE6GMC/HiFH//D/J6LXEJMGFpEzGMMjH3PoAgNzFWFlGrErI0AaH7G4SQGWDgCCHPHHEHFKDaACEzG5HOMcEFDIEFIDNzEBDkPbKTLXSUIcLXMcLwI0GFDgGWDjBnQ4NqJmGJFkBXFpLgLFBtGPGkDtDcGvDKJmBfOPHqSFFlQ4JYLgHsI0FcFNEQ//HfCHHzE6FkOPDMIZG2DhFpJ6Jm//Dx//EkFvGWG7GLGMGEI8G2D2AgGj//F8J8K0ACMcBkHsG+DcCTHiG2JmH7FpE2E8GPEcCOFBEbUYJmH7RCIDE+PbC/KkOPEvE6EHD3F+COLXE1G5JlEzFkEiJs//EzGSJL//G5GAF4FCAOL3EAGSC8DMFBFZGtRNJYChFkEUF7BVD6UYHPGEEIHyHzEPFBDcPoDoJEGlE2P2ABIcGVDNDNAa//GWJ4D3IZEOLKF5EvGtHtB9PVH/HyIcNORCFdLFEGG2Fk//LcE6ULEIGWFNRCDcDcGMGcCgMsDyF8K4GiIBCzCmH+FoLKAHIBH/F5J6EiFOFKOPHYDfDNChMKH/FVAoG4HbKkG5CVEbGSHqHEHBDpNpMsNhGfGHEwG4AjIYHPJCE7EUEvGo//EcMDEbFqFBDNLSJ7IDGoICLKKUDkPrHEJlNzEZGXF4EGHiWCF5DRHQA3J8FP//GNNzH/NOHMO+F5SyMcEGF7GkCIEsCkExGvE/C8EzFZJ7GB//EIA3FBEIGNKOB1G4DyChQvL3ETHuErDNFTGP//O2DjLeFXH7EiGuDRDpORE6HsJ1GTH7FkAoFJRcKkEUB/IdDhHFGlE4FRC/E/AoGgFuI9ELKkMqAgG7H7CJHFDKEkGrAAQvDoGzHEF4DXJmDkFFLKJ8EWFhH5EBA3EiC8MiC3GNDfIbLKKgJ7CqJ1BYHBNqKTC/J1H4E3HNC8CqIHFsE0PbHtG2HFUoB1DyFVMuHNAKFpDjEHGBGlCiFSCvIyDnGPEHF7G4F8CTFKE4LdFqMcDnF8JCHDGSLgDjFhHFFhG4LJEIFFIcH/EdRWETELDXHkEHIHFqFjFKHNFXO+HFJm//G4AAK/F7HaGE//GRHZEbGiFtEGIuCmLFS9BfS9FjGXEcFFFGFXMDAoDjCJFpETJXEiKOAACJJrIZHNG7FXAxDcFjFpE3OPGTHyFaG4FUG2S9GrHEIuC/E3FcE3D7FpJ8FtAJEqFqF0IYCTNqIHHyLUEdDuL3CcGgFJFUELHFKkJCCID2KkC3MjFPL9E3DRIHWCH+IBGAQvKKEaMKLUJ8CIG2I4H+J7ELF8FjC4HFExCvGTFWDwMBFTFSGoFkC/GiEdD+EUQvABNmEHLcCJDjEAEiGfGgDpEcJ8A3L9GjL9WCGuSQJ8EeIwPdFkDMJXNmDxCqEHLgGlDxGgSQG5DxGoGNGNFhE6GBDuK4D0//EMGuHtWCDNHEJCKOJYMsE3DPDuFaPVF0EpDPGGEGULG5FoRCL0MsDuKOGjSQOKEdEGFOGMEqLcFqNmCwFWD+GgJXFpHFE+DcABFaL9E5DxA3FGH7FpG4D5HsC3FoEcCIAAG2FZELFoFkA3FqEsF3E5HNDeFVE5DCF5EXHaOoEZE5H+HuDjGrGTDxDtB1JtHFGWEbAgFZJ4GrHtBfG4JYFKRcE9JXEmMcFjCcOPHgGTHgG5AgJYQvS9EHKkGOGqFhDjDZHuEUDuFNL2ARFuDWDyFbE+EqCIF5I3ABSQJSH8NvEHDiIYH7DMBXDv//GrJVDj//GNINFkEIIyGuJXE5FpJ8FlDnClABD+FPDDQyGoF8BOD7GiIpJpEi//EdFWHZE2DjFkD3EXE3EIDmHFC3MBFwGrHgDtO2AALcIbJ4HuRGFNFaKgI5EvDjGZEiGJEi//HvHuARGPHNJVCIE0HYFd////F4SQS9LJDnDRCgFpEJWCDFLfEGEPGTGuEZDNK/F5ELULPKL0KkH7E0DzD8RWEJEBE0AeIpELDfA3D+//GrF4GcG2CIHbC4G4QyE+EpCmFdFoH+GiFqDRDpKgHFGgDjIbFoDwCTFTD5IRJlDfEcBfGrGqCmE5CkIGC/GmJTHOSUJlK/FoDn//FKEmImGoIBC3ErNvPdEXHZE+CkHNIwFPDpRCJzDCRCFOEaFKJ6FaA3NmIpG+MBFl//GmGmMjIbFoMuFSEZEmEcLcGJHaAAGAIwFVE+D+KgJrFuHE//EiFFGpJVFPLJBYDnABE3FaFdIIO+FSI5FKDZQvHTDvLACkLKE7GuDREmFxFlEXDnRWGlEaFbCmGuO+FKE5M2FoIY//F7K4E3MKGPFaFKHLHYDsIpG2FcHcD+FGMBFPFKErMAGODjDRGt//G2FoE3GBFO////FoHgO9PdGrKZGpFSS9QvK4GlHlHOFKRWIVDvDFGrIYErNvSyCrHNGjGiKoE8MKEiGmK4FZCjXmMBIVI5IDDAIIGqGiEdD8JlDnF4MjMjFHOIGANAFwH5PCIIEiEQHDFVE3IyMBGqGqOeLKDpG5FXDREZDwFkFBGZDVHyGqG6FZCVLUC8MuCPCTG5DnF3IYDvDjE5ExF5EdF8GtEcMVE0MVDAGZCKGfKHA3G0D7FZFbEqF4JTGAJwE3IpPXGADrEHMAFKAKDXGeFSHgJcFjLUHpD7PKEUIwCICoEUDVE5JcEHFaEHK5GjBYHyCjDjF+L0C5ExFSJpEGNmFPDZHaIwE0C5EcD2GqG4H/E6GuI4HDFHGAIlCkG1HNIIULFjCjO2GAKkAAC4AAEdMAE8KOIVCmF4HrBhLAEUI4QyFBBJGAGuGmHeHpDcSyGpHECvHgF0JFEXO2FKGZAKDeBJK/FkKOEUQyEZF5HLDFE3AAIYDjHFG2FAI3H8G1HyFaAADjMBMVHBGjF9EJBJE3LUDDCg//CqKOD2GjEVKkFHDZE1HuCJ//FVF4FKJy//MBFKHpC2O9ErE5F5FaGlNpFBEJItMqEXGuG1F9I5FPD8C4EMFKGiGJEXEXCgCIKkC5F4PdESGkMWFaDpIBFaGTOLI3GkDDDjEoGuL2BkIpF9O9E9E2I6EQDNFkFeFKDjILHgFlC/H+FcFBNvFKE+DjGpFOGNPeOjLkH8FNFcIVIRIcJYULC4IJHcFOLNHKENEkHOHbG3SyFGDjL0GHF4DwEHF4DbGdI6FoL1G3DZC4EcK5DFG5BYNBCVGjULKOCjDaEVF3//OLHNHeHUImB/HfbDFNEXDsNvGJF2D0FSDeHOJtDoEaHlE+IbFSGBEHGuHpJUKgDEGsG6HgGmPdEiG6I5FvHNHeFKFZDFFk//KZJyJrGI//CoGiKyHeJSJ5GODMCRE+ILDwHDIlGeFSGjH8E6DFBhGPOLEdHbEiGtGjEiGY//J4C/IHFaD0E0HZFHHpD+FLKOHREcGqGZFVIlCjDAKZGjK5BJF4JyEdHYNvDoJEFdFPFBF4GlHNLACFFOGbI6FKErFaJmIdF0EZGOGgKOHDIl//FK//DNEdFZIBFYFbFaCKFiDwGAE+EvEL//DaF4KZHDGjDEHv//FWMkF4EiK5EJCaKyCgGjIYDNGJJFHZPFDADaMWMBPKG1HuGLFdFPFAD+HbDjHFFl//HlF4JEEVDoDsRWCvGQHlC/G3EwD8FHFVDlHLHnJpDwIuJtFZF1FWDDK4EN//SyHpEXGMHwHcEHH5KZHrDEGiGNIBDADAHDHpIwF3DnIlHnF3MAAADxHgIFIlH2FkFZGuH5FdFcGkHTFbCgGYGqMWF3JwMBHnH8LNHDCqHlDwJcF3KOCaFZGAEqPKOLHs//KOF9JTAADANBAqHcHTKOF3E6BtEcIlF4IICgGBFVDfF4LNE5JGBeJGGr//GBGAEvEkJGMVEXFnFbEdGdDpFZATGpF4HqEwILGjT7HOMBMVKVDfDT//FcFnDNRbHpDFGADYGAE5DOFvEPIdC4CkI5ILHBDOGBM2M2T7H6EdFaLsHNF0H+MBHnDTEdBkEDDDEsHDKVM2LkIYSyScGIFKFKG6BtKSGcHLOeT7JyDZFkDDHeJlB5DlGPAAJcHBE+GpCRCVDDCoDOGeLACvFHbDHgC/GODNGOD7EqHdEkDwDYChGjGkC4IpHgFHFwG5MBEkJFENKoHLFNIDH+HBGYC4HJFbEVJkHrHrHUFcJENAIREPFvHlGAE3GlESFV//EMEkC4FcHOC2H2HbFuGA//E8ErCuJwDNF2FBI5FgDjGdFYHgEPNAFPFv//H+D3GOGYFAJlPeC8EXGfHwJVGOCoDGGMEdD8FPL0HlI0JFGiXmDoIpFAXmILHlGQErJtH6JPI5HREPFVDaDEFiEdGtIyJbJtOeEdC4//EtI0GjEQGlFCMkD3EZEQDsE6CKFkErGlAA//FBFCEXNvIFFGH2FnOeIyIyGYCsFiDTJGF0LAMVKuEdH8E8JtHBC2IyI5XmFcH9MqELENErG3OvAAIYHgG3DwHqEMGiLNH4K5EwH6EkFZImKSGbLCE4MWNmFVMWDwIfL3FBHDFbE6F9//FlMbFZMbDOFkGALCKVDTMdILGYEwFVLMMbJGJyHqPKGtHGFyGMMqErDEDjJjS+DwLkC4E7I6EtEHKVIELpAiSaHlBtAAEo//PdD/I0E9DDM9JlMkDOHdEsDTGtEdDTEQFZFBFBNAGfEkFsDYE5FgDX//T7//KOHyMWDDDjE4DEEXLNDED8S+NBGi//GaDlHgJlC4DMDDHDHrAALpAAT7FYH8FeFeD/GADODxF0EQHy//DNJ+F4ImE5GpDwIzElHbFYC2//FbXmFPJGIYLBDmFGJjGfKyFFFiGjFGJnHsJyLAESUnGYCeDTKVF2GwJFItFZOeDwDjFnM9LpEKFgHqGADmDrFcE4CzDOHYD4GdDDC/J4NAHRD0HJ//JFGT//IdEkDDELE+KSI/LsQhGYKnJFD3D+ILFeEoC4GfD4C8X2GjNAD/JkCZBNGGbDHDG2IVHqCgGPIsETDN//O2CRGfEQHnH9I6GREdE9KHEhEtEDIsE5BtE1H+FZJEDlCqFVKSF9CoEDH8D3JtK6G3DrQhFd//F9ETB/LMOvbDLpGjAAS+CAHqHbE5G+FwBtDWUnGaGAHJCRLQI5B/IsGKCREPGMDWKyLkFV//D2CmKyKoLQHVJrBtJ+F0DOHzKNDTFeD3JkGjFdDwDwDUDrGi//MLFYHnGQLMGiAyI3CyDaGGM9CEEXG6GjIpDDF3C2FYNBE4KVLsBcD3FkDUD3DTEoHpAqD4DELsJwCsKVKoC8GiJS//GjDMGbJEHYKwGcD6EJL3C/CUFiONELENG+DjCyElG5KnISFVHyLQISDMHYFLFjL3//IdF/HDHwKeKoGBGjGVGQJkM9HzISHyEBHYLpGwJFMsCEJ4BcHOEQNmI6GpG1H9LsL3D4DjIdF2DMPTJyCRC8GiBzFkGaKnNaEkDwEfHnHJHpF9EQ//GMAUKoGcHRKwKnFdDcFYEoFwFjDDI8F/IoGwONE4EQH8DMGKHnGKNADWS+IFJwIsJwFvGjGVKwGYH3MVGQE1AHEjKeDEC0KyBpF7IYDEFdNaMyLsDHJyJ4F3F3F4HBH6FvH8H8FdC9C+GwMbESIYKnKNG+AsFdHyHJGQXmKyG+IoFkDrJuEBDDDNIoEkS+GaG3GbGGJrDEGKFvFvAHHBDtDrHpE+HBF3DjGaEFJFCeGwESF7GcFnGaFjJEDrIdHnHYAbEKDwMyDHKeFYG3EdELIoKuEVDDIYCeCoHLDuJFF9DUDtNAEjJ4J4H6I/GjKeGTGiGfKoI/FKLSJwFGGBIvHzFjLMIvJ4IjDxGkEVDTGwDHKnGwGwPbJEPTMLGQD4HqJkEkFGAADTF3F9D2KeNmHnMLSQGQFlMbGGGwFlF9AHJyISKnIYFLIvJyD7EkLJJ4KyI/JuDWEDDrFvKBCbKnC9LxOIDwImGkESJkJBF2DaGjH6F2LCNaDtHzJ4NACyEhF9CUMyQkIoDxEkDrKyElF3KeGBNaFvDHCCONGdEkEjG+MLNmGrKNE4MXIoISESDFDVF9EKJuD+DEMyEcMEF3DtCUGkGkH6MyDrF9NaHJMELJF7NaNaHZEjmBLSFlCrQkFjEhESJuKnEjMjHpHJIvAHF9HBOIEwGwCyAiDrGHMbDTMyH8E5MLCCBPFpIjFLKaIvAGBPEUFqLsDHF2AIGwEKHZKnH6DaMbI/H8F9HqIvluGwF9DpMdIjFpSQGwKXNmD8MVF7HJIJGBEKH3CeE3MEGVM9HpDWcEHZJuHZD4GSIyKtC9FiE3FslgD+SfEQLSMdBPFpLJH7/+HJElF9MdIJIvDrEjC2D+F9/8GQIoFW//C9AGELGReVOIAHJCEwHBKfIJLSKNNmMuKNH3KXMLFpD8HQIJMLHJC2GzCrKaIjMLHBDiC9HJOIH7JXJiFiJCNAMdKfF9C2OIHZGHQkE5VXC3OIJJFqH3NmF6Dri3FlD+GMKNLSFqF8itH3HQFiMdF9HpGMG1FlMECrHQE3IoBTF6EwJJJJGqF6CrKaFqAGDCH7Gk/kKzEzDpF9DiIjESFqD+KXHQESDbIjFqC2EQC9C2F9HBD7HZGMDrH7F6F9F8D8FsHBLLHBFlLLH8IbIJHBF8EwD7IjH7GkCGHBHpLSFzCrFqJJGRD+EXGMH0GqGHM8KNFqEjFqPwD5FWKfOIIoIoGqGZKfGRDpIjBnBnNfH0ESEjGXHBHBC9D3J/C9GpGZDpEtDrBnGRHBCrDyCrD8HBHBGMBnBnJJGRHQD8KNGLJJHQGmDbDpGZGHFPDbESGMGCC9EgAWC3GhJKGMH0EwEjH0HBESCWGMGM//CrGZMMHBFUIlL5DyFqFWM8H0FkAWFjAWFUBnM8FcEzDbCrM8GZD8D5EDGREjMMGmC9CkJKHBH0DyIlBnGhGLGlIlFjDyCSM8CGM8DiBwGZEjC4EzLLH0DyJsLLGhIlKfGlJsDyJsFUJsI8I8IMJsEFEFEFIMEFI8IMEFIMEFI8", "/+REZmAAAAREAAZmAAERREAAERERERERAAAAREAAAAVVRE//AAREERAAAAERER//ERd3AAERAAIiAA//AAER//AAREZmAAAA//AA//AAAAAAVVAAMzAAREAAAA//ERAAAAAAAAERAAERAAAAIi////REAAIiAAAAIi//AAERIiMzAAAAIiAAAAAAAAAAERAAAAAAAAAAAAAA//AAAAAAAAAAAAAAAAAAERAAAAVVAAAA//ERAAERAAAA//ERIiAAAAAAAAAAAAAAAAAA//ERMzERAAIiAAAAAAAAAAREd3AAREERAAAAAAAA//Ii//AAIiAAIi//AAAA//AAAAERIiAAZmERAAAAMzERAAER//AAERAAAAAAAAAAERAAIiAA//AAAAERd3AAAAAAZmAAAA//AAERMzERAAAAAA//AAAA//ERAAAA//ERAAAAAAAAMzIiERAAMzERAAAAERER//ERAAAAAA//AAAAERERAAERAAAAAAAAAAAAERIiAA//AAERAAAAAAIiERERAAAAAA//AAAAAAMz//AAAAAAAAMzIiAAERERAAAAERIiAAAAAA//ERAAAAER//AAAAAAAAAAAAAAAAIiAAERAA//IiAAREAAAA////ERAAAAAAIiERAAAAAAAAVVAAAAAAAAERAAAAERAA//IiAAERMzAAAAREAAREAAAAAAAAAAAAERMzAAIi//AAAAIi//AAAAAAAAAA//AAAAAAREREAAIiERAAAAAAAA//AAAAAA////ERERAAERAA//AAAAAAERAAERAAAAAAAAMzERAA////AAERAAAAIiAAAAAAAAZmVVAAAAAAAAAAAAZm//AAAAAAAAAAAA//AAAAAAERZmERAAAAAAREAAAAAAAAMzAA//ERAAAA//AAAAERMzAAAAAAVVAAERAAAAAAAAAAERERVV//AAAAAAAAAAAAAAAAAAAAERAA//AAIiAAERAAAAAAAAERd3ZmERAA//AAAAAAAAAAAAAAAAAA//AAAAAAER//AAAA//ERAAAAAAAAAAAAAAAAAAERAAAAMzAAAAAAIiAAAAAAAA//AAAAERAAAAAAAAAAIiER//AAAAAAAAAAAAAAAAAAAAAA//AAAAAAAAAAAAAAAAAAAAAAAAERAAVVAAAAAAAAAAAAIiAAAA//AAAA//AAAA//ERAA//ERAAAAAAAAERAAAAAAAAAAAAqpAAAAMzAAAA//AAIiAAAAAAIiAAAAIiAA//AAIiAAAAAAAAAAAAAAERAAAAAAAAAAAAAAMzIiAA//AAER////AAAAAAAAAA//AAAAER//AAAAER//RE//iHAAAAAAAAAAERAAAAAAAAAAAAAA//AAAAERZmAAAA//AAAAMzAAAAAAERAAAAERAAAAiH//AAAAAAiHAA//ER//AAAAMzVVAA//ERAA//MzAAAAAAERMzAAAAZmAA////AAAAIiAAAAAAAAAAVVAA////AAAAAAAAAAMzAAAAAAAAERAAAAAAAAAAAAAAAAAAAAAAIiAAAAAA//AA//AAMzAAAAAAAAAAAAAAIiAA//AAAAAAAAAAAAIiAAAAAA//AAAAAAAAAAERAAAAAAERAA//AA//AAAA//AAAAAAAAAAAAAA//ERAAAAAA//IiERER//AAAAAAAAAAAAAAAAAA////ERAA////MzAAERAA//AAAAAAER//AAAAERAAERAAAAAAAAAA//AAAAAAAAAAAAAAER////AAERAAAAIiAAAAAAAAAAAAAA//VV//AAIiERAAMzAA//ERERAAAAAAAAAA////AAAAAAAAAAAAERAAERAAAAAAAAAAERAAAAAAAAAAAAAAAAERAAAAERAAAAIiERAAAAERAA//AAAA//ERREAA//AAAAAA//AAAAER//AAAA//AAAA//AAAAVVAAAAAAAAERAAERAAAAAAAAERAAAAAAAAAAd3AAAAMzERAAAAAAER//AAAAAAERERAAAAAAAAIiAAAAERAA//AA////AARE//AAAAER////AAAA//AAAAERAAAAAAAAREAAAAIi//AAAA//AAAAERAAAAIiAAAAAAAAAAAAAAAAAAAA//AAAAAAAAAAAA//AAAAAAAAAA//ERAAAAER//AAAAAAAAAAIiERERVVAAAAERAAAAIiAAAAAAAAERAAAAERAAAAIiERAAAAAA//AA//AAERAAAAAAERAA//AA//AAAAAA////AAVVAAERERAA//AAREAAAAAAAA//AAAAAAAAAAAAAAAAAAAAAA//AAAAAAAAAA//AAVVAAAAAAAAIiAAAAAAd3AAERAAAAAA//AAAAAAAAERAAAAAAAAAAAA//AAAAAAAAERAAVVERAAAAAAERAAAAAAAAERAAERAAAAAAAAAAAAIiERMzAAAAAAiHERAAAAAAAAAA//AAERAAAAMzAAAAAAERERERAAAAAAiHERAAAAAAAAAAAAAAAA//AAAA//ERAAAAREAAAAAAAAIiAAAAAAERAAAAVVAAAAAAMzAAAAAA//AAAAERAAAAAAAAAAAAVVERERERAAAAAAERER//AAERAAAAAA//REERERAAAAAAERAAAAERAAAA//AAAAERAAAAAAAAAAAAERAAER//AAAAAAERAA//ERIi//AA//AAAA////AAAAIi//AAAAAAAA////IiAAAAAA//AAAAAA//AAAAIiAAAAAAAAAAAAAA//AAAAVVAA//AAAAAAAAREAAAA////VVAAREAAERAAERIiERREAAAAAAAA//AAAAAAAAAAAAIiAAAAAAIiIiAAAAAAAAAAAAAAAAAAAAERAAERAAAA//AAAAAA//AA//ERAAERAA//AA//AAIiAAAAAAMzERAAAAAAAAAAAA//AAAAAA//ERREAAAAERMzERAAAAAA//AAAAERAAVVAAAAAAAAAAAAAAAAERAAAAERERERAAAAAA//ERAAAAAAAAAAAAAA////AAERAAAAAAAAAAAAERAAAAREAAAAAA//IiAA//AA//RE//AAAAAAAAAAAAIiAAAAERAAAAAA//AAAAAAAAERAAAAAAAAAAAAVVAAAAAA//AAAAAA//AAAAAAAAAAVVAAERREERAAAAAAAAAAAAAAMzAAAAAAAAAAAAREAAAAAAERAA//AA//AAAAAAAAAAERMzAA//AAAAERAAAAd3ERAAAAAAERAAAAERAAAAAAAAAAAAERMzAAAAAA//AA//AAAAAAAA//AAERAAAAAAAA////AAAA//AAAAIiERAAAAMzERAAAAAAAAAAAAAAAA//ERMzERAAREAAERAAVVAAAAAAVVAAAAAAAAAAAAREIiAAAAAA//AAAAIiAAERER//ERAAAAAAAAAAERERAAAA//AAIiAAAAAAAAAAAAAAAAAAAA//AAAAAAAAREAAAAAAAAAAERAAAAAAAAAAAAIiAA//AAERAAER//Ii////ERAAAA//AAAAAAAA//ERAAAAAAAAAAAAAAAAIiAAAAAAAAAAAAAAAAAAAAAAERAAAAAAAAAAAAAAAAZmAA//REAAAAERIi//AAAAAAAAAAAAAAAAIiAAIiAAERAAAAAAAA//IiIiAAAAIiAAAA//AAAAAAAAAAAAERAAAAAA//ERAAER//AAAAAAAAAAAAAAAA//AAAAAAAAAAAAMzAAER//AAAA//AAAAAAAAMzAAAAAAAAIi//AAAAAAAAAAAAAAERAAAAAAAAERAAAAAAAAAAERAAAAAA//AA//AAAA//IiAAAAVVAAAA//AA//AAAAAAAA//AAAA//AAAAAAAAMzAA//AAAAAAAAAAERAAERERAA//AAAAAAAA//MzAAAAAAAAAAAAAAAAAAAAAAAAIiERAAAAAAAAAAAAAA//AAERAAAAAAERAAAAERAAAAAAAAAA//AAAAAAAAAAAAER//ERAAERAAAAERAAAAAAAAAAAAAAIiERAAAA//ERAAAAAAAAERIiAAAAAAAA//AAAAAAAAAAAAERAAAA//AA//IiAAAAAAAAAAAAAAAAAAERERAAZmAAAAAAAA//ERAAERAAAAAAERAAERAAAAAAAAIi////AAER//AAERAAAAIiAAERAAREAAAAAA//ERIiAAAA//AAAAAA////AAERAAAAAAAAAAAAAA//AAAAAAER////AAAAAAAAAAAAAAAAAAAAAAAAAAAAAAAAAAAAAAAAAA//AA//ERAAAAAA//AAAAERAA//IiIiAAAAAAAAAAAAAAAAERERAAAAAAAAERMzAAMzAAAAERAAERAAAAAAAAERAA////AAAAAAERAAAAAAAA////AAAAERAAAAIiAAAAAA//AAAAAAAAAAAAAAAAERAAAAAA//AAMzAAAA//AA//AAAAAA////ERAA//AAAAAAERAAAAAAAAAAERAAAAAAAAAAAAAA//ERAAAA//ERAA//AAIiAAERAAAAAAERERAA//AA//AAAAAAAAAAVVAA//AAIiERER//AAVVAAAA//AAIiAAAAAAAAAAAAERAAAAIiIiAAAAAAAAAAAAIi//ER//ERIiER//AAAAAAERAAAAAAAAAAAAAAERAAAAAAAAAAAAERAAAAAA//AAAAAAAAAAAAAAAA//AAAAAAAAAAAAERAAAAAAAAAAAAAAAAAAAAAAERER//ERAAAAAAAAAAAAERAAAAAAAA//AAAAAAAAAAAAAAIiAAAA//AAAAAAIiAAAA//AAAAIiAAAAAAAAAAAAAAAAERAAAAAAAAAAAAERIiAAiHAAiHAAAAAAAAMzAA//ERAAAAAAAA//AAERAAAAAAAAAAAAERAAAAAAAAIiERERAAZmERERAAAAAAAAAAAA//AA//AAAAAAERAAERAA//MzAAAA//MzAAIiAAERAAERVVAAAAAAERIiERAAAAAAAAERAAAAAAAAAAIiER//AAAAAAAAIiAAIiAAAAAAERAAER//AAAAAAAAAAAAERAAAAAAAAAAAAAAAA//AAERAAAAAAAAAAERAAERERAAAAAAAAAA//AAAAAAAAAAAAAAAAAAAA//AA//AAAAAAAAERERAAAAREAAAAAAERAAAAAAAAAAAAAAAAAAAAAAAAAAIiAAAAAAERAAERAA//AAAAERAAAAAAIiIiAAAAERAAAAAAERAAAAAAAAAAAAAAIiAAAAAA//AAAAAAERAAAAAAIiAAAAAAAAAAERREAAAAAAAA//AAAAAAAAAAAAAAAAAAAAAA//ERAAERAAAAAAAAAAIiAAAAAAAAAAIiAA//AAAAREAAAAAAAAAAERIiAAAAAAERAAAAAAAAERAAAAAAAA//AAAAAA//AAAAAAAAAA//ERAAAAAAAAAAAAAA//AAAAAAAAAAAAAAAAAA////AAIiAAAAAAAAER//AAAAAAAAAAERAAAAAAAAAAAAAAAAAAIiAAAA//AAAAAAAAAAAAERAAMzAAAAAA//AAERAAER//AAAAAAAAAAAAAAAAIiAAAAAAAA//ERAAAAAAAAAAAAERERIiAA//AAAAAAAAAAAAAAAAERAAAAAAAAAAAAAAAAERERREAAAAERERAAAAAAERAAERAAAAAAAAAAAA//AAAAAAAAAAAAIiAAAAZmAAAAIiERMzERAAAAAAAAAAAAAAAAAA//AAAAAAd3//AAAAERAAAAAAAAERERAAAA//AAAAAAAAAAAAERAAAAERAAAAAA//AAAAAAAAAAAAAAAAAAAAAAAAAAAAAAAAMzERAAERAAAA//////AAAAERIiAAAAAAAA//AAIiIiAA////AA////AAAAIiAAIiAAAAMzAAER////AAAAAAAAAAAAAAAAAAAAERER//ER////AAAAAAAAERAAAAAAAAAAAAIiAAAA//AAAAIiAAAAIiAAAAAAAAAAERERAAZmAAAAAAAA//ERAAAA////AAAAAAAAAAIiAAAAAAERAAAAAAERAAAAAAAAAAVVIiAAAAAAAAAAAAAAAAAAAAAAIiAAERERAAAAAA//AAAAAAAAAA//AAAAAAAAAAAAAAERAAAAERAAERAAAAMzAAAAAAIiAAAAAAERAAAAAAERAAAAAAAAAAAAAAAAAAAAAAER//AAAA////AA//AA//AAAAAAAAAAAAAAAAAAAAAAAAAAAAAA//AAAAAAERAAAA//AAAAAAAAAAAA//ERIiERREAA//AAAAAAERAAAAAAAAAAAAAAAAAAAA//AAAAAAAAAAAAAAAAAAAA//MzAAAAMzAAAAAAERAAAAAAAAAAAAVVAA////AAAAAAAAAA//MzERAAAAAAAAAAAAAA//AAAAAAIi//AAIiAAAAAAAAAAAAAAERERAAAAERAAAAERAAAAAAAAAAAAAAIiAAAAAAERAAREERAAAA//AAd3AAAAAAAAAAAAAAAAAA//AAERAAAAAAAAMzERAAAAAAAAIiAAAAERAA//AAAAAAAAAAAAAAIiREAAAAAAAAAAAA//AAAAAAAAAA//AAMzAAAAAAAAAAAAREAAAAAAAAAAAAAAAA//AAAAAAZmERERERAAAAAAERAAAAAAAAERAAAAAAAAAA//d3AAAAAA//AAAAAA//AAIiIiAAERIiAAAAAAAAAAAAAAAAAA//AAAAAAER//AAAAAAAA//AAAAAAAA//AAAAAAAAAAAAAAAAAAIiERAAAA//ERAAAAAAIiAAAAAAERAAAAAAAA//AAAAAAAAAAAAAAAAAAAAAAAA//AAAAAAMzAAAAAAAAAAAAAAAAAAREAAAAAAAAAAAA//AAAAAAAAAAAAAAAAERAAAAAAAA//AAAAAAAA//AAAAERIiAAAAAAAAAAAAAAAAAAAAAAAAAAAAAAd3AAAAAAREERAA//AAAAAA//AAAAAAERAAAAIiERAAAAAAAAAAAAAAAAAA//AAERAAAAAA//ERAAAAAAERAAAAAAAAAAAAAAAAAAAAAAAAIiAAAAAAAAAAAA//AAERAAAAAAAAAAAAAAAAAA//IiAAAAAAAAAAAAAAAAAAAAVVAAAAAAAA//AAAAAAAA//AAAAAAIiAAERAAAAAAAAIiAAAAAAAAAAAAAAAAAAAAAAERAAAAAAAAAAIi//Ii//AAAAAAAAIiAAAAAAAAAAIiAAERAA//AAAAAAAA//AAAA//ERAAAAAAERVVERAAAAREAAAAAA//AAAAAAAAAAAA//AAERAAERAAAAERAAAAAAIiMzAAAAd3AAAA//AAVVERAAAAAAERAAAAAAAAREAAAAAAERAAIiERAAAAAAAAIiAAAA//REAAERAAAAERAAERAAVVAAAAAAMzAAAAAAAAAAAAAA//AAAAAA//AAREAAAAAAAAAAAAMzAAAAAAAAERAAAAERAAMz//AAAAER//AAAAAAAAIiAAAAAAIiAAAAAA//AAIiAAAA//ERAAAAAAERAAAAAAIiAAAAVV//AAAAAAAA//IiERAAAAAAAAAAAAAAAA//AA//AAZmAAAAAAAAAAAAERAAAAAA//AAAAAAERAAAAERAAAAAAAAAAERAAAAAAAA//AAERAA//AAAAAAAAAA//AAAAAAAAAA//AA//AAERIiMzAAAA//ERAAAAAAIiAAAAAAAAAAAAAAAAAAAAAAAAAAAAAAAAAAAAAAAAAA//AAAAAAAAAAIiAAAA//AAAAAAAAAAAAAA//ERAAzLERAAAAMz//AAAA//AA//AAAAAAd3AAAAAAAAERAAAAMz//AAAAAAERERAAAAMzAAIiAAAAAAAAAAAA//ERAAERAAAAAAIiAAAAAAAAAAAA//AA//AAREMzAAAAAA//AAIiAAERAAAAAAAAAAVVERAAAAVV//ERAAAAAAAAAAAA//Mz//AAERAAAAAAVVAAAAAA//AAAAAAAAAAAAAAIiAAAAAAAAAA//AAAAAAIiAAAAAAAAAAREAAAAAAAAAAAAAAAAAAERAAAAAAAAAA//AAAAAAAAAAAAAAERAAAA////AA//AAMzAAAAAAAAERAAAAIiMzAAMzAAIiAAd3AAAAAAAAAAAA//AAAAAAAAMzER//AAAAAA//AAAAERERAAAAAAAA//IiAAERAAMzAAAAAAAAAA//AAAAAAAA//AAAAAAAAERIi//AAAAAAAAAAAAAAAAERAAAAERAAIiAAAAAA//AAAAMzAAAA//IiAAAAAAAAVVAAAAAAAAAA////AAd3AAAAERAAAAAAAAAAAAAA//ER//AAAAAAAAERAAER////AAAAd3AAAAAAERAAAAAAAAAAAAAAERAAAAIiAAAAAAAAMz//ERAA////AAAAAAMzAA//AAAAERAA//AAAA//AAAAAAAA//AAAAAAAA//AA//ERMzAAAA//AAAAVVAAIiAAVVVVAAAAAAREIi//AAERAAAAAAAAAAAAAAAAERAAERVVERAAAAAAAAAAAAAAAAAAVVERAAAAAAAA//AA//AAERAAREAAAA//ERAAAAERVVIi//AAIiAAERAAAA//AA//AAAAAAZmAAAAAAAAAAVVAAAAAAAAAAAAAAERIiIiAAAAAAAAERERMzERAAAAAAAAAAAAAAAAAA//AAAAAAAAERAAAAREAAAAAAAAAAAAERAAREAA////ER//AAAAAAAAAAAAAAAA//AAAAAAERAA//AA//AAERAAAAAAAAAAAA//AAAA//AAERAAERER////AAAAAAAAAAAAAAAAAAAAMz////REMzERAA//AAERMzAA//AA//AAERAAAAER////AAIiAAER//AAAAAAAAAAAAIi//AAIiAAAAAAAAAAAAAAAA////AAAAAAAAAAAAAAAAAAAAAAAA//AAAAAAAAAAAAAA//AAAAAAAA//AAAAER//AAAAERAAAAERAAIiERIiAAAAAAAAAAAAERAAAAAAAAAAAA//AAAA//ERERAAAA//AAAAERAA//AAAAAAAAAAERAAAAAAAA//IiAAAAAA//AAAAAAAAMzAAAAAAAAAAAAAAAAIi//AAAAERERAAERAAIiIiIiERAAAAAAAAAAERAAAAIiIi//AAAAAAAAAAAAAA//AAu6ERAAqpAAAA//AAAAAAAAAAAAIiAAAAAAAAAA//AAAAERERAAAAAAAAAAAAd3AAER//AAIiAAAAAAAAAAERAAREERAAAAAAAAAAAAIi//AAAAAAAAAAREERAAAAAA//REERAAER//IiAAAAAAAA//AAAAMzAAAAAAAAAAREERAAAAAAIiAAAAREAAREAAAAZmAA//AAAAAAERERIiAA//AAAAERREERAAAAAAAAAAAAAAAAAAAAAAAAAAERAAAAAAAAERAAERAAER//AAAAAAAAAA//AAER//AAAAAAAAIiAAAAAAERAA//AAAAAAERAAAAAA//ERAAREAAAAAAAAAA////AAAAAAAAAAIiERAAAAAA//AAAAAAAAERAAZmIiREAAAAAAAAAAIiAA//AAERAAAAAAAA//AAAAAAAAAAAAAAAAAAAAAAAAAAAAAAAAZmERAAAAIiREAAAAERERMzAAAAAAAAAAAAAAAAAAAAAA//AAAAAA//AAAAAAAAAAAAAAERAAAAAAAAAAAAAA//AAERAAIiMzAAAAAAAAREAAAAAAAAAA//AAERAAAAAAAAAAVVAAREAAAAIiAAAAAAAA//AAAAAAAAIiAAREAA////AAAAAAAAAAAAAAAAAAAA//AAAAIiAAAAAA//MzERIiAAERAAAAAA//AAAAAAAAAAAAERAAAAAA//AAAAAAAAAAAAREAAIiAAAAIiERIiAA////AAREERAAAAAAAAAA//AAAAAAIiAAAAAA//AAAAAAIiAAAA//VVAAAAAAAAAAAAAAAAERAA//AA//AAAAAA//AA//IiIi//AAAAERAAAAAAERAAAAIiAAAAAAAA//AAAAAAAAAAAAAAAAAAMzAAAA//AAAAAAAAVVERERAA////AAER//AAIiAAAAAAAAAAAA////AAIiERAA//AAAAAAER//AAAAAAAAAAAAAAIiAA//AAAAAAVVAAAAAAAAAAAAERAAAAAAERAAAAAAAAAA//AAAAAAAAAAAAAAAARE//AAAAAA//IiAAAAAAAAAAAAAAAAAAAAERAAAA//AA//AA//AAAA//AA//IiAAERMzERAAER//AA//AAERAAERAAERAAAAAAAA//AAAAAA////AAAAAAAAAAAAAAAAAAAAMzAA//AAAAAAAAIiAAAAIi//AAAAAAIi//AAAAAAAAAAAA//ZmERAAAAER////REERAAAAAAAAAA////////AAAAIiERAAAAAAAAERAAAAAAAAAAIiAAAA//AAAAAAAAAAAAAAVVAAAAAAAAAAAAAAAAAA//u6//ER//AA////MzAA//AAIiIiAAAAAAAA//AAAAAAAAAAIi//AAREERIiERAAERAAIiAAAA//AAERAA//AAAAAAAAZmZmAAER//AAAAAAAAREAAMz//AA//ERAAAAAAAAAAAAAAAAAAAAIi//AAAA//AA//AAAAAAAARE//AAAA//AAAAAAER//ER//AAAAMzREREAAERIiAAAAERAA//AAERAAAAIiERAAIiVVIi//AAAAAAAAAAREERAAAAAAAAIiAA//AAER//AAREAAAA//AAAAAAAAAAAA//IiAAER//AAAAAA//AAAAREAAIiAAERERAAAAER//AAAARE//AAAAAAAAAAAAREAAAAAAAAAAIiAAAAAAAAAAAAAAAA//MzREAA//AAAAERAAAA//AAAAIi//ERAA////AAIiAAAAAAAAAAAAAAERd3AAAAAAAAAAAAAA//AA//AAAAAAAA//AAER////AAAAAAAAAAERAAAAAAERAAAAAAIiRE//AAAAAAAAAAAAAAAAAAERAAAAAA//ERAAAA//d3REERAA////AAAAAAAAERERAAAAERAAAAAA//AAAAAAAAREAAAAAAAAAAREAAAAAAAAAAAAREAAAAIiAAAAAAAA//AAAAAAAAAAAAAA//Ii//AAAAAAAAAAREAA3cERAAAAIiERAAERAAREAAAAAAIiAAAAREAAAAAAAAAAIiAAAAAAAAAARERE//AAAAAAAAERERAAAAERAAREAAAAIiAAVVAAAAAAAAAAAA//IiREAAIiAAERAAREAAAAERAA//AAAAAAAAAAAAER//REAAAAREAAERAAAAAAAAAAAAAA////AAERAAIiAAAAIiAAAAAAAA//AAAA//AAERERAAAAREAAAAiHAAAAAAERd3//AAAAAAAAAAAAAAAAERAAAAREAAAAAAAAAAAAAA//AAAAAA//AAAAERAAAAREMzZmREREAAAAAAAAAAAAAA//AA//AAAAAAAAAAAAAAAAERAAAAERAAAAMzERAAAAAAAAERAAAAAAREREAAAAMzAAAA//AAAA//AAAAIiAAAAAA//AAVVAAAAMzVVAAAAAAAA//ERAAMzAAAAAAAAERAAER//AAAAAAERAAAAAAVVMzREERAAAA//AAMzAAMzERMzMzMzAA//AAERAAIi//AAAAVVAAAA//AAERAAMzMzAAMzERAAERAAERAAAAAAERERERERAAERAAAAERAAERAA", "npl2bCaIb8l2aIbCIHVob8IHb8PUK0b8SBObYVt9//kCb8//SBYVdvBzrQXbdv//dvYVVoK0SBWiS7//fiXbrQQOmvUuQOjJ//RI//QOrQSBHNrQsJS7mv//ObLuJ6QOS7SBLuXbObJ6SBQOVo//rQK0WiWiDnWiHN//Dnc1VoObbCJBHNS7MnaIJ6S7DnWiepAAepJBS7S7JBS7WiPUfiS7MnWiS7PUbC//MnHNPUmvWiQO//bC//S7rQGUqWS7S7bCObPUAAbCbCc1rQMnbCNhPUVogcMnWiPUObgcAAc1l2fi//S7JBAArQNhWiWiVoS7qWWiVoMnrQmvWiXbqWS7LuQOWiS7c1SBZPb8ZPWiNhQORIbCjJS7b8PUFajJQOK0dvb8rQS7MnS7CtJBS7J6S7c1epDnQOS7aIJBWijJMnSBObJBrQc1RIPUPUMnK0FabCS7epVoIHQOb8QOc1b8S7bCgcJBJBMnNhRIepk8QOYVbCmvMnjJQOb8bCIHS7XbepLuIHb8b8dvIHQOZPJBT1GUIHK0ZPYVWiJ6RIc1K0JBS7c1PUObWiVoVoT1PUYVDn//MnPUJBLudvgcZPXbLuLuEgvwNhNhGURIObRIFaLuIHJBZPXbXbLuLuVoDnPURIWiAAXbgcWiMnObK0epJBc1ObfiUuEgVoT1XbSBRIjJHNMnJBPUbCEgT1K0ZPNhb8c1IHLuepQOfiXbjJfiVofiQOiPObl2RIVoVob8RIJBPUT1epMnT1FaZPZPb8LuMnSBJBQOIHS7MnjJS7XbEgIHVoEgObVoT1epNhNhk8jJUuPUfiRIT1gcObXbEgZPPUaIJBObgcc1QOSBb8IHJ6gcepLuMnJ6SB//XbS7rQK0RIT1S7S7J6ObVosJVoJBmvIHUuRIXbT1aIS7JBLuPUJ6PU//PUbCSBb8FaLuT1XbIHMnQOIHJ6RIVoHNaIkCNhSBT1RI//ZPVoObQOJ6QOGUObkCObc1T1T1J6VoJBS7IHS7K0UuWiObYVjJepVoObJBPUS7FaObWiMnJBT1PUS7FaNh//ObSBbCObK0RIJBMnJ6fiObNhUubCfiObK0ep//LuQOVoZPc1VoZPLuXbWiLuObWic1XbA6dvZPXbMn//aIRIT1rQrQjJIHfiObNhWiFabCLuPUJBYVSBRIaINhaIepUuQO//T1jJkCrQSBb8kCJBNhNhQOgcYVMn//NhRIRIXbfiJBK0MnQOMnS7XbIH//fiEgJBGUfiS7NhWiYV//YVojWiNhRIIHfiJBRIaILuLuSBPUUuNhMnXbObObXbPUT1WiZPPUYVObRIZP//DnUuSBUuWiT1Xb//QOT1ObPUObLuAAXbfiK0ObSBLuFaSBaIYVYVaIYVFaPUSBbCXbojXbfiYVMnT1PUAASBRIepQOQOb8ObObJBYVQOb8QOsJObT1NhUuVoRIepb8DnMnMnQOWiXbIHSBWiXbMnepPUSBQOJ6PUNhPUWiRIRIXbfirQJBb8QOgcT1RIWiWiaIS7SBObXbZPLurQWiEgNhYVLuHNJBObJBYV//dvWi//aIc1fiaIRIk8A6HNIHXbS7ObEgaIRIYVJ6aIc1MnT1WiMnPUUuObUuLuS7SBJBObXbObbCWiaINhVoSBPUUu//aIojjJPUaIPUQOXbUuJBS7SBaINh//J6ZPsJNhRI//FaLuGUQOgcRIaIPUXbMnSBZPepS7QOaIVoWiZPS7UuQOaIPUZPSBVoiPUuJ6FagcOb1KJ6IHepObPUXbk8UuFaEgkCGUjJQOT1XbJ6jJObMnSBWiPUObc1c1WiXbSBXb//K0epLuMnXbXbdvepQOQOaIepS7epNhPUJ6epb8XbNhQOgcObAAdvUub8WiSBQOQONhaIbCLuObwqYVbCmvCtaIUuT1T1QONhaIXbYVVob8rQVoYVjJc1SBoj////S7S7aIgcT1//ObJBkCYVK0XbVoXbepJ6YVXbZPSBObNhObNhWiQOmvJ6mvGUNhUuVoLuWiObYVYVWib8MnXbXbepNhQOmvc1ObLuQOMnVoXbYVXbLuQOMnS7MnS7S7WidvNhk8XbXbJBQOMn//kCRILuQOYVUuSBZPRIObObb8ObSBMndvPUaIYVJBMnFa//PUVoJ6//S7SBbCS7VoT1//VoObLuRIS7XbiPb8ZPGUJBObQONhSBXbFaQOojObS7XbYVK0QOK0ObSBSBObLuYVUuSBaI//SBXbiPZPIHPUPUVoSBXbZPkCEgZPk8//PUUuXbkCnpNhdvLuWiMnQOVoZPWiXbIHRIYVSBJ6XbfiObQOPUdvS7PUXbSBXbaIT1YVXb//EgYVJ6PUYVrQ6kkCXbc1QOVoWiObPUWiObObRIaIVoYVT1T1LudvUuK0ObFaVoWiQOWiS7HNT1T1QOJBZPQOb8S7YVSBS7bCXbT1epUuMnrQS7JBRIUubC//c1T1ZPMndvc1IHrQPUepPUQOT1mvWib8S7//WiWiSBjJSBGUVoWiObUuUuLuepc1RIS7bChVEgS7Nh//ObSBc1QOb8LuS7NhQOb8YVQOPUhVVoJ6//K0RINhmvJBSBfiT1PUK0T1S7AAT1UugcJ6epjJSBfic1RIRI//NhS7ObpcS7VoepObXbQOSBRIVoUukCmvLuepc1ObXbS7PUS7Mnc1S7aIepObLuS7//MnT1WiQOZPS7S7PUepsJkCMnObZPXbJBXbVo//b8T1J6ObSBT1zXSBJBK0S7QOdvPULuK0K0WiQOiPSBYVIHSBVoRIojAAJ6hVnpObaIc1WiVoPUK0NhLuSBaIVoMnLuRIjJaIVomvK0//MnYVSBSBWib8b8T1QOK0ZPPUNhK0UuPUZP//QOmvc1VoUuWiWiXbK0YVhVaIT1S7RIb8JBS7LuNhNhK0YVT1MnK0ObLuVoK0c1//ObObJ6b8aIT1XbepiPUuUuYVRIXbWiu2FaMnNhSBJ6rQSBXbNhYVMnYVVoObVoQOSBc1WiYVPU//EgrQLuQOWiGUjJPUObVoiPUuPUc11KLuS7LugcVoT1hVMnPUYVc1ZPLuQOObaIkCYVb8UuFaYVWiMnc1QOGUIHUuLuSB//T1RINhWiS7S7WiFaObYVZPepQOVoUuVoGUbCVoS7aIc1S7u2QOxjK0iPS7YVSBS7GUb8iPPUc1UuRIu2PUXbQOS7S7IHSBK0AAUuXbS7ObRIObaIVoIHS7c1//VoYVLuaILuPUc1EgMnYVbCsJJB//YVYVc1ObS7T1b8SBb8Ob//SBXbNhS7ZPSBQOgcRIOb/+b8//VoaI//zXObWiS7UuaIMnK0Wi//ObMnUuUuLuVoQOEgEgc1LuEgb8epXbepS7T1GUaIEgObYVQOVoSBXbMnwqaIS7T1RILuIHb8ObYVObJBc1c1JBSBObJBObaIepWi//ObS7ObQOPUVoQOJ6GU//fisJLuLuWiRIjJYVQOXbVoS7LuJ6bC//JBLuNhQOVoUuMnObXbWiS7K0ZPPUS7T1//bCbCUuYVVoT1fiPUVoaIVoObSBS7JBYVb8T1b8//MniPMnLu//SBMnJ6LuNhZPGUS7bC//IHRIaIWiYVWiPUbCbCS7//LuQOSBS7WiObVoMnQOXbS7XbFaRIUuc1Uuk8XbVoPUS7Lu//K0ObEgZPObWib8QOVobCQOQOSBVoPUc1XbRIUuLuXbNhdvK0b8DnFaSBNhXbPUPUUugcaIRIQOLuUuLuFaUu//PUVoEgsJNhT1AAVoNhRI//LujJSBc1PUS7PUIHMnS7J6WiIHiPQOXbS7aIaIS7EgSBPU//bCRIWiLuObepUuQOLubCObYVJ6J6SBXbepjJVoc1QOWiLuMnfiQOT1T1T1PUZPIHUuVoJ6IHaIPUPUHNZPb8sJiPNhc1PUQOMnVoObu2S7UubCYVPUPUXbMnUuUuMnGUYVT1c1QOhViPObObqWRIXbbCJ6QOsJK0b8VoVoiPqWc1HNVoMn//aIb8PUS7c1ZPS7ZPMnkCLu//LuaIWiLuS7LuHNu2MntDFa//dvYVRIfiFa//epWiQOWiNhEgZPepVoSBc1ZPAA//T1SBS7WiLuK0aIsJaIepMnUuJ6YVPUUuSBLuObObiPSBSBbCVoiPS7EgUuJ6c1Bz//IHJ6Luc1b8K0aIUuYVIHMnFaSBK0UubCb8SBbCNhObT1J6WiMnQOK0QOGUT1LuFak8S7JBzXfiZPPUYVbCJBIHMnXbQOIHUuS7S7MnYVNhS7T1iPVoXbUuQOK0c1S7XbEgXbK0JBVoqWiPObS7qWMnIHZPc1c1SBMnT1mvS7VoVo//UuYVJBSBQOObsJS7SBT1ZPRIQOsJ//SBPUSB//RIRIMnbCPU//ObUuObVoaIJBS7NhNhdvDnc1SBJ6PUiPQOaICtXbepXbObNhObNhT1QOS7MnS7SBQOZPT1//JBS7PULuZPYVVoS7QOdvSBJBT1YVK0LuQOLuWiRIRIQOPUPU6kkCVobCaI//T1SBVoZPK0PUc1fiPURILuGUSBQOZPVoS7IHObJ6UujJc1RIqWt9UubCWiObaI//YVPUQObCXbQOdvJBbCSBLu//QO////MnQOVoZPdvLuVoZPIHNhaIqWYVXbVoS7bCepfiXbSBMnYVc1FaMnXbUufiYVVob8XbZP//K0bCSBPUPUPUsJZPc1dvYVSBbCK0YVWiqWQOZPQOaIRIPUPUVofiPUS7c1VogcepZPS7SBRIXbMniPObb8////ZPUuMnZPUuS7JBS7ObK0b8aIdvepS7gcbCUuNhXbMnT1IHbCK0IHRIZPSBbCt9IHRIT1//MnmvaIS7c1T1ZPT1XbZPc1SBHNbCZPVoK0ZPc1HNIHXbSBZPb8EgZPhVJ6AAVoYVS7b8JBbCLuUuaIVoYVZPJ6QOXbJ6QOaIZPT1NhIHIHS7dvObdvPUbCT1MnVoXbK0YVWiaIiPJBJ6kCPUaILuRIZPLu//dvZPUuWiPUZPqWkCepT1MnMnc1XbRINhJBiPMnWiJ6K0iPojjJhVRIIHVobCYVJ6K0epXbS7HN//kCXbMnLuRIObb8IHS7aIaIT1aIVoIHQOdvaIS7SBdv//XbRI//VoYVS7//UuGUVoYVPUS7T1XbVoRIZPRIWiYVt9ZPc1qWT1UuVoVogcVoIHXbojGUgcK0ZPepepbCObZPS7ObS7WiLuT1MnPUWiWiJ6MnqWK0//epXbQORIWiVoObUuLuT1c1ZPdvepJBVodvUuUuT1SBepT1sJaIWiWiS7ZPLuNhaIMnaIJBQOb8ObXbmvPUepXbJ6//ObS7IHRIkCRIRIbCS7J6bCZPQObCT1QOOb//VoiPUusJt9QOaISBMnIHaIRINhbCPUVoepFaSBXbIHS7LuNhSBDnSBT1UuJ6WiRIRIMnMnT1VoXbS7T1WikCK0ZPMn//epWiT1T1c1RIk8UuUuRIUuGUYVObUugcYVSBVoaIc1ZPVoc1K0c1aIiPSBXbNhYVS7K0T1epc1LuObPUOb/+LuK0IHUuVoQO//MnRISBVoK0VoS7MnZPkCRIVozXaISBXbZPPUUuYVS7b8bCiPPUkCiPZPLuT1FaSBZPbCVoSBNhVoAAbCRIWiJ6SBS7LuT1Nhb8aIc1S7ObUuBzS7K0PUfiLuLuSBbCSBfiT1hVbCUuSBPULuaIWibCObEgMnHNWisJSBZPaISBObzXJ6UuS7b8//Voc1fiUudv//NhOb//ZPIHepiPObZP//PUc1NhaIQOIH//b8Obb8hVb8IHWic1SBK0MnZPSBS7PULuVoRIYVPUgcWiJ6LuWiSBJ6UuiPepfiZPpcYVUuRIb8bCsJdvRIhVWiQOT1QOT1gcWiJ6SBRILuJ6S7ObFaiPS7QOIHc1epFaqWS7SBLuLuRIVogciPJ6XbVoqW//IHYVsJT1YVSBhVUuJ6S7J6Obb8T1dvPUVoPUObsJiPhVObqWtDZPjJYVT1b8MnXbPUSBkCT1UuPUkCS7epS7PUaIVoYVMnS7aIObJ6epSBJ6tDT1UuWiPUS7SBPUepgcS7hVGUdvVoNhnpT1c1fiIHc1UusJZPNhRINhgcfi//UuFaObS7ObObb8QOJ6T1S7PUqWPUMnRIRIT1b8S7XbVosJQOfiUubCRIb8c1Uub8RI//UuIHK0K0b8FaVojJT1VodvZPRIWiMnepSBQOc1T1T1J6QOjJgcJ6b8epS7epRIT1JBWiepepT1jJUuqWRIgcZPRIAAdvVoUuPUfiu2NhNhb8QOS7hVS7J6gc//PUNhUuS7fiK0iPiPLuIHS7WiJ6UuVoWifiPUZPc1S7PUc1WiRIJ6T1IHNhfiPUS7pcVodvNhS7ZPObVoVoUuaIaIQOSBZPbCZPaIS7YVWiQOiPT1ObZPGUQOojc1gcQOXbQOVoQOaIZPT1NhT1jJaIbCRIb8Mnb8ZPRIjJdvk8aIbCJBSBNhS7VoUuaIjJgcRIYVdvfijJepsJT1UuYVDnUuVoT1b8gcK0RIc1c1//RIQOXbb8UuEgNhJBgcNhWiMnObIHepRIObsJPUCtObgcCtNhRIojMnc1IHS7fic1dvhVS7T1dvVoQOYVPUHNUufiS7ZPZPdvgcLuSBMnObrQObUuObPUUuZPaIT1J6T1UuMnDnXbUuUuJBRIT1WiNhXbepiPb8MnS77eRIRIVoRIdvXbfiaIPUT1T1epkCT1MnWiRISBb8c1MnFaPUPUPUZPWiepYV//UuWiUugcS7IHObS7epWiXbZPS7sJPUXbQOLuhVb8ObfiZPpciPc1LuUuT1PUJ6QOYVEgWiNhUuT1UuRIJBT1VoT1fiWiNhPUWiojT1IHaIS7NhfiXbT1RIS7UuJ6S7WiQOepUufiepb8SBWiJBgcS7fib8NhT1NhPURIRIepfiWizXfiJ6ojSBUuUupcVoXbS7T1S7NhLuqWbCSBUuObSBVoT1WiWifiNhgcfiS7XbfiT1fiSBWib8J6IHDnWiUuLuaIRIXbojIHNhT1NhSBc1SBNhWiRIT1UuXbT1WisJPUk8T1fiJ6T1gcObNhDnZPb8WiRIYVNhfiT1WiObNhiPbCObXbc1PUWiWifiQOl2epepWiHNVoXbYVZPVofiT1NhT1c1iPT1WiSBXbDnS7YVsJNhfiT1VoVoqWsJQOdvJ6PURIT1aIfiJ6T1XbSBQOJ6fiEgsJZPRIT1Nh//epepUuaIXbK0dvaI//fiPUXbNhYVaI//T1EgEgS7LuQOJBLuXbdvpcSBsJrQS7qWEgSBaIJBtDUuzXQOiP//NhWisJDnObXbGUaIK0epc1SBIHMnIHObrQUuOb//S7K0ObaINhVo//JBXbLuaIPUT1iPJB//iPObUuWiPUfiQOdvgctDaIObT1SBS7UuSBSBEgNhdvjJ////SBVofiqWfiObHNepWiGUfiCtRIfiWib8pcS7MnWiIHPUEgIHMnWiRIPUJ6UuXbVoUuRIJ6fiT1gcfiPUObaIVoS7VoZPiPdvc1XbWiObS7pcWiSBPUObsJYVl2RIRIS7aIJ6T1WiSBQOQOb8K0VoPUWirQUuT1YVfic1UuSBObdvPUNhS7aIT1sJObhVWifijJdvUuSBS7VoObT1IHT1UuSBb8YVfitDMnepPUbCUuPUVoWikCUub8jJZPFaUuYVJBUukCT1T1UuaIRIVoNhNhPU//c1bCVob8JBiPVobCRISBSBWiRIS7ZPObsJUuT1S7HNUuaIWi//XbhVjJMn//QOc1S7VoT1jJpcMnObIHRIk8YVb8SBVoGUojSBbCHNc1fiUub8K0QONhObEgS7sJfiUuS7ObVol2YVUujJT1dvtDS7XbUuK0T1T1QOMnYVl2k8T1aI//T1gcK0T1QOObUuUuJBpcjJJBVo//SBWiYVK0b8QOIHSBS7aIfiSBJBUuT1UufiYVVoWiT1T1T1S7jJVoYVLuWitDS7ZPfiUuJBVofiT1T1QOepSBiPS7fifiQOJBRIaI4xLuNhObSBQORIXbPUSBHNS7T1S7UuDnS7c1T1ZPkCqWaIepSBsJZPS7YVfibCsJ//S7K0pcJ6VoPUfiVodvWiS7GUT1T1S7gcPUc1UuPUS7epS7ObYVS7VoMnRIUuaINhObUufiIHEgrQT1VofiObZPVoSBYVJBkCK0DnfiNhbCUuObsJObc1T1WiS7l2b8SBJBNhgcT1aIb8dvbCb8UuJ6VoepUuk8XbS7Dnc1aINhS7Uub8npObS7dvPUObYVObZPIHUuNhUuPURINhJBObSBb8RIZPHNUusJHNUuYVRIZPObYVMnT1T1RIZPMnUuWifiWigcObLuNhT1iPObT1WiepZPSBQOiPiPObK0K0RIUuT1XbNhZPCtA6hVQODnRIRIMnT1RIPUT1aIVoXbEgYVRIPUZPS7NhsJYVc1J6J6IHaIS7WiNhVoZPWiiPVoJ6QOEgVoWic1fiRIPUXbRIpcQONhepObEgMnWiLuT1ZPdvk8J6bCiPpcdvWiUuRIDniPVoT1T1//k8UuSBJBVoJ6SBPUYVQOUuWiWihVIHVoObfiHNQOT1PU//k8NhjJaIjJVoObQOiPdvS7jJIHVoSBNhK0//UuaIPUVoObS7K0K0VoDnT1T1IHQOPUT1epRISBHNQOaIS7iPXbiPRIQOS7T1aIQOUuSBK0T1QOQOT1T1DndvS7//fiVob8EgT1ZPWiK0YVQOJ6c1IHQOT1T1sJT1ZPaIObJBSBhVSBS7GUS7DnkCb8SBMnS7HNObXbT1VodvEgS7Ob//JBMnSBQOPUWiQOUuWiFaObbCHNbCIHmvS7//npXbYVUupcS7b8FaUuDnaIT1S7K0RIQOGUtDQOEgkCS7QOS7YVWi//S7S7jJRIbCK0UuT1S7iPiPaIc1hVT1YVNhS7QORIT1RIWigcbCObgcdvNhdvLuXbJBsJgcT1YV//aIHNXbVoWiS7epEgWibCObfiHNUuJ6ZPPUEgT1bCSBT1PUS7RIObepiPMnNhLuJ6Nhb8fiJ6K0iPiPNhQOdvObSBfiT1T1YVNhb8S7SBHNNhQOS7S7QO29UuXbUuXbc1YVNhWidvXbZPWiUuSBNhc1Vok8sJYVZPfiaIQOWiSBS7HNHNS7S7b8WijJMnWiIHSBK0rQdvQOkCRIHNSBJ6S7MniPPURINhK0VoVosJFaGUnpS7Nhepk8t9SBK0dv//aIVoSBb8T1S7MnIHfiMnpcpcLukCJ6NhWiUuepNhFaDnFaQOSBiPT1QOWi//K0S7K0T1S7FajJkCS7T1c1T1S7XbiPNhNhYVNhdvpcT1QOjJSBUuJBQOS7b8HNRIiPhVVoIHepXbNhXbtDMnRIHNNhQOS7c1T1c1K0T1XbDnkCkCK0PU//FaXbmvT1WiObDnObUuSBMnMnObS7NhZPk8RIRIdvSBepObk8XbHNHNQOT1J6J6S7T1b8VoDnaIdvfiRINhObQOjJb8ObSBk8HNaIZPVoRIObnpJ6SBgcaIRIPUYVJ6WijJc1QOK0QONhPUZPSBb8//QOWi//kCWihVObgcS7WiQOJBVoNhJBDnS7pcYVSBRIb8//T1S7iPK0A6RIS7RIQOJ6aI//J6ObObK0fiVoS729YVUuObb8//MnPUYVSBSBfiAAgcmvYVWiNhK0fiIHQOPUaIJ6VoUuK0Nh//AAIHPUWiJ6WiRIS7epT1T1WiHNepPU//PUObLuMnepPUhVtD//NhK0QOT1RIhVjJEgDnbCPUu2b8SBUuSBQO33WiQOSBGUbCAAUuYVSBWiYVS7VoWib8UuDndvqWS7HNRIT1DnhVObObk8iPS7//aISBYVT1T1//T1XbObZPT1fiepPUfiZPQOaIRIVohVaIb8QOQOHNT1fiWi//UuUupcMnS7bCXb29LuaIZPiPS7eptDjJl2YVPURIPUVoSB//b8J6c1T1aISBS7QOfiJBWimvS7kCWiIHaIPUaINhfiLuaIQOQOJ6epYVObJBT1b8J6J6S7S7kCb8LuObLub8PUPURIT1YVl2SBK0mvYVT1SBaIYVK0aIHNc1Luepb8YVIHEgUuQOaI//jJiP//RIQOYVSBQOJ6b8ObYVMngcQOJBT1XbfiepObqWMnfiLuaIAAb8JBT1WikC//J6epRImvk8mvfiS7npJ6LuS7YVSBObYVXbAAQOS7fiS7mvUuRIaIIHDnc1J6NhYVb8VoPUS7WirQT1T1ZPT1VoObdvIHLuT1LuRI//jJS7ObZPepiPQOQOObUuNhgcZPMnHNRIRIUufiJ6fiZPkCObc1c1ZPRIVoRIrQrQUuVoWiVoaIUuRImvHNaIPUAASBS7iPJ6ZPT1b8IHA6gcQOJ6Xbb8Ludvk8GUb8PUVoRIT1RIRIQOkCRIA6aIYVkCc1AAk8S7NhS7ObUuHNS7RIk8c1J6Vob8LuJ6T1T1T1J6ZPUuaIGUS7SBb8qWQOJ6RIS7SBGURINhUuWiRIVoObObQOVoSB//UuUuepPUQOSBJBfiLuQOc1QOQOc1S7QOQOPUjJaIZPWiObZPmvObT1QOJ6WiLuiPaIS7//LuT1DnWic1SBQOUuIHLuNhVoiPZPaIPUObVoSBQOkCYVmvRIHNQOkCRILuLuObZPSBgcObQOA6RIMnXbmvVoVoSBojVoaIUu//ObMnT1JBVoMnT1fiRIQOQOVol2NhUuLuJ6ZPUujJLuA6ZPpcc1UuObfiRIPULuPUEgLuObaILuIHb8PUS7VoUuYVUuObAAUuT1gcaIRIJ6dvNhc1RIA6aIaIVoJ6A6SBfiUuNhLuHNfifibCObSBfiZPnpZPc1bCUugcmvObt9QOUuQOQOUuRISBS7//SBHNA6SBaIWiJ6SBXbLuLut9VoPUHNaIQONht9SBb8fiPUMnWiObT1bCmvVoT1aISBrQSBS7QOQOPUSBGULuPUVoVoVoc1IHdvepHNUuQOc1T1ZPS7jJNhjJRIQOObepbCgcbCaINhFaVoVosJUuhVT1PUAAPUfiLut9VoLumvT1UupcS7LuQOQOA6ObPUPUUuT1iPUuWiJ6VoNhSBc1dvSBQObCS7Wib8QOfiPUIHYVPUZPdvNhVodv//QONhUuPUIHZPaIPUNhWiCtVoUuSBmvgcT1sJbCgcLub8S7PUSBbCSBZPXbJ6ObSBNhb8ZPIHaIJ6NhZPPULuPUfiYVYVNhZP//sJLuS7QOLuJBZPNhnp//jJUuc1aIS7NhNhaIaIZPaIYVNhhVmvaIT1Wi//GUS7CtPUjJb8PUdv//jJVoPUYVPUObRIPUS7ZPc1MnLuVomvaIUuYVdvhVHNWiWiZPWiSBMnQOHNYVS7c1PUmvaIWiZPQOfiMnnpXbNhc1PUPUepJ6aISBb8PUb8Mnb8J6WiWib8SBUuUuaIQOb8c1K0PURIRIQOJ6jJMnVoHNHNRIbCAARIJ6QOGUb8VoRIc1ZPZPbCZPdvZPHNLuRIRINhc1XbdvPUsJNh//AAVoK0QOSBSBVojJLuS7RIAAQOObQOHNLuJ6S7MnJ6HNjJYVLuLuWiZPQOYVZPkCAAXbbCb8Wib8J6AAQO//QOkCRIb8HNQOVoZPb8QOdvWiiPc1MnYVAARIaIHNZPJ6bCAARIQOsJNhAA//bCT1b8Wib8k8LuQOMnUuQOJ6J6bCWiJ6QOAAb8NhWibCWikCWijJjJb8WiObObObb8ObjJb8Obb8ObjJ"];
var BAD="1111111111111111111111101111101011111100100011000100111110100110011001100001011010111111101110100100000000100000100101001110011010001001011100000001111100010100011100000010100011110110000000100000100010110111001010010001000011101010000000000011011100001101010011010000010101111111110010010011010100000101001110100001101000001100001100001001000010110101101001110000001101000000010000100100100010000000100000101100000100001010000100000001110000100100100100010001011000000100000000000100011100100111000000010001000000101000000001111110110001001101000111000000000000010000000100001000000000001100110000010101000010000000100000010001000100000001000100001000000000010011011100010100010100100100000000000000010011100000011000001000000010000010000010000101000010000000000100100100001000011110000001010000000000011111001000000010000000100100000000000100000000100110001000100001000100100011100000010100100100100010000000001001000000000001000001001100000000111110011001000000001010000100000000001001000010010100000100010000010000000110011010111000110110010000000000000000000000100000000000001100101101001000010000010000000001000001001000110100010000000101000000100010100000010000000000010000000000001010000100011100000011000100000100000000000100010000000000000100000101001110100010000000000000101100011000000111110010000000000000001010000000000100100010000000000010100100000000000001010100110011010001110000000100000100110000000000100000100000001000000010000000010000001110100000000010000000000010000000000000001000000001001000010001110000000001000110000000000100000100000101000100000011000000000000101000000111000001000000010000001100000000000000000000110010000000000001101001000000100000000000000000100000010000000010001000000000000000011101000000100000000000000011110000000100000000000000000010000111100000000100010000010011000000000000000000000000000001100101000000001000000000000001000000000000000110000010000000000000000110000000001000000001000001010000100000000100001000000000100000010000000000000000000100001001100000011000010000011001001010100000000001000000000000001100010101001000000000000000000000010000100000000000000000000000000000110001001000000011010000000000010000000000000000000000000000011000001010000000000000000000000001100011010101010100001000000010000010010010100000000000010000000010001000000000000000001000000000000000000001000000100010001000001000000000000001100001000000000000000000001001010000110001000000000000000000101010000110000000101000001000101100000000000000110000000000000010010000000000100000000000000000000010000001000000000110000000000000000000010001000000100010000100000100000000000000000000001100000000000100000000100001000001000110000101000000000000000001000100000001000000000100000010010000010000010000000000100001010000000100010010100000010000000000000000000000000010111000000010000001100000000001000010000000000010010000000001000000000010000000000000000000000100000000000001000001000100001000000100000000000000100100000000000100000000011100100100000100010001000011000000001100000000000010010000000000000000000010000000000000010000000000000000000010000010000000000100000011001100010110010000000000000100000000100100000010000000000000000100000000110000000000000110010000000000000010100001101100000000000001101000000000000000011000000000100000010101010001000001101000010000000000010000000100001000000000101000000000000010000010000100110000000000000000000000000000000000001001000000000100000001000000010000000000000000000101010000000000000010000010000001000011000000001000001000100001001000001100000100000000000100000001000000000000000100000010000000000000001000000010000100001000100000000000000000100001001100000000000001000101010000000100001010000110000000001000100000000000100000000000000000000000000000000000000000000001000000100001010000100000000000000100100000001000000000000000000000100000001000000000000000010010000001000000000000100000000011001000010010000100010000000000110000000000000011000000011000010001100000000000000100000111001000000000000000001101011000000100000000000100000011000000010000010000000000000000100010000000010000000101001000101000000100000000100000000000000100000000101000000000000011100000010001011000010000000101000010010001100000000000000000000000000000010100000000010010000100000000000000000000100000100000000000000101000001000000001010000000000010000110000000000000000100000000000000000000000000000000100000000100001010100110001110001100001000010000010010100000000001000000000000010000000100001000010000100000000100100000001100100101010000000000000000001110000010000100000000000001001010011000001001000000100000000000010001011100000000000100000000000000001000001000000001110000010000101101011000000001000000000000000000101010010000000001000000010000001000000100000000010000011000000001110100000010000100000000000000010001000100000100000000000000000010000000000010000110100100000000000011111110000000001110000101011000001000001010100000100000010000000010010001001000100000000111000000010100010000001000001010100010000100000010001011001100000011100000011000000000010000000010000110100010100001000100001100010100100001000000100000100000000000000100000001010100001010000000000000100000010000001100000000100100000001000000000000001010000000000000010100000010110000111010000000000000000000000000000100000010101000011000100000000001000000000100000000001100101000010110000000011010000001000100110100100100100010000110110010000000011000011001011000010001010011100000110100000000100101000001000000110000000100000010001100001000011101111011000010101000000100100010010100000000001011000000001000001000011101000000001110000001000000100011000010110101000000001010011100100001000010000011101000001010011000001000100011100011000010001100000000010001000100011010010000000000000001001000010010001011111000000010010010011000001111000110000011001101100010111110101011001110001110000000000000000000000";
var MAPS=[[55.53, 0.015351, 127.0875, -0.020531], [151.239282, 0.015557, 225.619765, -0.020548], [246.3128, 0.015865, 324.203, -0.020633], [344.3, 0.015266, 422.2, -0.020616], [442.2, 0.014591, 520.3, -0.020638]];
var PANELS=[[45.4, 39.3, 80.8, 92.8], [142.0, 39.3, 80.8, 92.8], [238.6, 39.3, 80.8, 92.8], [335.19999999999993, 39.3, 80.8, 92.8], [431.79999999999995, 39.3, 80.8, 92.8], [45.4, 137.39999999999998, 80.8, 92.8], [142.0, 137.39999999999998, 80.8, 92.8], [238.6, 137.39999999999998, 80.8, 92.8], [335.19999999999993, 137.39999999999998, 80.8, 92.8], [431.79999999999995, 137.39999999999998, 80.8, 92.8], [45.4, 235.5, 80.8, 92.8], [142.0, 235.5, 80.8, 92.8], [238.6, 235.5, 80.8, 92.8], [335.19999999999993, 235.5, 80.8, 92.8], [431.79999999999995, 235.5, 80.8, 92.8], [45.4, 333.59999999999997, 80.8, 92.8], [142.0, 333.59999999999997, 80.8, 92.8], [238.6, 333.59999999999997, 80.8, 92.8], [335.19999999999993, 333.59999999999997, 80.8, 92.8], [431.79999999999995, 333.59999999999997, 80.8, 92.8], [45.4, 431.7, 80.8, 92.8], [142.0, 431.7, 80.8, 92.8], [238.6, 431.7, 80.8, 92.8], [335.19999999999993, 431.7, 80.8, 92.8], [431.79999999999995, 431.7, 80.8, 92.8]];
var F=0.545, W=1012, H=1014;
var A='ABCDEFGHIJKLMNOPQRSTUVWXYZabcdefghijklmnopqrstuvwxyz0123456789+/';
var LUT={};for(var i=0;i<64;i++)LUT[A.charAt(i)]=i;
var N=BAD.length, Q=[];
for(var v=0;v<5;v++){var s=ENC[v],q=new Int16Array(N);for(var k=0;k<N;k++)q[k]=(LUT[s.charAt(2*k)]<<6)|LUT[s.charAt(2*k+1)];Q.push(q);}
var R=new Float32Array(W*H).fill(255),G=new Float32Array(W*H).fill(255),B=new Float32Array(W*H).fill(255);
// marker stamp: circle r=3 (fill), stroke lw .48 white, supersampled coverage
var RAD=3.45,LW=0.85,SS=10,HS=4,SZ=2*HS+1,AF=new Float32Array(SZ*SZ),AS=new Float32Array(SZ*SZ);
for(var yy=0;yy<SZ;yy++)for(var xx=0;xx<SZ;xx++){var cf=0,cs=0;
 for(var sy=0;sy<SS;sy++)for(var sx=0;sx<SS;sx++){var dx=xx-HS+(sx+0.5)/SS-0.5,dy=yy-HS+(sy+0.5)/SS-0.5,d=Math.sqrt(dx*dx+dy*dy);
  if(d<=RAD)cf++; if(Math.abs(d-RAD)<=LW/2)cs++;}
 AF[yy*SZ+xx]=cf/(SS*SS);AS[yy*SZ+xx]=cs/(SS*SS);}
var COL=[[31,119,180],[255,127,14]];
for(var j=0;j<5;j++)for(var i=0;i<5;i++){ if(i==j)continue;
 var P=PANELS[j*5+i],x0=Math.floor(P[0]/F),y0=Math.floor(P[1]/F),x1=Math.ceil((P[0]+P[2])/F),y1=Math.ceil((P[1]+P[3])/F);
 var qx=Q[i],qy=Q[j],mx=MAPS[i],my=MAPS[j];
 for(var k=0;k<N;k++){var a=qx[k],b=qy[k]; if(a==4095||b==4095)continue;
  var px=(mx[0]+mx[1]*a)/F, py=(my[2]+my[3]*b)/F, cx=Math.floor(px), cy=Math.floor(py);
  var c=COL[BAD.charCodeAt(k)-48], cr=c[0],cg=c[1],cb=c[2];
  for(var yy=0;yy<SZ;yy++){var Y=cy+yy-HS; if(Y<y0||Y>=y1)continue;
   for(var xx=0;xx<SZ;xx++){var X=cx+xx-HS; if(X<x0||X>=x1)continue;
    var t=yy*SZ+xx,af=AF[t],as=AS[t]; if(af==0&&as==0)continue; var o=Y*W+X;
    R[o]+= (cr-R[o])*af; G[o]+=(cg-G[o])*af; B[o]+=(cb-B[o])*af;
    R[o]+= (255-R[o])*as; G[o]+=(255-G[o])*as; B[o]+=(255-B[o])*as;}}
 }}
// resample to page
var cv=document.getElementById('cv'),ctx=cv.getContext('2d'),img=ctx.createImageData(549,550),D=img.data;
for(var t=0;t<D.length;t++)D[t]=255;
function wts(p,s,o){ // page pixel p -> list of [src, weight] in orig coords
 var a=((p-o)/s)/F, b=((p+1-o)/s)/F, r=[], tot=b-a;
 for(var q=Math.floor(a);q<b;q++){var w=Math.min(b,q+1)-Math.max(a,q); if(w>0)r.push(q,w/tot);} return r;}
function region(ya,yb,s,ox,oy){
 var WX=[];for(var X=0;X<549;X++)WX.push(wts(X,s,ox));
 for(var Y=ya;Y<yb;Y++){var wy=wts(Y,s,oy);
  for(var X=0;X<549;X++){var wx=WX[X],r=0,g=0,bb=0;
   for(var u=0;u<wy.length;u+=2){var sy=wy[u],vy=wy[u+1]; if(sy<0||sy>=H){r+=255*vy*1;g+=255*vy;bb+=255*vy;continue;}
    for(var v=0;v<wx.length;v+=2){var sx=wx[v],w=vy*wx[v+1]; if(sx<0||sx>=W){r+=255*w;g+=255*w;bb+=255*w;continue;}
     var o=sy*W+sx; r+=R[o]*w; g+=G[o]*w; bb+=B[o]*w;}}
   var o4=(Y*549+X)*4; D[o4]=r; D[o4+1]=g; D[o4+2]=bb; D[o4+3]=255;}}}
region(0,216,1.067,-3.74,-34.33);
region(232,550,1,0,0);
ctx.putImageData(img,0,0);
})();
</script>
</body></html>
